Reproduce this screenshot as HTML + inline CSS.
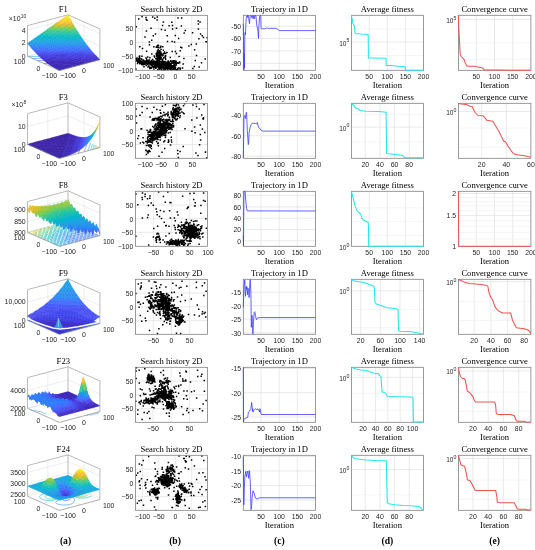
<!DOCTYPE html>
<html><head><meta charset="utf-8"><title>Figure</title>
<style>
html,body{margin:0;padding:0;background:#fff;}
body{width:535px;height:550px;overflow:hidden;}
svg{display:block;}
.S{font-family:'Liberation Sans',Arial,sans-serif;}
.R{font-family:'Liberation Serif','Times New Roman',serif;}
</style></head><body>
<svg width="535" height="550" viewBox="0 0 535 550" text-anchor="middle"><path d="M59.4 70.4L27.5 56.3M59.4 70.4L99.9 59.6M79.7 65L47.8 50.9M43.4 63.4L84 52.6M99.9 59.6L68 45.5M27.5 56.3L68 45.5M47.8 50.9L47.8 20.2M84 52.6L84 21.9M27.5 56.3L68 45.5L99.9 59.6M27.5 42.6L68 31.8L99.9 45.9M27.5 30.1L68 19.3L99.9 33.4" stroke="#e1e1e1" stroke-width="0.6" fill="none"/><path d="M27.5 56.3L27.5 25.6L68 14.8L99.9 28.9M68 45.5L68 14.8M99.9 59.6L99.9 28.9" stroke="#8a8a8a" stroke-width="0.6" fill="none"/><path d="M43.8 63.5L44.8 63.5L45.8 63.5L46.7 63.4L47.6 63.4L48.4 63.3L49.3 63.3L50.3 63.3L51.2 63.2L52.2 63.1L53.1 63.1L54.1 63L55 62.9L55.9 62.9L56.8 62.8L57.8 62.7L58.9 62.6L60 62.5L60.9 62.4L61.8 62.4L62.6 62.3L63.5 62.2L64.6 62L65.6 61.9L66.5 61.8L67.3 61.7L68.5 61.6L69.4 61.4L70.3 61.3L71.3 61.2L72.3 61L73.2 60.9L74.4 60.8L75.2 60.6L76 60.5L77.2 60.3L78 60.2L79.2 60L79.9 59.9L81.1 59.7L81.9 59.5L83.1 59.3L83.8 59.2L85 59L85.8 58.9L86.9 58.6L88 58.5L88.8 58.3L90 58.1L90.7 57.9L91.8 57.7L93 57.5L93.7 57.3L94.5 57.2" stroke="#4743e7" stroke-width="0.6" fill="none"/><path d="M37.4 60.7L38.8 60.6L39.9 60.6L41.2 60.6L42.4 60.5L43.7 60.5L44.9 60.4L46.3 60.3L47.3 60.3L48.8 60.2L49.9 60.1L51.1 60.1L52.5 60L53.7 59.9L54.9 59.8L56.2 59.7L57.6 59.6L58.8 59.5L59.8 59.4L61.2 59.2L62.5 59.1L63.8 59L65.1 58.8L66.4 58.7L67.7 58.5L69 58.4L70.3 58.2L71.5 58.1L72.8 57.9L74.1 57.7L75.3 57.6L76.5 57.4L77.8 57.2L79.2 57L80.6 56.8L81.8 56.6L83 56.4L84.2 56.3L85.8 56L87 55.8L88.2 55.6L89.6 55.4L90.1 55.3" stroke="#4367fd" stroke-width="0.6" fill="none"/><path d="M32.4 58.5L33.5 58.5L35 58.4L36 58.4L37.5 58.3L38.5 58.3L39.9 58.3L41 58.2L42.5 58.1L43.5 58.1L44.9 58L46 58L47.3 57.9L48.7 57.8L49.7 57.7L51.1 57.6L52.5 57.5L53.5 57.5L54.8 57.4L56.2 57.3L57.5 57.1L58.6 57.1L59.8 56.9L61.1 56.8L62.5 56.7L63.8 56.6L65.1 56.4L66.4 56.3L67.6 56.1L68.9 56L70.1 55.9L71.4 55.7L72.7 55.6L74 55.4L75.4 55.2L76.6 55L77.9 54.9L79.1 54.7L80.3 54.5L81.6 54.4L82.8 54.2L84.2 54L85.6 53.8L86.4 53.7" stroke="#2d8cf3" stroke-width="0.6" fill="none"/><path d="M28.3 56.6L29.3 56.6L30.6 56.6L31.9 56.6L33 56.5L34.4 56.5L35.4 56.5L36.9 56.4L37.9 56.4L39.4 56.3L40.4 56.3L41.9 56.2L43 56.1L44.3 56.1L45.7 56L46.7 55.9L48.1 55.8L49.4 55.7L50.4 55.7L51.8 55.6L53.2 55.5L54.2 55.4L55.5 55.3L56.9 55.2L58.2 55.1L59.4 55L60.5 54.9L61.8 54.7L63.2 54.6L64.5 54.5L65.8 54.3L67.1 54.2L68.4 54.1L69.7 53.9L70.9 53.8L72.2 53.6L73.4 53.5L74.7 53.3L76.1 53.1L77.3 53L78.6 52.8L79.9 52.7L81.1 52.5L82.3 52.3L83.2 52.2" stroke="#1caadf" stroke-width="0.6" fill="none"/><g stroke-width="0.4" stroke-linejoin="round"><path fill="#1bc0b4" stroke="#1bc0b4" d="M78.2 37l2.2-1.1-1.8-2.8-2.2 1.3z"/><path fill="#28c3ab" stroke="#28c3ab" d="M74.1 35.6l2.3-1.2-1.8-2.8-2.2 1.3z"/><path fill="#31c5a1" stroke="#31c5a1" d="M76.4 34.4l2.2-1.3-1.7-2.8-2.3 1.3zM70.1 34.2l2.3-1.3-1.8-2.8-2.3 1.3zM63.8 34.1l2.3-1.3-1.8-2.8-2.2 1.4z"/><path fill="#45cb89" stroke="#45cb89" d="M72.4 32.9l2.2-1.3-1.8-2.8-2.2 1.3zM66.1 32.8l2.2-1.4-1.7-2.8-2.3 1.4zM59.8 32.8l2.3-1.4-1.8-2.8-2.3 1.5z"/><path fill="#55cc7b" stroke="#55cc7b" d="M74.6 31.6l2.3-1.3-1.8-2.9-2.3 1.4zM49.5 31.8l2.3-1.5-1.8-2.8-2.2 1.6z"/><path fill="#67cd6d" stroke="#67cd6d" d="M68.3 31.4l2.3-1.3-1.8-2.9-2.2 1.4zM62.1 31.4l2.2-1.4-1.8-2.8-2.2 1.4zM55.8 31.6l2.2-1.5-1.7-2.8-2.3 1.5z"/><path fill="#7acc5e" stroke="#7acc5e" d="M70.6 30.1l2.2-1.3-1.7-3-2.3 1.4zM64.3 30l2.3-1.4-1.8-2.9-2.3 1.5zM58 30.1l2.3-1.5-1.8-2.9-2.2 1.6zM51.8 30.3l2.2-1.5-1.8-2.9-2.2 1.6z"/><path fill="#a1c840" stroke="#a1c840" d="M72.8 28.8l2.3-1.4-1.8-3-2.2 1.4zM66.6 28.6l2.2-1.4-1.8-3-2.2 1.5zM60.3 28.6l2.2-1.4-1.7-3-2.3 1.5zM54 28.8l2.3-1.5-1.8-3-2.3 1.6z"/><path fill="#d4bf28" stroke="#d4bf28" d="M68.8 27.2l2.3-1.4-1.8-3-2.3 1.4zM62.5 27.2l2.3-1.5-1.8-3-2.2 1.5zM56.3 27.3l2.2-1.6-1.7-3-2.3 1.6z"/><path fill="#efba35" stroke="#efba35" d="M71.1 25.8l2.2-1.4-1.8-3.1-2.2 1.5zM64.8 25.7l2.2-1.5-1.7-3.1-2.3 1.6zM58.5 25.7l2.3-1.5-1.8-3-2.2 1.5z"/><path fill="#fec13a" stroke="#fec13a" d="M67 24.2l2.3-1.4-1.8-3.2-2.2 1.5z"/><path fill="#fec934" stroke="#fec934" d="M60.8 24.2l2.2-1.5-1.8-3.1-2.2 1.6z"/><path fill="#fbd12f" stroke="#fbd12f" d="M69.3 22.8l2.2-1.5-1.7-3.2-2.3 1.5zM63 22.7l2.3-1.6-1.8-3.1-2.3 1.6z"/><path fill="#f8da2b" stroke="#f8da2b" d="M65.3 21.1l2.2-1.5-1.7-3.2-2.3 1.6z"/><path fill="#f5eb23" stroke="#f5eb23" d="M67.5 19.6l2.3-1.5-1.8-3.3-2.2 1.6z"/><path fill="#249fe5" stroke="#249fe5" d="M83.5 44.5l2.2-1-1.7-2.5-2.3 1.1z"/><path fill="#1fa5e2" stroke="#1fa5e2" d="M79.4 43.2l2.3-1.1-1.8-2.5-2.2 1.1z"/><path fill="#1aabdd" stroke="#1aabdd" d="M81.7 42.1l2.3-1.1-1.8-2.5-2.3 1.1zM75.4 41.8l2.3-1.1-1.8-2.5-2.2 1.2zM69.2 41.7l2.2-1.1-1.8-2.5-2.2 1.2z"/><path fill="#13b0d7" stroke="#13b0d7" d="M77.7 40.7l2.2-1.1-1.7-2.6-2.3 1.2z"/><path fill="#07b5cf" stroke="#07b5cf" d="M79.9 39.6l2.3-1.1-1.8-2.6-2.2 1.1zM71.4 40.6l2.3-1.2-1.8-2.6-2.3 1.3zM65.1 40.5l2.3-1.2-1.8-2.5-2.2 1.2z"/><path fill="#01b9c7" stroke="#01b9c7" d="M73.7 39.4l2.2-1.2-1.8-2.6-2.2 1.2zM67.4 39.3l2.2-1.2-1.7-2.6-2.3 1.3zM61.1 39.3l2.3-1.3-1.8-2.5-2.3 1.3zM50.8 38.5l2.3-1.5-1.8-2.5-2.3 1.5zM54.8 39.5l2.3-1.3-1.8-2.6-2.2 1.4z"/><path fill="#09bdbe" stroke="#09bdbe" d="M75.9 38.2l2.3-1.2-1.8-2.6-2.3 1.2zM69.6 38.1l2.3-1.3-1.8-2.6-2.2 1.3zM63.4 38l2.2-1.2-1.8-2.7-2.2 1.4zM57.1 38.2l2.2-1.4-1.7-2.6-2.3 1.4zM46.8 37.4l2.2-1.4-1.7-2.6-2.3 1.5z"/><path fill="#1bc0b4" stroke="#1bc0b4" d="M71.9 36.8l2.2-1.2-1.7-2.7-2.3 1.3zM65.6 36.8l2.3-1.3-1.8-2.7-2.3 1.3zM59.3 36.8l2.3-1.3-1.8-2.7-2.2 1.4zM53.1 37l2.2-1.4-1.8-2.6-2.2 1.5zM42.8 36.4l2.2-1.5-1.8-2.6-2.2 1.6z"/><path fill="#28c3ab" stroke="#28c3ab" d="M67.9 35.5l2.2-1.3-1.8-2.8-2.2 1.4zM61.6 35.5l2.2-1.4-1.7-2.7-2.3 1.4zM55.3 35.6l2.3-1.4-1.8-2.6-2.3 1.4zM49 36l2.3-1.5-1.8-2.7-2.2 1.6z"/><path fill="#31c5a1" stroke="#31c5a1" d="M57.6 34.2l2.2-1.4-1.8-2.7-2.2 1.5zM51.3 34.5l2.2-1.5-1.7-2.7-2.3 1.5zM45 34.9l2.3-1.5-1.8-2.7-2.3 1.6z"/><path fill="#39c895" stroke="#39c895" d="M47.3 33.4l2.2-1.6-1.7-2.7-2.3 1.6z"/><path fill="#45cb89" stroke="#45cb89" d="M53.5 33l2.3-1.4-1.8-2.8-2.2 1.5z"/><path fill="#2e84f9" stroke="#2e84f9" d="M87 49l2.3-.9-1.8-2.3-2.3 1z"/><path fill="#2d8bf4" stroke="#2d8bf4" d="M83 47.7l2.2-.9-1.7-2.3-2.3 1zM76.7 47.5l2.3-1-1.8-2.3-2.2 1.1z"/><path fill="#2b92ee" stroke="#2b92ee" d="M85.2 46.8l2.3-1-1.8-2.3-2.2 1zM79 46.5l2.2-1-1.8-2.3-2.2 1zM72.7 46.3l2.3-1-1.8-2.3-2.3 1.1z"/><path fill="#2699e9" stroke="#2699e9" d="M81.2 45.5l2.3-1-1.8-2.4-2.3 1.1zM75 45.3l2.2-1.1-1.8-2.4-2.2 1.2zM68.7 45.2l2.2-1.1-1.7-2.4-2.3 1.2zM62.4 45.2l2.3-1.1-1.8-2.4-2.3 1.3z"/><path fill="#249fe5" stroke="#249fe5" d="M77.2 44.2l2.2-1-1.7-2.5-2.3 1.1zM70.9 44.1l2.3-1.1-1.8-2.4-2.2 1.1zM64.7 44.1l2.2-1.2-1.8-2.4-2.2 1.2zM58.4 44.2l2.2-1.2-1.7-2.4-2.3 1.3z"/><path fill="#1fa5e2" stroke="#1fa5e2" d="M73.2 43l2.2-1.2-1.7-2.4-2.3 1.2zM66.9 42.9l2.3-1.2-1.8-2.4-2.3 1.2zM60.6 43l2.3-1.3-1.8-2.4-2.2 1.3zM54.4 43.2l2.2-1.3-1.8-2.4-2.2 1.4zM48.1 43.6l2.2-1.4-1.7-2.3-2.3 1.4z"/><path fill="#1aabdd" stroke="#1aabdd" d="M62.9 41.7l2.2-1.2-1.7-2.5-2.3 1.3zM56.6 41.9l2.3-1.3-1.8-2.4-2.3 1.3zM50.3 42.2l2.3-1.3-1.8-2.4-2.2 1.4zM40 41.8l2.3-1.5-1.8-2.4-2.2 1.6zM44.1 42.7l2.2-1.4-1.8-2.4-2.2 1.4z"/><path fill="#13b0d7" stroke="#13b0d7" d="M58.9 40.6l2.2-1.3-1.8-2.5-2.2 1.4zM52.6 40.9l2.2-1.4-1.7-2.5-2.3 1.5zM46.3 41.3l2.3-1.4-1.8-2.5-2.3 1.5zM36 41l2.3-1.5-1.8-2.5-2.3 1.6z"/><path fill="#07b5cf" stroke="#07b5cf" d="M48.6 39.9l2.2-1.4-1.8-2.5-2.2 1.4zM42.3 40.3l2.2-1.4-1.7-2.5-2.3 1.5z"/><path fill="#01b9c7" stroke="#01b9c7" d="M44.5 38.9l2.3-1.5-1.8-2.5-2.2 1.5zM38.3 39.5l2.2-1.6-1.7-2.4-2.3 1.5z"/><path fill="#09bdbe" stroke="#09bdbe" d="M40.5 37.9l2.3-1.5-1.8-2.5-2.2 1.6z"/><path fill="#475cfa" stroke="#475cfa" d="M90.6 53.1l2.2-.8-1.8-2.1-2.2.9z"/><path fill="#4564fd" stroke="#4564fd" d="M86.5 51.9l2.3-.8-1.8-2.1-2.2.9z"/><path fill="#416cfe" stroke="#416cfe" d="M88.8 51.1l2.2-.9-1.7-2.1-2.3.9zM80.3 51.7l2.2-.9-1.8-2.1-2.2.9z"/><path fill="#3a74fe" stroke="#3a74fe" d="M82.5 50.8l2.3-.9-1.8-2.2-2.3 1zM76.2 50.6l2.3-1-1.8-2.1-2.2 1z"/><path fill="#327cfc" stroke="#327cfc" d="M84.8 49.9l2.2-.9-1.8-2.2-2.2.9zM78.5 49.6l2.2-.9-1.7-2.2-2.3 1zM72.2 49.5l2.3-1-1.8-2.2-2.3 1.1z"/><path fill="#2e84f9" stroke="#2e84f9" d="M80.7 48.7l2.3-1-1.8-2.2-2.2 1zM74.5 48.5l2.2-1-1.7-2.2-2.3 1zM68.2 48.5l2.2-1.1-1.7-2.2-2.3 1.1zM61.9 48.5l2.3-1.1-1.8-2.2-2.2 1.2z"/><path fill="#2d8bf4" stroke="#2d8bf4" d="M70.4 47.4l2.3-1.1-1.8-2.2-2.2 1.1zM64.2 47.4l2.2-1.1-1.7-2.2-2.3 1.1zM57.9 47.6l2.3-1.2-1.8-2.2-2.3 1.2zM47.6 47.1l2.3-1.3-1.8-2.2-2.3 1.3z"/><path fill="#2b92ee" stroke="#2b92ee" d="M66.4 46.3l2.3-1.1-1.8-2.3-2.2 1.2zM60.2 46.4l2.2-1.2-1.8-2.2-2.2 1.2zM53.9 46.7l2.2-1.3-1.7-2.2-2.3 1.3zM43.6 46.3l2.2-1.4-1.7-2.2-2.3 1.4zM33.3 46.2l2.2-1.5-1.7-2.2-2.3 1.6z"/><path fill="#2699e9" stroke="#2699e9" d="M56.1 45.4l2.3-1.2-1.8-2.3-2.2 1.3zM49.9 45.8l2.2-1.3-1.8-2.3-2.2 1.4zM39.6 45.5l2.2-1.4-1.8-2.3-2.2 1.5zM29.3 45.6l2.2-1.5-1.8-2.3-2.2 1.6z"/><path fill="#249fe5" stroke="#249fe5" d="M52.1 44.5l2.3-1.3-1.8-2.3-2.3 1.3zM41.8 44.1l2.3-1.4-1.8-2.4-2.3 1.5zM45.8 44.9l2.3-1.3-1.8-2.3-2.2 1.4zM31.5 44.1l2.3-1.6-1.8-2.3-2.3 1.6zM35.5 44.7l2.3-1.4-1.8-2.3-2.2 1.5z"/><path fill="#1fa5e2" stroke="#1fa5e2" d="M37.8 43.3l2.2-1.5-1.7-2.3-2.3 1.5z"/><path fill="#1aabdd" stroke="#1aabdd" d="M33.8 42.5l2.2-1.5-1.8-2.4-2.2 1.6z"/><path fill="#463ee1" stroke="#463ee1" d="M94.1 56.8l2.3-.7-1.8-1.8-2.3.7z"/><path fill="#4745e9" stroke="#4745e9" d="M90.1 55.8l2.2-.8-1.7-1.9-2.3.8z"/><path fill="#484df0" stroke="#484df0" d="M92.3 55l2.3-.7-1.8-2-2.2.8zM86.1 54.7l2.2-.8-1.8-2-2.2.9zM79.8 54.5l2.2-.9-1.7-1.9-2.3.9z"/><path fill="#4854f6" stroke="#4854f6" d="M88.3 53.9l2.3-.8-1.8-2-2.3.8zM82 53.6l2.3-.8-1.8-2-2.2.9z"/><path fill="#475cfa" stroke="#475cfa" d="M84.3 52.8l2.2-.9-1.7-2-2.3.9zM75.8 53.5l2.2-.9-1.8-2-2.2.9z"/><path fill="#4564fd" stroke="#4564fd" d="M78 52.6l2.3-.9-1.8-2.1-2.3 1zM71.7 52.5l2.3-1-1.8-2-2.2 1zM65.5 52.5l2.2-1-1.7-2-2.3 1.1z"/><path fill="#416cfe" stroke="#416cfe" d="M74 51.5l2.2-.9-1.7-2.1-2.3 1zM67.7 51.5l2.3-1-1.8-2-2.2 1zM61.4 51.6l2.3-1-1.8-2.1-2.2 1.2z"/><path fill="#3a74fe" stroke="#3a74fe" d="M70 50.5l2.2-1-1.8-2.1-2.2 1.1zM63.7 50.6l2.3-1.1-1.8-2.1-2.3 1.1zM57.4 50.8l2.3-1.1-1.8-2.1-2.2 1.2zM47.1 50.4l2.3-1.3-1.8-2-2.2 1.2z"/><path fill="#327cfc" stroke="#327cfc" d="M66 49.5l2.2-1-1.8-2.2-2.2 1.1zM59.7 49.7l2.2-1.2-1.7-2.1-2.3 1.2zM53.4 49.9l2.3-1.1-1.8-2.1-2.3 1.2zM43.1 49.6l2.3-1.3-1.8-2-2.3 1.3zM32.8 49.7l2.3-1.4-1.8-2.1-2.3 1.5z"/><path fill="#2e84f9" stroke="#2e84f9" d="M55.7 48.8l2.2-1.2-1.8-2.2-2.2 1.3zM45.4 48.3l2.2-1.2-1.8-2.2-2.2 1.4zM49.4 49.1l2.2-1.2-1.7-2.1-2.3 1.3zM35.1 48.3l2.2-1.4-1.8-2.2-2.2 1.5zM39.1 48.9l2.2-1.3-1.7-2.1-2.3 1.4z"/><path fill="#2d8bf4" stroke="#2d8bf4" d="M51.6 47.9l2.3-1.2-1.8-2.2-2.2 1.3zM41.3 47.6l2.3-1.3-1.8-2.2-2.2 1.4zM31 47.7l2.3-1.5-1.8-2.1-2.2 1.5z"/><path fill="#2b92ee" stroke="#2b92ee" d="M37.3 46.9l2.3-1.4-1.8-2.2-2.3 1.4z"/><path fill="#4331c7" stroke="#4331c7" d="M97.6 60.2l2.3-.6-1.8-1.7-2.2.7z"/><path fill="#4537d5" stroke="#4537d5" d="M95.9 58.6l2.2-.7-1.7-1.8-2.3.7zM89.6 58.2l2.3-.7-1.8-1.7-2.3.7zM93.6 59.2l2.3-.6-1.8-1.8-2.2.7z"/><path fill="#463ee1" stroke="#463ee1" d="M87.8 56.5l2.3-.7-1.8-1.9-2.2.8zM91.9 57.5l2.2-.7-1.8-1.8-2.2.8zM81.6 56.3l2.2-.8-1.8-1.9-2.2.9zM85.6 57.2l2.2-.7-1.7-1.8-2.3.8zM79.3 57.1l2.3-.8-1.8-1.8-2.3.8z"/><path fill="#4745e9" stroke="#4745e9" d="M83.8 55.5l2.3-.8-1.8-1.9-2.3.8zM77.5 55.3l2.3-.8-1.8-1.9-2.2.9zM71.3 55.3l2.2-.9-1.8-1.9-2.2.9zM75.3 56.2l2.2-.9-1.7-1.8-2.3.9zM65 55.3l2.2-.9-1.7-1.9-2.3 1z"/><path fill="#484df0" stroke="#484df0" d="M73.5 54.4l2.3-.9-1.8-2-2.3 1zM67.2 54.4l2.3-1-1.8-1.9-2.2 1zM61 54.5l2.2-1-1.8-1.9-2.2 1.1z"/><path fill="#4854f6" stroke="#4854f6" d="M56.9 53.8l2.3-1.1-1.8-1.9-2.2 1.1zM50.7 54.1l2.2-1.1-1.7-1.9-2.3 1.2z"/><path fill="#475cfa" stroke="#475cfa" d="M69.5 53.4l2.2-.9-1.7-2-2.3 1zM63.2 53.5l2.3-1-1.8-1.9-2.3 1zM52.9 53l2.3-1.1-1.8-2-2.2 1.2zM46.7 53.5l2.2-1.2-1.8-1.9-2.2 1.2z"/><path fill="#4564fd" stroke="#4564fd" d="M59.2 52.7l2.2-1.1-1.7-1.9-2.3 1.1zM48.9 52.3l2.3-1.2-1.8-2-2.3 1.3zM38.6 52.2l2.3-1.3-1.8-2-2.3 1.4zM42.6 52.8l2.3-1.2-1.8-2-2.2 1.3z"/><path fill="#416cfe" stroke="#416cfe" d="M55.2 51.9l2.2-1.1-1.7-2-2.3 1.1zM44.9 51.6l2.2-1.2-1.7-2.1-2.3 1.3zM34.6 51.6l2.2-1.3-1.7-2-2.3 1.4z"/><path fill="#3a74fe" stroke="#3a74fe" d="M51.2 51.1l2.2-1.2-1.8-2-2.2 1.2zM36.8 50.3l2.3-1.4-1.8-2-2.2 1.4zM40.9 50.9l2.2-1.3-1.8-2-2.2 1.3z"/><path fill="#4331c7" stroke="#4331c7" d="M95.4 60.8l2.2-.6-1.7-1.6-2.3.6zM89.1 60.5l2.3-.6-1.8-1.7-2.2.7zM93.2 61.4l2.2-.6-1.8-1.6-2.2.7zM82.9 60.3l2.2-.7-1.8-1.6-2.2.7z"/><path fill="#4537d5" stroke="#4537d5" d="M87.4 58.9l2.2-.7-1.8-1.7-2.2.7zM91.4 59.9l2.2-.7-1.7-1.7-2.3.7zM81.1 58.7l2.2-.7-1.7-1.7-2.3.8zM85.1 59.6l2.3-.7-1.8-1.7-2.3.8zM74.8 58.7l2.3-.8-1.8-1.7-2.3.8zM78.8 59.5l2.3-.8-1.8-1.6-2.2.8zM68.5 58.7l2.3-.8-1.8-1.7-2.2.9z"/><path fill="#463ee1" stroke="#463ee1" d="M83.3 58l2.3-.8-1.8-1.7-2.2.8zM73 57l2.3-.8-1.8-1.8-2.2.9zM77.1 57.9l2.2-.8-1.8-1.8-2.2.9zM62.7 56.3l2.3-1-1.8-1.8-2.2 1zM66.8 57.1l2.2-.9-1.8-1.8-2.2.9zM70.8 57.9l2.2-.9-1.7-1.7-2.3.9zM56.5 56.6l2.2-1-1.8-1.8-2.2 1zM60.5 57.3l2.2-1-1.7-1.8-2.3 1.1zM46.2 56.4l2.2-1.2-1.7-1.7-2.3 1.1zM64.5 58l2.3-.9-1.8-1.8-2.3 1zM50.2 56.9l2.2-1-1.7-1.8-2.3 1.1zM54.2 57.6l2.3-1-1.8-1.8-2.3 1.1z"/><path fill="#4745e9" stroke="#4745e9" d="M69 56.2l2.3-.9-1.8-1.9-2.3 1zM58.7 55.6l2.3-1.1-1.8-1.8-2.3 1.1zM52.4 55.9l2.3-1.1-1.8-1.8-2.2 1.1zM42.2 55.8l2.2-1.2-1.8-1.8-2.2 1.2z"/><path fill="#484df0" stroke="#484df0" d="M54.7 54.8l2.2-1-1.7-1.9-2.3 1.1zM44.4 54.6l2.3-1.1-1.8-1.9-2.3 1.2zM48.4 55.2l2.3-1.1-1.8-1.8-2.2 1.2zM38.1 55.3l2.3-1.3-1.8-1.8-2.2 1.3z"/><path fill="#4854f6" stroke="#4854f6" d="M40.4 54l2.2-1.2-1.7-1.9-2.3 1.3z"/><path fill="#475cfa" stroke="#475cfa" d="M36.4 53.5l2.2-1.3-1.8-1.9-2.2 1.3z"/><path fill="#402cb8" stroke="#402cb8" d="M90.9 62l2.3-.6-1.8-1.5-2.3.6zM88.6 62.6l2.3-.6-1.8-1.5-2.2.7zM82.4 62.5l2.2-.7-1.7-1.5-2.3.7zM86.4 63.2l2.2-.6-1.7-1.4-2.3.6zM76.1 62.4l2.3-.7-1.8-1.5-2.3.8z"/><path fill="#4331c7" stroke="#4331c7" d="M86.9 61.2l2.2-.7-1.7-1.6-2.3.7zM76.6 60.2l2.2-.7-1.7-1.6-2.3.8zM80.6 61l2.3-.7-1.8-1.6-2.3.8zM84.6 61.8l2.3-.6-1.8-1.6-2.2.7zM70.3 60.3l2.3-.8-1.8-1.6-2.3.8zM74.3 61l2.3-.8-1.8-1.5-2.2.8zM78.4 61.7l2.2-.7-1.8-1.5-2.2.7zM64 60.4l2.3-.8-1.8-1.6-2.2.9zM68.1 61.1l2.2-.8-1.8-1.6-2.2.9zM72.1 61.7l2.2-.7-1.7-1.5-2.3.8zM57.8 60.7l2.2-.9-1.8-1.6-2.2 1zM61.8 61.3l2.2-.9-1.7-1.5-2.3.9zM47.5 60.6l2.2-1-1.8-1.6-2.2 1.1z"/><path fill="#4537d5" stroke="#4537d5" d="M72.6 59.5l2.2-.8-1.8-1.7-2.2.9zM62.3 58.9l2.2-.9-1.8-1.7-2.2 1zM66.3 59.6l2.2-.9-1.7-1.6-2.3.9zM52 58.6l2.2-1-1.8-1.7-2.2 1zM56 59.2l2.2-1-1.7-1.6-2.3 1zM41.7 58.6l2.2-1.1-1.7-1.7-2.3 1.2zM60 59.8l2.3-.9-1.8-1.6-2.3.9zM45.7 59.1l2.2-1.1-1.7-1.6-2.3 1.1zM49.7 59.6l2.3-1-1.8-1.7-2.3 1.1zM53.7 60.1l2.3-.9-1.8-1.6-2.2 1zM43.4 60.1l2.3-1-1.8-1.6-2.2 1.1z"/><path fill="#463ee1" stroke="#463ee1" d="M39.9 57l2.3-1.2-1.8-1.8-2.3 1.3zM58.2 58.2l2.3-.9-1.8-1.7-2.2 1zM43.9 57.5l2.3-1.1-1.8-1.8-2.2 1.2zM47.9 58l2.3-1.1-1.8-1.7-2.2 1.2z"/><path fill="#402cb8" stroke="#402cb8" d="M80.1 63.1l2.3-.6-1.8-1.5-2.2.7zM84.2 63.8l2.2-.6-1.8-1.4-2.2.7zM69.8 62.5l2.3-.8-1.8-1.4-2.2.8zM73.9 63.1l2.2-.7-1.8-1.4-2.2.7zM59.5 62.1l2.3-.8-1.8-1.5-2.2.9zM77.9 63.7l2.2-.6-1.7-1.4-2.3.7zM63.6 62.6l2.2-.7-1.8-1.5-2.2.9zM81.9 64.4l2.3-.6-1.8-1.3-2.3.6zM67.6 63.2l2.2-.7-1.7-1.4-2.3.8zM53.3 62.5l2.2-.9-1.8-1.5-2.2 1zM71.6 63.8l2.3-.7-1.8-1.4-2.3.8zM57.3 62.9l2.2-.8-1.7-1.4-2.3.9zM75.6 64.4l2.3-.7-1.8-1.3-2.2.7zM61.3 63.4l2.3-.8-1.8-1.3-2.3.8zM47 63l2.2-1-1.7-1.4-2.3 1zM79.6 65l2.3-.6-1.8-1.3-2.2.6zM65.3 64l2.3-.8-1.8-1.3-2.2.7zM51 63.4l2.3-.9-1.8-1.4-2.3.9zM69.4 64.5l2.2-.7-1.8-1.3-2.2.7zM55 63.8l2.3-.9-1.8-1.3-2.2.9zM73.4 65l2.2-.6-1.7-1.3-2.3.7zM59.1 64.2l2.2-.8-1.8-1.3-2.2.8zM77.4 65.6l2.2-.6-1.7-1.3-2.3.7zM63.1 64.7l2.2-.7-1.7-1.4-2.3.8zM48.8 64.3l2.2-.9-1.8-1.4-2.2 1zM67.1 65.2l2.3-.7-1.8-1.3-2.3.8zM52.8 64.6l2.2-.8-1.7-1.3-2.3.9zM71.1 65.7l2.3-.7-1.8-1.2-2.2.7z"/><path fill="#4331c7" stroke="#4331c7" d="M65.8 61.9l2.3-.8-1.8-1.5-2.3.8zM51.5 61.1l2.2-1-1.7-1.5-2.3 1zM55.5 61.6l2.3-.9-1.8-1.5-2.3.9zM45.2 61.6l2.3-1-1.8-1.5-2.3 1zM49.2 62l2.3-.9-1.8-1.5-2.2 1z"/><path fill="#402cb8" stroke="#402cb8" d="M56.8 65l2.3-.8-1.8-1.3-2.3.9zM75.2 66.2l2.2-.6-1.8-1.2-2.2.6zM60.8 65.5l2.3-.8-1.8-1.3-2.2.8zM64.9 65.9l2.2-.7-1.8-1.2-2.2.7zM50.5 65.5l2.3-.9-1.8-1.2-2.2.9zM68.9 66.3l2.2-.6-1.7-1.2-2.3.7zM54.6 65.8l2.2-.8-1.8-1.2-2.2.8zM72.9 66.8l2.3-.6-1.8-1.2-2.3.7zM58.6 66.2l2.2-.7-1.7-1.3-2.3.8zM62.6 66.6l2.3-.7-1.8-1.2-2.3.8zM66.6 67l2.3-.7-1.8-1.1-2.2.7zM52.3 66.6l2.3-.8-1.8-1.2-2.3.9zM70.6 67.4l2.3-.6-1.8-1.1-2.2.6zM56.3 66.9l2.3-.7-1.8-1.2-2.2.8zM60.4 67.3l2.2-.7-1.8-1.1-2.2.7zM64.4 67.6l2.2-.6-1.7-1.1-2.3.7zM68.4 68l2.2-.6-1.7-1.1-2.3.7zM54.1 67.7l2.2-.8-1.7-1.1-2.3.8zM58.1 68l2.3-.7-1.8-1.1-2.3.7zM62.1 68.3l2.3-.7-1.8-1-2.2.7zM66.1 68.6l2.3-.6-1.8-1-2.2.6zM55.9 68.7l2.2-.7-1.8-1.1-2.2.8zM59.9 68.9l2.2-.6-1.7-1-2.3.7zM63.9 69.2l2.2-.6-1.7-1-2.3.7zM57.6 69.6l2.3-.7-1.8-.9-2.2.7zM61.6 69.8l2.3-.6-1.8-.9-2.2.6zM59.4 70.4l2.2-.6-1.7-.9-2.3.7z"/></g><path d="M27.5 56.3L59.4 70.4L99.9 59.6" stroke="#8a8a8a" stroke-width="0.6" fill="none"/><text class="R" x="63.3" y="11.7" font-size="8.6" fill="#000">F1</text><text class="S" x="25.7" y="58.7" font-size="6.9" text-anchor="end" fill="#262626">0</text><text class="S" x="25.7" y="45" font-size="6.9" text-anchor="end" fill="#262626">2</text><text class="S" x="25.7" y="32.5" font-size="6.9" text-anchor="end" fill="#262626">4</text><text class="S" x="19.6" y="64.3" font-size="6.9" fill="#262626">100</text><text class="S" x="38.5" y="71" font-size="6.9" fill="#262626">0</text><text class="S" x="49.3" y="78.1" font-size="6.9" fill="#262626">−100</text><text class="S" x="68.1" y="77.7" font-size="6.9" fill="#262626">−100</text><text class="S" x="83.9" y="72.8" font-size="6.9" fill="#262626">0</text><text class="S" x="108.7" y="67.8" font-size="6.9" fill="#262626">100</text><text class="S" x="20.5" y="21.1" font-size="6.9" text-anchor="end" fill="#262626">×10</text><text class="S" x="26.3" y="18.1" font-size="4.9" text-anchor="end" fill="#262626">10</text><path d="M59.4 158.4L27.5 144.3M59.4 158.4L99.9 147.6M79.7 153L47.8 138.9M43.4 151.3L84 140.5M99.9 147.6L68 133.5M27.5 144.3L68 133.5M47.8 138.9L47.8 108.2M84 140.5L84 109.8M27.5 144.3L68 133.5L99.9 147.6M27.5 126.6L68 115.8L99.9 129.9" stroke="#e1e1e1" stroke-width="0.6" fill="none"/><path d="M27.5 144.3L27.5 113.6L68 102.8L99.9 116.9M68 133.5L68 102.8M99.9 147.6L99.9 116.9" stroke="#8a8a8a" stroke-width="0.6" fill="none"/><path d="M83 140.1L82.9 140.4L82.8 140.8L82.7 141.1L82.6 141.4L82.5 141.7L82.4 142L82.3 142.3L82.2 142.6L82.1 142.9L82 143.3L81.9 143.6L81.7 143.9L81.6 144.2L81.5 144.5L81.4 144.8L81.3 145.1L81.2 145.4L81.1 145.7L81 146L80.9 146.4L80.8 146.7L80.7 147L80.6 147.3L80.5 147.6L80.3 147.9L80.2 148.2L80.1 148.5L80 148.9L79.9 149.2L79.8 149.5L79.7 149.8L79.6 150.1L79.5 150.4L79.4 150.7L79.3 151L79.2 151.3L79.1 151.7L78.9 152L78.8 152.3L78.7 152.6L78.6 152.9L78.5 153.2L78.5 153.3" stroke="#4743e7" stroke-width="0.6" fill="none"/><path d="M87.6 142.2L87.5 142.4L87.4 142.6L87.4 142.8L87.3 143L87.2 143.2L87.1 143.4L87.1 143.6L87 143.8L86.9 144L86.9 144.2L86.8 144.4L86.7 144.6L86.6 144.9L86.6 145.1L86.5 145.3L86.4 145.5L86.4 145.7L86.3 145.9L86.2 146.1L86.1 146.3L86.1 146.5L86 146.7L85.9 146.9L85.9 147.1L85.8 147.3L85.7 147.5L85.6 147.8L85.6 148L85.5 148.2L85.4 148.4L85.4 148.6L85.3 148.8L85.2 149L85.1 149.2L85.1 149.4L85 149.6L84.9 149.8L84.9 150L84.8 150.2L84.7 150.5L84.6 150.7L84.6 150.9L84.5 151.1L84.4 151.3L84.4 151.5L84.3 151.7L84.3 151.8" stroke="#4367fd" stroke-width="0.6" fill="none"/><path d="M90.4 143.4L90.4 143.5L90.4 143.6L90.3 143.7L90.3 143.8L90.3 144L90.2 144L90.2 144.2L90.2 144.2L90.1 144.4L90.1 144.5L90 144.6L90 144.7L90 144.8L89.9 144.9L89.9 145L89.9 145.1L89.8 145.2L89.8 145.3L89.7 145.4L89.7 145.5L89.7 145.6L89.6 145.7L89.6 145.8L89.6 145.9L89.5 146L89.5 146.1L89.5 146.2L89.4 146.3L89.4 146.4L89.4 146.5L89.3 146.7L89.3 146.7L89.2 146.9L89.2 146.9L89.2 147.1L89.1 147.2L89.1 147.3L89.1 147.4L89 147.5L89 147.6L89 147.7L88.9 147.8L88.9 147.9L88.9 148L88.8 148.1L88.8 148.2L88.7 148.3L88.7 148.4L88.7 148.5L88.6 148.6L88.6 148.7L88.6 148.8L88.5 148.9L88.5 149L88.5 149.1L88.4 149.2L88.4 149.4L88.4 149.4L88.3 149.6L88.3 149.6L88.2 149.8L88.2 149.8L88.2 150L88.1 150.1L88.1 150.2L88.1 150.3L88 150.4L88 150.5L88 150.6L87.9 150.7L87.9 150.8" stroke="#2d8cf3" stroke-width="0.6" fill="none"/><path d="M92.6 144.4L92.5 144.5L92.5 144.6L92.4 144.7L92.4 144.8L92.4 144.9L92.3 145L92.3 145.1L92.3 145.2L92.2 145.3L92.2 145.4L92.2 145.5L92.1 145.6L92.1 145.7L92.1 145.8L92 145.9L92 146L91.9 146.1L91.9 146.2L91.9 146.3L91.8 146.4L91.8 146.6L91.8 146.6L91.7 146.8L91.7 146.8L91.7 147L91.6 147.1L91.6 147.2L91.6 147.3L91.5 147.4L91.5 147.5L91.4 147.6L91.4 147.7L91.4 147.8L91.3 147.9L91.3 148L91.3 148.1L91.2 148.2L91.2 148.3L91.2 148.4L91.1 148.5L91.1 148.6L91.1 148.7L91 148.8L91 148.9L90.9 149L90.9 149.1L90.9 149.3L90.8 149.3L90.8 149.5L90.8 149.5L90.7 149.7L90.7 149.8L90.7 149.9L90.6 150L90.6 150.1" stroke="#1caadf" stroke-width="0.6" fill="none"/><path d="M94.3 145.1L94.3 145.1L94.2 145.3L94.2 145.4L94.1 145.5L94.1 145.6L94.1 145.7L94 145.8L94 145.9L94 146L93.9 146.1L93.9 146.2L93.8 146.4L93.8 146.4L93.8 146.6L93.8 146.6L93.7 146.8L93.7 146.8L93.6 147L93.6 147L93.6 147.2L93.5 147.2L93.5 147.4L93.5 147.4L93.4 147.6L93.4 147.6L93.3 147.8L93.3 147.8L93.3 148L93.3 148.1L93.2 148.2L93.2 148.3L93.1 148.4L93.1 148.5L93 148.6L93 148.7L93 148.8L93 148.9L92.9 149.1L92.9 149.1L92.8 149.3L92.8 149.3L92.8 149.5L92.7 149.5" stroke="#12beb9" stroke-width="0.6" fill="none"/><path d="M95.7 145.7L95.6 145.9L95.6 146L95.6 146.1L95.6 146.2L95.5 146.3L95.5 146.4L95.4 146.5L95.4 146.6L95.4 146.7L95.3 146.8L95.3 146.9L95.3 147L95.2 147.2L95.2 147.2L95.1 147.4L95.1 147.4L95.1 147.6L95.1 147.6L95 147.8L95 147.8L94.9 148L94.9 148L94.9 148.2L94.8 148.2L94.8 148.4L94.8 148.4L94.7 148.6L94.7 148.6L94.6 148.8L94.6 148.9L94.6 149" stroke="#48cb86" stroke-width="0.6" fill="none"/><path d="M96.9 146.3L96.9 146.3L96.9 146.5L96.9 146.5L96.8 146.7L96.8 146.7L96.7 146.9L96.7 146.9L96.6 147.1L96.6 147.2L96.6 147.3L96.6 147.4L96.5 147.5L96.5 147.6L96.4 147.7L96.4 147.8L96.4 148L96.4 148L96.3 148.2L96.3 148.2L96.2 148.4L96.2 148.4L96.1 148.6L96.1 148.6" stroke="#9fc942" stroke-width="0.6" fill="none"/><path d="M98 146.8L98 146.8L98 147L98 147L97.9 147.2L97.9 147.2L97.8 147.4L97.8 147.4L97.7 147.6L97.7 147.6L97.7 147.8L97.7 147.8L97.6 148L97.6 148L97.5 148.2L97.5 148.2" stroke="#eaba31" stroke-width="0.6" fill="none"/><path d="M99 147.2L99 147.3L98.9 147.4L98.9 147.5L98.9 147.6L98.8 147.7L98.8 147.8L98.8 147.9" stroke="#fad42e" stroke-width="0.6" fill="none"/><g stroke-width="0.4" stroke-linejoin="round"><path fill="#3e26a8" stroke="#3e26a8" d="M67.6 134.6l2-.6-1.6-.6-2 .5zM65.5 135.2l2.1-.6-1.6-.7-2.1.6zM69.2 135.2l2-.6-1.6-.6-2 .6zM63.5 135.8l2-.6-1.6-.7-2 .6zM67.1 135.8l2.1-.6-1.6-.6-2.1.6zM61.5 136.3l2-.5-1.6-.7-2 .5zM65.1 136.4l2-.6-1.6-.6-2 .6zM68.7 136.5l2.1-.6-1.6-.7-2.1.6zM59.5 136.9l2-.6-1.6-.7-2 .6zM63.1 137l2-.6-1.6-.6-2 .5zM66.7 137.1l2-.6-1.6-.7-2 .6zM57.4 137.4l2.1-.5-1.6-.7-2.1.5zM61.1 137.6l2-.6-1.6-.7-2 .6zM64.7 137.7l2-.6-1.6-.7-2 .6zM68.3 137.7l2-.6-1.6-.6-2 .6zM55.4 138l2-.6-1.6-.7-2 .6zM59 138.1l2.1-.5-1.6-.7-2.1.5zM62.7 138.2l2-.5-1.6-.7-2 .6zM66.3 138.3l2-.6-1.6-.6-2 .6zM53.4 138.5l2-.5-1.6-.7-2 .5zM57 138.7l2-.6-1.6-.7-2 .6zM60.6 138.8l2.1-.6-1.6-.6-2.1.5zM64.3 138.9l2-.6-1.6-.6-2 .5zM51.4 139.1l2-.6-1.6-.7-2 .6zM67.9 139l2-.7-1.6-.6-2 .6zM55 139.2l2-.5-1.6-.7-2 .5zM58.6 139.4l2-.6-1.6-.7-2 .6zM62.2 139.5l2.1-.6-1.6-.7-2.1.6zM49.3 139.6l2.1-.5-1.6-.7-2 .5z"/><path fill="#402cb8" stroke="#402cb8" d="M70.8 135.9l2-.7-1.6-.6-2 .6zM72.4 136.4l2-.7-1.6-.5-2 .7zM70.3 137.1l2.1-.7-1.6-.5-2.1.6zM74 137l2-.8-1.6-.5-2 .7zM71.9 137.7l2.1-.7-1.6-.6-2.1.7zM75.5 137.5l2.1-.8-1.6-.5-2 .8zM69.9 138.3l2-.6-1.6-.6-2 .6zM73.5 138.2l2-.7-1.5-.5-2.1.7zM71.5 138.9l2-.7-1.6-.5-2 .6zM75.1 138.7l2-.8-1.6-.4-2 .7z"/><path fill="#4331c7" stroke="#4331c7" d="M77.1 137.9l2.1-.8-1.6-.4-2.1.8z"/><path fill="#3e26a8" stroke="#3e26a8" d="M65.9 139.6l2-.6-1.6-.7-2 .6zM53 139.8l2-.6-1.6-.7-2 .6zM56.6 139.9l2-.5-1.6-.7-2 .5zM60.2 140.1l2-.6-1.6-.7-2 .6zM47.3 140.1l2-.5-1.5-.7-2.1.5zM63.8 140.2l2.1-.6-1.6-.7-2.1.6zM50.9 140.3l2.1-.5-1.6-.7-2.1.5zM67.4 140.2l2.1-.6-1.6-.6-2 .6zM54.6 140.5l2-.6-1.6-.7-2 .6zM58.2 140.6l2-.5-1.6-.7-2 .5zM45.3 140.7l2-.6-1.6-.7-2 .6zM61.8 140.7l2-.5-1.6-.7-2 .6zM48.9 140.8l2-.5-1.6-.7-2 .5zM65.4 140.8l2-.6-1.5-.6-2.1.6zM52.5 141l2.1-.5-1.6-.7-2.1.5zM56.2 141.2l2-.6-1.6-.7-2 .6zM43.3 141.2l2-.5-1.6-.7-2 .5zM59.8 141.3l2-.6-1.6-.6-2 .5zM46.9 141.4l2-.6-1.6-.7-2 .6zM63.4 141.4l2-.6-1.6-.6-2 .5zM50.5 141.6l2-.6-1.6-.7-2 .5zM67 141.5l2-.7-1.6-.6-2 .6zM54.1 141.7l2.1-.5-1.6-.7-2.1.5zM41.2 141.8l2.1-.6-1.6-.7-2.1.6zM57.8 141.9l2-.6-1.6-.7-2 .6z"/><path fill="#402cb8" stroke="#402cb8" d="M69.5 139.6l2-.7-1.6-.6-2 .7zM73.1 139.5l2-.8-1.6-.5-2 .7zM71.1 140.2l2-.7-1.6-.6-2 .7zM74.7 140l2-.8-1.6-.5-2 .8zM69 140.8l2.1-.6-1.6-.6-2.1.6zM72.7 140.7l2-.7-1.6-.5-2 .7zM70.6 141.4l2.1-.7-1.6-.5-2.1.6z"/><path fill="#4331c7" stroke="#4331c7" d="M76.7 139.2l2-.9-1.6-.4-2 .8zM76.3 140.4l2-.9-1.6-.3-2 .8z"/><path fill="#4537d5" stroke="#4537d5" d="M78.7 138.3l2.1-1-1.6-.2-2.1.8zM80.3 138.6l2.1-1.1-1.6-.2-2.1 1zM78.3 139.5l2-.9-1.6-.3-2 .9zM79.9 139.8l2-1.1-1.6-.1-2 .9z"/><path fill="#463ee1" stroke="#463ee1" d="M81.9 138.7l2.1-1.2-1.6 0-2.1 1.1z"/><path fill="#484df0" stroke="#484df0" d="M83.5 138.7l2-1.3-1.5.1-2.1 1.2z"/><path fill="#3e26a8" stroke="#3e26a8" d="M44.9 141.9l2-.5-1.6-.7-2 .5zM61.4 142l2-.6-1.6-.7-2 .6zM48.5 142.1l2-.5-1.6-.8-2 .6zM65 142.1l2-.6-1.6-.7-2 .6zM52.1 142.3l2-.6-1.6-.7-2 .6zM39.2 142.3l2-.5-1.6-.7-2 .5zM55.7 142.4l2.1-.5-1.6-.7-2.1.5zM42.8 142.5l2.1-.6-1.6-.7-2.1.6zM59.3 142.5l2.1-.5-1.6-.7-2 .6zM46.5 142.6l2-.5-1.6-.7-2 .5zM63 142.7l2-.6-1.6-.7-2 .6zM50.1 142.8l2-.5-1.6-.7-2 .5zM37.2 142.8l2-.5-1.6-.7-2 .5zM66.6 142.7l2-.6-1.6-.6-2 .6zM53.7 143l2-.6-1.6-.7-2 .6zM40.8 143l2-.5-1.6-.7-2 .5zM57.3 143.1l2-.6-1.5-.6-2.1.5zM44.4 143.2l2.1-.6-1.6-.7-2.1.6zM60.9 143.2l2.1-.5-1.6-.7-2.1.5zM48.1 143.3l2-.5-1.6-.7-2 .5zM35.2 143.4l2-.6-1.6-.7-2 .6zM64.6 143.3l2-.6-1.6-.6-2 .6zM51.7 143.5l2-.5-1.6-.7-2 .5zM38.8 143.5l2-.5-1.6-.7-2 .5zM55.3 143.7l2-.6-1.6-.7-2 .6z"/><path fill="#402cb8" stroke="#402cb8" d="M74.3 141.2l2-.8-1.6-.4-2 .7zM68.6 142.1l2-.7-1.6-.6-2 .7zM72.2 142l2.1-.8-1.6-.5-2.1.7zM70.2 142.7l2-.7-1.6-.6-2 .7zM73.8 142.5l2.1-.8-1.6-.5-2.1.8zM68.2 143.3l2-.6-1.6-.6-2 .6z"/><path fill="#4331c7" stroke="#4331c7" d="M75.9 141.7l2-.9-1.6-.4-2 .8z"/><path fill="#4537d5" stroke="#4537d5" d="M77.9 140.8l2-1-1.6-.3-2 .9zM79.5 141.1l2-1.1-1.6-.2-2 1zM77.4 142l2.1-.9-1.6-.3-2 .9z"/><path fill="#463ee1" stroke="#463ee1" d="M81.5 140l2-1.3-1.6 0-2 1.1zM81.1 141.2l2-1.2-1.6 0-2 1.1z"/><path fill="#484df0" stroke="#484df0" d="M83.1 140l2-1.4-1.6.1-2 1.3z"/><path fill="#4854f6" stroke="#4854f6" d="M85.1 138.6l2-1.6-1.6.4-2 1.3z"/><path fill="#4564fd" stroke="#4564fd" d="M86.7 138.3l2-1.9-1.6.6-2 1.6z"/><path fill="#3e26a8" stroke="#3e26a8" d="M42.4 143.7l2-.5-1.6-.7-2 .5zM58.9 143.8l2-.6-1.6-.7-2 .6zM46 143.9l2.1-.6-1.6-.7-2.1.6zM33.1 143.9l2.1-.5-1.6-.7-2 .5zM62.5 143.9l2.1-.6-1.6-.6-2.1.5zM49.7 144l2-.5-1.6-.7-2 .5zM36.8 144.1l2-.6-1.6-.7-2 .6zM66.2 144l2-.7-1.6-.6-2 .6zM53.3 144.2l2-.5-1.6-.7-2 .5zM40.4 144.3l2-.6-1.6-.7-2 .5zM56.9 144.3l2-.5-1.6-.7-2 .6zM44 144.4l2-.5-1.6-.7-2 .5zM31.1 144.5l2-.6-1.5-.7-2.1.6zM60.5 144.5l2-.6-1.6-.7-2 .6zM47.6 144.6l2.1-.6-1.6-.7-2.1.6zM34.7 144.6l2.1-.5-1.6-.7-2.1.5zM64.1 144.6l2.1-.6-1.6-.7-2.1.6zM51.2 144.7l2.1-.5-1.6-.7-2 .5zM38.4 144.8l2-.5-1.6-.8-2 .6zM54.9 144.9l2-.6-1.6-.6-2 .5zM42 145l2-.6-1.6-.7-2 .6zM29.1 145l2-.5-1.6-.7-2 .5zM58.5 145l2-.5-1.6-.7-2 .5zM45.6 145.1l2-.5-1.6-.7-2 .5z"/><path fill="#402cb8" stroke="#402cb8" d="M71.8 143.2l2-.7-1.6-.5-2 .7zM69.8 143.9l2-.7-1.6-.5-2 .6zM73.4 143.7l2-.8-1.6-.4-2 .7zM67.8 144.6l2-.7-1.6-.6-2 .7zM71.4 144.5l2-.8-1.6-.5-2 .7z"/><path fill="#4331c7" stroke="#4331c7" d="M75.4 142.9l2-.9-1.5-.3-2.1.8z"/><path fill="#4537d5" stroke="#4537d5" d="M79 142.3l2.1-1.1-1.6-.1-2.1.9zM77 143.3l2-1-1.6-.3-2 .9z"/><path fill="#463ee1" stroke="#463ee1" d="M80.6 142.5l2.1-1.3-1.6 0-2.1 1.1z"/><path fill="#484df0" stroke="#484df0" d="M82.7 141.2l2-1.4-1.6.2-2 1.2z"/><path fill="#4854f6" stroke="#4854f6" d="M84.7 139.8l2-1.5-1.6.3-2 1.4zM84.3 141.1l2-1.6-1.6.3-2 1.4z"/><path fill="#4564fd" stroke="#4564fd" d="M86.3 139.5l2-1.8-1.6.6-2 1.5z"/><path fill="#3a74fe" stroke="#3a74fe" d="M88.3 137.7l2-2.1-1.6.8-2 1.9zM87.9 138.9l2-2.1-1.6.9-2 1.8z"/><path fill="#2d8bf4" stroke="#2d8bf4" d="M89.9 136.8l2-2.4-1.6 1.2-2 2.1z"/><path fill="#3e26a8" stroke="#3e26a8" d="M32.7 145.2l2-.6-1.6-.7-2 .6zM62.1 145.1l2-.5-1.6-.7-2 .6zM49.2 145.3l2-.6-1.5-.7-2.1.6zM36.3 145.3l2.1-.5-1.6-.7-2.1.5zM65.7 145.2l2.1-.6-1.6-.6-2.1.6zM52.8 145.4l2.1-.5-1.6-.7-2.1.5zM40 145.5l2-.5-1.6-.7-2 .5zM56.5 145.6l2-.6-1.6-.7-2 .6zM43.6 145.7l2-.6-1.6-.7-2 .6zM30.7 145.7l2-.5-1.6-.7-2 .5zM60.1 145.7l2-.6-1.6-.6-2 .5zM47.2 145.8l2-.5-1.6-.7-2 .5zM34.3 145.9l2-.6-1.6-.7-2 .6zM63.7 145.8l2-.6-1.6-.6-2 .5zM50.8 146l2-.6-1.6-.7-2 .6zM37.9 146l2.1-.5-1.6-.7-2.1.5zM54.4 146.1l2.1-.5-1.6-.7-2.1.5zM41.6 146.2l2-.5-1.6-.7-2 .5zM58.1 146.3l2-.6-1.6-.7-2 .6zM45.2 146.4l2-.6-1.6-.7-2 .6zM32.3 146.4l2-.5-1.6-.7-2 .5zM61.7 146.4l2-.6-1.6-.7-2 .6zM48.8 146.5l2-.5-1.6-.7-2 .5z"/><path fill="#402cb8" stroke="#402cb8" d="M69.3 145.2l2.1-.7-1.6-.6-2 .7zM73 145l2-.8-1.6-.5-2 .8zM67.3 145.8l2-.6-1.5-.6-2.1.6zM70.9 145.7l2.1-.7-1.6-.5-2.1.7z"/><path fill="#4331c7" stroke="#4331c7" d="M75 144.2l2-.9-1.6-.4-2 .8zM74.6 145.4l2-.9-1.6-.3-2 .8z"/><path fill="#4537d5" stroke="#4537d5" d="M78.6 143.5l2-1-1.6-.2-2 1zM76.6 144.5l2-1-1.6-.2-2 .9z"/><path fill="#463ee1" stroke="#463ee1" d="M80.2 143.7l2-1.2-1.6 0-2 1z"/><path fill="#484df0" stroke="#484df0" d="M82.2 142.5l2.1-1.4-1.6.1-2.1 1.3z"/><path fill="#4854f6" stroke="#4854f6" d="M83.8 142.3l2.1-1.6-1.6.4-2.1 1.4z"/><path fill="#4564fd" stroke="#4564fd" d="M85.9 140.7l2-1.8-1.6.6-2 1.6z"/><path fill="#3a74fe" stroke="#3a74fe" d="M87.4 140.2l2.1-2.1-1.6.8-2 1.8z"/><path fill="#2d8bf4" stroke="#2d8bf4" d="M89.5 138.1l2-2.5-1.6 1.2-2 2.1z"/><path fill="#249fe5" stroke="#249fe5" d="M91.5 135.6l2-2.8-1.6 1.6-2 2.4zM91.1 136.9l2-2.9-1.6 1.6-2 2.5z"/><path fill="#01b9c7" stroke="#01b9c7" d="M93.1 134l2-3.2-1.6 2-2 2.8z"/><path fill="#3e26a8" stroke="#3e26a8" d="M35.9 146.6l2-.6-1.6-.7-2 .6zM65.3 146.4l2-.6-1.6-.6-2 .6zM52.4 146.7l2-.6-1.6-.7-2 .6zM39.5 146.7l2.1-.5-1.6-.7-2.1.5zM56 146.8l2.1-.5-1.6-.7-2.1.5zM43.1 146.9l2.1-.5-1.6-.7-2 .5zM59.6 147l2.1-.6-1.6-.7-2 .6zM46.8 147.1l2-.6-1.6-.7-2 .6zM33.9 147.1l2-.5-1.6-.7-2 .5zM63.3 147l2-.6-1.6-.6-2 .6zM50.4 147.2l2-.5-1.6-.7-2 .5zM37.5 147.3l2-.6-1.6-.7-2 .6zM54 147.4l2-.6-1.6-.7-2 .6zM41.1 147.4l2-.5-1.5-.7-2.1.5zM57.6 147.5l2-.5-1.5-.7-2.1.5zM44.7 147.6l2.1-.5-1.6-.7-2.1.5zM61.2 147.6l2.1-.6-1.6-.6-2.1.6zM48.4 147.8l2-.6-1.6-.7-2 .6zM35.5 147.8l2-.5-1.6-.7-2 .5zM64.9 147.7l2-.6-1.6-.7-2 .6zM52 147.9l2-.5-1.6-.7-2 .5z"/><path fill="#402cb8" stroke="#402cb8" d="M68.9 146.4l2-.7-1.6-.5-2 .6zM72.5 146.2l2.1-.8-1.6-.4-2.1.7zM66.9 147.1l2-.7-1.6-.6-2 .6zM70.5 147l2-.8-1.6-.5-2 .7z"/><path fill="#4331c7" stroke="#4331c7" d="M74.1 146.6l2.1-.8-1.6-.4-2.1.8z"/><path fill="#4537d5" stroke="#4537d5" d="M78.2 144.8l2-1.1-1.6-.2-2 1zM76.2 145.8l2-1-1.6-.3-2 .9zM77.8 146l2-1.1-1.6-.1-2 1z"/><path fill="#463ee1" stroke="#463ee1" d="M79.8 144.9l2-1.2-1.6 0-2 1.1z"/><path fill="#484df0" stroke="#484df0" d="M81.8 143.7l2-1.4-1.6.2-2 1.2z"/><path fill="#4854f6" stroke="#4854f6" d="M83.4 143.6l2-1.6-1.6.3-2 1.4z"/><path fill="#4564fd" stroke="#4564fd" d="M85.4 142l2-1.8-1.5.5-2.1 1.6z"/><path fill="#3a74fe" stroke="#3a74fe" d="M87 141.4l2-2.1-1.6.9-2 1.8z"/><path fill="#2d8bf4" stroke="#2d8bf4" d="M89 139.3l2.1-2.4-1.6 1.2-2.1 2.1z"/><path fill="#249fe5" stroke="#249fe5" d="M90.6 138.1l2.1-2.8-1.6 1.6-2.1 2.4z"/><path fill="#01b9c7" stroke="#01b9c7" d="M92.7 135.3l2-3.3-1.6 2-2 2.9z"/><path fill="#31c5a1" stroke="#31c5a1" d="M94.7 132l2-3.8-1.6 2.6-2 3.2zM94.3 133.3l2-3.8-1.6 2.5-2 3.3z"/><path fill="#8ecb4f" stroke="#8ecb4f" d="M96.3 129.5l2-4.4-1.6 3.1-2 3.8z"/><path fill="#3e26a8" stroke="#3e26a8" d="M39.1 148l2-.6-1.6-.7-2 .6zM55.6 148.1l2-.6-1.6-.7-2 .6zM42.7 148.2l2-.6-1.6-.7-2 .5zM59.2 148.2l2-.6-1.6-.6-2 .5zM46.3 148.3l2.1-.5-1.6-.7-2.1.5zM62.8 148.3l2.1-.6-1.6-.7-2.1.6zM50 148.5l2-.6-1.6-.7-2 .6zM37.1 148.5l2-.5-1.6-.7-2 .5zM53.6 148.6l2-.5-1.6-.7-2 .5zM40.7 148.7l2-.5-1.6-.8-2 .6zM57.2 148.8l2-.6-1.6-.7-2 .6zM44.3 148.9l2-.6-1.6-.7-2 .6zM60.8 148.9l2-.6-1.6-.7-2 .6zM47.9 149l2.1-.5-1.6-.7-2.1.5zM64.4 148.9l2.1-.6-1.6-.6-2.1.6zM51.6 149.2l2-.6-1.6-.7-2 .6zM38.7 149.2l2-.5-1.6-.7-2 .5zM55.2 149.3l2-.5-1.6-.7-2 .5zM42.3 149.4l2-.5-1.6-.7-2 .5z"/><path fill="#402cb8" stroke="#402cb8" d="M68.5 147.6l2-.6-1.6-.6-2 .7zM72.1 147.5l2-.9-1.6-.4-2 .8zM66.5 148.3l2-.7-1.6-.5-2 .6zM70.1 148.2l2-.7-1.6-.5-2 .6zM68.1 148.9l2-.7-1.6-.6-2 .7z"/><path fill="#4331c7" stroke="#4331c7" d="M73.7 147.9l2-.9-1.6-.4-2 .9z"/><path fill="#4537d5" stroke="#4537d5" d="M75.7 147l2.1-1-1.6-.2-2.1.8zM77.3 147.3l2-1.1-1.5-.2-2.1 1z"/><path fill="#463ee1" stroke="#463ee1" d="M79.3 146.2l2.1-1.2-1.6-.1-2 1.1z"/><path fill="#484df0" stroke="#484df0" d="M81.4 145l2-1.4-1.6.1-2 1.2zM80.9 146.2l2.1-1.4-1.6.2-2.1 1.2z"/><path fill="#4854f6" stroke="#4854f6" d="M83 144.8l2-1.6-1.6.4-2 1.4z"/><path fill="#4564fd" stroke="#4564fd" d="M85 143.2l2-1.8-1.6.6-2 1.6zM84.6 144.5l2-1.8-1.6.5-2 1.6z"/><path fill="#3a74fe" stroke="#3a74fe" d="M86.6 142.7l2-2.2-1.6.9-2 1.8z"/><path fill="#2d8bf4" stroke="#2d8bf4" d="M88.6 140.5l2-2.4-1.6 1.2-2 2.1z"/><path fill="#249fe5" stroke="#249fe5" d="M90.2 139.4l2-2.9-1.6 1.6-2 2.4z"/><path fill="#01b9c7" stroke="#01b9c7" d="M92.2 136.5l2.1-3.2-1.6 2-2.1 2.8z"/><path fill="#31c5a1" stroke="#31c5a1" d="M93.8 134.5l2-3.8-1.5 2.6-2.1 3.2z"/><path fill="#8ecb4f" stroke="#8ecb4f" d="M95.8 130.7l2.1-4.4-1.6 3.2-2 3.8z"/><path fill="#fabb3d" stroke="#fabb3d" d="M97.9 126.3l2-5.1-1.6 3.9-2 4.4z"/><path fill="#3e26a8" stroke="#3e26a8" d="M58.8 149.5l2-.6-1.6-.7-2 .6zM45.9 149.6l2-.6-1.6-.7-2 .6zM62.4 149.5l2-.6-1.6-.6-2 .6zM49.5 149.7l2.1-.5-1.6-.7-2.1.5zM53.1 149.9l2.1-.6-1.6-.7-2 .6zM40.3 149.9l2-.5-1.6-.7-2 .5zM56.8 150l2-.5-1.6-.7-2 .5zM43.9 150.1l2-.5-1.6-.7-2 .5zM60.4 150.1l2-.6-1.6-.6-2 .6zM47.5 150.3l2-.6-1.6-.7-2 .6zM64 150.2l2-.6-1.6-.7-2 .6zM51.1 150.4l2-.5-1.5-.7-2.1.5zM54.7 150.6l2.1-.6-1.6-.7-2.1.6zM41.9 150.6l2-.5-1.6-.7-2 .5zM58.4 150.7l2-.6-1.6-.6-2 .5zM45.5 150.8l2-.5-1.6-.7-2 .5zM62 150.8l2-.6-1.6-.7-2 .6zM49.1 151l2-.6-1.6-.7-2 .6zM52.7 151.1l2-.5-1.6-.7-2 .5z"/><path fill="#402cb8" stroke="#402cb8" d="M71.7 148.7l2-.8-1.6-.4-2 .7zM66 149.6l2.1-.7-1.6-.6-2.1.6zM69.6 149.4l2.1-.7-1.6-.5-2 .7zM67.6 150.1l2-.7-1.5-.5-2.1.7zM71.2 149.9l2.1-.8-1.6-.4-2.1.7zM65.6 150.8l2-.7-1.6-.5-2 .6z"/><path fill="#4331c7" stroke="#4331c7" d="M73.3 149.1l2-.8-1.6-.4-2 .8z"/><path fill="#4537d5" stroke="#4537d5" d="M75.3 148.3l2-1-1.6-.3-2 .9zM76.9 148.5l2-1.1-1.6-.1-2 1zM74.9 149.5l2-1-1.6-.2-2 .8z"/><path fill="#463ee1" stroke="#463ee1" d="M78.9 147.4l2-1.2-1.6 0-2 1.1zM78.5 148.7l2-1.2-1.6-.1-2 1.1z"/><path fill="#484df0" stroke="#484df0" d="M80.5 147.5l2-1.4-1.6.1-2 1.2z"/><path fill="#4854f6" stroke="#4854f6" d="M82.5 146.1l2.1-1.6-1.6.3-2.1 1.4zM82.1 147.3l2-1.6-1.6.4-2 1.4z"/><path fill="#4564fd" stroke="#4564fd" d="M84.1 145.7l2.1-1.8-1.6.6-2.1 1.6z"/><path fill="#3a74fe" stroke="#3a74fe" d="M86.2 143.9l2-2.1-1.6.9-2 1.8z"/><path fill="#2d8bf4" stroke="#2d8bf4" d="M88.2 141.8l2-2.4-1.6 1.1-2 2.2zM87.8 143l2-2.4-1.6 1.2-2 2.1z"/><path fill="#249fe5" stroke="#249fe5" d="M89.8 140.6l2-2.8-1.6 1.6-2 2.4z"/><path fill="#01b9c7" stroke="#01b9c7" d="M91.8 137.8l2-3.3-1.6 2-2 2.9z"/><path fill="#3e26a8" stroke="#3e26a8" d="M56.3 151.3l2.1-.6-1.6-.7-2.1.6zM43.4 151.3l2.1-.5-1.6-.7-2 .5zM60 151.4l2-.6-1.6-.7-2 .6zM47.1 151.5l2-.5-1.6-.7-2 .5zM63.6 151.4l2-.6-1.6-.6-2 .6zM50.7 151.7l2-.6-1.6-.7-2 .6zM54.3 151.8l2-.5-1.6-.7-2 .5zM57.9 151.9l2.1-.5-1.6-.7-2.1.6zM45 152.1l2.1-.6-1.6-.7-2.1.5zM61.6 152l2-.6-1.6-.6-2 .6zM48.7 152.2l2-.5-1.6-.7-2 .5zM52.3 152.4l2-.6-1.6-.7-2 .6zM55.9 152.5l2-.6-1.6-.6-2 .5zM59.5 152.6l2.1-.6-1.6-.6-2.1.5zM46.6 152.8l2.1-.6-1.6-.7-2.1.6zM63.1 152.7l2.1-.7-1.6-.6-2 .6zM50.3 152.9l2-.5-1.6-.7-2 .5zM53.9 153.1l2-.6-1.6-.7-2 .6zM57.5 153.2l2-.6-1.6-.7-2 .6zM61.1 153.3l2-.6-1.5-.7-2.1.6zM48.2 153.5l2.1-.6-1.6-.7-2.1.6z"/><path fill="#402cb8" stroke="#402cb8" d="M69.2 150.7l2-.8-1.6-.5-2 .7zM67.2 151.4l2-.7-1.6-.6-2 .7zM70.8 151.2l2-.8-1.6-.5-2 .8zM65.2 152l2-.6-1.6-.6-2 .6zM68.8 151.9l2-.7-1.6-.5-2 .7zM66.8 152.6l2-.7-1.6-.5-2 .6zM70.4 152.4l2-.8-1.6-.4-2 .7z"/><path fill="#4331c7" stroke="#4331c7" d="M72.8 150.4l2.1-.9-1.6-.4-2.1.8zM72.4 151.6l2-.9-1.6-.3-2 .8z"/><path fill="#4537d5" stroke="#4537d5" d="M76.5 149.8l2-1.1-1.6-.2-2 1zM74.4 150.7l2.1-.9-1.6-.3-2.1.9zM76 151l2.1-1.1-1.6-.1-2.1.9zM74 152l2-1-1.6-.3-2 .9z"/><path fill="#463ee1" stroke="#463ee1" d="M78.1 149.9l2-1.2-1.6 0-2 1.1z"/><path fill="#484df0" stroke="#484df0" d="M80.1 148.7l2-1.4-1.6.2-2 1.2zM79.6 149.9l2.1-1.3-1.6.1-2 1.2z"/><path fill="#4854f6" stroke="#4854f6" d="M81.7 148.6l2-1.6-1.6.3-2 1.4z"/><path fill="#4564fd" stroke="#4564fd" d="M83.7 147l2-1.9-1.6.6-2 1.6z"/><path fill="#3a74fe" stroke="#3a74fe" d="M85.7 145.1l2.1-2.1-1.6.9-2.1 1.8z"/><path fill="#3e26a8" stroke="#3e26a8" d="M51.9 153.6l2-.5-1.6-.7-2 .5zM55.5 153.8l2-.6-1.6-.7-2 .6zM59.1 153.9l2-.6-1.6-.7-2 .6zM62.7 153.9l2-.6-1.6-.6-2 .6zM49.8 154.2l2.1-.6-1.6-.7-2.1.6zM53.4 154.3l2.1-.5-1.6-.7-2 .5zM57.1 154.4l2-.5-1.6-.7-2 .6zM60.7 154.5l2-.6-1.6-.6-2 .6zM51.4 154.9l2-.6-1.5-.7-2.1.6zM55 155l2.1-.6-1.6-.6-2.1.5zM58.7 155.1l2-.6-1.6-.6-2 .5zM62.3 155.2l2-.7-1.6-.6-2 .6zM53 155.6l2-.6-1.6-.7-2 .6zM56.6 155.7l2.1-.6-1.6-.7-2.1.6zM60.3 155.8l2-.6-1.6-.7-2 .6zM54.6 156.2l2-.5-1.6-.7-2 .6zM58.2 156.4l2.1-.6-1.6-.7-2.1.6zM61.9 156.4l2-.6-1.6-.6-2 .6zM56.2 156.9l2-.5-1.6-.7-2 .5zM59.8 157l2.1-.6-1.6-.6-2.1.6zM57.8 157.6l2-.6-1.6-.6-2 .5zM61.4 157.6l2-.6-1.5-.6-2.1.6zM59.4 158.3l2-.7-1.6-.6-2 .6z"/><path fill="#402cb8" stroke="#402cb8" d="M64.7 153.3l2.1-.7-1.6-.6-2.1.7zM68.4 153.2l2-.8-1.6-.5-2 .7zM66.3 153.9l2.1-.7-1.6-.6-2.1.7zM70 153.7l2-.8-1.6-.5-2 .8zM64.3 154.5l2-.6-1.6-.6-2 .6zM67.9 154.4l2.1-.7-1.6-.5-2.1.7zM65.9 155.1l2-.7-1.6-.5-2 .6zM69.5 154.9l2.1-.8-1.6-.4-2.1.7zM63.9 155.8l2-.7-1.6-.6-2 .7zM67.5 155.7l2-.8-1.6-.5-2 .7zM65.5 156.4l2-.7-1.6-.6-2 .7zM63.4 157l2.1-.6-1.6-.6-2 .6z"/><path fill="#4331c7" stroke="#4331c7" d="M72 152.9l2-.9-1.6-.4-2 .8zM71.6 154.1l2-.9-1.6-.3-2 .8z"/><path fill="#4537d5" stroke="#4537d5" d="M75.6 152.3l2-1.1-1.6-.2-2 1zM73.6 153.2l2-.9-1.6-.3-2 .9z"/><path fill="#463ee1" stroke="#463ee1" d="M77.6 151.2l2-1.3-1.5 0-2.1 1.1z"/></g><path d="M27.5 144.3L59.4 158.4L99.9 147.6" stroke="#8a8a8a" stroke-width="0.6" fill="none"/><text class="R" x="63.3" y="99.7" font-size="8.6" fill="#000">F3</text><text class="S" x="25.7" y="146.7" font-size="6.9" text-anchor="end" fill="#262626">0</text><text class="S" x="25.7" y="129" font-size="6.9" text-anchor="end" fill="#262626">10</text><text class="S" x="19.6" y="152.3" font-size="6.9" fill="#262626">100</text><text class="S" x="38.5" y="159" font-size="6.9" fill="#262626">0</text><text class="S" x="49.3" y="166.1" font-size="6.9" fill="#262626">−100</text><text class="S" x="68.1" y="165.7" font-size="6.9" fill="#262626">−100</text><text class="S" x="83.9" y="160.8" font-size="6.9" fill="#262626">0</text><text class="S" x="108.7" y="155.8" font-size="6.9" fill="#262626">100</text><text class="S" x="23.2" y="107.3" font-size="6.9" text-anchor="end" fill="#262626">×10</text><text class="S" x="26.3" y="104.3" font-size="4.9" text-anchor="end" fill="#262626">8</text><path d="M59.4 246.4L27.5 232.3M59.4 246.4L99.9 235.6M79.7 241L47.8 226.9M43.4 239.3L84 228.5M99.9 235.6L68 221.5M27.5 232.3L68 221.5M47.8 226.9L47.8 196.2M84 228.5L84 197.8M27.5 232.3L68 221.5L99.9 235.6M27.5 221.6L68 210.8L99.9 224.9M27.5 209.9L68 199.1L99.9 213.2" stroke="#e1e1e1" stroke-width="0.6" fill="none"/><path d="M27.5 232.3L27.5 201.6L68 190.8L99.9 204.9M68 221.5L68 190.8M99.9 235.6L99.9 204.9" stroke="#8a8a8a" stroke-width="0.6" fill="none"/><path d="M68 244.1L68 244.1L68 244.1M71.4 243.2L71.2 243L71.3 242.9L71.6 242.8L71.8 242.8L72.5 242.9L72.6 242.9M75.1 242.2L75 242.2L74.9 242L75 241.8L75.5 241.7L76.2 241.6L76.3 241.7L76.8 241.8M78.8 241.2L78.6 241L78.7 240.9L78.9 240.7L79.4 240.5L80.2 240.5L80.3 240.5L80.9 240.7M82.7 240.2L82.5 240L82.5 239.8L82.7 239.6L82.8 239.5L83.3 239.5L83.4 239.4L84.3 239.5L84.3 239.5L85 239.6M86.6 239.2L86.5 239L86.4 238.9L86.5 238.6L86.6 238.6L86.8 238.4L87.3 238.4L87.5 238.4L88.3 238.4L88.5 238.4L88.9 238.5M90.5 238.1L90.4 237.9L90.4 237.8L90.5 237.5L90.6 237.5L90.9 237.4L91.2 237.4L91.7 237.3L92.2 237.4L92.8 237.5M94.6 237L94.4 236.8L94.4 236.8L94.6 236.5L95.1 236.3L95.9 236.3L96.1 236.3L96.7 236.5M98.7 235.9L98.5 235.7L98.5 235.7L98.7 235.4L99.3 235.3M97.4 234.5L96.9 234.6L96.1 234.6L96.1 234.6L95.6 234.5L95.5 234.4L95.5 234.2L95.7 234.1L96.2 234M94.2 233.1L93.7 233.2L92.9 233.2L92.6 233.1L92.5 233.1L92.5 233L92.6 232.7L93.2 232.6M90.9 231.6L90.4 231.8L89.9 231.8L89.6 231.6L89.7 231.4L90.3 231.3M77.3 240L77.2 240L76.5 240L76.2 239.9L75.7 239.8L75.6 239.6L75.6 239.5L75.8 239.3L76.3 239.2L77 239.2L77.2 239.2L77.7 239.3L78 239.5L77.9 239.5L77.8 239.8L77.8 239.8L77.3 240M81.5 238.9L81 239L80.7 239L80.1 238.9L79.5 238.8L79.4 238.5L79.5 238.4L79.7 238.2L80.3 238.1L81 238.1L81.3 238.1L81.7 238.2L82 238.4L82 238.4L81.9 238.7L81.9 238.8L81.5 238.9M84.9 237.9L84.8 237.9L84 237.9L83.9 237.9L83.4 237.7L83.4 237.6L83.3 237.5L83.4 237.3L83.8 237.1L84.4 237L85 237L85.4 237.1L85.7 237.1L85.9 237.3L86 237.3L85.9 237.6L85.9 237.7L85.5 237.9L84.9 237.9M89 236.9L88.8 236.9L88.1 236.8L87.9 236.8L87.4 236.7L87.3 236.5L87.3 236.4L87.4 236.2L87.8 236L88.6 236L88.9 236L89.6 236.1L89.9 236.3L89.8 236.5L89.7 236.6L89.6 236.8L89 236.9M93 235.8L92.9 235.8L92.1 235.7L92 235.7L91.4 235.6L91.4 235.4L91.4 235.3L91.5 235.1L92 235L92.8 235L92.8 235L93.4 235.1L93.7 235.3L93.7 235.4L93.5 235.6L93.5 235.6L93 235.8M69.4 241.8L68.8 241.9L68.8 241.9L68.2 241.8L68.2 241.7L68.5 241.5L69.4 241.5L69.5 241.7L69.4 241.8M73.1 241L72.4 240.9L71.9 240.8L71.8 240.5L71.9 240.4L72.4 240.3L72.8 240.3L73.2 240.3L73.6 240.4L73.8 240.6L73.8 240.6L73.6 240.8L73.1 241M74.1 238.6L74 238.6L73.3 238.5L73.1 238.5L72.6 238.4L72.6 238.2L72.7 238.1L72.8 238L73.3 237.8L73.5 237.8L74.2 237.9L74.4 237.9L74.7 238.1L74.7 238.1L74.6 238.4L74.6 238.4L74.1 238.6M78.3 237.5L77.8 237.5L77.5 237.6L76.9 237.5L76.5 237.3L76.4 237.1L76.4 237.1L76.7 236.8L77.3 236.7L77.6 236.7L78.3 236.8L78.4 236.8L78.8 237L78.8 237L78.7 237.3L78.7 237.3L78.3 237.5M81.7 236.5L81.6 236.5L80.8 236.5L80.4 236.3L80.3 236L80.4 235.9L80.7 235.7L81.4 235.7L81.6 235.7L82.4 235.8L82.7 235.9L82.7 236.2L82.7 236.3L82.4 236.5L81.7 236.5M85.8 235.5L85.6 235.5L84.8 235.4L84.8 235.4L84.3 235.2L84.3 235.2L84.3 234.9L84.4 234.8L84.8 234.7L85.5 234.6L85.5 234.6L86.3 234.7L86.6 234.9L86.6 235.1L86.6 235.2L86.4 235.4L85.8 235.5M89.8 234.4L89.7 234.4L88.9 234.3L88.8 234.3L88.4 234.1L88.4 234.1L88.4 233.9L88.5 233.8L89 233.6L89.3 233.6L89.8 233.7L90.1 233.7L90.5 233.9L90.5 234L90.4 234.2L90.3 234.2L89.8 234.4M66.2 240.4L65.7 240.5L65.2 240.3L65.5 240.1L65.9 240.1L66.3 240.3L66.2 240.4M69.9 239.6L69.3 239.5L68.9 239.4L68.9 239.1L69.3 239L70.2 239L70.2 239L70.3 239L70.6 239.2L70.4 239.4L69.9 239.6M70.9 237.1L70.9 237.1L70 237.1L69.7 236.9L69.8 236.6L70.3 236.5L70.9 236.5L71.4 236.7L71.4 237L71 237.1L70.9 237.1M75 236.1L74.7 236.1L74.2 236.1L73.8 236.1L73.5 235.9L73.5 235.8L73.7 235.5L74.4 235.4L75 235.5L75.4 235.6L75.5 235.9L75.4 235.9L75 236.1M79.1 235L78.5 235.1L78.4 235.1L77.8 235L77.4 234.8L77.4 234.6L77.7 234.5L77.8 234.4L77.9 234.4L78.4 234.4L79 234.4L79.4 234.6L79.5 234.8L79.4 234.8L79.1 235M82.5 234L82.5 234L81.7 233.9L81.4 233.8L81.4 233.5L81.8 233.4L82.6 233.3L82.9 233.4L83.3 233.5L83.4 233.7L83.3 233.8L83.1 233.9L82.5 234M87.1 232.8L87 232.8L86.5 232.9L85.8 232.9L85.4 232.7L85.5 232.5L86 232.3L86.7 232.3L87.2 232.5L87.1 232.8L87.1 232.8M66.6 238.1L66.3 238.1L65.9 237.9L66 237.8L66.4 237.7L66.7 237.7L67.2 237.8L67.2 238L66.6 238.1M75.8 233.6L75.7 233.6L75 233.6L74.8 233.5L74.6 233.4L74.6 233.3L74.8 233.1L75.4 233.1L75.6 233.1L76 233.2L76 233.3L75.9 233.5L75.8 233.6M67.5 235.6L67.1 235.6L66.9 235.4L67.5 235.3L67.9 235.4L67.9 235.5L67.5 235.6M71.7 234.6L70.9 234.6L70.7 234.3L70.8 234.2L71.4 234.1L71.4 234.1L72 234.3L72.1 234.4L71.7 234.6M79.1 232.5L78.8 232.5L78.5 232.3L78.5 232.3L78.9 232.1L79.3 232.1L79.9 232.2L79.8 232.5L79.1 232.5M83.1 231.4L82.9 231.4L82.7 231.2L83.1 231L83.7 231.2L83.7 231.3L83.1 231.4M72.2 232L72.2 232L72.2 232L72.2 232L72.2 232" stroke="#4755f6" stroke-width="0.5" fill="none"/><path d="M59.6 246.3L59.5 246.1L59.5 246.1L60 246L60 246L60.7 246.1M63.1 245.4L62.9 245.2L62.9 245.1L63.2 244.8L63.8 244.7L64.5 244.8L64.6 244.8L65.2 244.9M66.7 244.5L66.5 244.2L66.5 244.2L66.6 243.9L66.6 243.8L66.9 243.6L67.6 243.5L67.9 243.6L68.4 243.6L68.9 243.6L69.5 243.7L69.6 243.7M70.2 243.5L70.2 242.6L67.8 242.2L67.2 241.5L68.8 241.1L70.8 240.7L69.9 239.9L67.6 240L66.5 240.9L64.1 240.6L64.6 239.7L67.7 239.7L67.6 238.6L64.8 238.2L65.5 237.3L68.5 237.2L68.4 236.1L65.7 235.7L66.6 234.9L69.3 235L69.3 236L71.2 236.2L72.6 235.4L70.4 235L69.6 234.3L71.5 233.8L73.4 233.6L74.7 232.7L77.4 232.8L77.7 231.9L80.5 231.7L81 232.4L82.7 233L84.5 232.4L83.3 231.8L81.5 231.4L82.3 230.7L84.9 231.1L86 232L88.5 231.6L89.3 230.9M88.6 230.6L88.1 230.8L87.4 230.7L87.3 230.7L86.5 230.7L86.3 230.7L85.7 230.6L85.5 230.4L85.6 230.3L85.6 230.1L85.7 230L85.9 229.8L86.5 229.7M85.2 229.1L84.7 229.3L84.5 229.3L83.9 229.3L83.5 229.2L82.9 229.1L82.7 228.9L82.8 228.8L83 228.5L83.6 228.4M81.8 227.6L81.3 227.7L80.7 227.7L80.3 227.6L80.1 227.6L80.1 227.6L80.2 227.3L80.2 227.3L80.8 227.1M73.7 242.3L73.7 242.3L73.9 242L73.9 242L74 241.7L74 241.7L73.8 241.4L73.1 241.3L73.1 241.3L72.2 241.3L72.1 241.3L71.3 241.3L70.8 241.4L70.7 241.7L70.7 241.7L70.6 242L70.6 242L70.5 242.3L71.2 242.4L71.4 242.4L72.2 242.4L72.3 242.4L73.2 242.4L73.5 242.3L73.7 242.3M77.1 241.3L77.5 241.1L77.7 241L77.7 240.9L77.8 240.7L77.5 240.4L76.9 240.3L76.4 240.3L76 240.3L75.6 240.3L75 240.4L74.9 240.6L74.8 240.7L74.8 240.9L74.8 241L74.9 241.1L75.3 241.2L75.5 241.3L76.3 241.3L76.4 241.3L77.1 241.3M81 240.2L81.5 240L81.5 239.9L81.6 239.7L81.6 239.6L81.4 239.4L80.7 239.3L80.7 239.3L79.8 239.3L79.8 239.3L79.2 239.4L79.1 239.5L78.9 239.6L78.9 239.8L79 240L79 240L79.2 240.1L79.6 240.2L80.3 240.2L80.6 240.2L81 240.2M85 239.1L85.3 238.9L85.4 238.9L85.5 238.6L85.5 238.5L85.3 238.4L84.9 238.3L84.6 238.3L83.9 238.2L83.5 238.3L83.3 238.3L83.2 238.4L83 238.5L82.9 238.7L83 238.9L83.1 239L83.2 239L83.6 239.1L84.3 239.1L84.6 239.1L85 239.1M89.1 238L89.3 237.9L89.4 237.8L89.5 237.5L89.3 237.4L89.2 237.3L89.1 237.3L88.6 237.2L88 237.2L87.5 237.2L87.3 237.2L87.2 237.3L87 237.4L86.9 237.7L86.9 237.8L87 237.9L87.5 238L87.6 238L88.4 238.1L88.6 238.1L89.1 238M92.6 237L93.2 236.9L93.4 236.8L93.4 236.7L93.5 236.5L93.3 236.3L93.3 236.2L93.2 236.2L92.6 236.1L92.1 236.1L91.6 236.1L91.3 236.1L90.9 236.3L90.9 236.3L90.8 236.6L90.8 236.6L90.9 236.9L91.5 237L91.7 237L92.4 237L92.6 237M96.8 236L97.3 235.9L97.5 235.7L97.5 235.6L97.6 235.4L97.5 235.3L97.4 235.1L97.1 235.1L96.8 235L96.1 235L95.8 235L95.3 235L94.8 235.1L94.8 235.3L94.7 235.4L94.6 235.6L94.8 235.8L95.4 236L95.9 236L96.2 236L96.8 236M61.6 244.2L61.4 244.2L60.9 244.2L60.5 244.1L59.9 244L59.8 243.7L59.8 243.7L60.1 243.5L60.7 243.4L61.2 243.4L61.6 243.4L61.9 243.5L62.2 243.7L62.2 243.7L62 244L61.9 244L61.6 244.2M65.3 243.3L64.9 243.2L64.3 243.2L64 243.2L63.5 243L63.4 242.8L63.4 242.8L63.5 242.5L63.5 242.5L63.8 242.3L64.5 242.2L64.6 242.2L65.4 242.2L65.6 242.2L66.3 242.3L66.5 242.5L66.5 242.7L66.4 242.8L66.3 243L66 243.2L65.3 243.3M57.2 245.1L57 245.1L56.5 244.9L56.5 244.7L57 244.6L57.5 244.7L57.7 244.9L57.7 244.9L57.2 245.1M73.2 239.9L74 239.9L74.5 239.8L74.7 239.5L74.7 239.5L74.7 239.2L74.4 239.1L74.4 239L74.3 239L73.7 238.9L73.2 238.9L72.8 238.9L72.4 238.9L71.8 239L71.7 239.2L71.6 239.3L71.6 239.5L71.6 239.6L71.6 239.8L72.1 239.9L72.3 239.9L73 239.9L73.2 239.9M77.2 238.8L77.9 238.8L78.4 238.6L78.5 238.5L78.5 238.3L78.5 238.2L78.2 238L77.5 237.9L77.5 237.9L76.6 237.9L76.6 237.9L76 238L75.9 238L75.7 238.2L75.7 238.4L75.7 238.6L75.8 238.6L76.2 238.8L76.3 238.8L77.1 238.8L77.2 238.8M81.3 237.8L82 237.7L82.3 237.5L82.4 237.5L82.4 237.2L82.4 237.1L82.1 236.9L81.7 236.9L81.4 236.8L80.8 236.8L80.3 236.9L80.1 236.9L80.1 236.9L79.8 237.1L79.7 237.3L79.8 237.5L79.8 237.6L80.3 237.7L80.3 237.7L81.2 237.8L81.3 237.8M85.4 236.7L86 236.6L86.3 236.4L86.3 236.4L86.4 236.1L86.4 236.1L86.1 235.9L85.9 235.9L85.4 235.8L84.9 235.8L84.3 235.8L84.2 235.8L84.1 235.9L83.8 236L83.7 236.2L83.7 236.3L83.8 236.5L84.3 236.7L84.5 236.7L85.2 236.7L85.4 236.7M89.5 235.7L90.1 235.6L90.4 235.3L90.4 235.3L90.4 235L90.4 235L90.2 234.8L89.9 234.8L89.5 234.7L88.9 234.7L88.4 234.7L88.1 234.7L87.8 234.9L87.7 234.9L87.6 235.2L87.6 235.2L87.7 235.5L88.2 235.6L88.6 235.6L89.1 235.7L89.5 235.7M92.9 234.7L93.7 234.7L94.2 234.5L94.5 234.3L94.5 234.2L94.5 234L94.6 233.9L94.3 233.7L93.9 233.7L93.6 233.6L92.9 233.6L92.6 233.6L92.1 233.6L91.6 233.7L91.6 233.9L91.5 234L91.4 234.2L91.5 234.4L91.5 234.4L91.6 234.5L92 234.6L92.9 234.7L92.9 234.7M58.4 242.7L58.2 242.8L57.7 242.8L57.3 242.7L56.9 242.6L56.8 242.4L56.9 242.3L57.1 242.1L57.6 242L57.8 242L58.6 242.1L58.9 242.3L58.9 242.6L58.8 242.6L58.4 242.7M62.1 241.9L61.7 241.8L61.1 241.8L60.9 241.8L60.5 241.6L60.4 241.5L60.4 241.3L60.5 241.1L60.8 240.9L60.8 240.9L60.8 240.9L61.5 240.9L62.1 240.9L62.3 240.9L63 240.9L63.3 241.1L63.3 241.3L63.2 241.4L63.2 241.6L62.8 241.8L62.1 241.9M53.9 243.6L53.9 243.6L53.4 243.5L53.5 243.4L54 243.3L54.1 243.3L54.4 243.5L54.4 243.5L53.9 243.6M71 238.6L71.5 238.5L71.5 238.4L71.6 238.2L71.7 238L71.7 237.8L71.7 237.8L71.4 237.6L71 237.5L70.6 237.5L70 237.5L69.6 237.5L69.1 237.4L68.5 237.5L68.5 237.8L68.4 237.8L68.3 238.1L68.3 238.1L68.2 238.4L68.7 238.6L69.3 238.6L69.6 238.6L70.2 238.6L70.7 238.6L71 238.6M74.9 237.5L75 237.4L75.3 237.3L75.5 237L75.5 237L75.5 236.7L75.2 236.5L74.4 236.5L74.2 236.5L73.5 236.4L73.3 236.4L72.7 236.5L72.6 236.7L72.5 236.8L72.4 237L72.5 237.1L72.4 237.3L72.9 237.4L73.3 237.5L73.7 237.5L74.2 237.5L74.9 237.5L74.9 237.5M87.1 234.2L87.1 234.2L87.3 234L87.4 233.8L87.4 233.7L87.5 233.5L87.1 233.4L86.6 233.3L86.3 233.3L85.7 233.3L85.3 233.3L84.9 233.3L84.5 233.4L84.5 233.5L84.4 233.8L84.3 233.8L84.4 234.1L84.8 234.2L85.6 234.3L85.6 234.3L86.5 234.3L86.9 234.3L87.1 234.2M90.7 233.3L91.2 233.2L91.3 233.1L91.4 232.9L91.5 232.7L91.5 232.6L91.7 232.4L91.3 232.2L90.6 232.2L90.4 232.2L89.7 232.2L89.5 232.2L88.8 232.1L88.3 232.3L88.3 232.5L88.2 232.6L88.2 232.8L88.2 233L88.2 233.1L88.6 233.2L88.9 233.2L89.5 233.3L89.9 233.3L90.5 233.3L90.7 233.3M78.2 236.4L78.9 236.4L79.3 236.2L79.4 236L79.4 235.9L79.4 235.7L79.1 235.5L78.4 235.4L78.3 235.4L77.5 235.4L77.3 235.4L76.8 235.4L76.7 235.6L76.6 235.7L76.5 235.9L76.5 236L76.5 236.2L76.9 236.4L77.3 236.4L77.8 236.4L78.2 236.4M82.3 235.4L83 235.3L83.3 235.1L83.4 234.9L83.4 234.8L83.4 234.6L83.1 234.4L82.6 234.4L82.3 234.4L81.6 234.3L81.2 234.4L80.9 234.4L80.7 234.5L80.6 234.6L80.4 234.9L80.4 234.9L80.5 235.1L80.9 235.3L81.4 235.3L81.7 235.4L82.3 235.4M63.2 239.5L63.1 239.5L62.3 239.4L62.2 239.4L61.5 239.3L61.1 239.2L61.1 238.9L61.1 238.9L61.3 238.6L61.6 238.5L61.7 238.4L61.7 238.4L62.4 238.4L62.9 238.4L63.3 238.4L63.8 238.4L64.3 238.6L64.2 238.9L64.2 238.9L64.1 239.2L64.1 239.2L63.9 239.4L63.2 239.5M55.2 241.3L55.1 241.3L54.3 241.3L54.2 241.3L53.9 241.1L53.9 241.1L54.1 240.8L54.7 240.7L55.1 240.8L55.6 240.9L55.6 241.1L55.3 241.3L55.2 241.3M58.9 240.4L58.5 240.4L57.8 240.3L57.5 240.1L57.5 239.8L57.5 239.8L57.8 239.6L58.5 239.5L58.6 239.5L59.4 239.6L59.5 239.6L60 239.7L60 239.8L60 240L59.9 240.2L59.6 240.4L58.9 240.4M75.3 235.1L76 235.1L76.3 234.9L76.3 234.8L76.5 234.6L76.5 234.5L76.5 234.2L76.5 234.2L76.4 234.2L76.1 234L75.3 234L75.1 234L74.3 233.9L74.2 233.9L73.4 233.9L73.2 234.2L73.3 234.2L73.2 234.5L73.2 234.5L73.1 234.8L73.5 235L74.3 235.1L74.4 235.1L75.2 235.1L75.3 235.1M79.4 234.1L80 234L80.3 233.8L80.3 233.8L80.5 233.5L80.5 233.4L80.5 233.1L80.1 233L79.2 232.9L79.2 232.9L78.3 232.9L78.3 232.9L77.4 232.9L77.2 233.1L77.2 233.2L77.1 233.4L77.1 233.5L77.1 233.8L77.4 233.9L77.5 234L77.5 234L78.2 234L78.5 234L79.2 234L79.4 234.1M60.6 237.9L60.2 238L59.9 238L59.1 238L59 238L58.5 237.9L58.2 237.7L58.2 237.6L58.3 237.4L58.3 237.3L58.7 237.1L59.3 237.1L59.4 237.1L60.2 237.1L60.5 237.2L60.8 237.3L60.8 237.3L60.9 237.5L60.8 237.7L60.6 237.9L60.6 237.9M64.3 237.1L63.8 237L63.4 237L62.9 237L62.2 236.9L62.2 236.9L62.2 236.9L61.9 236.7L62 236.4L62 236.4L62.2 236.1L62.6 236L63.4 236L63.5 236L64.3 236L64.5 236L65.1 236.1L65.1 236.3L65.1 236.4L65 236.7L65 236.7L64.8 237L64.3 237.1M55.6 239L55.5 239L54.8 238.9L54.6 238.6L54.6 238.5L54.9 238.3L55.6 238.3L56 238.3L56.5 238.4L56.6 238.7L56.6 238.7L56.3 238.9L55.6 239M51.8 239.8L51.3 239.8L51.2 239.6L51.2 239.5L51.3 239.5L52 239.5L52.2 239.6L52.2 239.6L51.8 239.8M73.4 232.5L73.4 232.5L72.7 232.5L72.3 232.5L71.8 232.5L71.4 232.5L70.8 232.3L70.6 232.1L70.7 232L70.8 231.8L70.8 231.7L71.2 231.5L71.8 231.4L72 231.4L72.7 231.5L73 231.5L73.6 231.6L73.8 231.8L73.8 231.9L73.7 232.1L73.7 232.3L73.4 232.5L73.4 232.5M60.9 235.6L60.8 235.6L60 235.5L59.9 235.5L59.3 235.4L59.1 235.2L59.1 235.1L59.3 234.9L59.8 234.7L60.5 234.7L60.9 234.7L61.5 234.8L61.7 235.1L61.7 235.2L61.5 235.4L61.4 235.5L60.9 235.6M65.1 234.6L64.5 234.6L64.3 234.6L63.7 234.5L63.1 234.4L63.1 234.4L63.1 234.4L62.9 234.2L62.9 234L63.1 233.8L63.2 233.7L63.7 233.6L64 233.6L64.5 233.6L65 233.6L65.6 233.7L65.8 234L65.8 234.1L65.7 234.3L65.6 234.4L65.1 234.6M68.5 233.6L68.3 233.6L67.6 233.5L67.5 233.5L66.9 233.4L66.7 233.1L66.7 233.1L66.8 232.8L66.8 232.8L67.1 232.6L67.7 232.5L68 232.5L68.6 232.5L69 232.5L69.6 232.7L69.8 232.9L69.8 233.1L69.8 233.2L69.7 233.4L69.3 233.6L68.5 233.6M76.8 231.5L76.2 231.5L75.9 231.4L75.4 231.4L74.8 231.3L74.6 231L74.7 230.9L74.8 230.7L74.8 230.6L75.2 230.4L76 230.4L76 230.4L76.9 230.4L76.9 230.4L77.5 230.5L77.7 230.8L77.7 230.8L77.7 231.1L77.6 231.1L77.4 231.4L76.8 231.5M80.8 230.4L80.3 230.4L79.9 230.4L79.4 230.3L78.8 230.2L78.6 230L78.7 229.8L78.8 229.6L78.9 229.5L79.4 229.4L79.7 229.4L80.2 229.4L80.7 229.4L81.3 229.5L81.3 229.5L81.3 229.5L81.5 229.8L81.5 230L81.5 230.1L81.3 230.3L80.8 230.4M52.9 237.4L52.7 237.4L52 237.4L51.9 237.4L51.9 237.4L52 237.1L52 237.1L52.1 237L52.9 237.1L53 237.1L53.1 237.1L53 237.4L52.9 237.4M56.6 236.5L56.2 236.5L55.6 236.4L55.4 236.2L55.5 236.1L55.9 235.9L56.6 235.8L56.7 235.8L57.3 235.9L57.5 236.2L57.5 236.2L57.2 236.5L56.6 236.5M65.9 232L65.5 232L65.1 232.1L64.6 232L64.1 231.9L64 231.6L64 231.6L64.3 231.3L64.9 231.3L65.3 231.3L65.9 231.3L66.1 231.3L66.3 231.5L66.3 231.5L66.3 231.9L66.3 231.9L65.9 232M70 231L69.4 231L69.3 231L68.5 231L68 230.8L67.9 230.6L68 230.5L68.3 230.3L69 230.2L69.3 230.2L70 230.3L70.3 230.5L70.3 230.8L70.2 230.8L70 231M73.4 230L73.3 230L72.5 229.9L72.4 229.9L72 229.8L71.9 229.7L71.9 229.5L72 229.4L72.4 229.2L73.1 229.1L73.2 229.1L73.9 229.2L74.2 229.4L74.2 229.6L74.1 229.8L74 229.9L73.4 230M53.8 234.9L53.5 235L52.9 234.9L52.8 234.9L52.8 234.9L53.1 234.7L53.6 234.7L53.8 234.9L53.8 234.9M57.5 234.1L57 234L56.5 233.9L56.5 233.6L56.5 233.6L56.9 233.5L57.1 233.5L57.8 233.5L57.9 233.5L58 233.6L58.2 233.7L58 233.9L57.5 234.1M60.9 233.1L60.7 233L60.2 232.9L60.2 232.8L60.2 232.6L60.4 232.5L60.9 232.3L61.3 232.3L61.8 232.4L62 232.4L62.3 232.6L62.3 232.6L62.2 232.9L61.7 233.1L60.9 233.1M77.4 228.9L76.5 228.8L76.4 228.8L76 228.7L76 228.6L76 228.4L76.1 228.3L76.6 228.2L77 228.1L77.4 228.2L77.8 228.2L78.1 228.4L78.1 228.5L77.9 228.7L77.4 228.9M58.2 231.5L58.1 231.5L57.6 231.3L57.7 231.3L58.2 231.2L58.3 231.2L58.6 231.3L58.6 231.3L58.2 231.5M62.3 230.5L61.9 230.5L61.4 230.3L61.6 230.1L62.2 230.1L62.3 230.1L62.7 230.3L62.7 230.3L62.3 230.5M65.7 229.5L65.7 229.5L65.3 229.3L65.3 229.3L65.6 229L66.3 229L66.3 229L66.7 229.2L66.7 229.2L66.4 229.4L65.7 229.5M69.8 228.4L69.7 228.4L69.3 228.2L69.3 228.2L69.7 228L70.2 228L70.6 228.2L70.4 228.3L69.8 228.4M73.8 227.3L73.8 227.3L73.4 227.1L73.4 227.1L73.9 227L74 227L74.4 227.1L74.4 227.2L73.8 227.3" stroke="#2d8cf3" stroke-width="0.5" fill="none"/><path d="M58.3 245.9L58.4 245.8L58.2 245.6L57.5 245.5L57.3 245.5M55.3 244.6L55.4 244.4L55.1 244.2L55.7 244.1L56.1 244.2L56.8 244.2L57.1 244.2L57.7 244.2L58.3 244.1L58.4 244.1L58.4 244.1L58.7 243.9L58.8 243.7L58.8 243.6L58.8 243.4L58.5 243.2L57.9 243.1L57.7 243.1L57 243.1L56.7 243.1L56.1 243.1L55.8 243.4L55.8 243.4L55.7 243.7L55.6 243.7L55.6 244L55.1 244.1L54.3 244.1L54.1 244.1M52.3 243.2L54.6 242.9L55.8 242.3L53.5 241.6L52.9 240.8L51.1 240.2L50 239.4L52 239L53.6 238.3L51.2 237.8L50.8 236.9L52.7 236.6L54.5 235.8L52.1 235.3L51.8 234.4L54.6 234.2L55.5 233.3L57.7 233.1L59.3 232.3L56.7 231.9L56.7 230.9L59.7 230.8L60 231.8L62.9 231.8L62.8 231.1L59.8 230.8L60.6 229.7L63.7 229.7L64.7 228.6L67.8 228.6L68.7 227.6L71.9 227.5L72 228.6L74 228.8L74.9 227.9L71.9 227.5L72.9 226.5L75.7 226.8L76.4 227.7L79 227.4L79.7 226.7M49.3 241.9L49.5 241.7L49.5 241.7L50 241.5L50.1 241.5L50.8 241.5L51.2 241.5L51.7 241.6L52.2 241.5L52.7 241.7L52.5 241.9L52.5 242L52.4 242.2L52.3 242.4L52.3 242.5L51.8 242.7L51.2 242.6L50.9 242.6M46.4 240.6L46.4 240.5L46.6 240.4L47.1 240.2L47.6 240.2L47.9 240.2L48.5 240.3L49 240.4L49.1 240.4L49.1 240.4L49.2 240.6L49.1 240.8L49 241L48.9 241.1L48.5 241.2L48.2 241.2L47.6 241.2M43.5 239.4L43.5 239.3L43.7 239.1L44.2 239L44.9 239L45.1 239L45.6 239.1L45.7 239.3L45.7 239.3L45.6 239.6L45.1 239.7L44.3 239.7L44.2 239.7M79.5 226.6L79 226.7L78.3 226.7L78.1 226.7L77.4 226.6L77.1 226.6L76.5 226.6L76.1 226.4L76.2 226.2L76.2 226.1L76.3 225.9L76.5 225.7L76.6 225.7L77.1 225.5M75.8 224.9L75.3 225.1L74.7 225.1L74.5 225.1L73.9 225L73.6 224.8L73.6 224.7L73.8 224.5L73.8 224.4L74.4 224.3M60.7 245.6L61.4 245.5L61.8 245.3L61.8 245.2L61.9 245L61.9 244.9L61.7 244.7L61.1 244.5L60.9 244.5L60.2 244.5L59.9 244.5L59.3 244.6L59 244.8L59 244.8L58.8 245.1L58.8 245.2L58.9 245.4L59.5 245.5L59.9 245.5L60.5 245.6L60.7 245.6M64.5 244.4L65.2 244.3L65.5 244.1L65.5 243.9L65.3 243.7L64.6 243.6L64.4 243.6L63.7 243.6L63.3 243.8L63.2 244L63.4 244.2L63.4 244.2L63.4 244.2L64 244.3L64.5 244.4M68.3 243.2L68.9 243.1L69 243L68.9 242.7L68.1 242.7L68 242.7L67.8 242.7L67.6 242.9L67.7 243L68.3 243.2L68.3 243.2M62.1 242.9L62.3 242.8L62.4 242.7L62.4 242.5L62.1 242.3L61.4 242.2L61.2 242.2L60.5 242.2L60.1 242.4L60 242.6L60.1 242.8L60.1 242.8L60.4 242.9L60.6 243L61.5 243L61.6 243L62.1 242.9M65.2 241.8L65.8 241.7L66 241.5L65.9 241.4L65.8 241.3L65.7 241.3L64.9 241.3L64.8 241.3L64.7 241.3L64.4 241.4L64.5 241.7L65 241.8L65.2 241.8M68.8 240.5L69.4 240.4L69.4 240.4L69.2 240.3L68.8 240.5L68.8 240.5L68.8 240.5M58.4 241.7L59.1 241.6L59.4 241.4L59.4 241.3L59.4 241L59.2 241L59 240.8L59 240.8L58.3 240.8L58 240.7L57.3 240.8L56.9 241L56.8 241.2L56.8 241.3L56.8 241.4L57.2 241.6L57.5 241.6L58.1 241.7L58.4 241.7M62.9 240.4L62.9 240.4L63.1 240.1L63.1 240.1L62.7 239.9L62.4 239.8L61.8 239.8L61.6 239.8L61.2 240L61.2 240L61.1 240.3L61.6 240.4L62.2 240.5L62.8 240.4L62.9 240.4M66.1 239.3L66.6 239.2L66.7 239.1L66.3 238.9L65.9 238.9L65.5 239L65.5 239.1L65.9 239.3L66.1 239.3M56.1 240.3L56.2 240.2L56.4 240.1L56.5 239.8L56.5 239.7L56.4 239.6L56 239.4L55.6 239.4L55.2 239.3L54.7 239.3L54.2 239.3L53.9 239.3L53.8 239.4L53.6 239.5L53.5 239.8L53.5 239.8L53.4 240.1L53.7 240.3L54.6 240.3L54.6 240.3L55.4 240.3L55.8 240.3L56.1 240.3M59.3 239.2L59.9 239.1L60.1 238.9L60.2 238.8L60.1 238.6L59.7 238.4L59.1 238.4L58.8 238.4L58.3 238.4L57.9 238.5L57.8 238.6L57.8 238.9L57.8 238.9L58.1 239.1L58.4 239.1L58.9 239.2L59.3 239.2M63.2 238L63.7 237.9L63.8 237.6L63.4 237.4L62.6 237.4L62.1 237.6L62 237.8L62.4 238L63.2 238M67 236.9L67.5 236.7L67.5 236.6L67.1 236.4L66.9 236.4L66.3 236.6L66.3 236.6L66.6 236.8L67 236.9M71 235.7L71.1 235.7L70.5 235.5L70.5 235.5L70.5 235.5L70.8 235.7L71 235.7M83.1 232.5L83.1 232.4L82.7 232.3L82.7 232.3L82.6 232.3L82.9 232.5L83.1 232.5M86.7 231.6L87.3 231.5L87.3 231.3L86.9 231.2L86.6 231.2L86.1 231.3L86.1 231.4L86.5 231.6L86.7 231.6M56.9 237.8L57 237.7L57.2 237.5L57.3 237.4L57.2 237.2L57.2 237.1L56.7 237L56.7 237L55.9 236.9L55.7 236.9L54.9 236.9L54.5 237.1L54.4 237.3L54.4 237.4L54.3 237.6L54.6 237.8L55.3 237.9L55.5 237.9L56.4 237.9L56.4 237.9L56.9 237.8M60.2 236.7L60.8 236.6L61 236.4L61 236.3L60.9 236.1L60.4 236L60.1 235.9L59.5 235.9L59.2 235.9L58.8 236.1L58.7 236.1L58.6 236.4L58.6 236.4L58.9 236.6L59.4 236.7L59.6 236.7L60.2 236.7M64.2 235.6L64.7 235.4L64.7 235.4L64.7 235.1L64.7 235.1L64.7 235.1L64.2 235L63.5 234.9L63 235.1L62.8 235.3L62.8 235.3L63.1 235.5L63.3 235.6L63.9 235.6L64.2 235.6M68.1 234.5L68.3 234.4L68.5 234.3L68.5 234.1L68 233.9L67.7 233.9L67.1 234L66.9 234.2L67.1 234.4L67.2 234.4L67.3 234.4L68.1 234.5L68.1 234.5M80.3 231.2L80.3 231.2L80.4 230.9L80.4 230.9L80.2 230.9L79.9 230.8L79.3 230.8L78.8 231L78.8 231L79.1 231.3L79.7 231.3L80.1 231.3L80.3 231.2M83.9 230.3L84.4 230.2L84.5 230.1L84.6 229.9L84.5 229.8L84.1 229.7L84 229.7L83.2 229.7L82.7 229.8L82.6 230L82.9 230.2L82.9 230.2L82.9 230.2L83.7 230.3L83.9 230.3M71.3 233.4L72.1 233.4L72.4 233.1L72.4 233L71.9 232.9L71.9 232.9L71.2 233L71 233.1L71.1 233.3L71.2 233.4L71.3 233.4M75.5 232.3L76.2 232.3L76.4 232L76.4 232L76.2 231.9L75.8 231.9L75.3 231.9L74.9 232.1L74.9 232.1L75.2 232.3L75.5 232.3M48.8 238.8L48.6 238.8L47.8 238.8L47.7 238.7L47.2 238.6L47.1 238.5L47 238.4L47.1 238.1L47.1 238.1L47.4 237.9L48 237.8L48.3 237.8L48.8 237.8L49.3 237.8L49.8 237.9L50.1 237.9L50 238L50.2 238.1L50.1 238.3L50 238.4L50 238.6L49.6 238.8L48.8 238.8M57.4 235.5L57.9 235.3L58 235.2L58.1 235.1L58.2 234.9L58.1 234.7L58 234.6L57.8 234.5L57.5 234.5L56.7 234.4L56.6 234.4L55.8 234.4L55.3 234.5L55.2 234.8L55.2 234.8L55.1 235.1L55.2 235.2L55.3 235.4L55.6 235.4L56 235.4L56.6 235.5L57 235.5L57.4 235.5M61.3 234.3L61.6 234.2L61.8 234.2L62 233.9L62 233.8L61.8 233.6L61.3 233.5L60.9 233.4L60.4 233.4L60.1 233.4L59.5 233.5L59.4 233.7L59.3 233.8L59.3 234L59.5 234.2L60.2 234.3L60.5 234.3L61.2 234.3L61.3 234.3M81.5 228.9L81.6 228.9L81.8 228.7L81.8 228.5L81.7 228.3L81.1 228.2L80.6 228.1L80.2 228.1L79.8 228.1L79.3 228.3L79.3 228.4L79.2 228.6L79.2 228.7L79.4 228.9L80 229L80.2 229L81 229L81.2 229L81.5 228.9M64.5 233.2L65.3 233.2L65.7 233L65.8 232.8L65.8 232.7L65.7 232.6L65.2 232.5L65.1 232.4L64.3 232.4L64 232.4L63.7 232.5L63.6 232.6L63.4 232.8L63.4 232.9L63.6 233.1L64.3 233.2L64.5 233.2M68.6 232.2L69.3 232.1L69.6 231.9L69.7 231.8L69.6 231.5L69 231.4L68.4 231.4L67.8 231.4L67.8 231.4L67.8 231.5L67.5 231.7L67.5 231.8L67.7 232L68.3 232.2L68.6 232.2M72.7 231.1L73.3 231L73.6 230.8L73.7 230.7L73.5 230.5L73 230.4L72.5 230.3L71.9 230.4L71.8 230.4L71.8 230.4L71.5 230.6L71.4 230.8L71.6 231L72.3 231.1L72.7 231.1M76.8 230.1L77.4 230L77.7 229.7L77.7 229.6L77.6 229.4L77 229.3L76.6 229.2L76 229.3L75.8 229.3L75.6 229.4L75.4 229.4L75.3 229.7L75.4 229.8L75.5 229.9L75.9 230L76.2 230.1L76.8 230.1M50.6 236.4L50.3 236.4L49.8 236.4L49.3 236.4L48.8 236.3L48.5 236.3L48 236.2L47.9 235.9L47.9 235.9L48 235.6L48.1 235.6L48.3 235.4L48.9 235.4L49 235.3L49.8 235.4L50 235.4L50.7 235.4L51 235.6L50.9 235.8L50.9 235.9L50.9 236.2L50.6 236.3L50.6 236.4M46.1 237.3L45.8 237.3L45.3 237.3L44.9 237.3L44.4 237.1L44.3 236.9L44.3 236.8L44.6 236.6L45.2 236.5L45.6 236.5L46.1 236.6L46.4 236.6L46.6 236.8L46.6 236.8L46.5 237.1L46.5 237.1L46.1 237.3M41.6 238.2L41.5 238.2L40.9 238L40.9 237.9L41.5 237.8L41.9 237.8L42.1 238L42.1 238L41.6 238.2M65.8 230.9L66.4 230.9L66.8 230.7L66.9 230.6L67 230.4L67 230.2L66.8 230L66.2 229.9L65.9 229.9L65.3 229.9L64.9 229.8L64.2 229.9L64 230.1L64 230.2L63.9 230.5L63.9 230.5L64 230.7L64.6 230.9L64.9 230.9L65.6 230.9L65.8 230.9M69.9 229.9L70.5 229.8L70.8 229.6L70.9 229.5L70.9 229.3L71 229.2L70.8 229L70.1 228.8L70 228.8L69.3 228.8L69 228.8L68.3 228.8L68 229L68 229.1L67.9 229.3L67.9 229.4L68 229.7L68.6 229.8L69 229.8L69.5 229.8L69.9 229.9M51.3 233.9L51.3 233.9L50.7 233.9L50.1 233.9L49.7 233.9L49.3 233.8L48.9 233.7L48.9 233.5L48.9 233.4L49 233.2L49.4 233L50.1 233L50.5 233L51 233L51.3 233L51.6 233.2L51.6 233.3L51.6 233.5L51.6 233.6L51.3 233.9L51.3 233.9M55.2 233L54.7 233L54.1 233L53.8 232.9L53.1 232.8L53 232.8L52.6 232.7L52.6 232.6L52.6 232.4L52.6 232.3L52.8 232L52.8 232L53.3 231.9L53.5 231.9L54 231.8L54.6 231.8L54.9 231.9L55.5 231.9L55.9 232.1L55.8 232.3L55.8 232.4L55.8 232.6L55.7 232.7L55.7 232.9L55.2 233M47 234.8L46.5 234.9L46.3 234.9L45.7 234.8L45.2 234.6L45.2 234.4L45.3 234.3L45.6 234.2L46.2 234.1L46.2 234.1L47 234.2L47.4 234.3L47.4 234.6L47.3 234.6L47 234.8M42.6 235.7L42.2 235.7L41.7 235.6L41.8 235.4L42.5 235.3L42.6 235.3L43 235.5L43 235.6L42.6 235.7M59.9 229.4L59.6 229.4L59.1 229.4L58.6 229.4L58 229.3L57.9 229.3L57.6 229.1L57.6 229.1L57.6 228.8L57.6 228.8L57.9 228.5L58.5 228.4L58.9 228.4L59.4 228.5L59.8 228.5L60.3 228.6L60.4 228.9L60.4 228.9L60.3 229.2L60.2 229.2L59.9 229.4M64 228.4L63.5 228.4L63.3 228.4L62.5 228.3L62.3 228.3L61.8 228.2L61.5 228L61.5 227.9L61.5 227.7L61.6 227.6L62 227.4L62.6 227.4L62.9 227.4L63.5 227.4L63.8 227.4L64.3 227.6L64.3 227.8L64.3 227.8L64.3 228.1L64.2 228.2L64 228.4M68 227.2L67.4 227.3L67.4 227.3L66.5 227.3L66.5 227.3L65.8 227.2L65.4 227L65.5 226.8L65.5 226.7L65.6 226.5L66 226.4L66.7 226.3L66.9 226.3L67.7 226.4L67.7 226.4L68.2 226.5L68.2 226.6L68.3 226.8L68.2 227L68.1 227.1L68 227.2M47.8 232.3L47.5 232.3L47.1 232.4L46.6 232.3L46.3 232.1L46.3 232L46.7 231.8L47.4 231.8L47.5 231.8L48 231.9L48 232L47.9 232.2L47.8 232.3M51.5 231.4L51 231.4L50.5 231.3L50.3 231.3L49.9 231.1L49.9 231.1L50.1 230.8L50.1 230.8L50.5 230.6L50.7 230.6L51.3 230.6L51.7 230.7L52.1 230.8L52.2 231L52.2 231.1L52 231.3L51.5 231.4M54.9 230.4L54.7 230.4L54.1 230.3L53.7 230.1L53.7 229.9L53.8 229.8L54 229.7L54.5 229.5L54.9 229.5L55.3 229.5L55.8 229.6L56.3 229.7L56.3 230L56.3 230L56.2 230.3L55.7 230.4L54.9 230.4M70.5 226.2L70.5 226.2L69.8 226.1L69.5 225.9L69.5 225.8L69.6 225.6L69.7 225.5L70.2 225.3L70.7 225.3L71 225.3L71.5 225.4L72 225.5L72.1 225.8L72.1 225.8L71.9 226.1L71.4 226.2L70.5 226.2M43.4 233.2L43.1 233.2L42.9 233L42.9 233L42.9 233L43.5 233.1L43.4 233.2M56.3 227.8L56 227.8L55.3 227.7L55.2 227.7L55.2 227.7L55.1 227.5L55.3 227.3L55.9 227.3L55.9 227.3L56.5 227.4L56.6 227.6L56.5 227.7L56.3 227.8M60.3 226.7L59.9 226.8L59.6 226.8L59.2 226.7L58.9 226.5L58.9 226.5L59.3 226.3L59.9 226.2L59.9 226.2L60.5 226.3L60.6 226.5L60.5 226.6L60.3 226.7M64.4 225.6L63.9 225.7L63.7 225.7L63.2 225.6L62.9 225.4L62.9 225.4L63.4 225.2L63.8 225.2L64.3 225.2L64.4 225.3L64.5 225.3L64.4 225.6L64.4 225.6M48.3 229.6L47.9 229.7L48.1 229.6L48.2 229.6L48.3 229.6M52.1 228.8L51.5 228.7L51.3 228.5L51.3 228.5L51.8 228.3L51.9 228.3L52.4 228.5L52.5 228.6L52.1 228.8M67.7 224.6L67.2 224.5L67 224.3L67 224.3L67.5 224.2L67.6 224.2L68.2 224.3L68.3 224.5L67.7 224.6M71.5 223.4L71.4 223.4L71.4 223.4L71.8 223.3L71.5 223.4" stroke="#05b6ce" stroke-width="0.5" fill="none"/><path d="M42.4 238.9L42.4 238.8L42 238.7M39.7 237.7L40.5 237.3L42.8 237.3L43.3 236.6L41.6 236.2L40.5 235.9L40.6 235.2L42.3 234.9L43.9 234.7L44.2 234.1L42.4 233.7L41.4 233.4L41.6 232.8L43.4 232.5L45.1 232.2L45.3 231.6L44.2 231.2L42.5 230.9L43.1 230.2L45 230.2L45.6 230.9L46.4 231.3L48.1 231.4L49 230.8L48.1 230.3L46.3 230.1L46.3 229.5L47 229.1L49.2 229.1L50 228.6L50.3 228L52.3 227.9L53.9 227.5L54.3 226.9L56.3 226.9L57.8 226.5L58.3 225.8L60.3 225.8L61.7 225.4L62.4 224.7L64.2 224.8L65.8 224.4L66.5 223.7L68.3 223.8L69.7 223.6L70.3 222.9L70.8 222.7M36.9 236.5L37.2 236.2L37.7 236.1L38.5 236.1L38.8 236.1L39.4 236.1L39.7 236.1L40.1 236.3L40 236.4L40 236.6L39.9 236.7L39.8 236.9L39.8 237L39.4 237.2L39 237.1L38.4 237.1M34.3 235.3L34.4 235L34.9 234.9L35.8 234.9L35.8 234.9L36.3 235L36.3 235.1L36.3 235.3L36.2 235.4L35.7 235.6L35.4 235.6L34.8 235.5M69.6 222.2L69.1 222.4L69 222.4L68.3 222.4L68 222.3L67.5 222.2L67.3 222L67.3 221.9L67.6 221.7L68.1 221.6M47.8 226.9L48.3 226.8L49.1 226.8L49.3 226.8L49.9 226.9L50.2 227.1L50.2 227.2L50.1 227.4L50 227.6L49.6 227.7L49 227.7L48.7 227.7L48.2 227.6L47.6 227.5L47.5 227.3L47.5 227.1L47.7 226.9M52.3 225.7L53.1 225.7L53.3 225.7L54 225.8L54.2 226L54.2 226.2L54.1 226.3L54.1 226.5L53.8 226.7L53 226.7L52.8 226.7L52 226.6L51.9 226.6L51.4 226.5L51.4 226.4L51.3 226.2L51.4 226L51.6 225.9M56.3 224.6L56.4 224.6L57.2 224.6L57.3 224.6L58 224.7L58.2 225L58.2 225L58.1 225.3L58.1 225.4L57.9 225.6L58 225.7L57.8 225.6L57.1 225.7L56.8 225.6L56.1 225.6L55.9 225.6L55.3 225.4L55.2 225.2L55.2 225.2L55.4 224.9L55.4 224.9M60.1 223.6L60.5 223.6L61.2 223.6L61.5 223.7L61.9 223.7L62 223.9L62.1 223.9L62.1 224.2L62.1 224.3L61.9 224.5L61.2 224.6L60.7 224.6L60.3 224.5L59.9 224.5L59.3 224.4L59.2 224.1L59.2 224.1L59.4 223.8M64 222.6L64.7 222.6L65 222.6L65.7 222.7L65.9 222.9L65.9 223.1L65.8 223.2L65.8 223.4L65.2 223.5L64.8 223.5L64.3 223.5L63.9 223.4L63.4 223.3L63.2 223.1L63.2 223L63.5 222.7L63.9 222.6M51.3 241L51.6 240.8L51.1 240.7L50.6 240.7L50.5 240.9L50.8 241.1L51.3 241M48.5 239.8L48.8 239.6L48.8 239.6L48.8 239.3L48.3 239.2L47.9 239.2L47.3 239.2L47 239.5L46.9 239.5L47.2 239.8L47.8 239.8L48.1 239.8L48.5 239.8M52.1 238.5L52.1 238.5L51.9 238.4L51.9 238.5L52.1 238.5M45.6 238.5L45.7 238.5L46 238.3L46.1 238.1L46 238L45.9 237.8L45.5 237.8L45.3 237.7L44.5 237.7L44.5 237.7L43.8 237.7L43.6 237.9L43.5 237.9L43.4 238.2L43.5 238.3L43.6 238.5L44 238.5L44.3 238.6L44.9 238.6L45.5 238.5L45.6 238.5M49.3 237.3L49.6 237.2L49.6 237L49.5 236.9L49 236.8L48.9 236.8L48.2 236.8L47.9 237L47.9 237L48.1 237.3L48.7 237.4L48.8 237.4L49.3 237.3M53 236L53 236L52.8 235.9L52.7 236L53 236M46.5 236L46.7 235.9L46.9 235.8L46.9 235.6L46.7 235.4L46.7 235.4L46.6 235.4L46.1 235.3L45.5 235.2L45.1 235.2L44.7 235.3L44.5 235.4L44.4 235.5L44.3 235.7L44.3 235.8L44.4 236L45 236.1L45 236.1L45.9 236.1L46.1 236.1L46.5 236M49.7 234.9L50.3 234.8L50.6 234.6L50.5 234.6L50.3 234.4L49.9 234.3L49.7 234.3L49.1 234.3L48.7 234.5L48.7 234.6L48.8 234.8L49.4 234.9L49.7 234.9M53.5 233.8L54.1 233.7L54 233.4L53.5 233.4L53 233.5L53.1 233.7L53.5 233.8M47 233.7L47.5 233.6L47.8 233.4L47.8 233.4L47.9 233.1L47.7 233L47.6 232.9L47.4 232.9L46.9 232.8L46.3 232.7L46 232.7L45.5 232.7L45.1 232.9L45.1 233L45 233.2L45 233.3L45.1 233.5L45.6 233.7L46.1 233.7L46.5 233.7L47 233.7M50.9 232.6L51.4 232.5L51.4 232.4L51.6 232.2L51.6 232.1L51.3 231.9L50.7 231.8L50.6 231.8L49.9 231.8L49.4 231.9L49.3 232.1L49.3 232.2L49.3 232.4L49.9 232.6L50 232.6L50.8 232.6L50.9 232.6M54.8 231.4L55.2 231.3L55.3 231.1L55.1 230.9L54.3 230.8L54.1 230.8L53.6 230.9L53.5 231L53.5 231.2L53.5 231.3L53.8 231.4L54 231.4L54.8 231.4M58.7 230.3L59.1 230.1L59.2 230.1L58.9 229.9L58.4 229.8L57.8 229.9L57.7 229.9L57.7 229.9L57.6 230.2L57.6 230.2L57.7 230.2L58.2 230.3L58.7 230.3M62.7 229.2L63 229L63 229L62.8 228.8L62.6 228.8L61.9 228.8L61.7 229.1L61.7 229.1L61.7 229.1L62.3 229.2L62.7 229.2M66.8 228.1L67 228L66.8 227.8L66.8 227.8L66.7 227.8L65.9 227.7L65.6 228L65.7 228.1L66 228.2L66.2 228.2L66.8 228.1M70.3 227.2L70.9 227.1L71 226.9L70.8 226.7L70.8 226.7L70.8 226.7L69.9 226.6L69.9 226.6L69.8 226.7L69.5 226.8L69.6 227L70.1 227.2L70.3 227.2M74.5 226.2L75 226L75.2 225.8L75.1 225.7L74.9 225.6L74.8 225.6L74.1 225.5L73.8 225.5L73.4 225.7L73.3 225.7L73.4 226L73.9 226.1L74.5 226.2M40.3 234.7L39.7 234.7L39.4 234.7L38.8 234.6L38.3 234.6L38.1 234.5L37.8 234.4L37.8 234.3L37.8 234.1L37.9 234L38.2 233.8L38.7 233.7L39.3 233.7L39.5 233.7L40.2 233.7L40.7 233.9L40.8 234.1L40.7 234.2L40.6 234.5L40.6 234.5L40.3 234.7M51.3 230.3L52 230.2L52.5 230.1L52.7 229.8L52.7 229.8L52.7 229.5L52.4 229.3L51.7 229.2L51.4 229.2L50.8 229.2L50.4 229.2L49.9 229.3L49.9 229.4L49.8 229.6L49.8 229.8L49.8 230L49.8 230L50.2 230.2L50.3 230.2L51.1 230.3L51.3 230.3M55.3 229.2L56 229.1L56.4 228.9L56.6 228.8L56.6 228.7L56.6 228.5L56.2 228.3L55.7 228.2L55.5 228.2L54.7 228.2L54.3 228.2L54.1 228.3L54.1 228.3L53.9 228.5L53.9 228.7L53.9 228.9L53.9 228.9L54.1 229L54.4 229.1L55.2 229.2L55.3 229.2M59.3 228.1L60 228L60.4 227.8L60.5 227.8L60.5 227.5L60.5 227.5L60.1 227.3L59.9 227.2L59.4 227.2L58.9 227.2L58.2 227.2L57.9 227.5L57.9 227.6L58 227.8L58 227.8L58.3 228L58.4 228L59.2 228.1L59.3 228.1M63.4 227L64.1 226.9L64.4 226.7L64.4 226.7L64.5 226.4L64.4 226.4L64.1 226.2L64 226.2L63.4 226.1L63 226.1L62.3 226.1L61.9 226.3L61.9 226.5L61.9 226.7L61.9 226.8L62.4 227L62.5 227L63.2 227L63.4 227M67.6 226L68.1 225.9L68.5 225.6L68.5 225.6L68.5 225.3L68.3 225.2L68.1 225.1L68.1 225.1L67.4 225L67 225L66.4 225L66.2 225L66.1 225.1L65.9 225.2L65.8 225.5L65.8 225.5L65.8 225.7L66.3 225.9L66.7 226L67.1 226L67.6 226M71 225L71.7 224.9L72.3 224.8L72.5 224.6L72.6 224.5L72.6 224.3L72.6 224.2L72.3 224L72.1 224L71.5 224L71 223.9L70.6 223.9L70.1 223.9L69.7 224L69.7 224.2L69.6 224.4L69.6 224.5L69.7 224.7L70.1 224.9L70.9 225L71 225M41 232.2L40.7 232.2L40.3 232.2L39.7 232.2L39.1 232.1L39.1 232L39 232L38.8 231.8L38.9 231.6L39.1 231.5L39.2 231.4L39.6 231.3L39.9 231.3L40.7 231.3L40.8 231.4L41.3 231.5L41.3 231.6L41.4 231.7L41.3 231.9L41.1 232.1L41 232.2M36.6 233.1L36.2 233.1L35.7 233L35.5 233L35.3 232.9L35.3 232.8L35.5 232.6L36 232.5L36.3 232.5L36.9 232.6L37 232.9L37 232.9L36.6 233.1M45.3 228.7L45.3 228.7L44.4 228.6L44.4 228.6L43.8 228.5L43.7 228.3L43.7 228.3L43.8 228L44.3 227.9L45.1 227.9L45.2 227.9L45.8 228L46.1 228.2L46 228.3L45.9 228.5L45.9 228.6L45.3 228.7M41 229.6L40.7 229.6L40.1 229.5L40 229.3L40 229.2L40.4 229L40.9 229L41.2 229L41.6 229.1L41.9 229.3L41.9 229.3L41.6 229.6L41 229.6M37.2 230.5L36.6 230.4L36.7 230.3L37.3 230.3L37.2 230.5" stroke="#48cb86" stroke-width="0.5" fill="none"/><path d="M33.2 234.8L33.3 234.7L32.9 234.5L32.5 234.5M30.6 233.7L30.8 233.4L31.3 233.3L32.1 233.3L32.4 233.3L32.9 233.3L33.6 233.2L33.7 233.2L33.7 233.2L34 233L34.1 232.8L34.1 232.7L34.2 232.5L34.2 232.4L34.3 232.2L33.9 232L33.3 232L33 232L32.3 231.9L32.2 231.9L31.7 231.8L31.5 231.6L31.5 231.5L31.6 231.2L31.6 231.2M28 232.5L27.9 232.5L28.2 232.2L28.7 232.1L29.4 232.1L29.5 232.1L30 232.2L30.3 232.4L30.2 232.4L30.1 232.7L29.6 232.9L28.7 232.8M32.7 230.9L33.3 230.9L33.8 230.9L34.2 231L34.6 231L34.6 231.1L34.7 231.2L34.6 231.5L34.6 231.5L34.5 231.8L34.5 231.8L34.7 232.1L35 232L35.7 232.1L35.9 232.1L36.7 232.1L36.9 232L37.4 232L37.5 231.9L37.7 231.8L37.8 231.5L37.8 231.5L37.8 231.3L37.3 231.1L36.8 231L36.6 231L35.8 230.9L35.8 230.9L35.1 230.8L35.1 230.6L35.1 230.6L35.2 230.3L35.2 230.2M37.1 229.7L37.1 229.7L37.9 229.7L38.5 229.6L38.8 229.4L38.9 229.3M41.4 228.6L41.8 228.6L42.4 228.5L42.5 228.3M45.7 227.5L45.8 227.5L46.2 227.3L46.2 227.3M65.5 222.2L65.5 222.2L66 222.1L66 222M38.3 235.6L39 235.6L39.4 235.4L39.4 235.3L39.1 235.1L38.6 235.1L38.2 235.1L37.9 235.1L37.8 235.2L37.7 235.4L37.8 235.5L38.3 235.6L38.3 235.6M35.6 234.5L36.3 234.4L36.7 234.2L36.8 234.1L36.8 233.9L36.8 233.8L36.4 233.6L36 233.5L35.7 233.5L35 233.5L34.7 233.5L34.3 233.5L34.2 233.6L34 233.8L34 234L34 234.1L33.9 234.3L34.4 234.4L34.7 234.4L35.3 234.5L35.6 234.5M40.1 233.2L40.1 233.2L40.4 233L40.4 232.8L40 232.6L39.5 232.6L39.2 232.6L38.7 232.6L38.4 232.8L38.4 232.8L38.4 233.1L38.9 233.2L39.4 233.3L40 233.2L40.1 233.2M43.8 232L43.9 231.9L43.5 231.7L43.2 231.7L42.8 231.9L42.8 231.9L43 232L43.3 232L43.8 232M40.6 230.9L41.2 230.8L41.5 230.6L41.5 230.5L41.4 230.3L41 230.1L40.3 230L40.2 230L39.4 230L39 230.2L39 230.4L38.9 230.5L38.9 230.7L39.3 230.9L39.7 230.9L40.1 230.9L40.6 230.9M44.5 229.8L45 229.6L45.1 229.6L45.2 229.3L45.2 229.3L44.7 229.1L44.6 229.1L43.8 229.1L43.7 229.1L43.3 229.2L43.3 229.2L43.2 229.5L43.4 229.6L43.5 229.7L43.6 229.7L44.4 229.8L44.5 229.8M48.4 228.6L48.8 228.5L48.9 228.3L48.4 228.1L48 228.1L47.5 228.2L47.4 228.4L47.8 228.6L48.4 228.6M52.3 227.5L52.7 227.3L52.7 227.3L52.4 227.2L52.2 227.1L51.7 227.2L51.6 227.3L52 227.5L52.3 227.5M56.3 226.4L56.4 226.3L55.9 226.1L55.8 226.1L55.7 226.2L56.1 226.4L56.3 226.4M60.3 225.3L60.4 225.2L59.9 225.1L59.8 225.1L59.8 225.1L60.1 225.3L60.3 225.3M63.8 224.3L64.5 224.2L64.5 224.1L64.1 224L63.8 224L63.5 224.1L63.6 224.2L63.8 224.3L63.8 224.3M68.1 223.3L68.6 223.2L68.7 223L68.3 222.8L67.8 222.8L67.3 223L67.3 223.1L67.6 223.3L68.1 223.3" stroke="#c8c129" stroke-width="0.5" fill="none"/><g stroke-width="0.4" stroke-linejoin="round"><path fill="#249fe5" stroke="#249fe5" d="M77.4 217.1l1 .9-.8-1.8-1-.8z"/><path fill="#1fa5e2" stroke="#1fa5e2" d="M74.3 219.9l1-3.8-.8-1.8-1 3.8z"/><path fill="#1aabdd" stroke="#1aabdd" d="M78.2 214.3l1 .8-.8 2.9-1-.9zM66.1 216.3l1 1.9-.8-2.3-1-2z"/><path fill="#13b0d7" stroke="#13b0d7" d="M74.2 213.9l1 .8-.8-2.3-1-.9zM70.1 215.2l1 1.5-.8-2.4-1-1.4zM70.9 212.6l1 1.4-.8 2.7-1-1.5zM76.3 214.1l1.1 3-.8-1.7-1.1-3.1zM67.1 218.2l1-3.4-.8-2.4-1 3.5zM72.5 216.7l1 1.4-.8-4.4-1-1.5z"/><path fill="#07b5cf" stroke="#07b5cf" d="M75 211.3l1 .8-.8 2.6-1-.8zM71.1 216.7l1-3.8-.8-2.4-1 3.8zM76.6 215.4l1 .8-.8-4.5-1-.8zM79 214.4l1 .8-.8-.1-1-.8zM67.9 215.6l1-3.4-.8 2.6-1 3.4z"/><path fill="#01b9c7" stroke="#01b9c7" d="M71.9 214l1-3.8-.8 2.7-1 3.8zM73.5 218.1l1-3.8-.8-4.4-1 3.8zM75.3 216.1l1-2-.8-1.8-1 2zM77.1 211.2l1.1 3.1-.8 2.8-1.1-3z"/><path fill="#09bdbe" stroke="#09bdbe" d="M66.9 211.7l1 1.4-.8-2.9-1-1.4zM67.7 209.4l1 1.4-.8 2.3-1-1.4zM63.9 214.7l1-3.4-.8-3-1 3.4zM62.9 212.7l1 2-.8-3-1-1.9zM63.7 210.4l1 2-.8 2.3-1-2zM69.1 212.4l1 2.8-.8-2.3-1-2.9zM59.8 215.9l1-3-.7-2.9-1.1 3zM71.7 212.2l1 1.5-.8.3-1-1.4zM58.8 213.5l1 2.4-.8-2.9-1-2.5zM60.6 213.6l1-3-.8 2.3-1 3zM59.6 211.2l1 2.4-.8 2.3-1-2.4zM76.1 213.2l1-2-.8 2.9-1 2z"/><path fill="#1bc0b4" stroke="#1bc0b4" d="M71 210.4l1 .8-.8-2.9-1-.9zM71.8 208l1 .9-.8 2.3-1-.8zM67.9 213.1l1.1-3.8-.8-2.9-1.1 3.8zM73.2 210.9l1 3-.8-2.4-1-3zM74 208.2l1 3.1-.8 2.6-1-3zM75.8 210.9l1 .8-.8.4-1-.8zM69.3 212.9l1 1.4-.8-4.3-1-1.4zM64.7 212.4l1-3.5-.8 2.4-1 3.4zM72.7 213.7l1-3.8-.8.3-1 3.8zM66.3 215.9l1-3.5-.8-4.3-1 3.5zM68.1 214.8l1-2.4-.8-2.4-1 2.4zM69.9 209.7l1 2.9-.8 2.6-1-2.8zM65.3 213.9l1 2-.8-4.3-1-2zM77.9 211.4l1.1 3-.8-.1-1.1-3.1z"/><path fill="#28c3ab" stroke="#28c3ab" d="M73.4 211.5l1 .9-.8-4.3-1-.9zM68.7 210.8l1-3.8-.7 2.3-1.1 3.8zM70.3 214.3l1-3.8-.8-4.3-1 3.8zM72.1 212.9l1.1-2-.8-2.4-1.1 2zM75.5 212.3l1.1 3.1-.8-4.5-1.1-3zM68.9 212.2l1-2.5-.8 2.7-1 2.4z"/><path fill="#31c5a1" stroke="#31c5a1" d="M60.5 206.9l1 2-.8 1.9-1-1.9zM68.5 208.6l1 1.4-.8.8-1-1.4zM57.4 210.1l1.1-3-.8 2-1.1 3zM56.4 207.7l1 2.4-.8 2-1-2.5zM72.9 210.2l1.1-2-.8 2.7-1.1 2zM65.5 211.6l1-3.5-.8.8-1 3.5zM64.5 209.6l1 2-.8.8-1-2zM53.4 211l1-2.5-.8 2-1 2.5zM74.5 214.3l1-2-.8-4.4-1 2zM61.4 212.8l1-3-.8.8-1 3z"/><path fill="#39c895" stroke="#39c895" d="M68.6 204.5l1 .9-.8 1.9-1-.8zM63.7 207.8l1 1.4-.8-3.4-1-1.4zM64.5 205.9l1 1.4-.8 1.9-1-1.4zM70 207.3l1 3.1-.8-3-1-3zM60.7 210.8l1-3.4-.8-3.5-1 3.4zM70.8 205l1 3-.8 2.4-1-3.1zM72.6 207.2l1 .9-.8.8-1-.9zM59.7 208.9l1 1.9-.8-3.5-1-1.9zM61.5 208.9l1-3.5-.8 2-1 3.4zM65.9 208.8l1 2.9-.8-2.9-1-2.9zM69.5 210l1-3.8-.8.8-1 3.8zM56.6 212.1l1.1-3-.8-3.5-1.1 3zM64.9 211.3l1-2.5-.8-2.9-1 2.4zM66.7 206.5l1 2.9-.8 2.3-1-2.9zM62.1 209.8l1 1.9-.8-4.1-1-1.9zM55.6 209.6l1 2.5-.8-3.5-1-2.5zM65.7 208.9l1-2.4-.8 2.3-1 2.5zM74.7 207.9l1.1 3-.8.4-1-3.1zM68.3 210l1 2.9-.8-4.3-1-2.9zM61.9 210.1l1 2.6-.8-2.9-1-2.6zM52.6 213l1-2.5-.8-3.5-1 2.5zM60.8 212.9l1.1-2.8-.8-2.9-1 2.8zM62.7 207.8l1 2.6-.8 2.3-1-2.6zM51.6 210.1l1 2.9-.8-3.5-1-2.9zM61.6 210.6l1.1-2.8-.8 2.3-1.1 2.8zM52.4 208.1l1 2.9-.8 2-1-2.9zM70.7 209.4l1 2.8-.8.4-1-2.9zM64.3 211.3l1 2.6-.8-4.3-1-2.6zM57.8 211.2l1 2.3-.8-3-1-2.2zM55 213.9l1-2.5-.8-4.1-1 2.5zM48.5 213.6l1.1-2-.8-3.5-1 2zM69.7 211.8l1-2.4-.8.3-1 2.5zM56.8 214.3l1-3.1-.8-2.9-1 3.1z"/><path fill="#45cb89" stroke="#45cb89" d="M67.8 206.5l1 .8-.8-3.4-1-.9zM64.7 209.2l1.1-3.7-.8-3.5-1.1 3.8zM65.5 207.3l1.1-3.8-.8 2-1.1 3.7zM69 209.3l1-2-.8-2.9-1 2zM66.1 208.8l1 1.4-.8-4.1-1-1.4zM69.7 207l1.1-2-.8 2.3-1 2zM72.4 208.5l1 3-.8-4.3-1-3zM63.1 211.7l1-3.4-.8-4.1-1 3.4zM59 213l1.1-3-.8-4.1-1.1 3zM73.7 209.9l1-2-.7.3-1.1 2zM67.3 212.4l1-2.4-.8-4.3-1 2.4zM58 210.5l1 2.5-.8-4.1-1-2.5zM63.2 214.1l1.1-2.8-.8-4.3-1.1 2.8z"/><path fill="#55cc7b" stroke="#55cc7b" d="M70.2 207.4l1 .9-.8-4.1-1-.9zM65.3 204.7l1 1.4-.8 1.2-1-1.4zM67.1 210.2l1.1-3.8-.8-4.1-1.1 3.8zM61.3 205.7l1 1.9-.8 1.3-1-2zM71.3 210.5l1.1-2-.8-4.3-1.1 2zM67.5 205.7l1 2.9-.8.8-1-2.9zM58.2 208.9l1.1-3-.8 1.2-1.1 3zM57.2 206.4l1 2.5-.8 1.2-1-2.4zM63.5 207l1 2.6-.8.8-1-2.6zM54.2 209.8l1-2.5-.8 1.2-1 2.5z"/><path fill="#67cd6d" stroke="#67cd6d" d="M67.6 201.5l1 3-.8 2-1-3zM69.4 203.3l1 .9-.8 1.2-1-.9zM63.5 203l1 2.9-.8 1.9-1-2.8zM71.6 204.2l1 3-.8.8-1-3zM58.7 206.3l1 2.6-.8-3.5-1-2.6zM62.3 207.6l1-3.4-.8 1.2-1 3.5zM59.5 204.3l1 2.6-.8 2-1-2.6zM58.5 207.1l1-2.8-.8 2-1 2.8zM66.5 208.1l1-2.4-.8.8-1 2.4zM53.6 210.5l1-3.2-.8-3.4-1 3.1zM55.4 205.4l1 2.3-.8 1.9-1-2.3zM54.4 208.5l1-3.1-.8 1.9-1 3.2zM62.4 209.8l1.1-2.8-.8.8-1.1 2.8zM53.2 206.9l1 2.9-.8 1.2-1-2.9z"/><path fill="#7acc5e" stroke="#7acc5e" d="M66.8 203.5l1 3-.8-3.5-1-3zM62.7 205l1 2.8-.8-3.4-1-2.9zM66.3 206.1l1.1-3.8-.8 1.2-1.1 3.8zM61.7 207.4l1-2.4-.8-3.5-1 2.4zM62.5 205.4l1-2.4-.8 2-1 2.4zM65.1 205.9l1 2.9-.8-4.1-1-2.9zM70.5 206.2l1.1-2-.8.8-1.1 2zM57.7 209.1l1-2.8-.8-3.5-1 2.8zM61.1 207.2l1 2.6-.8-4.1-1-2.6zM54.6 207.3l1 2.3-.8-3.5-1-2.2zM60.1 210l1-2.8-.8-4.1-1 2.8zM57 208.3l1 2.2-.8-4.1-1-2.2zM50.6 208.2l1 1.9-.8-3.5-1-1.9zM56 211.4l1-3.1-.8-4.1-1 3.1zM49.6 211.6l1-3.4-.8-3.5-1 3.4zM51.4 206.3l1 1.8-.8 2-1-1.9z"/><path fill="#8ecb4f" stroke="#8ecb4f" d="M65.8 205.5l1-2-.8-3.5-1 2zM66.6 203.5l1-2-.8 2-1 2zM69.2 204.4l1 3-.8-4.1-1-3zM64.1 208.3l1-2.4-.8-4.1-1 2.4z"/><path fill="#a1c840" stroke="#a1c840" d="M68.4 200.3l1 3-.8 1.2-1-3zM68.2 206.4l1-2-.8-4.1-1 2zM64.3 201.8l1 2.9-.8 1.2-1-2.9zM63.3 204.2l1-2.4-.8 1.2-1 2.4zM60.3 203.1l1 2.6-.8 1.2-1-2.6zM59.3 205.9l1-2.8-.8 1.2-1 2.8zM56.2 204.2l1 2.2-.8 1.3-1-2.3zM55.2 207.3l1-3.1-.8 1.2-1 3.1z"/><path fill="#b3c534" stroke="#b3c534" d="M67.4 202.3l1-2-.8 1.2-1 2z"/><path fill="#327cfc" stroke="#327cfc" d="M83.7 222.6l1 .8-.7-.5-1.1-.8z"/><path fill="#2e84f9" stroke="#2e84f9" d="M76.5 221.3l1 1.5-.8-1.2-1-1.4z"/><path fill="#2d8bf4" stroke="#2d8bf4" d="M80.5 220l1.1.8-.8-1.1-1.1-.8z"/><path fill="#2b92ee" stroke="#2b92ee" d="M77.5 222.8l1-3.8-.8-1.2-1 3.8zM82.9 222.1l1.1.8-.8-4.4-1.1-.9zM77.3 218.3l1 1.4-.8 3.1-1-1.5zM82.7 219.6l1 3-.8-.5-1-3zM84.5 219.5l1 .8-.8 3.1-1-.8z"/><path fill="#2699e9" stroke="#2699e9" d="M73.3 218.5l1 1.4-.8-1.8-1-1.4zM81.3 217l1.1.8-.8 3-1.1-.8zM69.3 219.5l1 1.9-.8-1.7-1-2zM66.2 222.7l1-3-.8-1.8-1 3zM65.2 220.2l1 2.5-.8-1.8-1-2.4z"/><path fill="#249fe5" stroke="#249fe5" d="M70.3 221.4l1-3.4-.8-1.7-1 3.4zM75.7 220.2l1 1.4-.8-4.5-1-1.4zM70.1 216.6l1 2-.8 2.8-1-1.9zM78.3 219.7l1-3.7-.8 3-1 3.8zM75.5 218.5l1 2.8-.8-1.1-1-2.8zM71.6 221.2l1.1 2-.8-4.5-1.1-2z"/><path fill="#1fa5e2" stroke="#1fa5e2" d="M79.7 218.9l1.1.8-.8-4.5-1-.8zM74.1 215.6l1 1.4-.8 2.9-1-1.4zM79.5 217l1 3-.8-1.1-1-3zM71.1 218.6l1-3.4-.8 2.8-1 3.4zM72.7 223.2l1-3.4-.8-4.5-1 3.4zM74.5 220.9l1-2.4-.8-1.1-1 2.4zM78.1 218.9l1 1.5-.8-.7-1-1.4z"/><path fill="#1aabdd" stroke="#1aabdd" d="M75.1 217l1-3.8-.8 2.9-1 3.8zM63 219.5l1-3-.8-2.4-1 3zM62 217l1 2.5-.8-2.4-1-2.4zM76.7 221.6l1-3.8-.8-4.5-1 3.8zM78.5 219l1-2-.8-1.1-1 1.9zM82.1 217.6l1.1.9-.8-.7-1.1-.8zM59 220.4l1-2.5-.8-2.4-1 2.5zM81.9 219.1l1 3-.8-4.5-1-3zM79.1 220.4l1-3.8-.8-.6-1 3.7zM76.3 215.5l1 2.8-.8 3-1-2.8z"/><path fill="#13b0d7" stroke="#13b0d7" d="M66.9 213.6l1 2-.8 2.6-1-1.9zM72.3 215.6l1 2.9-.8-1.8-1-2.9zM74.9 215.7l1 1.4-.8-.1-1-1.4zM68.5 217.7l1 2-.8-4.5-1-1.9zM63.8 216.8l1-3-.8 2.7-1 3zM80.3 214l1 3-.8 3-1-3zM62.8 214.4l1 2.4-.8 2.7-1-2.5zM68.2 216.9l1.1 2.6-.8-1.8-1.1-2.6zM65.4 220.9l1-3-.8-4.4-1 3zM67.2 219.7l1-2.8-.8-1.8-1 2.8zM70.8 216.7l1.1 2-.8-.1-1-2zM64.4 218.5l1 2.4-.8-4.4-1-2.5zM58 217.5l1 2.9-.8-2.4-1-2.9zM59.8 217.7l1-2.5-.8 2.7-1 2.5zM80.9 221.1l1-2-.8-4.5-1 2z"/><path fill="#07b5cf" stroke="#07b5cf" d="M78.7 215.9l1 3-.7-4.5-1.1-3zM69.5 219.7l1-3.4-.8-4.5-1 3.4zM71.3 218l1-2.4-.8-1.8-1 2.5zM73.1 212.7l1 2.9-.8 2.9-1-2.9zM79.3 216l1-2-.8 3-1 2zM74.7 217.4l1 2.8-.8-4.5-1-2.8zM71.9 218.7l1-3.4-.8-.1-1 3.4zM69 214l1.1 2.6-.8 2.9-1.1-2.6zM68 216.8l1-2.8-.8 2.9-1 2.8zM58.8 214.9l1 2.8-.8 2.7-1-2.9z"/><path fill="#01b9c7" stroke="#01b9c7" d="M75.9 217.1l1-3.8-.8-.1-1 3.8zM72.1 215.2l1-2.5-.8 2.9-1 2.4zM81.1 214.6l1 3-.8-.6-1-3zM73.7 219.8l1-2.4-.8-4.5-1 2.4z"/><path fill="#09bdbe" stroke="#09bdbe" d="M65.1 213.7l1 2.6-.8-2.4-1-2.6zM68.7 215.2l1-3.4-.8.4-1 3.4zM55.8 216.8l1-2.5-.8-2.9-1 2.5zM64 216.5l1.1-2.8-.8-2.4-1.1 2.8zM67.7 213.3l1 1.9-.8.4-1-2zM54.8 214l1 2.8-.8-2.9-1-2.9zM56.6 214.5l1-2.5-.8 2.3-1 2.5zM77.7 217.8l1-1.9-.8-4.5-1 1.9zM61 214.8l1 2.2-.8-2.3-1-2.3zM64.6 216.5l1-3-.8.3-1 3zM51.7 217.4l1-1.9-.7-3-1.1 2zM60 217.9l1-3.1-.8-2.4-1 3.1zM63.6 214l1 2.5-.8.3-1-2.4zM80.1 216.6l1-2-.8-.6-1 2zM52.5 215.1l1-2-.8 2.4-1 1.9z"/><path fill="#1bc0b4" stroke="#1bc0b4" d="M71.5 213.8l1 2.9-.8-4.5-1-2.8zM62.2 217.1l1-3-.8-4.3-1 3zM65.9 211l1 2.6-.8 2.7-1-2.6zM61.2 214.7l1 2.4-.8-4.3-1-2.5zM64.8 213.8l1.1-2.8-.8 2.7-1.1 2.8zM55.6 211.6l1 2.9-.8 2.3-1-2.8zM73.9 212.9l1 2.8-.8-.1-1-2.9zM67.4 215.1l1.1 2.6-.8-4.4-1.1-2.6zM58.2 218l1-2.5-.8-4.3-1 2.5zM66.4 217.9l1-2.8-.8-4.4-1 2.8zM61.8 212.1l1 2.3-.8 2.6-1-2.2zM57.2 215.1l1 2.9-.8-4.3-1-2.9zM50.7 214.2l1 3.2-.8-2.9-1-3.3zM60.8 215.2l1-3.1-.8 2.7-1 3.1zM69.8 214.2l1 2.5-.7-.1-1.1-2.6zM63.4 216.2l1 2.3-.8-4.5-1-2.2zM57 215.6l1 1.9-.8-2.4-1-1.8z"/><path fill="#28c3ab" stroke="#28c3ab" d="M70.5 216.3l1-2.5-.8-4.4-1 2.4zM72.9 215.3l1-2.4-.8-.2-1 2.5zM51.5 211.9l1 3.2-.8 2.3-1-3.2z"/><path fill="#31c5a1" stroke="#31c5a1" d="M60.4 210.3l1 2.5-.8.8-1-2.4zM76.9 213.3l1-1.9-.8-.2-1 2zM66.6 210.7l1.1 2.6-.8.3-1-2.6zM57.4 213.7l1-2.5-.8.8-1 2.5zM56.4 210.8l1 2.9-.8.8-1-2.9zM53.3 214.3l1-2-.8.8-1 2zM61.6 214.9l1-3.1-.8.3-1 3.1z"/><path fill="#39c895" stroke="#39c895" d="M58.6 208.9l1 2.3-.8 2.3-1-2.3zM49.3 211.6l1.1-2-.8 2-1.1 2zM57.6 212l1-3.1-.8 2.3-1 3.1zM53.8 212.1l1 1.9-.8-3-1-1.9zM65.6 213.5l1-2.8-.7.3-1.1 2.8zM59.2 215.5l1-3.1-.8-4.3-1 3.1zM52.7 215.5l1.1-3.4-.8-3-1 3.4zM54.6 209.8l1 1.8-.8 2.4-1-1.9zM45.3 211.9l1-1.4-.8 1.9-1 1.4zM53.5 213.1l1.1-3.3-.8 2.3-1.1 3.4zM62.6 211.8l1 2.2-.8.4-1-2.3zM55.1 216.7l1.1-3.4-.8-4.4-1.1 3.4zM48.7 216.3l1-3.6-.8-2.9-1 3.6z"/><path fill="#45cb89" stroke="#45cb89" d="M54 211l1 2.9-.8-4.1-1-2.9zM47.5 210.3l1 3.3-.7-3.5-1.1-3.3zM48.3 208.4l1 3.2-.8 2-1-3.3zM60.2 212.4l1 2.3-.8-4.4-1-2.2zM50.9 214.5l1.1-2-.8-4.1-1.1 2zM44.5 213.8l1-1.4-.8-3.4-1 1.3zM56.2 213.3l1 1.8-.8-4.3-1-1.9zM49.7 212.7l1 1.5-.8-3-1-1.4zM50.5 210.4l1 1.5-.8 2.3-1-1.5z"/><path fill="#55cc7b" stroke="#55cc7b" d="M50.1 210.4l1.1-2-.8 1.2-1.1 2zM58.4 211.2l1-3.1-.8.8-1 3.1zM49.9 211.2l1 3.3-.8-4.1-1-3.3zM44.3 208.3l1 3.6-.8 1.9-1-3.5zM54.3 212.3l1.1-3.4-.8.9-1.1 3.3zM46.9 214.7l1-1.3-.8-4.1-1 1.3zM40.4 213.7l1.1-.7-.8-3.5-1.1.8z"/><path fill="#67cd6d" stroke="#67cd6d" d="M50.4 209.6l1-3.3-.8 1.9-1 3.4zM59.4 208.1l1 2.2-.8.9-1-2.3zM46.3 210.5l1-3.6-.8 2-1 3.5zM43.5 210.3l1 3.5-.8-3.5-1-3.5zM55.4 208.9l1 1.9-.8.8-1-1.8zM46.1 210.6l1-1.3-.8 1.2-1 1.4z"/><path fill="#7acc5e" stroke="#7acc5e" d="M52 212.5l1-3.4-.8-4.1-1 3.4zM45.5 212.4l1-3.5-.8-3.5-1 3.6zM49.1 207.1l1 3.3-.8 1.2-1-3.2zM42.3 211l1-3.7-.8 2-1 3.7z"/><path fill="#8ecb4f" stroke="#8ecb4f" d="M53 209.1l1 1.9-.8-4.1-1-1.9zM46.5 208.9l1 1.4-.8-3.5-1-1.4zM47.3 206.9l1 1.5-.8 1.9-1-1.4zM47.9 213.4l1-3.6-.8-4.1-1 3.6zM41.5 213l1-3.7-.8-3.5-1 3.7zM45.1 207.1l1 3.5-.8 1.3-1-3.6z"/><path fill="#a1c840" stroke="#a1c840" d="M52.2 205l1 1.9-.8 1.2-1-1.8zM51.2 208.4l1-3.4-.8 1.3-1 3.3zM47.1 209.3l1-3.6-.8 1.2-1 3.6zM48.9 209.8l1 1.4-.8-4.1-1-1.4zM42.5 209.3l1 1-.8-3.5-1-1zM43.3 207.3l1 1-.8 2-1-1z"/><path fill="#b3c534" stroke="#b3c534" d="M48.1 205.7l1 1.4-.8 1.3-1-1.5z"/><path fill="#c4c22b" stroke="#c4c22b" d="M44.1 206.1l1 1-.8 1.2-1-1z"/><path fill="#416cfe" stroke="#416cfe" d="M86.9 224.8l1 .9-.8.1-1-.8z"/><path fill="#3a74fe" stroke="#3a74fe" d="M79.7 223.9l1 1.4-.8-.5-1-1.4zM76.6 226.9l1.1-3.4-.8-.5-1 3.4zM75.6 224.9l1 2-.7-.5-1.1-1.9z"/><path fill="#327cfc" stroke="#327cfc" d="M80.7 225.3l1-3.8-.8-.4-1 3.7zM82.1 226.3l1 1.4-.8-4.3-1-1.4z"/><path fill="#2e84f9" stroke="#2e84f9" d="M72.4 222.4l1.1 1.9-.8-1.1-1.1-2zM86.1 225l1 .8-.8-4.3-1-.9zM69.4 225.6l1-3-.8-1.1-1 3zM87.7 221.8l1 .8-.8 3.1-1-.9zM68.4 223.1l1 2.5-.8-1.1-1-2.5zM83.1 227.7l1-3.8-.8-4.3-1 3.8z"/><path fill="#2d8bf4" stroke="#2d8bf4" d="M73.5 224.3l1-3.4-.8-1.1-1 3.4zM78.9 223.4l1 1.4-.8-4.4-1-1.5zM80.5 220.8l1 1.4-.8 3.1-1-1.4zM85.9 221.8l1 3-.8.2-1-3.1zM74.8 224.5l1.1 1.9-.8-4.5-1.1-1.9z"/><path fill="#2b92ee" stroke="#2b92ee" d="M73.2 219.4l1.1 1.9-.8 3-1.1-1.9zM81.5 222.2l1-3.7-.8 3-1 3.8zM78.7 221.1l1 2.8-.8-.5-1-2.8zM75.9 226.4l1-3.4-.8-4.5-1 3.4zM70.2 222.6l1-3-.8 3-1 3zM84.9 223.8l1-2-.8.1-1 2zM88.5 223.4l1 .8-.8-1.6-1-.8zM69.2 220.1l1 2.5-.8 3-1-2.5z"/><path fill="#2699e9" stroke="#2699e9" d="M79.9 224.8l1-3.7-.8-4.5-1 3.8zM74.3 221.3l1-3.4-.8 3-1 3.4zM62.2 223.6l1-2.5-.8-1.8-1 2.5zM85.1 221.9l1 3.1-.8-4.4-1-3zM77.7 223.5l1-2.4-.8-.5-1 2.4zM81.3 222l1 1.4-.8-1.2-1-1.4z"/><path fill="#249fe5" stroke="#249fe5" d="M67 219.8l1-3-.8 2.9-1 3zM81.7 221.5l1-1.9-.8-.5-1 2zM85.3 220.6l1 .9-.8-1.2-1-.8zM66 217.4l1 2.4-.8 2.9-1-2.5zM71.4 219.8l1 2.6-.8-1.2-1-2.5zM68.6 224.5l1-3-.8-4.5-1 3zM70.4 222.6l1-2.8-.8-1.1-1 2.8zM67.6 222l1 2.5-.8-4.5-1-2.5zM61.2 220.7l1 2.9-.8-1.8-1-2.8zM82.3 223.4l1-3.8-.8-1.1-1 3.7zM63 220.7l1-2.5-.8 2.9-1 2.5zM79.5 218l1 2.8-.8 3.1-1-2.8zM86.7 218.8l1 3-.8 3-1-3zM67.4 220.9l1 2.2-.8-1.1-1-2.3z"/><path fill="#1fa5e2" stroke="#1fa5e2" d="M83.5 216.5l1 3-.8 3.1-1-3zM77.9 220.6l1 2.8-.8-4.5-1-2.8zM75.1 221.9l1-3.4-.8-.6-1 3.4zM74 220l1.1 1.9-.8-.6-1.1-1.9zM84.1 223.9l1-2-.8-4.3-1 2zM62 217.9l1 2.8-.8 2.9-1-2.9zM78.5 220.4l1-2.4-.8 3.1-1 2.4zM73.8 221.9l1 2.6-.8-4.5-1-2.6z"/><path fill="#1aabdd" stroke="#1aabdd" d="M82.5 218.5l1-2-.8 3.1-1 1.9zM76.9 223l1-2.4-.8-4.5-1 2.4zM72.2 216.8l1 2.6-.8 3-1-2.6zM71.2 219.6l1-2.8-.8 3-1 2.8z"/><path fill="#13b0d7" stroke="#13b0d7" d="M75.3 217.9l1-2.4-.8 3-1 2.4zM64.2 218l1 2.2-.8-1.7-1-2.3zM67.8 220l1-3-.8-.2-1 3zM61.4 221.8l1-2.5-.8-4.4-1 2.5zM54.9 221l1-2-.8-2.3-1 1.9zM63.2 221.1l1-3.1-.8-1.8-1 3.1zM84.3 217.6l1 3-.8-1.1-1-3zM66.8 217.5l1 2.5-.8-.2-1-2.4zM55.7 218.3l1-1.9-.8 2.6-1 2zM63.8 220.9l1-2.5-.8-.2-1 2.5zM57.3 222.4l1-1.9-.8-4.5-1 2zM50.9 221.2l1-1.3-.8-2.4-1 1.4zM59.1 222.2l1-3.4-.8-1.7-1 3.4zM80.3 219.1l1 2.9-.8-1.2-1-2.8z"/><path fill="#07b5cf" stroke="#07b5cf" d="M70.6 218.7l1 2.5-.8-4.5-1-2.5zM69.6 221.5l1-2.8-.8-4.5-1 2.8zM65 215.1l1 2.3-.8 2.8-1-2.2zM60.4 219l1 2.8-.8-4.4-1-2.9zM53.9 217.7l1 3.3-.8-2.4-1-3.2zM83.3 219.6l1-2-.8-1.1-1 2zM64 218.2l1-3.1-.8 2.9-1 3.1zM73 217.4l1 2.6-.8-.6-1-2.6zM66.6 219.7l1 2.3-.8-4.5-1-2.3zM60.1 218.8l1.1 1.9-.8-1.7-1.1-1.9zM65.6 222.9l1-3.2-.8-4.5-1 3.2z"/><path fill="#01b9c7" stroke="#01b9c7" d="M77.1 216.1l1 2.8-.8-.6-1-2.8zM76.1 218.5l1-2.4-.8-.6-1 2.4zM54.7 215.1l1 3.2-.8 2.7-1-3.3zM72 220.2l1-2.8-.8-.6-1 2.8zM60.9 216l1.1 1.9-.8 2.8-1.1-1.9z"/><path fill="#09bdbe" stroke="#09bdbe" d="M60.6 217.4l1-2.5-.8.3-1 2.5zM55.9 219l1.1-3.4-.8-2.3-1.1 3.4zM59.6 214.5l1 2.9-.8.3-1-2.8zM56.5 218l1-2-.8.4-1 1.9z"/><path fill="#1bc0b4" stroke="#1bc0b4" d="M54.1 218.6l1-1.9-.8-4.4-1 2zM47.7 217.7l1-1.4-.8-2.9-1 1.3zM68.8 217l1-2.8-.8-.2-1 2.8zM62.4 219.3l1-3.1-.8-4.4-1 3.1zM48.5 215.3l1-1.3-.8 2.3-1 1.4zM56.7 216.4l1.1-3.4-.8 2.6-1.1 3.4zM65.8 215.2l1 2.3-.8-.1-1-2.3zM64.8 218.4l1-3.2-.8-.1-1 3.1zM58.3 220.5l1-3.4-.8-4.5-1 3.4zM51.9 219.9l1-3.6-.8-2.4-1 3.6zM55.5 214.7l1 3.3-.8.3-1-3.2zM52.7 217.2l1-3.6-.8 2.7-1 3.6z"/><path fill="#28c3ab" stroke="#28c3ab" d="M57.8 213l1 1.9-.8 2.6-1-1.9zM53.1 215.4l1 3.2-.8-4.3-1-3.2zM59.3 217.1l1.1 1.9-.8-4.5-1.1-1.9zM52.9 216.3l1 1.4-.8-2.3-1-1.5zM50.1 218.9l1-1.4-.8-4.3-1 1.3zM43.6 217.6l1-.8-.7-2.9-1.1.8zM44.4 215.3l1-.8-.8 2.3-1 .8z"/><path fill="#31c5a1" stroke="#31c5a1" d="M46.7 214.2l1 3.5-.8-3-1-3.5zM47.5 211.8l1 3.5-.8 2.4-1-3.5zM53.7 213.6l1 1.5-.8 2.6-1-1.4z"/><path fill="#39c895" stroke="#39c895" d="M52.3 211.1l1 3.2-.8.8-1-3.2zM49.5 214l1-3.6-.8 2.3-1 3.6zM58.5 212.6l1.1 1.9-.8.4-1-1.9zM49.3 214.5l1-1.3-.8.8-1 1.3zM57.5 216l1-3.4-.7.4-1.1 3.4zM49.1 215.3l1 3.6-.8-4.4-1-3.5z"/><path fill="#45cb89" stroke="#45cb89" d="M51.1 217.5l1-3.6-.8-4.3-1 3.6zM44.6 216.8l1.1-3.6-.8-3-1 3.7zM45.4 214.5l1.1-3.7-.8 2.4-1.1 3.6zM42.6 213.9l1 3.7-.8-2.9-1-3.8zM54.5 213.3l1 1.4-.8.4-1-1.5z"/><path fill="#55cc7b" stroke="#55cc7b" d="M41.2 211.8l1.1-.8-.8 2-1.1.7zM52.1 213.9l1 1.5-.8-4.3-1-1.5zM48.3 211l1 3.5-.8.8-1-3.5z"/><path fill="#67cd6d" stroke="#67cd6d" d="M45.9 211.2l1 3.5-.8-4.1-1-3.5zM50.3 213.2l1-3.6-.8.8-1 3.6zM45.7 213.2l1 1-.8-3-1-1zM42.8 214.7l1.1-.8-.8-4.1-1.1.8zM46.5 210.8l1 1-.8 2.4-1-1zM37.2 211.4l1-.1-.8 1.9-1 .1zM48.1 214.3l1 1-.8-4.3-1-1z"/><path fill="#7acc5e" stroke="#7acc5e" d="M51.3 209.6l1 1.5-.8.8-1-1.5zM40.2 208.1l1 3.7-.8 1.9-1-3.7zM42 210.6l1.1-.8-.8 1.2-1.1.8zM36.4 213.3l1-.1-.8-3.5-1 .2zM46.2 213.7l1.1-3.7-.8.8-1.1 3.7zM41.6 213.4l1 .5-.8-3-1-.5z"/><path fill="#8ecb4f" stroke="#8ecb4f" d="M39.4 210l1 3.7-.8-3.4-1-3.8zM43.9 213.9l1-3.7-.8-4.1-1 3.7zM38.2 211.3l1-3.8-.8 2-1 3.7zM41.8 210.9l1 3.8-.8-4.1-1-3.8zM47.3 210l1 1-.8.8-1-1z"/><path fill="#a1c840" stroke="#a1c840" d="M37.4 213.2l1-3.7-.8-3.5-1 3.7zM36.2 207.5l1 3.9-.8 1.9-1-3.8zM38 210.2l1-.2-.8 1.3-1 .1z"/><path fill="#b3c534" stroke="#b3c534" d="M43.1 209.8l1-3.7-.8 1.2-1 3.7zM44.9 210.2l1 1-.8-4.1-1-1zM39.2 207.5l1 .6-.8 1.9-1-.5zM41 206.8l1 3.8-.8 1.2-1-3.7zM35.4 209.5l1 3.8-.8-3.4-1-3.9zM39.8 214.1l1-3.7-.8-4.1-1 3.7z"/><path fill="#c4c22b" stroke="#c4c22b" d="M38.4 209.5l1 .5-.8-3.5-1-.5zM39 210l1-3.7-.8 1.2-1 3.8zM40.8 210.4l1 .5-.8-4.1-1-.5zM33.4 213.1l1-3.6-.8-3.5-1 3.7z"/><path fill="#e2bc2b" stroke="#e2bc2b" d="M40 206.3l1 .5-.8 1.3-1-.6zM34.4 209.5l1 0-.8-3.5-1 0z"/><path fill="#475cfa" stroke="#475cfa" d="M90.1 226.8l1 .8-.8.8-1-.9z"/><path fill="#4564fd" stroke="#4564fd" d="M82.9 226.2l1 1.4-.8.1-1-1.4zM79.8 229.2l1-3.5-.7.2-1.1 3.4zM78.8 227.2l1 2-.8.1-1-2zM87.1 229.5l1-3.7-.8.7-1 3.8z"/><path fill="#416cfe" stroke="#416cfe" d="M85.3 228.9l1 1.4-.8-4.2-1-1.4z"/><path fill="#3a74fe" stroke="#3a74fe" d="M83.9 227.6l1-3.8-.8.1-1 3.8zM89.3 227.5l1 .9-.8-4.2-1-.8zM72.6 228.2l1-3-.8-.5-1 3zM71.6 225.7l1 2.5-.8-.5-1-2.5zM86.3 230.3l1-3.8-.8-4.1-1 3.7z"/><path fill="#327cfc" stroke="#327cfc" d="M83.7 223.1l1 1.4-.8 3.1-1-1.4zM79 229.3l1.1-3.4-.8-4.4-1.1 3.5zM89.1 223.8l1 3-.8.7-1-3zM90.9 223.9l1 .8-.8 2.9-1-.8zM78 227.3l1 2-.8-4.3-1-2z"/><path fill="#2e84f9" stroke="#2e84f9" d="M76.4 221.9l1 1.9-.8 3.1-1-2zM65.4 226.5l1-2.5-.8-1.1-1 2.5zM81.9 223.3l1 2.9-.8.1-1-2.8zM73.4 225.1l1-3-.8 3.1-1 3zM88.1 225.8l1-2-.8.7-1 2zM91.7 225.9l1 .9-.8-2.1-1-.8zM72.4 222.6l1 2.5-.8 3.1-1-2.5zM80.6 226.1l1-3.4-.8 3-1 3.5z"/><path fill="#2d8bf4" stroke="#2d8bf4" d="M77.4 223.8l1.1-3.4-.8 3.1-1.1 3.4zM84.7 224.5l1-3.7-.8 3-1 3.8zM71.8 227.7l1-3-.8-4.5-1 3zM88.3 224.5l1 3-.8-4.1-1-3zM70.8 225.2l1 2.5-.8-4.5-1-2.5zM64.3 223.6l1.1 2.9-.8-1.1-1.1-2.9zM80.8 225.7l1.1-2.4-.8.2-1 2.4zM84.5 224.7l1 1.4-.8-1.6-1-1.4z"/><path fill="#2b92ee" stroke="#2b92ee" d="M74.6 222.4l1 2.5-.8-.4-1-2.6zM73.6 225.2l1-2.8-.8-.5-1 2.8zM77.2 223l1 2-.8-1.2-1-1.9zM85.5 226.1l1-3.7-.8-1.6-1 3.7zM66.2 223.5l1-2.5-.8 3-1 2.5zM70.6 223.4l1 2.3-.8-.5-1-2.3z"/><path fill="#2699e9" stroke="#2699e9" d="M58.1 224.2l1-2-.8-1.7-1 1.9zM81.1 223.5l1 2.8-.8-4.3-1-2.9zM78.2 225l1.1-3.5-.8-1.1-1.1 3.4zM87.3 226.5l1-2-.8-4.1-1 2zM82.7 220.3l1 2.8-.8 3.1-1-2.9zM65.1 220.6l1.1 2.9-.8 3-1.1-2.9zM89.9 220.8l1 3.1-.8 2.9-1-3zM77 224.8l1 2.5-.8-4.3-1-2.6zM74.2 226.2l1-3-.8-1.1-1 3z"/><path fill="#249fe5" stroke="#249fe5" d="M64.6 225.4l1-2.5-.8-4.5-1 2.5zM66.4 224l1-3.1-.8-1.2-1 3.2zM80.1 225.9l1-2.4-.8-4.4-1 2.4zM75.4 219.3l1 2.6-.8 3-1-2.5zM60.5 225.9l1-1.9-.8-4.5-1 1.9zM81.6 222.7l1.1-2.4-.8 3-1.1 2.4zM54.1 224.4l1-1.3-.8-1.8-1 1.4zM62.3 225.1l1-3.4-.8-1.1-1 3.4z"/><path fill="#1fa5e2" stroke="#1fa5e2" d="M71 223.2l1-3-.8-.6-1 3zM85.7 220.8l1-2-.8 3-1 2zM72.8 224.7l1-2.8-.8-4.5-1 2.8zM87.5 220.4l1 3-.8-1.6-1-3zM70 220.7l1 2.5-.8-.6-1-2.5zM63.5 222.5l1.1 2.9-.8-4.5-1-2.9zM57.1 220.9l1 3.3-.8-1.8-1-3.2zM58.9 221.3l1-1.9-.8 2.8-1 2zM74.4 222.1l1-2.8-.8 3.1-1 2.8zM69.8 222.9l1 2.3-.8-4.5-1-2.2zM63.3 221.7l1 1.9-.8-1.1-1-1.9zM67 224.1l1-2.5-.8-.6-1 2.5zM68.8 226.1l1-3.2-.8-4.4-1 3.1zM83.5 221.9l1 2.8-.8-1.6-1-2.8zM65.9 221.2l1.1 2.9-.8-.6-1.1-2.9z"/><path fill="#1aabdd" stroke="#1aabdd" d="M68.2 217.9l1 2.2-.8 3-1-2.2zM67.2 221l1-3.1-.8 3-1 3.1zM57.9 218.1l1 3.2-.8 2.9-1-3.3zM76.2 220.4l1 2.6-.8-1.1-1-2.6zM59.5 222.7l1 3.2-.8-4.5-1-3.2zM53.1 220.9l1 3.5-.8-1.7-1-3.5z"/><path fill="#13b0d7" stroke="#13b0d7" d="M79.3 221.5l1-2.4-.8-1.1-1 2.4zM86.5 222.4l1-2-.8-1.6-1 2zM59.7 221.4l1-1.9-.8-.1-1 1.9zM55.1 223.1l1-3.6-.8-1.8-1 3.6zM75.2 223.2l1-2.8-.8-1.1-1 2.8zM64.1 218.7l1 1.9-.8 3-1-1.9z"/><path fill="#07b5cf" stroke="#07b5cf" d="M62.8 218l1 2.9-.8-.2-1-2.8zM51.7 218.6l1-1.4-.8 2.7-1 1.3zM59.9 219.4l1-3.4-.8 2.8-1 3.4zM53.3 222.7l1-1.4-.8-4.4-1 1.3zM68 221.6l1-3.1-.8-.6-1 3.1zM61.5 224l1-3.4-.8-4.5-1 3.4z"/><path fill="#01b9c7" stroke="#01b9c7" d="M56.3 219.2l1 3.2-.8-4.4-1-3.3zM49.9 217.7l1 3.5-.8-2.3-1-3.6zM69 218.5l1 2.2-.8-.6-1-2.2zM62.5 220.6l1 1.9-.7-4.5-1.1-1.9zM56.1 219.5l1 1.4-.8-1.7-1-1.5zM46.8 221.1l1-.7-.8-2.4-1 .8zM58.7 218.2l1 3.2-.8-.1-1-3.2zM47.6 218.5l1-.8-.8 2.7-1 .7zM55.9 220.2l1-3.6-.8 2.9-1 3.6z"/><path fill="#09bdbe" stroke="#09bdbe" d="M50.7 215.1l1 3.5-.8 2.6-1-3.5zM56.9 216.6l1 1.5-.8 2.8-1-1.4zM52.3 219.2l1 3.5-.8-4.5-1-3.5z"/><path fill="#1bc0b4" stroke="#1bc0b4" d="M52.5 218.2l1-1.3-.8.3-1 1.4zM60.7 219.5l1-3.4-.8-.1-1 3.4zM47.8 220.4l1.1-3.7-.8-2.4-1.1 3.7zM45.8 217.4l1 3.7-.8-2.3-1-3.7z"/><path fill="#28c3ab" stroke="#28c3ab" d="M61.7 216.1l1.1 1.9-.8-.1-1.1-1.9zM54.3 221.3l1-3.6-.8-4.4-1 3.6zM48.6 217.7l1.1-3.6-.8 2.6-1.1 3.7z"/><path fill="#31c5a1" stroke="#31c5a1" d="M55.3 217.7l1 1.5-.8-4.5-1-1.4zM48.9 216.7l1 1-.8-2.4-1-1zM46 218.8l1-.8-.8-4.3-1 .8zM51.5 214.7l1 3.5-.8.4-1-3.5zM57.7 216.8l1 1.4-.8-.1-1-1.5z"/><path fill="#39c895" stroke="#39c895" d="M53.5 216.9l1-3.6-.8.3-1 3.6zM39.6 217.2l1-.1-.8-3-1 .2zM49.7 214.1l1 1-.8 2.6-1-1zM40.4 214.9l1-.2-.8 2.4-1 .1zM51.2 218.2l1.1 1-.8-4.5-1.1-1z"/><path fill="#45cb89" stroke="#45cb89" d="M43.4 211.5l1 3.8-.8 2.3-1-3.7zM45.2 214.5l1-.8-.8.8-1 .8zM49.4 217.4l1-3.7-.7.4-1.1 3.6zM44.8 216.9l1 .5-.8-2.3-1-.5z"/><path fill="#55cc7b" stroke="#55cc7b" d="M47 218l1.1-3.7-.8-4.3-1.1 3.7zM40.6 217.1l1-3.7-.8-3-1 3.7zM41.4 214.7l1-3.7-.8 2.4-1 3.7zM45 215.1l1 3.7-.8-4.3-1-3.8zM50.4 213.7l1.1 1-.8.4-1-1z"/><path fill="#67cd6d" stroke="#67cd6d" d="M38.6 213.4l1 3.8-.8-2.9-1-3.9zM39.4 211l1 3.9-.8 2.3-1-3.8zM41.2 214.1l1-.2-.8.8-1 .2zM43 218.3l1-3.7-.8-4.4-1 3.7z"/><path fill="#7acc5e" stroke="#7acc5e" d="M38.8 214.3l1-.2-.8-4.1-1 .2zM42.4 211l1 .5-.8 2.4-1-.5zM44.2 210.7l1 3.8-.8.8-1-3.8zM36.6 217l1-3.6-.8-3-1 3.7z"/><path fill="#8ecb4f" stroke="#8ecb4f" d="M33.1 210.7l1.1.5-.8 1.9-1.1-.5zM42.2 213.9l1-3.7-.8.8-1 3.7zM44 214.6l1 .5-.8-4.4-1-.5z"/><path fill="#a1c840" stroke="#a1c840" d="M32.3 212.6l1.1.5-.8-3.4-1-.6zM37.6 213.4l1 0-.8-3-1 0zM34.7 213.5l1.1.6-.8-4.1-1.1-.6zM38.4 211l1 0-.8 2.4-1 0z"/><path fill="#b3c534" stroke="#b3c534" d="M34.2 211.2l1-3.7-.8 2-1 3.6zM37.8 210.4l1 3.9-.8-4.1-1-3.9zM43.2 210.2l1 .5-.8.8-1-.5z"/><path fill="#c4c22b" stroke="#c4c22b" d="M33.9 209.4l1.1.6-.8 1.2-1.1-.5zM35.8 214.1l1-3.7-.8-4.1-1 3.7z"/><path fill="#d4bf28" stroke="#d4bf28" d="M35.2 207.5l1 0-.8 2-1 0zM37 206.3l1 3.9-.8 1.2-1-3.9zM31.3 208.7l1 3.9-.7-3.5-1.1-3.8zM32.1 206.8l1 3.9-.8 1.9-1-3.9zM29.3 212.7l-.8-3.4-1-1.2zM31.1 207.3l-.8 1.9-1 3.5z"/><path fill="#e2bc2b" stroke="#e2bc2b" d="M35 210l1-3.7-.8 1.2-1 3.7zM36.8 210.4l1 0-.8-4.1-1 0zM29.3 212.7l1-3.5-.8-3.4-1 3.5z"/><path fill="#efba35" stroke="#efba35" d="M31.1 207.3l1-.5-.8 1.9-1 .5zM32.9 205.6l1 3.8-.8 1.3-1-3.9z"/><path fill="#fabb3d" stroke="#fabb3d" d="M36 206.3l1 0-.8 1.2-1 0zM30.3 209.2l1-.5-.8-3.4-1 .5z"/><path fill="#fec934" stroke="#fec934" d="M32.9 205.6l-.8 1.2-1 .5z"/><path fill="#4854f6" stroke="#4854f6" d="M86.1 228.1l1 1.4-.8.8-1-1.4zM93.3 228.5l1 .8-.8 1.3-1-.8zM82 229.2l1 1.9-.8.8-1-2z"/><path fill="#475cfa" stroke="#475cfa" d="M83 231.1l1-3.4-.8.7-1 3.5zM88.5 231.1l1 1.4-.8-3.8-1-1.4zM90.3 231.2l1-3.8-.8 1.3-1 3.8z"/><path fill="#4564fd" stroke="#4564fd" d="M92.5 229.8l1 .8-.8-3.8-1-.9zM75.8 230.4l1-3-.8.2-1 2.9zM81.2 229.9l1 2-.8-4.2-1-1.9zM74.8 228l1 2.4-.8.1-1-2.4z"/><path fill="#416cfe" stroke="#416cfe" d="M82.2 231.9l1-3.5-.8-4.1-1 3.4zM89.5 232.5l1-3.8-.8-3.8-1 3.8z"/><path fill="#3a74fe" stroke="#3a74fe" d="M68.5 229.1l1.1-2.5-.8-.5-1 2.5zM86.9 225.2l1 1.4-.8 2.9-1-1.4zM67.5 226.2l1 2.9-.7-.5-1.1-2.9zM92.3 225.4l1 3.1-.8 1.3-1-3z"/><path fill="#327cfc" stroke="#327cfc" d="M79.6 224.2l1 1.9-.8 3.1-1-2zM75 230.5l1-2.9-.8-4.4-1 3zM85.1 225.3l1 2.8-.8.8-1-2.9zM74 228.1l1 2.4-.8-4.3-1-2.5zM84 227.7l1.1-2.4-.8.7-1.1 2.4zM94.1 225.7l1 .8-.8 2.8-1-.8zM76.6 227.4l1-3-.8 3-1 3zM94.9 228.2l1 .8-.8-2.5-1-.8zM75.6 224.9l1 2.5-.8 3-1-2.4zM83.8 228.2l1-3.4-.8 2.9-1 3.4z"/><path fill="#2e84f9" stroke="#2e84f9" d="M61.3 227.1l1-2-.8-1.1-1 1.9zM77.8 224.6l1 2.6-.8.1-1-2.5zM87.9 226.6l1-3.8-.8 3-1 3.7zM76.8 227.4l1-2.8-.8.2-1 2.8zM91.5 226.8l1 3-.8-3.9-1-3zM69.3 226l1.1-2.5-.8 3.1-1.1 2.5zM87.7 227.3l1 1.4-.8-2.1-1-1.4zM91.3 227.4l1-2-.8 1.4-1 1.9zM73.8 225.7l1 2.3-.8.1-1-2.3z"/><path fill="#2d8bf4" stroke="#2d8bf4" d="M67.8 228.6l1-2.5-.8-4.5-1 2.5zM84.3 226l1 2.9-.8-4.2-1-2.8zM81.4 227.7l1-3.4-.8-1.6-1 3.4zM80.4 225.8l1 1.9-.8-1.6-1-1.9zM88.7 228.7l1-3.8-.8-2.1-1 3.8zM90.5 228.7l1-1.9-.8-3.9-1 2zM68.3 223.1l1 2.9-.8 3.1-1-2.9zM63.7 229.2l1-2-.8-4.5-1 2zM80.2 227.3l1 2.6-.8-4.1-1-2.6zM77.4 229l1-3-.8-1.6-1 3z"/><path fill="#2b92ee" stroke="#2b92ee" d="M69.6 226.6l1-3.2-.8-.5-1 3.2zM66.7 225.7l1.1 2.9-.8-4.5-1.1-2.9zM60.3 223.8l1 3.3-.8-1.2-1-3.2zM62.1 224.1l1-2-.8 3-1 2zM83.2 228.4l1.1-2.4-.8-4.1-1.1 2.4zM85.9 222.3l1 2.9-.8 2.9-1-2.8zM70.1 227.1l1.1-2.5-.8-1.1-1.1 2.5zM58.3 226l-.8-1.2-1 1.4zM93.1 222.7l1 3-.8 2.8-1-3.1zM65.5 227.7l1-3.4-.8-.5-1 3.4z"/><path fill="#2699e9" stroke="#2699e9" d="M76 227.6l1-2.8-.8-4.4-1 2.8zM73.2 223.7l1 2.5-.8-1.1-1-2.5zM78.6 221.6l1 2.6-.8 3-1-2.6zM77.6 224.4l1-2.8-.8 3-1 2.8zM73 225.8l1 2.3-.8-4.4-1-2.2zM66.5 224.3l1 1.9-.8-.5-1-1.9zM84.8 224.8l1.1-2.5-.8 3-1.1 2.4zM72 229l1-3.2-.8-4.3-1 3.1zM86.6 224.4l1.1 2.9-.8-2.1-1-2.9zM69.1 224.2l1 2.9-.8-1.1-1-2.9zM63.7 229.2l-.8-4.5-1-3.3z"/><path fill="#249fe5" stroke="#249fe5" d="M88.9 222.8l1-2-.8 3-1 2zM90.7 222.9l1 3-.8-2-1-3.1zM70.4 223.5l1-3.1-.8 3-1 3.2zM61.1 220.8l1 3.3-.8 3-1-3.3z"/><path fill="#1fa5e2" stroke="#1fa5e2" d="M71.4 220.4l1 2.2-.8 3.1-1-2.3zM89.7 224.9l1-2-.8-2.1-1 2zM62.9 224.7l1-2-.8-.6-1 2zM56.5 226.2l1-1.4-.8-4.5-1 1.4zM64.7 227.2l1-3.4-.8-4.5-1 3.4zM58.3 226l1-3.6-.8-1.1-1 3.5zM79.4 223.2l1 2.6-.8-1.6-1-2.6zM78.4 226l1-2.8-.8-1.6-1 2.8zM67.3 221.2l1 1.9-.8 3.1-1-1.9z"/><path fill="#1aabdd" stroke="#1aabdd" d="M82.4 224.3l1.1-2.4-.8-1.6-1.1 2.4zM54.9 221.6l1-1.4-.8 2.9-1 1.3zM63.1 222.1l1-3.4-.8 3-1 3.4zM65.7 223.8l1 1.9-.8-4.5-1-1.9zM59.3 222.4l1 1.4-.8-1.1-1-1.4zM51 223.6l-.8-1.8-1 .8zM71.2 224.6l1-3.1-.8-1.1-1 3.1zM61.9 221.4l1 3.3-.8-.6-1-3.3z"/><path fill="#13b0d7" stroke="#13b0d7" d="M72.2 221.5l1 2.2-.8-1.1-1-2.2zM56.5 226.2l-.8-4.5-1.1-3.5zM60.1 219.4l-.8 3-1 3.6z"/><path fill="#07b5cf" stroke="#07b5cf" d="M53.9 218l1 3.6-.8 2.8-1-3.5zM55.7 221.7l1-1.4-.8-.1-1 1.4zM57.5 224.8l1-3.5-.8-4.5-1 3.5zM51 223.6l1-3.7-.8-1.7-1 3.6zM60.1 219.4l1 1.4-.8 3-1-1.4z"/><path fill="#01b9c7" stroke="#01b9c7" d="M64.9 219.3l1 1.9-.8-.6-1-1.9zM63.9 222.7l1-3.4-.8-.6-1 3.4z"/><path fill="#09bdbe" stroke="#09bdbe" d="M58.5 221.3l1 1.4-.8-4.5-1-1.4zM52 219.9l1.1 1-.8-1.7-1.1-1zM49.2 222.6l1-.8-.8-4.4-1 .8zM54.6 218.2l1.1 3.5-.8-.1-1-3.6zM52.8 217.1l-.8 2.8-1 3.7zM61.9 221.4l-.8-.6-1-1.4z"/><path fill="#1bc0b4" stroke="#1bc0b4" d="M56.7 220.3l1-3.5-.8-.2-1 3.6zM43.8 220.6l-.8-2.3-1 .1zM52.8 217.1l1.1.9-.8 2.9-1.1-1z"/><path fill="#28c3ab" stroke="#28c3ab" d="M46.6 214.8l1 3.7-.8 2.6-1-3.7zM48.4 218.2l1-.8-.8.3-1 .8zM50.2 221.8l1-3.6-.8-4.5-1 3.7zM49.2 222.6l-.8-4.4-1-3.8z"/><path fill="#31c5a1" stroke="#31c5a1" d="M43.8 220.6l1-3.7-.8-2.3-1 3.7zM54.6 218.2l-.7-.2-1.1-.9z"/><path fill="#39c895" stroke="#39c895" d="M45.6 214.3l-.8 2.6-1 3.7z"/><path fill="#45cb89" stroke="#45cb89" d="M42 218.4l1-.1-.8-4.4-1 .2zM45.6 214.3l1 .5-.8 2.6-1-.5zM47.4 214.4l1 3.8-.8.3-1-3.7z"/><path fill="#55cc7b" stroke="#55cc7b" d="M36.6 217l-.8-2.9-1.1-.6z"/><path fill="#7acc5e" stroke="#7acc5e" d="M38.4 211l-.8 2.4-1 3.6zM42 218.4l-.8-4.3-1-3.9zM47.4 214.4l-.8.4-1-.5z"/><path fill="#a1c840" stroke="#a1c840" d="M40.2 210.2l1 3.9-.8.8-1-3.9z"/><path fill="#c4c22b" stroke="#c4c22b" d="M40.2 210.2l-.8.8-1 0z"/><path fill="#e2bc2b" stroke="#e2bc2b" d="M34.7 213.5l-.8-4.1-1-3.8z"/><path fill="#484df0" stroke="#484df0" d="M89.3 229.8l1 1.4-.8 1.3-1-1.4z"/><path fill="#4854f6" stroke="#4854f6" d="M96.5 229.8l1 .9-.8 1.8-1-.8zM87.2 229.4l-.8 1.3-1 3.4zM92.7 234.4l-.8-3.5-1-1.4z"/><path fill="#475cfa" stroke="#475cfa" d="M95.7 231.7l1 .8-.8-3.5-1-.8zM85.4 234.1l1-3.4-.8-3.9-1 3.4zM80 229.4l-.8.7-1 3zM85.4 234.1l-.8-3.9-1-1.9zM92.7 234.4l1-3.7-.8-3.5-1 3.7zM94.5 228.8l-.8 1.9-1 3.7z"/><path fill="#4564fd" stroke="#4564fd" d="M78.2 233.1l1-3-.8-4.1-1 3zM72.8 228.8l-.8.2-1.1 2.5z"/><path fill="#416cfe" stroke="#416cfe" d="M78.2 233.1l-.8-4.1-1-2.5z"/><path fill="#3a74fe" stroke="#3a74fe" d="M81 226.6l1 2.6-.8.7-1-2.6zM82.8 226.2l1 2-.8 2.9-1-1.9zM88.2 226.9l1.1 2.9-.8 1.3-1.1-2.8zM90.1 227l1 1.4-.8 2.8-1-1.4zM95.5 226.8l1 3-.8 1.9-1-3zM97.3 227.3l1 .8-.8 2.6-1-.9z"/><path fill="#327cfc" stroke="#327cfc" d="M70.9 231.5l1.1-2.5-.8-4.4-1.1 2.5zM65.5 227.7l-.8-.5-1 2zM87.4 228.3l1.1 2.8-.8-3.8-1.1-2.9zM70.9 231.5l-.8-4.4-1-2.9zM91.1 228.4l1-3.7-.8 2.7-1 3.8zM80 229.4l1-2.8-.8.7-1 2.8zM94.7 228.7l1 3-.8-3.5-1-3zM83.6 228.3l1 1.9-.8-2-1-2zM87.2 229.4l1-2.5-.8 1.4-1 2.4zM90.9 229.5l1 1.4-.8-2.5-1-1.4zM94.5 228.8l1-2-.8 1.9-1 2zM98.1 230.2l1 .8-.8-2.9-1-.8z"/><path fill="#2e84f9" stroke="#2e84f9" d="M72.8 228.8l1-3.1-.8.1-1 3.2zM84.6 230.2l1-3.4-.8-2-1 3.4zM86.4 230.7l1-2.4-.8-3.9-1 2.4zM91.9 230.9l1-3.7-.8-2.5-1 3.7zM93.7 230.7l1-2-.8-3.5-1 2z"/><path fill="#2d8bf4" stroke="#2d8bf4" d="M79.2 230.1l1-2.8-.8-4.1-1 2.8zM76.4 226.5l1 2.5-.8-1.6-1-2.5z"/><path fill="#2b92ee" stroke="#2b92ee" d="M81.8 223.6l1 2.6-.8 3-1-2.6zM81.8 223.6l-.8 3-1 2.8zM89 224.2l1.1 2.8-.8 2.8-1.1-2.9zM89 224.2l-.8 2.7-1 2.5zM96.3 224.3l1 3-.8 2.5-1-3zM90.9 229.5l-.8-2.5-1.1-2.8z"/><path fill="#2699e9" stroke="#2699e9" d="M92.1 224.7l1-2-.8 2.7-1 2zM93.9 225.2l1 3-.8-2.5-1-3zM74.6 222.6l1 2.3-.8 3.1-1-2.3zM74.6 222.6l-.8 3.1-1 3.1zM83.6 228.3l-.8-2.1-1-2.6z"/><path fill="#249fe5" stroke="#249fe5" d="M85.6 226.8l1-2.4-.7-2.1-1.1 2.5zM67.3 221.2l-.8 3.1-1 3.4zM92.9 227.2l1-2-.8-2.5-1 2z"/><path fill="#1fa5e2" stroke="#1fa5e2" d="M76.4 226.5l-.8-1.6-1-2.3z"/><path fill="#13b0d7" stroke="#13b0d7" d="M69.1 224.2l-.8-1.1-1-1.9z"/><path fill="#475cfa" stroke="#475cfa" d="M99.9 234.1l-.8-3.1-1-.8z"/><path fill="#2b92ee" stroke="#2b92ee" d="M98.1 230.2l-.8-2.9-1-3z"/><path fill="#2699e9" stroke="#2699e9" d="M96.3 224.3l-.8 2.5-1 2z"/></g><path d="M27.5 232.3L59.4 246.4L99.9 235.6" stroke="#8a8a8a" stroke-width="0.6" fill="none"/><text class="R" x="63.3" y="187.7" font-size="8.6" fill="#000">F8</text><text class="S" x="25.7" y="234.7" font-size="6.9" text-anchor="end" fill="#262626">800</text><text class="S" x="25.7" y="224" font-size="6.9" text-anchor="end" fill="#262626">850</text><text class="S" x="25.7" y="212.3" font-size="6.9" text-anchor="end" fill="#262626">900</text><text class="S" x="19.6" y="240.3" font-size="6.9" fill="#262626">100</text><text class="S" x="38.5" y="247" font-size="6.9" fill="#262626">0</text><text class="S" x="49.3" y="254.1" font-size="6.9" fill="#262626">−100</text><text class="S" x="68.1" y="253.7" font-size="6.9" fill="#262626">−100</text><text class="S" x="83.9" y="248.8" font-size="6.9" fill="#262626">0</text><text class="S" x="108.7" y="243.8" font-size="6.9" fill="#262626">100</text><path d="M59.4 334.4L27.5 320.3M59.4 334.4L99.9 323.6M79.7 329L47.8 314.9M43.4 327.3L84 316.5M99.9 323.6L68 309.5M27.5 320.3L68 309.5M47.8 314.9L47.8 284.2M84 316.5L84 285.8M27.5 320.3L68 309.5L99.9 323.6M27.5 302L68 291.2L99.9 305.3" stroke="#e1e1e1" stroke-width="0.6" fill="none"/><path d="M27.5 320.3L27.5 289.6L68 278.8L99.9 292.9M68 309.5L68 278.8M99.9 323.6L99.9 292.9" stroke="#8a8a8a" stroke-width="0.6" fill="none"/><path d="M27.5 320.3L59.4 334.4L99.9 323.6L68 309.5Z" fill="#3a5ae6"/><g stroke-width="0.4" stroke-linejoin="round"><path fill="#4564fd" stroke="#4564fd" d="M50.8 302.5l1.7-1.5-1.4-1.8-1.7 1.5zM53.8 302.7l1.7-1.1-1.4-1.8-1.6 1.2zM56.8 303.3l1.7-1.9-1.3-1.7-1.7 1.9zM59.8 303.1l1.7-1.4-1.3-1.8-1.7 1.5z"/><path fill="#416cfe" stroke="#416cfe" d="M49.1 304.2l1.7-1.7-1.4-1.8-1.6 1.9z"/><path fill="#3a74fe" stroke="#3a74fe" d="M54.1 299.8l1.7-2-1.3-1.9-1.7 2zM57.2 299.7l1.6-1.6-1.3-1.9-1.7 1.6zM60.2 299.9l1.7-1.3-1.4-1.9-1.7 1.4zM63.2 300.4l1.7-2-1.3-1.9-1.7 2.1zM66.2 300.2l1.7-1.6-1.3-1.9-1.7 1.7zM69.2 300.4l1.7-1.4-1.3-1.8-1.7 1.4zM72.2 300.8l1.7-2.1-1.3-1.9-1.7 2.2zM75.3 300.4l1.6-1.6-1.3-1.8-1.7 1.7zM78.3 300.5l1.7-1.5-1.4-1.8-1.7 1.6z"/><path fill="#327cfc" stroke="#327cfc" d="M57.5 296.2l1.7-1.5-1.3-2.1-1.7 1.5zM60.5 296.7l1.7-2.2-1.3-2.1-1.7 2.3zM63.6 296.5l1.6-1.7-1.3-2.1-1.7 1.8zM66.6 296.7l1.7-1.5-1.4-2-1.7 1.6zM69.6 297.2l1.7-2.3-1.4-2-1.6 2.3zM72.6 296.8l1.7-1.7-1.3-2-1.7 1.8zM75.6 297l1.7-1.6-1.3-2-1.7 1.7zM61.5 301.7l1.7-1.3-1.3-1.8-1.7 1.3zM64.5 302.2l1.7-2-1.3-1.8-1.7 2zM70.6 302.1l1.6-1.3-1.3-1.8-1.7 1.4z"/><path fill="#2e84f9" stroke="#2e84f9" d="M52.5 301l1.6-1.2-1.3-1.9-1.7 1.3zM55.5 301.6l1.7-1.9-1.4-1.9-1.7 2zM58.5 301.4l1.7-1.5-1.4-1.8-1.6 1.6zM67.5 301.9l1.7-1.5-1.3-1.8-1.7 1.6zM73.6 302.5l1.7-2.1-1.4-1.7-1.7 2.1z"/><path fill="#2d8bf4" stroke="#2d8bf4" d="M60.9 292.4l1.7-1.8-1.4-2.3-1.6 2zM63.9 292.7l1.7-1.7-1.3-2.2-1.7 1.8zM66.9 293.2l1.7-2.4-1.3-2.2-1.7 2.4zM69.9 292.9l1.7-1.9-1.3-2.2-1.7 2zM73 293.1l1.6-1.8-1.3-2.2-1.7 1.9z"/><path fill="#2b92ee" stroke="#2b92ee" d="M55.8 297.8l1.7-1.6-1.3-2.1-1.7 1.8zM58.8 298.1l1.7-1.4-1.3-2-1.7 1.5zM61.9 298.6l1.7-2.1-1.4-2-1.7 2.2zM64.9 298.4l1.7-1.7-1.4-1.9-1.6 1.7zM67.9 298.6l1.7-1.4-1.3-2-1.7 1.5zM70.9 299l1.7-2.2-1.3-1.9-1.7 2.3zM73.9 298.7l1.7-1.7-1.3-1.9-1.7 1.7zM76.9 298.8l1.7-1.6-1.3-1.8-1.7 1.6z"/><path fill="#2699e9" stroke="#2699e9" d="M64.3 288.8l1.7-2.5-1.4-2.5-1.7 2.7zM67.3 288.6l1.7-2.1-1.4-2.4-1.6 2.2zM70.3 288.8l1.7-1.9-1.3-2.4-1.7 2zM59.2 294.7l1.7-2.3-1.3-2.1-1.7 2.3zM62.2 294.5l1.7-1.8-1.3-2.1-1.7 1.8zM65.2 294.8l1.7-1.6-1.3-2.2-1.7 1.7zM68.3 295.2l1.6-2.3-1.3-2.1-1.7 2.4zM71.3 294.9l1.7-1.8-1.4-2.1-1.7 1.9zM74.3 295.1l1.7-1.7-1.4-2.1-1.6 1.8z"/><path fill="#249fe5" stroke="#249fe5" d="M69 286.5l1.7-2-1.4-2.5-1.7 2.1zM62.6 290.6l1.7-1.8-1.4-2.3-1.7 1.8zM65.6 291l1.7-2.4-1.3-2.3-1.7 2.5zM68.6 290.8l1.7-2-1.3-2.3-1.7 2.1zM71.6 291l1.7-1.9-1.3-2.2-1.7 1.9z"/><path fill="#1fa5e2" stroke="#1fa5e2" d="M67.6 284.1l1.7-2.1-1.3-2.6-1.7 2.2zM66 286.3l1.6-2.2-1.3-2.5-1.7 2.2z"/><path fill="#4854f6" stroke="#4854f6" d="M44 308l1.7-1.5-1.3-1.5-1.7 1.6zM47 308l1.7-1.3-1.3-1.5-1.7 1.3zM50.1 308.2l1.6-.9-1.3-1.5-1.7.9zM53.1 308.8l1.7-1.6-1.4-1.5-1.7 1.6zM42.3 308.8l1.7-.8-1.3-1.4-1.7.8zM56.1 308.6l1.7-1.2-1.4-1.5-1.6 1.3zM45.3 309.5l1.7-1.5-1.3-1.5-1.7 1.5zM59.1 308.9l1.7-.9-1.3-1.5-1.7.9zM48.4 309.4l1.7-1.2-1.4-1.5-1.7 1.3zM62.1 309.4l1.7-1.6-1.3-1.5-1.7 1.7zM51.4 309.6l1.7-.8-1.4-1.5-1.6.9zM40.6 310l1.7-1.2-1.3-1.4-1.7 1.2zM65.1 309.2l1.7-1.3-1.3-1.4-1.7 1.3zM54.4 310.2l1.7-1.6-1.3-1.4-1.7 1.6z"/><path fill="#475cfa" stroke="#475cfa" d="M47.4 305.2l1.7-1-1.3-1.6-1.7 1zM50.4 305.8l1.7-1.7-1.3-1.6-1.7 1.7zM53.4 305.7l1.7-1.3-1.3-1.7-1.7 1.4zM56.4 305.9l1.7-1-1.3-1.6-1.7 1.1zM45.7 306.5l1.7-1.3-1.3-1.6-1.7 1.4zM59.5 306.5l1.6-1.7-1.3-1.7-1.7 1.8zM48.7 306.7l1.7-.9-1.3-1.6-1.7 1zM62.5 306.3l1.7-1.3-1.4-1.6-1.7 1.4zM51.7 307.3l1.7-1.6-1.3-1.6-1.7 1.7zM65.5 306.5l1.7-1.1-1.3-1.6-1.7 1.2zM54.8 307.2l1.6-1.3-1.3-1.5-1.7 1.3zM68.5 306.9l1.7-1.8-1.3-1.5-1.7 1.8zM57.8 307.4l1.7-.9-1.4-1.6-1.7 1zM71.5 306.6l1.7-1.3-1.3-1.6-1.7 1.4zM60.8 308l1.7-1.7-1.4-1.5-1.6 1.7zM74.5 306.7l1.7-1.1-1.3-1.5-1.7 1.2zM63.8 307.8l1.7-1.3-1.3-1.5-1.7 1.3zM77.6 307.1l1.6-1.9-1.3-1.5-1.7 1.9zM66.8 307.9l1.7-1-1.3-1.5-1.7 1.1zM80.6 306.6l1.7-1.4-1.4-1.5-1.7 1.5zM69.8 308.4l1.7-1.8-1.3-1.5-1.7 1.8zM83.6 306.6l1.7-1.3-1.3-1.4-1.7 1.3zM72.9 308.1l1.6-1.4-1.3-1.4-1.7 1.3zM75.9 308.1l1.7-1-1.4-1.5-1.7 1.1z"/><path fill="#4564fd" stroke="#4564fd" d="M62.8 303.4l1.7-1.2-1.3-1.8-1.7 1.3zM65.9 303.8l1.6-1.9-1.3-1.7-1.7 2zM68.9 303.6l1.7-1.5-1.4-1.7-1.7 1.5zM71.9 303.7l1.7-1.2-1.4-1.7-1.6 1.3zM74.9 304.1l1.7-2-1.3-1.7-1.7 2.1zM77.9 303.7l1.7-1.5-1.3-1.7-1.7 1.6zM80.9 303.7l1.7-1.3-1.3-1.7-1.7 1.5z"/><path fill="#416cfe" stroke="#416cfe" d="M52.1 304.1l1.7-1.4-1.3-1.7-1.7 1.5zM55.1 304.4l1.7-1.1-1.3-1.7-1.7 1.1zM58.1 304.9l1.7-1.8-1.3-1.7-1.7 1.9zM61.1 304.8l1.7-1.4-1.3-1.7-1.7 1.4zM64.2 305l1.7-1.2-1.4-1.6-1.7 1.2zM67.2 305.4l1.7-1.8-1.4-1.7-1.6 1.9zM70.2 305.1l1.7-1.4-1.3-1.6-1.7 1.5zM73.2 305.3l1.7-1.2-1.3-1.6-1.7 1.2zM76.2 305.6l1.7-1.9-1.3-1.6-1.7 2zM79.2 305.2l1.7-1.5-1.3-1.5-1.7 1.5zM82.3 305.2l1.7-1.3-1.4-1.5-1.7 1.3z"/><path fill="#2e84f9" stroke="#2e84f9" d="M76.6 302.1l1.7-1.6-1.4-1.7-1.6 1.6zM79.6 302.2l1.7-1.5-1.3-1.7-1.7 1.5z"/><path fill="#4745e9" stroke="#4745e9" d="M54 312.2l1.7-.7-1.3-1.3-1.7.7zM57.1 312.8l1.6-1.5-1.3-1.3-1.7 1.5zM35.6 313.1l1.7-1.1-1.4-1.2-1.7 1.1zM38.6 313.2l1.7-.6-1.3-1.2-1.7.6zM63.1 312.8l1.7-.8-1.4-1.3-1.6.8zM41.6 313.8l1.7-1.3-1.3-1.2-1.7 1.3zM66.1 313.2l1.7-1.4-1.3-1.3-1.7 1.5zM44.6 313.7l1.7-1-1.3-1.2-1.7 1z"/><path fill="#484df0" stroke="#484df0" d="M60.4 310.2l1.7-.8-1.3-1.4-1.7.9zM39 311.4l1.6-1.4-1.3-1.4-1.7 1.5zM63.4 310.7l1.7-1.5-1.3-1.4-1.7 1.6zM52.7 310.9l1.7-.7-1.3-1.4-1.7.8zM42 311.3l1.7-1.1-1.4-1.4-1.7 1.2zM55.7 311.5l1.7-1.5-1.3-1.4-1.7 1.6zM45 311.5l1.7-.7-1.4-1.3-1.6.7zM69.5 310.6l1.7-.9-1.4-1.3-1.6.9zM58.7 311.3l1.7-1.1-1.3-1.3-1.7 1.1zM48 312.1l1.7-1.4-1.3-1.3-1.7 1.4zM61.8 311.5l1.6-.8-1.3-1.3-1.7.8zM51 312l1.7-1.1-1.3-1.3-1.7 1.1zM64.8 312l1.7-1.5-1.4-1.3-1.7 1.5zM67.8 311.8l1.7-1.2-1.3-1.3-1.7 1.2zM46.3 312.7l1.7-.6-1.3-1.3-1.7.7zM70.8 311.9l1.7-.9-1.3-1.3-1.7.9zM60.1 312.6l1.7-1.1-1.4-1.3-1.7 1.1zM49.3 313.3l1.7-1.3-1.3-1.3-1.7 1.4zM73.8 312.3l1.7-1.6-1.3-1.3-1.7 1.6zM52.4 313.2l1.6-1-1.3-1.3-1.7 1.1zM55.4 313.4l1.7-.6-1.4-1.3-1.7.7zM69.1 313l1.7-1.1-1.3-1.3-1.7 1.2zM58.4 314l1.7-1.4-1.4-1.3-1.6 1.5z"/><path fill="#4854f6" stroke="#4854f6" d="M43.7 310.2l1.6-.7-1.3-1.5-1.7.8zM68.2 309.3l1.6-.9-1.3-1.5-1.7 1zM57.4 310l1.7-1.1-1.3-1.5-1.7 1.2zM46.7 310.8l1.7-1.4-1.4-1.4-1.7 1.5zM71.2 309.7l1.7-1.6-1.4-1.5-1.7 1.8zM49.7 310.7l1.7-1.1-1.3-1.4-1.7 1.2zM74.2 309.4l1.7-1.3-1.4-1.4-1.6 1.4zM77.2 309.5l1.7-1.1-1.3-1.3-1.7 1zM66.5 310.5l1.7-1.2-1.4-1.4-1.7 1.3zM80.2 309.7l1.7-1.7-1.3-1.4-1.7 1.8zM83.2 309.3l1.7-1.4-1.3-1.3-1.7 1.4zM37.3 312l1.7-.6-1.4-1.3-1.7.7zM72.5 311l1.7-1.6-1.3-1.3-1.7 1.6zM40.3 312.6l1.7-1.3-1.4-1.3-1.6 1.4zM75.5 310.7l1.7-1.2-1.3-1.4-1.7 1.3zM43.3 312.5l1.7-1-1.3-1.3-1.7 1.1zM78.5 310.7l1.7-1-1.3-1.3-1.7 1.1zM81.5 311l1.7-1.7-1.3-1.3-1.7 1.7zM84.6 310.5l1.6-1.3-1.3-1.3-1.7 1.4zM87.6 310.4l1.7-1.1-1.4-1.3-1.7 1.2zM76.8 311.9l1.7-1.2-1.3-1.2-1.7 1.2zM79.9 311.9l1.6-.9-1.3-1.3-1.7 1zM33.9 314.3l1.7-1.2-1.4-1.2-1.6 1.3z"/><path fill="#475cfa" stroke="#475cfa" d="M78.9 308.4l1.7-1.8-1.4-1.4-1.6 1.9zM81.9 308l1.7-1.4-1.3-1.4-1.7 1.4zM86.2 309.2l1.7-1.2-1.3-1.3-1.7 1.2z"/><path fill="#4564fd" stroke="#4564fd" d="M84.9 307.9l1.7-1.2-1.3-1.4-1.7 1.3z"/><path fill="#463ee1" stroke="#463ee1" d="M32.2 314.9l1.7-.6-1.3-1.1-1.7.6zM35.2 315.4l1.7-1.2-1.3-1.1-1.7 1.2zM38.2 315.3l1.7-.9-1.3-1.2-1.7 1zM41.3 315.5l1.6-.5-1.3-1.2-1.7.6zM44.3 316.1l1.7-1.2-1.4-1.2-1.7 1.3zM47.3 316l1.7-.9-1.4-1.2-1.6 1zM50.3 316.2l1.7-.6-1.3-1.1-1.7.6zM28.8 317l1.7-1.1-1.3-1.1-1.7 1.2zM53.3 316.7l1.7-1.2-1.3-1.1-1.7 1.2zM31.8 316.9l1.7-1-1.3-1-1.7 1zM56.3 316.6l1.7-.9-1.3-1.1-1.7.9z"/><path fill="#4745e9" stroke="#4745e9" d="M47.6 313.9l1.7-.6-1.3-1.2-1.7.6zM72.1 313.1l1.7-.8-1.3-1.3-1.7.9zM50.7 314.5l1.7-1.3-1.4-1.2-1.7 1.3zM53.7 314.4l1.7-1-1.4-1.2-1.6 1zM56.7 314.6l1.7-.6-1.3-1.2-1.7.6zM59.7 315.1l1.7-1.3-1.3-1.2-1.7 1.4zM62.7 314.9l1.7-.9-1.3-1.2-1.7 1zM65.7 315.1l1.7-.7-1.3-1.2-1.7.8zM68.8 315.5l1.6-1.4-1.3-1.1-1.7 1.4zM71.8 315.2l1.7-1-1.4-1.1-1.7 1zM74.8 315.3l1.7-.7-1.3-1.2-1.7.8zM77.8 315.6l1.7-1.4-1.3-1.1-1.7 1.5z"/><path fill="#484df0" stroke="#484df0" d="M61.4 313.8l1.7-1-1.3-1.3-1.7 1.1zM75.2 313.4l1.6-1.5-1.3-1.2-1.7 1.6zM64.4 314l1.7-.8-1.3-1.2-1.7.8zM78.2 313.1l1.7-1.2-1.4-1.2-1.7 1.2zM67.4 314.4l1.7-1.4-1.3-1.2-1.7 1.4zM81.2 313.1l1.7-1-1.4-1.1-1.6.9zM70.4 314.1l1.7-1-1.3-1.2-1.7 1.1zM84.2 313.3l1.7-1.7-1.3-1.1-1.7 1.6zM73.5 314.2l1.7-.8-1.4-1.1-1.7.8zM87.2 312.7l1.7-1.2-1.3-1.1-1.7 1.2zM76.5 314.6l1.7-1.5-1.4-1.2-1.6 1.5zM90.2 312.6l1.7-1.1-1.3-1.1-1.7 1.1z"/><path fill="#4854f6" stroke="#4854f6" d="M82.9 312.1l1.7-1.6-1.4-1.2-1.7 1.7zM36.9 314.2l1.7-1-1.3-1.2-1.7 1.1zM85.9 311.6l1.7-1.2-1.4-1.2-1.6 1.3zM39.9 314.4l1.7-.6-1.3-1.2-1.7.6zM88.9 311.5l1.7-1.1-1.3-1.1-1.7 1.1zM42.9 315l1.7-1.3-1.3-1.2-1.7 1.3zM46 314.9l1.6-1-1.3-1.2-1.7 1zM49 315.1l1.7-.6-1.4-1.2-1.7.6zM52 315.6l1.7-1.2-1.3-1.2-1.7 1.3zM30.5 315.9l1.7-1-1.3-1.1-1.7 1zM55 315.5l1.7-.9-1.3-1.2-1.7 1zM79.5 314.2l1.7-1.1-1.3-1.2-1.7 1.2zM33.5 315.9l1.7-.5-1.3-1.1-1.7.6zM58 315.7l1.7-.6-1.3-1.1-1.7.6zM82.5 314.1l1.7-.8-1.3-1.2-1.7 1zM36.6 316.5l1.6-1.2-1.3-1.1-1.7 1.2zM61 316.2l1.7-1.3-1.3-1.1-1.7 1.3zM85.5 314.3l1.7-1.6-1.3-1.1-1.7 1.7zM39.6 316.4l1.7-.9-1.4-1.1-1.7.9zM64.1 316l1.6-.9-1.3-1.1-1.7.9zM88.6 313.7l1.6-1.1-1.3-1.1-1.7 1.2zM42.6 316.5l1.7-.4-1.4-1.1-1.6.5zM67.1 316.2l1.7-.7-1.4-1.1-1.7.7z"/><path fill="#4537d5" stroke="#4537d5" d="M43.9 317.6l1.7-.5-1.3-1-1.7.4zM46.9 318.1l1.7-1.1-1.3-1-1.7 1.1zM49.9 318l1.7-.8-1.3-1-1.7.8zM53 318.2l1.6-.4-1.3-1.1-1.7.5zM31.5 318.9l1.7-1.1-1.4-.9-1.6 1.1zM56 318.7l1.7-1.1-1.4-1-1.7 1.2zM34.5 318.8l1.7-.9-1.3-.9-1.7.8zM59 318.6l1.7-.8-1.3-1-1.7.8zM37.5 318.9l1.7-.4-1.3-1-1.7.4zM62 318.7l1.7-.4-1.3-1-1.7.5zM40.5 319.4l1.7-1-1.3-1-1.7 1.1z"/><path fill="#463ee1" stroke="#463ee1" d="M34.9 317l1.7-.5-1.4-1.1-1.7.5zM59.4 316.8l1.6-.6-1.3-1.1-1.7.6zM37.9 317.5l1.7-1.1-1.4-1.1-1.6 1.2zM62.4 317.3l1.7-1.3-1.4-1.1-1.7 1.3zM40.9 317.4l1.7-.9-1.3-1-1.7.9zM65.4 317.1l1.7-.9-1.4-1.1-1.6.9zM68.4 317.2l1.7-.6-1.3-1.1-1.7.7zM71.4 317.6l1.7-1.3-1.3-1.1-1.7 1.4zM74.4 317.3l1.7-1-1.3-1-1.7 1zM77.5 317.3l1.6-.7-1.3-1-1.7.7zM80.5 317.6l1.7-1.4-1.4-1-1.7 1.4zM83.5 317.1l1.7-1-1.4-.9-1.6 1z"/><path fill="#4745e9" stroke="#4745e9" d="M80.8 315.2l1.7-1.1-1.3-1-1.7 1.1zM83.8 315.2l1.7-.9-1.3-1-1.7.8zM86.9 315.3l1.7-1.6-1.4-1-1.7 1.6zM86.5 317l1.7-.8-1.3-.9-1.7.8z"/><path fill="#484df0" stroke="#484df0" d="M89.9 314.7l1.7-1.1-1.4-1-1.6 1.1zM92.9 314.5l1.7-1-1.3-.9-1.7 1zM36.2 317.9l1.7-.4-1.3-1-1.7.5zM39.2 318.5l1.7-1.1-1.3-1-1.7 1.1zM45.2 318.5l1.7-.4-1.3-1-1.7.5zM48.3 319.1l1.6-1.1-1.3-1-1.7 1.1zM51.3 319l1.7-.8-1.4-1-1.7.8z"/><path fill="#4854f6" stroke="#4854f6" d="M91.6 313.6l1.7-1-1.4-1.1-1.7 1.1zM45.6 317.1l1.7-1.1-1.3-1.1-1.7 1.2zM70.1 316.6l1.7-1.4-1.4-1.1-1.6 1.4zM48.6 317l1.7-.8-1.3-1.1-1.7.9zM73.1 316.3l1.7-1-1.3-1.1-1.7 1zM51.6 317.2l1.7-.5-1.3-1.1-1.7.6zM76.1 316.3l1.7-.7-1.3-1-1.7.7zM30.2 318l1.6-1.1-1.3-1-1.7 1.1zM54.6 317.8l1.7-1.2-1.3-1.1-1.7 1.2zM79.1 316.6l1.7-1.4-1.3-1-1.7 1.4zM33.2 317.8l1.7-.8-1.4-1.1-1.7 1zM57.7 317.6l1.7-.8-1.4-1.1-1.7.9zM82.2 316.2l1.6-1-1.3-1.1-1.7 1.1zM60.7 317.8l1.7-.5-1.4-1.1-1.6.6zM85.2 316.1l1.7-.8-1.4-1-1.7.9zM63.7 318.3l1.7-1.2-1.3-1.1-1.7 1.3zM88.2 316.2l1.7-1.5-1.3-1-1.7 1.6zM42.2 318.4l1.7-.8-1.3-1.1-1.7.9zM66.7 318l1.7-.8-1.3-1-1.7.9zM69.7 318.1l1.7-.5-1.3-1-1.7.6zM72.8 318.5l1.6-1.2-1.3-1-1.7 1.3zM75.8 318.2l1.7-.9-1.4-1-1.7 1z"/><path fill="#475cfa" stroke="#475cfa" d="M91.2 315.6l1.7-1.1-1.3-.9-1.7 1.1zM94.2 315.4l1.7-1-1.3-.9-1.7 1z"/><path fill="#4331c7" stroke="#4331c7" d="M43.2 321.2l1.7-1-1.3-.9-1.7 1zM49.2 321.2l1.7-.3-1.3-.9-1.7.4z"/><path fill="#4537d5" stroke="#4537d5" d="M65 319.2l1.7-1.2-1.3-.9-1.7 1.2zM43.6 319.3l1.6-.8-1.3-.9-1.7.8zM68 319l1.7-.9-1.3-.9-1.7.8zM46.6 319.5l1.7-.4-1.4-1-1.7.4zM71.1 319.1l1.7-.6-1.4-.9-1.7.5zM49.6 320l1.7-1-1.4-1-1.6 1.1zM74.1 319.5l1.7-1.3-1.4-.9-1.6 1.2zM52.6 319.9l1.7-.8-1.3-.9-1.7.8zM55.6 320.1l1.7-.4-1.3-1-1.7.4zM34.1 320.7l1.7-1-1.3-.9-1.7 1zM58.6 320.6l1.7-1.1-1.3-.9-1.7 1.1zM37.2 320.6l1.6-.8-1.3-.9-1.7.8zM61.7 320.4l1.6-.7-1.3-1-1.7.8zM40.2 320.6l1.7-.3-1.4-.9-1.7.4zM64.7 320.5l1.7-.4-1.4-.9-1.7.5zM67.7 321l1.7-1.1-1.4-.9-1.6 1.1zM46.2 321.1l1.7-.7-1.3-.9-1.7.7zM70.7 320.7l1.7-.7-1.3-.9-1.7.8z"/><path fill="#463ee1" stroke="#463ee1" d="M77.1 319.1l1.7-.9-1.3-.9-1.7.9zM80.1 319.1l1.7-.6-1.3-.9-1.7.6zM83.1 319.3l1.7-1.3-1.3-.9-1.7 1.4zM86.1 318.8l1.7-.9-1.3-.9-1.7 1zM89.2 318.7l1.7-.8-1.4-.8-1.7.8zM92.2 318.7l1.7-1.4-1.4-.8-1.6 1.4zM35.5 321.5l1.7-.9-1.4-.9-1.7 1z"/><path fill="#4745e9" stroke="#4745e9" d="M89.5 317.1l1.7-1.5-1.3-.9-1.7 1.5zM32.8 319.8l1.7-1-1.3-1-1.7 1.1zM92.5 316.5l1.7-1.1-1.3-.9-1.7 1.1zM35.8 319.7l1.7-.8-1.3-1-1.7.9zM95.6 316.2l1.6-.9-1.3-.9-1.7 1zM38.8 319.8l1.7-.4-1.3-.9-1.7.4zM41.9 320.3l1.7-1-1.4-.9-1.7 1zM44.9 320.2l1.7-.7-1.4-1-1.6.8zM47.9 320.4l1.7-.4-1.3-.9-1.7.4zM50.9 320.9l1.7-1-1.3-.9-1.7 1zM53.9 320.8l1.7-.7-1.3-1-1.7.8zM57 320.9l1.6-.3-1.3-.9-1.7.4zM60 321.5l1.7-1.1-1.4-.9-1.7 1.1zM95.2 318l1.7-1-1.3-.8-1.7 1.1z"/><path fill="#484df0" stroke="#484df0" d="M54.3 319.1l1.7-.4-1.4-.9-1.6.4zM57.3 319.7l1.7-1.1-1.3-1-1.7 1.1zM60.3 319.5l1.7-.8-1.3-.9-1.7.8zM63.3 319.7l1.7-.5-1.3-.9-1.7.4zM66.4 320.1l1.6-1.1-1.3-1-1.7 1.2zM69.4 319.9l1.7-.8-1.4-1-1.7.9zM72.4 320l1.7-.5-1.3-1-1.7.6zM75.4 320.3l1.7-1.2-1.3-.9-1.7 1.3z"/><path fill="#4854f6" stroke="#4854f6" d="M78.8 318.2l1.7-.6-1.4-1-1.6.7zM81.8 318.5l1.7-1.4-1.3-.9-1.7 1.4zM84.8 318l1.7-1-1.3-.9-1.7 1zM78.4 319.9l1.7-.8-1.3-.9-1.7.9zM81.4 319.9l1.7-.6-1.3-.8-1.7.6z"/><path fill="#475cfa" stroke="#475cfa" d="M87.8 317.9l1.7-.8-1.3-.9-1.7.8zM90.9 317.9l1.6-1.4-1.3-.9-1.7 1.5zM93.9 317.3l1.7-1.1-1.4-.8-1.7 1.1zM96.9 317l1.7-.9-1.4-.8-1.6.9z"/><path fill="#4331c7" stroke="#4331c7" d="M52.2 321.8l1.7-1-1.3-.9-1.7 1zM55.3 321.7l1.7-.8-1.4-.8-1.7.7zM58.3 321.8l1.7-.3-1.4-.9-1.6.3zM36.8 322.3l1.7-.9-1.3-.8-1.7.9zM61.3 322.3l1.7-1-1.3-.9-1.7 1.1zM39.8 322.2l1.7-.7-1.3-.9-1.7.8zM64.3 322.1l1.7-.7-1.3-.9-1.7.8zM42.8 322.3l1.7-.3-1.3-.8-1.7.3zM67.3 322.2l1.7-.4-1.3-.8-1.7.4zM45.9 322.9l1.6-1-1.3-.8-1.7.9zM70.3 322.6l1.7-1-1.3-.9-1.7 1.1zM48.9 322.7l1.7-.6-1.4-.9-1.7.7zM38.1 323.1l1.7-.9-1.3-.8-1.7.9zM51.9 322.9l1.7-.3-1.4-.8-1.6.3zM54.9 323.4l1.7-.9-1.3-.8-1.7.9zM44.2 323.1l1.7-.2-1.4-.9-1.7.3zM57.9 323.3l1.7-.7-1.3-.8-1.7.7zM47.2 323.6l1.7-.9-1.4-.8-1.6 1z"/><path fill="#4537d5" stroke="#4537d5" d="M73.7 320.8l1.7-.5-1.3-.8-1.7.5zM76.7 321.1l1.7-1.2-1.3-.8-1.7 1.2zM79.8 320.8l1.6-.9-1.3-.8-1.7.8zM82.8 320.7l1.7-.6-1.4-.8-1.7.6zM50.6 322.1l1.6-.3-1.3-.9-1.7.3zM85.8 320.9l1.7-1.3-1.4-.8-1.6 1.3zM53.6 322.6l1.7-.9-1.4-.9-1.7 1zM59.6 322.6l1.7-.3-1.3-.8-1.7.3zM73.4 322.3l1.7-.7-1.4-.8-1.7.8zM62.6 323.1l1.7-1-1.3-.8-1.7 1zM41.1 323l1.7-.7-1.3-.8-1.7.7zM76.4 322.4l1.7-.5-1.4-.8-1.6.5zM79.4 322.7l1.7-1.2-1.3-.7-1.7 1.1zM68.7 323l1.6-.4-1.3-.8-1.7.4z"/><path fill="#463ee1" stroke="#463ee1" d="M38.5 321.4l1.7-.8-1.4-.8-1.6.8zM41.5 321.5l1.7-.3-1.3-.9-1.7.3zM44.5 322l1.7-.9-1.3-.9-1.7 1zM47.5 321.9l1.7-.7-1.3-.8-1.7.7zM88.8 320.3l1.7-.9-1.3-.7-1.7.9zM56.6 322.5l1.7-.7-1.3-.9-1.7.8zM91.8 320.2l1.7-.7-1.3-.8-1.7.7zM94.8 320.2l1.7-1.5-1.3-.7-1.7 1.5zM65.6 322.9l1.7-.7-1.3-.8-1.7.7z"/><path fill="#4745e9" stroke="#4745e9" d="M63 321.3l1.7-.8-1.4-.8-1.6.7zM98.2 317.7l1.7-.9-1.3-.7-1.7.9zM66 321.4l1.7-.4-1.3-.9-1.7.4zM69 321.8l1.7-1.1-1.3-.8-1.7 1.1zM72 321.6l1.7-.8-1.3-.8-1.7.7zM75.1 321.6l1.6-.5-1.3-.8-1.7.5zM78.1 321.9l1.7-1.1-1.4-.9-1.7 1.2zM81.1 321.5l1.7-.8-1.4-.8-1.6.9zM84.1 321.5l1.7-.6-1.3-.8-1.7.6z"/><path fill="#484df0" stroke="#484df0" d="M87.1 321.6l1.7-1.3-1.3-.7-1.7 1.3zM90.1 321l1.7-.8-1.3-.8-1.7.9zM93.2 320.8l1.6-.6-1.3-.7-1.7.7z"/><path fill="#4854f6" stroke="#4854f6" d="M84.5 320.1l1.6-1.3-1.3-.8-1.7 1.3zM87.5 319.6l1.7-.9-1.4-.8-1.7.9zM90.5 319.4l1.7-.7-1.3-.8-1.7.8z"/><path fill="#475cfa" stroke="#475cfa" d="M93.5 319.5l1.7-1.5-1.3-.7-1.7 1.4zM96.5 318.7l1.7-1-1.3-.7-1.7 1z"/><path fill="#4331c7" stroke="#4331c7" d="M60.9 323.4l1.7-.3-1.3-.8-1.7.3zM50.2 323.5l1.7-.6-1.3-.8-1.7.6zM39.5 323.9l1.6-.9-1.3-.8-1.7.9zM64 323.9l1.6-1-1.3-.8-1.7 1zM53.2 323.6l1.7-.2-1.3-.8-1.7.3zM42.5 323.7l1.7-.6-1.4-.8-1.7.7zM67 323.6l1.7-.6-1.4-.8-1.7.7zM56.2 324.2l1.7-.9-1.3-.8-1.7.9zM45.5 323.8l1.7-.2-1.3-.7-1.7.2zM70 323.7l1.7-.3-1.4-.8-1.6.4zM59.3 324l1.6-.6-1.3-.8-1.7.7zM48.5 324.4l1.7-.9-1.3-.8-1.7.9zM73 324.1l1.7-1-1.3-.8-1.7 1.1zM62.3 324.1l1.7-.2-1.4-.8-1.7.3zM51.5 324.3l1.7-.7-1.3-.7-1.7.6zM40.8 324.6l1.7-.9-1.4-.7-1.6.9zM76 323.8l1.7-.7-1.3-.7-1.7.7zM65.3 324.6l1.7-1-1.4-.7-1.6 1zM54.5 324.4l1.7-.2-1.3-.8-1.7.2zM43.8 324.5l1.7-.7-1.3-.7-1.7.6zM79 323.8l1.7-.4-1.3-.7-1.7.4zM68.3 324.4l1.7-.7-1.3-.7-1.7.6zM57.6 324.9l1.7-.9-1.4-.7-1.7.9zM46.8 324.6l1.7-.2-1.3-.8-1.7.2zM82.1 324.1l1.6-1.2-1.3-.7-1.7 1.2zM71.3 324.4l1.7-.3-1.3-.7-1.7.3zM60.6 324.7l1.7-.6-1.4-.7-1.6.6zM49.8 325.1l1.7-.8-1.3-.8-1.7.9zM74.3 324.8l1.7-1-1.3-.7-1.7 1zM63.6 324.8l1.7-.2-1.3-.7-1.7.2zM52.9 325l1.6-.6-1.3-.8-1.7.7zM42.1 325.3l1.7-.8-1.3-.8-1.7.9zM66.6 325.3l1.7-.9-1.3-.8-1.7 1zM55.9 325.1l1.7-.2-1.4-.7-1.7.2zM45.1 325.2l1.7-.6-1.3-.8-1.7.7zM69.6 325.1l1.7-.7-1.3-.7-1.7.7zM58.9 325.6l1.7-.9-1.3-.7-1.7.9zM48.2 325.3l1.6-.2-1.3-.7-1.7.2zM72.6 325.1l1.7-.3-1.3-.7-1.7.3zM61.9 325.5l1.7-.7-1.3-.7-1.7.6zM51.2 325.8l1.7-.8-1.4-.7-1.7.8z"/><path fill="#4537d5" stroke="#4537d5" d="M82.4 322.2l1.7-.7-1.3-.8-1.7.8zM71.7 323.4l1.7-1.1-1.4-.7-1.7 1zM85.4 322.2l1.7-.6-1.3-.7-1.7.6zM88.4 322.3l1.7-1.3-1.3-.7-1.7 1.3zM85.1 323.6l1.7-.8-1.4-.6-1.7.7zM88.1 323.5l1.7-.5-1.4-.7-1.6.5zM77.4 324.5l1.6-.7-1.3-.7-1.7.7zM80.4 324.5l1.7-.4-1.4-.7-1.7.4zM83.4 324.7l1.7-1.1-1.4-.7-1.6 1.2zM86.4 324.2l1.7-.7-1.3-.7-1.7.8z"/><path fill="#463ee1" stroke="#463ee1" d="M74.7 323.1l1.7-.7-1.3-.8-1.7.7zM77.7 323.1l1.7-.4-1.3-.8-1.7.5zM91.5 321.7l1.7-.9-1.4-.6-1.7.8zM80.7 323.4l1.7-1.2-1.3-.7-1.7 1.2zM83.7 322.9l1.7-.7-1.3-.7-1.7.7zM86.8 322.8l1.6-.5-1.3-.7-1.7.6zM89.8 323l1.7-1.3-1.4-.7-1.7 1.3z"/><path fill="#402cb8" stroke="#402cb8" d="M52.5 326.5l1.7-.8-1.3-.7-1.7.8zM58.5 326.5l1.7-.2-1.3-.7-1.7.2zM61.6 327l1.6-.9-1.3-.6-1.7.8zM67.6 326.9l1.7-.2-1.4-.7-1.6.2zM46.1 327.3l1.7-.7-1.3-.7-1.7.8zM70.6 327.3l1.7-.9-1.3-.7-1.7 1zM49.1 327.2l1.7-.6-1.3-.6-1.7.6zM52.1 327.3l1.7-.1-1.3-.7-1.7.1zM55.2 327.8l1.6-.8-1.3-.6-1.7.8zM58.2 327.7l1.7-.6-1.4-.6-1.7.5zM61.2 327.8l1.7-.2-1.3-.6-1.7.1zM64.2 328.3l1.7-.9-1.3-.6-1.7.8zM67.2 328.1l1.7-.6-1.3-.6-1.7.5z"/><path fill="#4331c7" stroke="#4331c7" d="M75.7 325.5l1.7-1-1.4-.7-1.7 1zM64.9 325.5l1.7-.2-1.3-.7-1.7.2zM54.2 325.7l1.7-.6-1.4-.7-1.6.6zM43.4 326l1.7-.8-1.3-.7-1.7.8zM78.7 325.1l1.7-.6-1.4-.7-1.6.7zM67.9 326l1.7-.9-1.3-.7-1.7.9zM57.2 325.8l1.7-.2-1.3-.7-1.7.2zM46.5 325.9l1.7-.6-1.4-.7-1.7.6zM81.7 325.1l1.7-.4-1.3-.6-1.7.4zM71 325.7l1.6-.6-1.3-.7-1.7.7zM60.2 326.3l1.7-.8-1.3-.8-1.7.9zM49.5 326l1.7-.2-1.4-.7-1.6.2zM74 325.8l1.7-.3-1.4-.7-1.7.3zM63.2 326.1l1.7-.6-1.3-.7-1.7.7zM77 326.1l1.7-1-1.3-.6-1.7 1zM66.3 326.2l1.6-.2-1.3-.7-1.7.2zM55.5 326.4l1.7-.6-1.3-.7-1.7.6zM80 325.8l1.7-.7-1.3-.6-1.7.6zM69.3 326.7l1.7-1-1.4-.6-1.7.9zM83 325.7l1.7-.4-1.3-.6-1.7.4zM72.3 326.4l1.7-.6-1.4-.7-1.6.6zM75.3 326.4l1.7-.3-1.3-.6-1.7.3zM64.6 326.8l1.7-.6-1.4-.7-1.7.6zM78.3 326.8l1.7-1-1.3-.7-1.7 1zM73.6 327l1.7-.6-1.3-.6-1.7.6zM76.6 327l1.7-.2-1.3-.7-1.7.3zM79.6 327.4l1.7-1-1.3-.6-1.7 1z"/><path fill="#4537d5" stroke="#4537d5" d="M84.7 325.3l1.7-1.1-1.3-.6-1.7 1.1zM44.8 326.7l1.7-.8-1.4-.7-1.7.8zM47.8 326.6l1.7-.6-1.3-.7-1.7.6zM50.8 326.6l1.7-.1-1.3-.7-1.7.2zM53.8 327.2l1.7-.8-1.3-.7-1.7.8zM56.8 327l1.7-.5-1.3-.7-1.7.6zM81.3 326.4l1.7-.7-1.3-.6-1.7.7zM59.9 327.1l1.7-.1-1.4-.7-1.7.2zM62.9 327.6l1.7-.8-1.4-.7-1.6.9zM65.9 327.4l1.7-.5-1.3-.7-1.7.6zM68.9 327.5l1.7-.2-1.3-.6-1.7.2zM71.9 327.9l1.7-.9-1.3-.6-1.7.9zM74.9 327.6l1.7-.6-1.3-.6-1.7.6zM78 327.6l1.6-.2-1.3-.6-1.7.2z"/><path fill="#463ee1" stroke="#463ee1" d="M47.4 328l1.7-.8-1.3-.6-1.7.7zM50.5 327.9l1.6-.6-1.3-.7-1.7.6zM53.5 327.9l1.7-.1-1.4-.6-1.7.1zM56.5 328.5l1.7-.8-1.4-.7-1.6.8z"/><path fill="#402cb8" stroke="#402cb8" d="M70.2 328.1l1.7-.2-1.3-.6-1.7.2zM48.8 328.6l1.7-.7-1.4-.7-1.7.8zM73.3 328.5l1.6-.9-1.3-.6-1.7.9zM51.8 328.5l1.7-.6-1.4-.6-1.6.6zM54.8 328.6l1.7-.1-1.3-.7-1.7.1zM57.8 329.1l1.7-.8-1.3-.6-1.7.8zM60.8 329l1.7-.6-1.3-.6-1.7.5zM63.9 329l1.6-.1-1.3-.6-1.7.1zM66.9 329.5l1.7-.8-1.4-.6-1.7.8zM69.9 329.3l1.7-.6-1.4-.6-1.6.6zM72.9 329.3l1.7-.2-1.3-.6-1.7.2zM51.4 329.9l1.7-.8-1.3-.6-1.7.8zM54.4 329.8l1.7-.6-1.3-.6-1.7.5zM57.5 329.8l1.6-.1-1.3-.6-1.7.1zM60.5 330.3l1.7-.7-1.4-.6-1.7.7zM63.5 330.2l1.7-.6-1.3-.6-1.7.6zM66.5 330.2l1.7-.1-1.3-.6-1.7.1zM69.5 330.7l1.7-.8-1.3-.6-1.7.8zM54.1 331.1l1.7-.7-1.4-.6-1.6.7zM57.1 331l1.7-.6-1.3-.6-1.7.6zM60.1 331l1.7-.1-1.3-.6-1.7.1zM63.1 331.5l1.7-.7-1.3-.6-1.7.7zM66.2 331.3l1.6-.5-1.3-.6-1.7.6zM56.7 332.3l1.7-.7-1.3-.6-1.7.7zM59.8 332.1l1.6-.5-1.3-.6-1.7.6zM62.8 332.2l1.7-.1-1.4-.6-1.7.1zM59.4 333.5l1.7-.8-1.3-.6-1.7.8z"/><path fill="#4331c7" stroke="#4331c7" d="M76.3 328.2l1.7-.6-1.4-.6-1.7.6zM58.1 332.9l1.7-.8-1.4-.5-1.7.7zM61.1 332.7l1.7-.5-1.4-.6-1.6.5z"/><path fill="#4537d5" stroke="#4537d5" d="M55.4 331.7l1.7-.7-1.3-.6-1.7.7zM58.4 331.6l1.7-.6-1.3-.6-1.7.6zM61.4 331.6l1.7-.1-1.3-.6-1.7.1zM64.5 332.1l1.7-.8-1.4-.5-1.7.7z"/><path fill="#463ee1" stroke="#463ee1" d="M59.5 328.3l1.7-.5-1.3-.7-1.7.6zM62.5 328.4l1.7-.1-1.3-.7-1.7.2zM65.5 328.9l1.7-.8-1.3-.7-1.7.9zM68.6 328.7l1.6-.6-1.3-.6-1.7.6zM71.6 328.7l1.7-.2-1.4-.6-1.7.2zM50.1 329.3l1.7-.8-1.3-.6-1.7.7zM74.6 329.1l1.7-.9-1.4-.6-1.6.9zM56.1 329.2l1.7-.1-1.3-.6-1.7.1zM59.1 329.7l1.7-.7-1.3-.7-1.7.8zM65.2 329.6l1.7-.1-1.4-.6-1.6.1zM68.2 330.1l1.7-.8-1.3-.6-1.7.8zM52.8 330.5l1.6-.7-1.3-.7-1.7.8zM55.8 330.4l1.7-.6-1.4-.6-1.7.6zM58.8 330.4l1.7-.1-1.4-.6-1.6.1zM61.8 330.9l1.7-.7-1.3-.6-1.7.7zM64.8 330.8l1.7-.6-1.3-.6-1.7.6zM67.8 330.8l1.7-.1-1.3-.6-1.7.1z"/><path fill="#4745e9" stroke="#4745e9" d="M53.1 329.1l1.7-.5-1.3-.7-1.7.6zM62.2 329.6l1.7-.6-1.4-.6-1.7.6zM71.2 329.9l1.7-.6-1.3-.6-1.7.6z"/></g><path d="M27.5 318.6L36 322.2L45 325.6L53 328L60 329L68 328.2L78 326.7L88 324.7L99 322.4" stroke="#f4f8ff" stroke-width="1.6" fill="none"/><path d="M54.5 328.2L58.2 318L58.8 318L63 328Z" fill="#3cb4e6" opacity="0.75"/><path d="M58.5 318.5V327" stroke="#a8f0ff" stroke-width="0.6"/><path d="M27.5 320.3L59.4 334.4L99.9 323.6" stroke="#8a8a8a" stroke-width="0.6" fill="none"/><text class="R" x="63.3" y="275.7" font-size="8.6" fill="#000">F9</text><text class="S" x="25.7" y="322.7" font-size="6.9" text-anchor="end" fill="#262626">0</text><text class="S" x="25.7" y="304.4" font-size="6.9" text-anchor="end" fill="#262626">10,000</text><text class="S" x="19.6" y="328.3" font-size="6.9" fill="#262626">100</text><text class="S" x="38.5" y="335" font-size="6.9" fill="#262626">0</text><text class="S" x="49.3" y="342.1" font-size="6.9" fill="#262626">−100</text><text class="S" x="68.1" y="341.7" font-size="6.9" fill="#262626">−100</text><text class="S" x="83.9" y="336.8" font-size="6.9" fill="#262626">0</text><text class="S" x="108.7" y="331.8" font-size="6.9" fill="#262626">100</text><path d="M59.4 422.4L27.5 408.3M59.4 422.4L99.9 411.6M79.7 417L47.8 402.9M43.4 415.3L84 404.5M99.9 411.6L68 397.5M27.5 408.3L68 397.5M47.8 402.9L47.8 372.2M84 404.5L84 373.8M27.5 408.3L68 397.5L99.9 411.6M27.5 390.7L68 379.9L99.9 394" stroke="#e1e1e1" stroke-width="0.6" fill="none"/><path d="M27.5 408.3L27.5 377.6L68 366.8L99.9 380.9M68 397.5L68 366.8M99.9 411.6L99.9 380.9" stroke="#8a8a8a" stroke-width="0.6" fill="none"/><path d="M30 409.5l3 1.2 2-.6 3 1.6 2.5-.4 3 1.8 2.5.2M86 415.5l3-.8 2.5.4 3-1.3 2.5-.2 2-1" stroke="#7fb8f5" stroke-width="0.8" fill="none"/><g stroke-width="0.4" stroke-linejoin="round"><path fill="#402cb8" stroke="#402cb8" d="M67.7 392.5l1.4-.4-1.1-.4-1.4.3zM66.4 392.9l1.3-.4-1.1-.5-1.3.4zM68.8 393l1.3-.4-1-.5-1.4.4zM65 393.2l1.4-.3-1.1-.5-1.4.3zM67.4 393.3l1.4-.3-1.1-.5-1.3.4zM69.8 393.4l1.4-.3-1.1-.5-1.3.4zM63.7 393.6l1.3-.4-1.1-.5-1.3.4zM66.1 393.7l1.3-.4-1-.4-1.4.3zM68.5 393.8l1.3-.4-1-.4-1.4.3zM70.9 393.9l1.4-.4-1.1-.4-1.4.3zM62.3 393.9l1.4-.3-1.1-.5-1.4.4zM64.7 394l1.4-.3-1.1-.5-1.3.4zM67.1 394.2l1.4-.4-1.1-.5-1.3.4zM69.6 394.3l1.3-.4-1.1-.5-1.3.4zM61 394.3l1.3-.4-1.1-.4-1.3.3zM72 394.4l1.3-.4-1-.5-1.4.4zM63.4 394.4l1.3-.4-1-.4-1.4.3zM65.8 394.5l1.3-.3-1-.5-1.4.3zM68.2 394.6l1.4-.3-1.1-.5-1.4.4zM59.6 394.7l1.4-.4-1.1-.5-1.3.4zM70.6 394.7l1.4-.3-1.1-.5-1.3.4zM62 394.8l1.4-.4-1.1-.5-1.3.4zM73 394.8l1.4-.3-1.1-.5-1.3.4zM64.4 394.9l1.4-.4-1.1-.5-1.3.4zM66.9 395l1.3-.4-1.1-.4-1.3.3zM58.3 395l1.3-.3-1-.5-1.4.3zM69.3 395.1l1.3-.4-1-.4-1.4.3zM60.7 395.1l1.3-.3-1-.5-1.4.4zM71.7 395.2l1.3-.4-1-.4-1.4.3zM63.1 395.2l1.3-.3-1-.5-1.4.4zM74.1 395.3l1.3-.3-1-.5-1.4.3zM65.5 395.3l1.4-.3-1.1-.5-1.4.4zM67.9 395.5l1.4-.4-1.1-.5-1.3.4zM59.3 395.5l1.4-.4-1.1-.4-1.3.3zM70.3 395.6l1.4-.4-1.1-.5-1.3.4zM61.7 395.6l1.4-.4-1.1-.4-1.3.3zM72.7 395.7l1.4-.4-1.1-.5-1.3.4zM64.2 395.7l1.3-.4-1.1-.4-1.3.3zM75.2 395.8l1.3-.4-1.1-.4-1.3.3zM66.6 395.8l1.3-.3-1-.5-1.4.3zM69 395.9l1.3-.3-1-.5-1.4.4zM60.4 396l1.3-.4-1-.5-1.4.4zM71.4 396l1.3-.3-1-.5-1.4.4zM62.8 396.1l1.4-.4-1.1-.5-1.4.4zM73.8 396.1l1.4-.3-1.1-.5-1.4.4zM65.2 396.2l1.4-.4-1.1-.5-1.3.4zM76.2 396.2l1.4-.3-1.1-.5-1.3.4zM67.6 396.3l1.4-.4-1.1-.4-1.3.3zM59 396.1l1.4-.1-1.1-.5-1.3.1zM70 396.4l1.4-.4-1.1-.4-1.3.3zM61.5 396.4l1.3-.3-1.1-.5-1.3.4zM72.5 396.5l1.3-.4-1.1-.4-1.3.3zM63.9 396.5l1.3-.3-1-.5-1.4.4zM74.9 396.6l1.3-.4-1-.4-1.4.3zM66.3 396.6l1.3-.3-1-.5-1.4.4zM77.3 396.6l1.3-.3-1-.4-1.4.3zM68.7 396.8l1.3-.4-1-.5-1.4.4zM60.1 396.6l1.4-.2-1.1-.4-1.4.1zM71.1 396.9l1.4-.4-1.1-.5-1.4.4zM62.5 396.9l1.4-.4-1.1-.4-1.3.3zM73.5 396.9l1.4-.3-1.1-.5-1.3.4zM64.9 397l1.4-.4-1.1-.4-1.3.3zM75.9 397l1.4-.4-1.1-.4-1.3.4zM67.3 397.1l1.4-.3-1.1-.5-1.3.3zM78.3 396.9l1.4-.3-1.1-.3-1.3.3zM69.8 397.2l1.3-.3-1.1-.5-1.3.4zM61.2 397l1.3-.1-1-.5-1.4.2zM72.2 397.3l1.3-.4-1-.4-1.4.4zM63.6 397.4l1.3-.4-1-.5-1.4.4zM74.6 397.3l1.3-.3-1-.4-1.4.3zM66 397.5l1.3-.4-1-.5-1.4.4zM68.4 397.6l1.4-.4-1.1-.4-1.4.3z"/><path fill="#4331c7" stroke="#4331c7" d="M56.9 394.8l1.4.2-1.1-.5-1.4-.1zM55.6 394.9l1.3-.1-1.1-.4-1.3.1zM58 395.6l1.3-.1-1-.5-1.4-.2zM56.6 395.3l1.4.3-1.1-.8-1.3.1zM57.7 395.9l1.3.2-1-.5-1.4-.3zM58.8 396.8l1.3-.2-1.1-.5-1.3-.2zM57.4 396.7l1.4.1-1.1-.9-1.4.5zM77 397.3l1.3-.4-1-.3-1.4.4z"/><path fill="#4537d5" stroke="#4537d5" d="M54.2 395.2l1.4-.3-1.1-.4-1.4-.9zM55.3 395.5l1.3-.2-1-.4-1.4.3zM56.3 396.4l1.4-.5-1.1-.6-1.3.2zM55 396.4l1.3 0-1-.9-1.4-.1z"/><path fill="#463ee1" stroke="#463ee1" d="M53.9 395.4l1.4.1-1.1-.3-1.3-1.4z"/><path fill="#4745e9" stroke="#4745e9" d="M52.9 393.8l1.3 1.4-1.1-1.6-1.3.7zM51.5 395l1.4-1.2-1.1.5-1.4-.1zM52.6 395.5l1.3-.1-1-1.6-1.4 1.2z"/><path fill="#4854f6" stroke="#4854f6" d="M50.2 394.5l1.3.5-1.1-.8-1.3-2.5z"/><path fill="#475cfa" stroke="#475cfa" d="M48.8 393.1l1.4 1.4-1.1-2.8-1.3 3z"/><path fill="#402cb8" stroke="#402cb8" d="M70.8 397.7l1.4-.4-1.1-.4-1.3.3zM62.2 397.6l1.4-.2-1.1-.5-1.3.1zM73.2 397.7l1.4-.4-1.1-.4-1.3.4zM64.6 397.8l1.4-.3-1.1-.5-1.3.4zM67.1 397.9l1.3-.3-1.1-.5-1.3.4zM69.5 398l1.3-.3-1-.5-1.4.4zM71.9 398.1l1.3-.4-1-.4-1.4.4zM63.3 398.1l1.3-.3-1-.4-1.4.2zM65.7 398.3l1.4-.4-1.1-.4-1.4.3zM68.1 398.4l1.4-.4-1.1-.4-1.3.3zM70.5 398.4l1.4-.3-1.1-.4-1.3.3zM61.9 398.4l1.4-.3-1.1-.5-1.3.4zM64.4 398.6l1.3-.3-1.1-.5-1.3.3zM66.8 398.8l1.3-.4-1-.5-1.4.4zM69.2 398.8l1.3-.4-1-.4-1.4.4zM60.6 398.9l1.3-.5-1-.4-1.4.3zM71.6 398.8l1.3-.4-1-.3-1.4.3zM63 398.9l1.4-.3-1.1-.5-1.4.3zM65.4 399l1.4-.2-1.1-.5-1.3.3zM67.8 399.2l1.4-.4-1.1-.4-1.3.4zM59.2 399.3l1.4-.4-1.1-.6-1.3.3zM70.2 399.2l1.4-.4-1.1-.4-1.3.4zM61.7 399.3l1.3-.4-1.1-.5-1.3.5zM64.1 399.3l1.3-.3-1-.4-1.4.3zM66.5 399.4l1.3-.2-1-.4-1.4.2zM57.9 399.5l1.3-.2-1-.7-1.4.4zM68.9 399.6l1.3-.4-1-.4-1.4.4zM60.3 399.7l1.4-.4-1.1-.4-1.4.4zM62.7 399.7l1.4-.4-1.1-.4-1.3.4z"/><path fill="#4331c7" stroke="#4331c7" d="M59.8 397.4l1.4-.4-1.1-.4-1.3.2zM79.4 397.1l1.4-.2-1.1-.3-1.4.3zM75.6 397.6l1.4-.3-1.1-.3-1.3.3zM58.5 397.6l1.3-.2-1-.6-1.4-.1zM78.1 397.4l1.3-.3-1.1-.2-1.3.4zM60.9 398l1.3-.4-1-.6-1.4.4zM74.3 398l1.3-.4-1-.3-1.4.4zM57.1 397.9l1.4-.3-1.1-.9-1.3.7zM76.7 397.7l1.4-.3-1.1-.1-1.4.3zM59.5 398.3l1.4-.3-1.1-.6-1.3.2zM72.9 398.4l1.4-.4-1.1-.3-1.3.4zM55.8 398.1l1.3-.2-1-.5-1.4-.2zM75.4 398.1l1.3-.4-1.1-.1-1.3.4zM58.2 398.6l1.3-.3-1-.7-1.4.3zM74 398.6l1.4-.5-1.1-.1-1.4.4zM56.8 399l1.4-.4-1.1-.7-1.3.2zM72.7 399.1l1.3-.5-1.1-.2-1.3.4zM55.5 398.7l1.3.3-1-.9-1.4-.1zM71.3 399.5l1.4-.4-1.1-.3-1.4.4z"/><path fill="#4537d5" stroke="#4537d5" d="M56.1 397.4l1.3-.7-1.1-.3-1.3 0zM80.5 397.1l1.3-.1-1-.1-1.4.2zM54.7 397.2l1.4.2-1.1-1-1.4-.7zM79.1 397.3l1.4-.2-1.1 0-1.3.3zM77.8 397.6l1.3-.3-1 .1-1.4.3zM54.4 398l1.4.1-1.1-.9-1.3-.3zM76.4 398l1.4-.4-1.1.1-1.3.4zM75.1 398.5l1.3-.5-1 .1-1.4.5zM54.1 398.7l1.4 0-1.1-.7-1.3.2z"/><path fill="#463ee1" stroke="#463ee1" d="M53.6 395.7l1.4.7-1.1-1-1.3.1zM53.4 396.9l1.3.3-1.1-1.5-1.3 1.3zM81.5 396.8l1.4.1-1.1.1-1.3.1zM80.2 396.8l1.3 0-1 .3-1.4.2zM53.1 398.2l1.3-.2-1-1.1-1.4.6z"/><path fill="#4745e9" stroke="#4745e9" d="M51.2 395.3l1.4.2-1.1-.5-1.3-.5zM52.3 397l1.3-1.3-1-.2-1.4-.2zM52 397.5l1.4-.6-1.1.1-1.4-1.6zM82.6 396.1l1.4.5-1.1.3-1.4-.1zM78.8 397l1.4-.2-1.1.5-1.3.3zM77.5 397.5l1.3-.5-1 .6-1.4.4z"/><path fill="#484df0" stroke="#484df0" d="M50.9 395.4l1.4 1.6-1.1-1.7-1.3-1.1zM81.2 395.6l1.4.5-1.1.7-1.3 0zM51.7 396.8l1.4 1.4-1.1-.7-1.3-1.6z"/><path fill="#4854f6" stroke="#4854f6" d="M49.9 394.2l1.3 1.1-1-.8-1.4-1.4zM50.7 395.9l1.3 1.6-1.1-2.1-1.3-.4zM49.3 396.4l1.4-.5-1.1-.9-1.4 2.1zM79.9 395.5l1.3.1-1 1.2-1.4.2z"/><path fill="#475cfa" stroke="#475cfa" d="M47.5 394.5l1.3-1.4-1 1.6-1.4-2zM48.5 395.7l1.4-1.5-1.1-1.1-1.3 1.4zM49.6 395l1.3.4-1-1.2-1.4 1.5zM48.2 397.1l1.4-2.1-1.1.7-1.3-2zM83.7 394.5l1.3 1.6-1 .5-1.4-.5z"/><path fill="#4564fd" stroke="#4564fd" d="M47.2 393.7l1.3 2-1-1.2-1.4-1.4zM44.5 396.2l1.3-1.7-1-.4-1.4 0z"/><path fill="#416cfe" stroke="#416cfe" d="M44.8 394.1l1.3-1-1.1-1.6-1.3 3.7zM43.4 394.1l1.4 0-1.1 1.1-1.4-3.4zM45.8 394.5l1.4-.8-1.1-.6-1.3 1zM46.9 393.6l1.3 3.5-1-3.4-1.4.8zM40.7 395l1.4-.9-1.1-.6-1.4 1.9z"/><path fill="#3a74fe" stroke="#3a74fe" d="M46.1 393.1l1.4 1.4-1.1-1.8-1.4-1.2zM43.1 392.2l1.4 4-1.1-2.1-1.3 0z"/><path fill="#327cfc" stroke="#327cfc" d="M42.1 394.1l1.3 0-1.1-2.3-1.3 1.7z"/><path fill="#402cb8" stroke="#402cb8" d="M67.5 399.8l1.4-.2-1.1-.4-1.3.2zM59 400l1.3-.3-1.1-.4-1.3.2zM70 400l1.3-.5-1.1-.3-1.3.4zM61.4 400.1l1.3-.4-1-.4-1.4.4zM60 400.2l1.4-.1-1.1-.4-1.3.3z"/><path fill="#4331c7" stroke="#4331c7" d="M65.1 399.8l1.4-.4-1.1-.4-1.3.3zM56.5 399.7l1.4-.2-1.1-.5-1.3-.3zM72.4 399.8l1.3-.6-1-.1-1.4.4zM63.8 399.9l1.3-.1-1-.5-1.4.4zM66.2 400l1.3-.2-1-.4-1.4.4zM57.6 400.1l1.4-.1-1.1-.5-1.4.2zM68.6 400.1l1.4-.1-1.1-.4-1.4.2zM71 400.3l1.4-.5-1.1-.3-1.3.5zM62.4 400.3l1.4-.4-1.1-.2-1.3.4zM64.8 400.3l1.4-.3-1.1-.2-1.3.1zM67.3 400.3l1.3-.2-1.1-.3-1.3.2zM58.7 400.4l1.3-.2-1-.2-1.4.1zM69.7 400.6l1.3-.3-1-.3-1.4.1zM61.1 400.7l1.3-.4-1-.2-1.4.1zM72.1 400.6l1.3-.7-1-.1-1.4.5zM63.5 400.4l1.3-.1-1-.4-1.4.4zM65.9 400.6l1.4-.3-1.1-.3-1.4.3zM68.3 400.2l1.4.4-1.1-.5-1.3.2zM59.7 400.1l1.4.6-1.1-.5-1.3.2zM70.7 400.8l1.4-.2-1.1-.3-1.3.3zM62.1 400.6l1.4-.2-1.1-.1-1.3.4z"/><path fill="#4537d5" stroke="#4537d5" d="M73.7 399.2l1.4-.7-1.1.1-1.3.5zM55.2 399l1.3.7-1-1-1.4 0zM73.4 399.9l1.4-.8-1.1.1-1.3.6zM56.3 399.6l1.3.5-1.1-.4-1.3-.7zM57.3 400.4l1.4 0-1.1-.3-1.3-.5zM73.2 400.8l1.3-1-1.1.1-1.3.7zM64.6 400l1.3.6-1.1-.3-1.3.1z"/><path fill="#463ee1" stroke="#463ee1" d="M76.1 398.2l1.4-.7-1.1.5-1.3.5zM52.8 399l1.3-.3-1-.5-1.4-1.4zM74.8 399.1l1.3-.9-1 .3-1.4.7zM53.8 399l1.4 0-1.1-.3-1.3.3zM54.9 399.7l1.4-.1-1.1-.6-1.4 0zM74.5 399.8l1.4-1-1.1.3-1.4.8z"/><path fill="#4745e9" stroke="#4745e9" d="M75.9 398.8l1.3-1.3-1.1.7-1.3.9zM53.6 399.2l1.3.5-1.1-.7-1.3-.4z"/><path fill="#484df0" stroke="#484df0" d="M77.2 397.5l1.4-1.2-1.1 1.2-1.4.7zM51.4 396.5l1.4 2.5-1.1-2.2-1.3.7zM52.5 398.6l1.3.4-1 0-1.4-2.5z"/><path fill="#4854f6" stroke="#4854f6" d="M50.4 397.5l1.3-.7-1-.9-1.4.5zM78.6 396.3l1.3-.8-1.1 1.5-1.3.5zM49 397.6l1.4-.1-1.1-1.1-1.3-.1zM50.1 398.3l1.3-1.8-1 1-1.4.1zM51.1 398.1l1.4.5-1.1-2.1-1.3 1.8z"/><path fill="#475cfa" stroke="#475cfa" d="M48 396.3l1.3.1-1.1.7-1.3-3.5zM48.7 397.9l1.4.4-1.1-.7-1.3-2.9zM76.9 398.2l1.4-2.3-1.1 1.6-1.3 1.3z"/><path fill="#4564fd" stroke="#4564fd" d="M45.3 396.3l1.3-.3-1.1-.2-1.3.8zM47.7 394.7l1.3 2.9-1-1.3-1.4-.3z"/><path fill="#416cfe" stroke="#416cfe" d="M82.3 392.4l1.4 2.1-1.1 1.6-1.4-.5zM45.5 395.8l1.4-2.2-1.1.9-1.3 1.7zM44.2 396.6l1.3-.8-1 .4-1.4-4zM46.6 396l1.4.3-1.1-2.7-1.4 2.2zM78.3 395.9l1.3-2.8-1 3.2-1.4 1.2zM41.5 396.4l1.3-2.4-1 2.4-1.4-.2zM46.3 398.4l1.4-3.7-1.1 1.3-1.3.3zM45 396.8l1.3 1.6-1-2.1-1.4-1.5z"/><path fill="#3a74fe" stroke="#3a74fe" d="M84.7 391.8l1.4 3.5-1.1.8-1.3-1.6zM41.8 396.4l1.3-4.2-1 1.9-1.4.9zM40.4 396.2l1.4.2-1.1-1.4-1.3-2zM36.7 395.4l1.3 1.2-1.1-1.8-1.3-.3zM43.9 394.8l1.4 1.5-1.1.3-1.4-2.6zM37.7 397.7l1.4-4.8-1.1 3.7-1.3-1.2zM42.6 397.8l1.3-3-1.1-.8-1.3 2.4zM34 398.4l1.3-4.9-1.1 2-1.3.1z"/><path fill="#327cfc" stroke="#327cfc" d="M39.4 393l1.3 2-1.1.4-1.3-2.7zM38 396.6l1.4-3.6-1.1-.3-1.4 2.1zM42.8 394l1.4 2.6-1.1-4.4-1.3 4.2zM39.1 392.9l1.3 3.3-1-3.2-1.4 3.6zM40.1 395.6l1.4.8-1.1-.2-1.3-3.3zM36.4 395.5l1.3 2.2-1-2.3-1.4-1.9z"/><path fill="#2e84f9" stroke="#2e84f9" d="M81 391.5l1.3.9-1.1 3.2-1.3-.1zM79.6 393.1l1.4-1.6-1.1 4-1.3.8zM35.3 393.5l1.4 1.9-1.1-.9-1.4 1zM87.9 394.6l1.4 2.6-1.1-1.5-1.3-4.7z"/><path fill="#2b92ee" stroke="#2b92ee" d="M85.8 389.8l1.3 5.2-1 .3-1.4-3.5z"/><path fill="#2699e9" stroke="#2699e9" d="M86.9 391l1.3 4.7-1.1-.7-1.3-5.2z"/><path fill="#1fa5e2" stroke="#1fa5e2" d="M83.4 386.6l1.3 5.2-1 2.7-1.4-2.1zM79.3 393.2l1.4-5.9-1.1 5.8-1.3 2.8z"/><path fill="#1bc0b4" stroke="#1bc0b4" d="M82 383.9l1.4 2.7-1.1 5.8-1.3-.9zM80.7 387.3l1.3-3.4-1 7.6-1.4 1.6z"/><path fill="#31c5a1" stroke="#31c5a1" d="M84.4 381.9l1.4 7.9-1.1 2-1.3-5.2z"/><path fill="#55cc7b" stroke="#55cc7b" d="M85.5 383.8l1.4 7.2-1.1-1.2-1.4-7.9z"/><path fill="#d4bf28" stroke="#d4bf28" d="M83.1 377.7l1.3 4.2-1 4.7-1.4-2.7zM81.7 382.6l1.4-4.9-1.1 6.2-1.3 3.4z"/><path fill="#4537d5" stroke="#4537d5" d="M67 400.8l1.3-.6-1 .1-1.4.3zM58.4 400.4l1.3-.3-1 .3-1.4 0zM69.4 401l1.3-.2-1-.2-1.4-.4zM60.8 400.2l1.3.4-1 .1-1.4-.6zM71.8 401.1l1.4-.3-1.1-.2-1.4.2zM63.2 401l1.4-1-1.1.4-1.4.2zM65.6 401l1.4-.2-1.1-.2-1.3-.6zM68 400.6l1.4.4-1.1-.8-1.3.6zM70.4 401.2l1.4-.1-1.1-.3-1.3.2zM72.9 401.1l1.3-.2-1-.1-1.4.3zM71.5 401.7l1.4-.6-1.1 0-1.4.1z"/><path fill="#463ee1" stroke="#463ee1" d="M56 398.6l1.3 1.8-1-.8-1.4.1zM74.2 400.9l1.4-1.1-1.1 0-1.3 1zM59.4 400.7l1.4-.5-1.1-.1-1.3.3zM61.9 400.7l1.3.3-1.1-.4-1.3-.4zM64.3 399.8l1.3 1.2-1-1-1.4 1zM75.3 401.1l1.3-1.4-1 .1-1.4 1.1zM66.7 400.8l1.3-.2-1 .2-1.4.2zM69.1 400.4l1.3.8-1-.2-1.4-.4zM91.1 401.4l1.4 0-1.1-1.2-1.4-.3zM73.9 401.7l1.4-.6-1.1-.2-1.3.2zM67.8 401.7l1.3-1.3-1.1.2-1.3.2z"/><path fill="#4745e9" stroke="#4745e9" d="M75.6 399.8l1.3-1.6-1 .6-1.4 1zM54.6 400.2l1.4-1.6-1.1 1.1-1.3-.5zM57 399.8l1.4.6-1.1 0-1.3-1.8zM58.1 399.8l1.3.9-1-.3-1.4-.6zM60.5 398.9l1.4 1.8-1.1-.5-1.4.5zM62.9 400.9l1.4-1.1-1.1 1.2-1.3-.3zM65.3 400.2l1.4.6-1.1.2-1.3-1.2zM76.3 401.5l1.4-1.6-1.1-.2-1.3 1.4z"/><path fill="#484df0" stroke="#484df0" d="M90 399.9l1.4.3-1.1-1.4-1.3-1zM55.7 399.3l1.3.5-1-1.2-1.4 1.6zM59.2 401.2l1.3-2.3-1.1 1.8-1.3-.9z"/><path fill="#4854f6" stroke="#4854f6" d="M49.8 398.1l1.3 0-1 .2-1.4-.4zM52.2 397.2l1.4 2-1.1-.6-1.4-.5zM76.6 399.7l1.4-2.2-1.1.7-1.3 1.6zM53.3 399l1.3 1.2-1-1-1.4-2zM54.3 399.5l1.4-.2-1.1.9-1.3-1.2zM56.7 398.6l1.4 1.2-1.1 0-1.3-.5z"/><path fill="#475cfa" stroke="#475cfa" d="M50.9 400l1.3-2.8-1.1.9-1.3 0zM77.7 399.9l1.3-2.8-1 .4-1.4 2.2zM88.7 399.7l1.3.2-1-2.1-1.4-1.2z"/><path fill="#4564fd" stroke="#4564fd" d="M46 398.3l1.4-2.5-1.1 2.6-1.3-1.6zM49.5 397.6l1.4 2.4-1.1-1.9-1.4-1.2zM51.9 397.7l1.4 1.3-1.1-1.8-1.3 2.8zM50.6 400.1l1.3-2.4-1 2.3-1.4-2.4zM78.8 400.5l1.3-2.7-1.1-.7-1.3 2.8z"/><path fill="#416cfe" stroke="#416cfe" d="M47.4 395.8l1.3 2.1-1-3.2-1.4 3.7zM89 397.8l1.3 1-1-1.6-1.4-2.6zM48.4 396.9l1.4 1.2-1.1-.2-1.3-2.1zM47.1 398.9l1.3-2-1-1.1-1.4 2.5zM45.7 397.1l1.4 1.8-1.1-.6-1.3-1.7zM87.3 399.8l1.4-.1-1.1-3.1-1.3-.5z"/><path fill="#3a74fe" stroke="#3a74fe" d="M78 397.5l1.3-4.3-1 2.7-1.4 2.3zM41.2 396.1l1.4 1.7-1.1-1.4-1.4-.8zM37.4 396.8l1.4-.4-1.1 1.3-1.3-2.2zM42.3 399.2l1.3-4.4-1 3-1.4-1.7zM33.7 398.5l1.3-2.9-1 2.8-1.4-3.5zM44.7 396.6l1.3 1.7-1-1.5-1.4-2zM38.5 399.2l1.4-3.7-1.1.9-1.4.4zM29.9 399.4l1.4-3.3-1.1 1.6-1.4-2.5zM43.3 397.5l1.4-.9-1.1-1.8-1.3 4.4zM34.7 398.3l1.4-2.1-1.1-.6-1.3 2.9zM48.2 397.1l1.3.5-1.1-.7-1.3 2zM31 397.7l1.3-1.9-1 .3-1.4 3.3z"/><path fill="#327cfc" stroke="#327cfc" d="M38.8 396.4l1.3-.8-1-2.7-1.4 4.8zM32.6 394.9l1.4 3.5-1.1-2.8-1.3-.8zM43.6 394.8l1.4 2-1.1-2-1.3 3zM35 395.6l1.4-.1-1.1-2-1.3 4.9zM39.9 395.5l1.3.6-1.1-.5-1.3.8zM40.9 395.8l1.4 3.4-1.1-3.1-1.3-.6zM37.2 395.2l1.3 4-1.1-2.4-1.3-.6zM28.6 394.8l1.3 4.6-1.1-4.2-1.3 1.9zM39.6 397.2l1.3-1.4-1-.3-1.4 3.7z"/><path fill="#2e84f9" stroke="#2e84f9" d="M31.3 396.1l1.3-1.2-1-.1-1.4 2.9zM36.1 396.2l1.3.6-1-1.3-1.4.1zM32.3 395.8l1.4 2.7-1.1-3.6-1.3 1.2z"/><path fill="#2d8bf4" stroke="#2d8bf4" d="M87.6 396.6l1.4 1.2-1.1-3.2-1.3-3.9z"/><path fill="#2b92ee" stroke="#2b92ee" d="M79 397.1l1.4-5.9-1.1 2-1.3 4.3z"/><path fill="#2699e9" stroke="#2699e9" d="M80.1 397.8l1.4-5.4-1.1-1.2-1.4 5.9z"/><path fill="#1aabdd" stroke="#1aabdd" d="M86.3 396.1l1.3.5-1-5.9-1.4-1.8zM84.9 397.3l1.4-1.2-1.1-7.2-1.3 2.5z"/><path fill="#09bdbe" stroke="#09bdbe" d="M86.6 390.7l1.3 3.9-1-3.6-1.4-7.2zM82.5 396l1.4-4.6-1.1-6.8-1.3 7.8z"/><path fill="#31c5a1" stroke="#31c5a1" d="M80.4 391.2l1.3-8.6-1 4.7-1.4 5.9z"/><path fill="#55cc7b" stroke="#55cc7b" d="M81.5 392.4l1.3-7.8-1.1-2-1.3 8.6z"/><path fill="#7acc5e" stroke="#7acc5e" d="M85.2 388.9l1.4 1.8-1.1-6.9-1.3-3.7zM83.9 391.4l1.3-2.5-1-8.8-1.4 4.5z"/><path fill="#fec13a" stroke="#fec13a" d="M84.2 380.1l1.3 3.7-1.1-1.9-1.3-4.2zM82.8 384.6l1.4-4.5-1.1-2.4-1.4 4.9z"/><path fill="#4331c7" stroke="#4331c7" d="M93.2 403.4l1.4-.3-1.1-.8-1.3.2zM91.9 403.7l1.3-.3-1-.9-1.4.2zM94.3 404.1l1.3-.4-1-.6-1.4.3z"/><path fill="#4537d5" stroke="#4537d5" d="M92.2 402.5l1.3-.2-1-.9-1.4 0zM90.5 404l1.4-.3-1.1-1-1.3.3z"/><path fill="#463ee1" stroke="#463ee1" d="M70.2 401.5l1.3.2-1.1-.5-1.3-.8zM72.6 401.5l1.3.2-1-.6-1.4.6zM75 402l1.3-.5-1-.4-1.4.6zM71.2 401.8l1.4-.3-1.1.2-1.3-.2zM90.8 402.7l1.4-.2-1.1-1.1-1.3.1zM73.6 401.7l1.4.3-1.1-.3-1.3-.2zM76.1 402.7l1.3-.7-1.1-.5-1.3.5zM89.5 403l1.3-.3-1-1.2-1.4.2zM72.3 402.7l1.3-1-1-.2-1.4.3zM74.7 402.5l1.4.2-1.1-.7-1.4-.3zM77.1 403l1.4-.4-1.1-.6-1.3.7zM88.1 403.4l1.4-.4-1.1-1.3-1.3.5zM79.5 403.4l1.4-1.1-1.1-1-1.3 1.3z"/><path fill="#4745e9" stroke="#4745e9" d="M89.8 401.5l1.3-.1-1.1-1.5-1.3-.2zM66.4 400.6l1.4 1.1-1.1-.9-1.4-.6zM77.4 402l1.4-1.5-1.1-.6-1.4 1.6zM68.8 400.3l1.4 1.2-1.1-1.1-1.3 1.3zM78.5 402.6l1.3-1.3-1-.8-1.4 1.5zM85.7 402.8l1.4-.6-1.1-1.8-1.4 1zM81.9 403.3l1.4-.9-1.1-1.4-1.3 1.3z"/><path fill="#484df0" stroke="#484df0" d="M61.6 399.9l1.3 1-1-.2-1.4-1.8zM64 401l1.3-.8-1-.4-1.4 1.1zM88.4 401.7l1.4-.2-1.1-1.8-1.4.1zM67.5 401.9l1.3-1.6-1 1.4-1.4-1.1zM87.1 402.2l1.3-.5-1.1-1.9-1.3.6zM69.9 401.1l1.3.7-1-.3-1.4-1.2zM80.9 402.3l1.3-1.3-1-1.6-1.4 1.9zM83.3 402.4l1.3-1-1-2.1-1.4 1.7zM68.5 401.6l1.4-.5-1.1-.8-1.3 1.6zM70.9 401.3l1.4 1.4-1.1-.9-1.3-.7z"/><path fill="#4854f6" stroke="#4854f6" d="M55.4 401l1.3-2.4-1 .7-1.4.2zM60.2 399.5l1.4.4-1.1-1-1.3 2.3zM62.6 399.9l1.4 1.1-1.1-.1-1.3-1zM65 399.3l1.4 1.3-1.1-.4-1.3.8zM63.7 401.9l1.3-2.6-1 1.7-1.4-1.1z"/><path fill="#475cfa" stroke="#475cfa" d="M57.8 399.1l1.4 2.1-1.1-1.4-1.4-1.2zM79.8 401.3l1.4-1.9-1.1-1.6-1.3 2.7zM84.6 401.4l1.4-1-1.1-3.1-1.3 2zM58.9 400.4l1.3-.9-1 1.7-1.4-2.1zM66.1 400l1.4 1.9-1.1-1.3-1.4-1.3z"/><path fill="#4564fd" stroke="#4564fd" d="M53 398.4l1.3 1.1-1-.5-1.4-1.3zM51.6 399.8l1.4-1.4-1.1-.7-1.3 2.4zM54 398.1l1.4 2.9-1.1-1.5-1.3-1.1zM56.5 398.9l1.3.2-1.1-.5-1.3 2.4zM61.3 399l1.3.9-1 0-1.4-.4zM55.1 401.3l1.4-2.4-1.1 2.1-1.4-2.9zM59.9 401.3l1.4-2.3-1.1.5-1.3.9zM62.4 398.3l1.3 3.6-1.1-2-1.3-.9z"/><path fill="#416cfe" stroke="#416cfe" d="M46.8 400.5l1.4-3.4-1.1 1.8-1.4-1.8zM86 400.4l1.3-.6-1-3.7-1.4 1.2zM82.2 401l1.4-1.7-1.1-3.3-1.3 3.4zM50.3 398.2l1.3 1.6-1 .3-1.4-2.6zM52.7 399.1l1.3-1-1 .3-1.4 1.4zM57.5 399.1l1.4 1.3-1.1-1.3-1.3-.2zM51.3 401.4l1.4-2.3-1.1.7-1.3-1.6z"/><path fill="#3a74fe" stroke="#3a74fe" d="M42 398.2l1.3-.7-1 1.7-1.4-3.4zM38.2 399.7l1.4-2.5-1.1 2-1.3-4zM49.2 397.5l1.4 2.6-1.1-2.5-1.3-.5zM43 399.9l1.4-2.4-1.1 0-1.3.7zM34.5 400.1l1.3-2-1.1.2-1.3-2.2zM47.9 398.7l1.3-1.2-1-.4-1.4 3.4zM39.3 398.9l1.3-1.4-1-.3-1.4 2.5zM30.7 399.3l1.3-.4-1-1.2-1.4.3zM35.5 398.9l1.4-2.4-1.1 1.6-1.3 2zM46.5 399.5l1.4-.8-1.1 1.8-1.3-4.3zM42.8 400.7l1.3-1.7-1.1.9-1.3-3.9zM53.8 398l1.3 3.3-1.1-3.2-1.3 1z"/><path fill="#327cfc" stroke="#327cfc" d="M33.4 396.1l1.3 2.2-1 .2-1.4-2.7zM44.4 397.5l1.3-.4-1-.5-1.4.9zM35.8 398.1l1.4-2.9-1.1 1-1.4 2.1zM29.6 398l1.4-.3-1.1 1.7-1.3-4.6zM40.6 397.5l1.4.7-1.1-2.4-1.3 1.4zM45.5 396.2l1.3 4.3-1.1-3.4-1.3.4zM41.7 396l1.3 3.9-1-1.7-1.4-.7zM44.1 399l1.4-2.8-1.1 1.3-1.4 2.4zM37.9 397.3l1.4 1.6-1.1.8-1.3-3.2zM48.9 399.4l1.4-1.2-1.1-.7-1.3 1.2zM40.3 400.1l1.4-4.1-1.1 1.5-1.3 1.4zM31.8 400.2l1.3-4.7-1.1 3.4-1.3.4zM34.2 399.1l1.3-.2-1 1.2-1.4-4.6z"/><path fill="#2e84f9" stroke="#2e84f9" d="M81.2 399.4l1.3-3.4-1-3.6-1.4 5.4zM32 398.9l1.4-2.8-1.1-.3-1.3 1.9zM36.9 396.5l1.3 3.2-1-4.5-1.4 2.9zM33.1 395.5l1.4 4.6-1.1-4-1.4 2.8z"/><path fill="#2d8bf4" stroke="#2d8bf4" d="M83.6 399.3l1.3-2-1-5.9-1.4 4.6z"/><path fill="#402cb8" stroke="#402cb8" d="M95.4 404.6l1.3-.3-1.1-.6-1.3.4zM94 405l1.4-.4-1.1-.5-1.4.3zM96.4 405.2l1.4-.4-1.1-.5-1.3.3zM92.7 405.3l1.3-.3-1.1-.6-1.3.3zM95.1 405.5l1.3-.3-1-.6-1.4.4zM97.5 405.6l1.3-.3-1-.5-1.4.4zM91.3 405.7l1.4-.4-1.1-.6-1.4.4zM93.7 405.9l1.4-.4-1.1-.5-1.3.3z"/><path fill="#4331c7" stroke="#4331c7" d="M92.9 404.4l1.4-.3-1.1-.7-1.3.3zM91.6 404.7l1.3-.3-1-.7-1.4.3zM87.8 404.8l1.4-.4-1.1-1-1.3.5zM90.2 405.1l1.4-.4-1.1-.7-1.3.4zM86.5 405.3l1.3-.5-1-.9-1.4.6zM88.9 405.5l1.3-.4-1-.7-1.4.4zM80.3 405.2l1.4-.3-1.1-.7-1.4.1zM82.7 405.6l1.4-.5-1.1-.8-1.3.6zM85.1 405.7l1.4-.4-1.1-.8-1.3.6z"/><path fill="#4537d5" stroke="#4537d5" d="M78.2 403.6l1.3-.2-1-.8-1.4.4zM89.2 404.4l1.3-.4-1-1-1.4.4zM80.6 404.2l1.3-.9-1-1-1.4 1.1zM83 404.3l1.4-.8-1.1-1.1-1.4.9zM85.4 404.5l1.4-.6-1.1-1.1-1.3.7zM79.2 404.3l1.4-.1-1.1-.8-1.3.2zM81.7 404.9l1.3-.6-1.1-1-1.3.9zM84.1 405.1l1.3-.6-1-1-1.4.8zM77.9 404.2l1.3.1-1-.7-1.4.5z"/><path fill="#463ee1" stroke="#463ee1" d="M84.4 403.5l1.3-.7-1.1-1.4-1.3 1zM75.8 403.3l1.3-.3-1-.3-1.4-.2zM86.8 403.9l1.3-.5-1-1.2-1.4.6zM76.8 404.1l1.4-.5-1.1-.6-1.3.3z"/><path fill="#4745e9" stroke="#4745e9" d="M73.4 401.9l1.3.6-1.1-.8-1.3 1zM72 403.2l1.4-1.3-1.1.8-1.4-1.4zM74.4 402.6l1.4.7-1.1-.8-1.3-.6zM75.5 403l1.3 1.1-1-.8-1.4-.7z"/><path fill="#484df0" stroke="#484df0" d="M73.1 402.8l1.3-.2-1-.7-1.4 1.3zM74.1 403.3l1.4-.3-1.1-.4-1.3.2z"/><path fill="#4854f6" stroke="#4854f6" d="M67.2 400.6l1.3 1-1 .3-1.4-1.9zM69.6 400.9l1.3.4-1-.2-1.4.5zM68.2 402.8l1.4-1.9-1.1.7-1.3-1zM70.7 400.8l1.3 2.4-1.1-1.9-1.3-.4zM71.7 402.1l1.4.7-1.1.4-1.3-2.4z"/><path fill="#475cfa" stroke="#475cfa" d="M69.3 401.5l1.4-.7-1.1.1-1.4 1.9z"/><path fill="#4564fd" stroke="#4564fd" d="M64.8 400l1.3 0-1.1-.7-1.3 2.6zM56.2 400.3l1.3-1.2-1-.2-1.4 2.4zM63.4 401l1.4-1-1.1 1.9-1.3-3.6zM64.5 401.4l1.3-1.2-1-.2-1.4 1z"/><path fill="#416cfe" stroke="#416cfe" d="M47.6 400.4l1.3-1-1-.7-1.4.8zM58.6 398.2l1.3 3.1-1-.9-1.4-1.3zM61 399.9l1.4-1.6-1.1.7-1.4 2.3zM52.4 400l1.4-2-1.1 1.1-1.4 2.3zM54.8 399.2l1.4 1.1-1.1 1-1.3-3.3zM65.8 400.2l1.4.4-1.1-.6-1.3 0zM59.6 402.1l1.4-2.2-1.1 1.4-1.3-3.1zM55.9 401.9l1.3-1.2-1-.4-1.4-1.1zM66.9 398.6l1.3 4.2-1-2.2-1.4-.4zM60.7 400.8l1.4-1.4-1.1.5-1.4 2.2zM52.1 400.9l1.4-.1-1.1-.8-1.3.7z"/><path fill="#3a74fe" stroke="#3a74fe" d="M39 400.5l1.3-.4-1-1.2-1.4-1.6zM50 396.8l1.3 4.6-1-3.2-1.4 1.2zM43.8 399.7l1.4-1-1.1.3-1.3 1.7zM35.2 399.7l1.4.6-1.1-1.4-1.3.2zM57.2 400.7l1.4-2.5-1.1.9-1.3 1.2zM48.6 400.9l1.4-4.1-1.1 2.6-1.3 1zM40.1 400.4l1.3-3.2-1.1 2.9-1.3.4zM51.1 400.7l1.3-.7-1.1 1.4-1.3-4.6zM62.1 399.4l1.3 1.6-1-2.7-1.4 1.6zM36.3 401.9l1.3-5.3-1 3.7-1.4-.6zM47.3 401.2l1.3-.3-1-.5-1.4-3.3zM58.3 398.3l1.3 3.8-1-3.9-1.4 2.5zM43.5 400.7l1.4 1.1-1.1-2.1-1.3-1.1zM63.1 398.5l1.4 2.9-1.1-.4-1.3-1.6zM65.5 401.3l1.4-2.7-1.1 1.6-1.3 1.2zM57 401.3l1.3-3-1.1 2.4-1.3 1.2z"/><path fill="#327cfc" stroke="#327cfc" d="M45.2 398.7l1.3.8-1-3.3-1.4 2.8zM36.6 400.3l1.3-3-1-.8-1.4 2.4zM41.4 397.2l1.4 3.5-1.1-4.7-1.4 4.1zM32.8 399.2l1.4-.1-1.1-3.6-1.3 4.7zM46.2 397.1l1.4 3.3-1.1-.9-1.3-.8zM42.5 398.6l1.3 1.1-1 1-1.4-3.5zM53.5 400.8l1.3-1.6-1-1.2-1.4 2zM44.9 401.8l1.3-4.7-1 1.6-1.4 1zM38.7 399.9l1.4.5-1.1.1-1.4-3.9zM49.7 399.6l1.4 1.1-1.1-3.9-1.4 4.1zM41.1 401.4l1.4-2.8-1.1-1.4-1.3 3.2zM34.9 399.9l1.4 2-1.1-2.2-1.3-2.2zM54.5 397.6l1.4 4.3-1.1-2.7-1.3 1.6zM45.9 398.2l1.4 3-1.1-4.1-1.3 4.7zM37.4 400.1l1.3-.2-1.1-3.3-1.3 5.3z"/><path fill="#2e84f9" stroke="#2e84f9" d="M37.6 396.6l1.4 3.9-1.1-3.2-1.3 3zM33.9 397.5l1.3 2.2-1-.6-1.4.1z"/><path fill="#402cb8" stroke="#402cb8" d="M96.1 406l1.4-.4-1.1-.4-1.3.3zM98.6 406.1l1.3-.3-1.1-.5-1.3.3zM90 406.1l1.3-.4-1.1-.6-1.3.4zM92.4 406.2l1.3-.3-1-.6-1.4.4zM94.8 406.4l1.3-.4-1-.5-1.4.4zM97.2 406.5l1.4-.4-1.1-.5-1.4.4zM88.6 406.5l1.4-.4-1.1-.6-1.4.4zM91 406.6l1.4-.4-1.1-.5-1.3.4zM93.4 406.7l1.4-.3-1.1-.5-1.3.3zM84.8 406.7l1.4-.4-1.1-.6-1.3.5zM95.8 406.8l1.4-.3-1.1-.5-1.3.4zM87.3 406.8l1.3-.3-1.1-.6-1.3.4zM89.7 407l1.3-.4-1-.5-1.4.4zM92.1 407.1l1.3-.4-1-.5-1.4.4zM94.5 407.2l1.3-.4-1-.4-1.4.3zM85.9 407.2l1.4-.4-1.1-.5-1.4.4zM88.3 407.3l1.4-.3-1.1-.5-1.3.3z"/><path fill="#4331c7" stroke="#4331c7" d="M87.5 405.9l1.4-.4-1.1-.7-1.3.5zM81.4 405.8l1.3-.2-1-.7-1.4.3zM83.8 406.2l1.3-.5-1-.6-1.4.5zM86.2 406.3l1.3-.4-1-.6-1.4.4zM82.4 406.3l1.4-.1-1.1-.6-1.3.2zM81.1 406.6l1.3-.3-1-.5-1.4-.3zM83.5 406.8l1.3-.1-1-.5-1.4.1z"/><path fill="#4537d5" stroke="#4537d5" d="M79 404.9l1.3.3-1.1-.9-1.3-.1zM80 405.5l1.4.3-1.1-.6-1.3-.3zM78.7 405.9l1.3-.4-1-.6-1.4.1zM79.7 405.9l1.4.7-1.1-1.1-1.3.4z"/><path fill="#463ee1" stroke="#463ee1" d="M76.5 404.9l1.4-.7-1.1-.1-1.3-1.1zM77.6 405l1.4-.1-1.1-.7-1.4.7zM77.3 406l1.4-.1-1.1-.9-1.3-.2z"/><path fill="#4745e9" stroke="#4745e9" d="M76.3 404.8l1.3.2-1.1-.1-1.3-1.8z"/><path fill="#484df0" stroke="#484df0" d="M72.8 404.1l1.3-.8-1-.5-1.4-.7zM75.2 403.1l1.3 1.8-1-1.9-1.4.3zM73.8 404.1l1.4-1-1.1.2-1.3.8zM74.9 404.8l1.4 0-1.1-1.7-1.4 1z"/><path fill="#475cfa" stroke="#475cfa" d="M72.5 404.3l1.3-.2-1 0-1.4-3.4z"/><path fill="#4564fd" stroke="#4564fd" d="M68 402.3l1.3-.8-1.1 1.3-1.3-4.2zM70.4 402l1.3.1-1-1.3-1.4.7zM69 402.2l1.4-.2-1.1-.5-1.3.8zM71.4 400.7l1.4 3.4-1.1-2-1.3-.1zM71.1 402.4l1.4 1.9-1.1-3.6-1.3 3z"/><path fill="#416cfe" stroke="#416cfe" d="M60.4 402l1.4.2-1.1-1.4-1.3-.7zM56.7 401.5l1.3.3-1-.5-1.4.1zM70.1 403.7l1.3-3-1 1.3-1.4.2zM68.7 403.2l1.4.5-1.1-1.5-1.3-2.9z"/><path fill="#3a74fe" stroke="#3a74fe" d="M48.4 400.8l1.3-1.2-1.1 1.3-1.3.3zM39.8 400.3l1.3 1.1-1-1-1.4-.5zM59.4 400.1l1.3.7-1.1 1.3-1.3-3.8zM53.2 402.6l1.3-5-1 3.2-1.4.1zM44.6 402l1.3-3.8-1 3.6-1.4-1.1zM36 401.2l1.4-1.1-1.1 1.8-1.4-2zM64.2 402.6l1.3-1.3-1 .1-1.4-2.9zM55.6 401.4l1.4-.1-1.1.6-1.4-4.3zM40.8 403.3l1.4-5.1-1.1 3.2-1.3-1.1zM51.8 401.5l1.4 1.1-1.1-1.7-1.3-2.5zM37.1 403.3l1.3-4-1 .8-1.4 1.1zM65.3 401.6l1.3-1.7-1.1 1.4-1.3 1.3zM48.1 400.8l1.3 2.3-1-2.3-1.4-.9zM61.5 402.8l1.3-4.1-1 3.5-1.4-.2zM52.9 402.1l1.3-1.7-1 2.2-1.4-1.1zM44.3 401.1l1.4 1.2-1.1-.3-1.4-1.5zM57.7 404l1.4-5.3-1.1 3.1-1.3-.3zM49.1 403.6l1.4-4.1-1.1 3.6-1.3-2.3zM40.5 402.5l1.4-1.5-1.1 2.3-1.3-3.3z"/><path fill="#327cfc" stroke="#327cfc" d="M50.8 398.4l1.3 2.5-1-.2-1.4-1.1zM61.8 402.2l1.3-3.7-1 .9-1.4 1.4zM47 399.9l1.4.9-1.1.4-1.4-3zM66.6 399.9l1.4 2.4-1.1-3.7-1.4 2.7zM58 401.8l1.4-1.7-1.1-1.8-1.3 3zM49.4 403.1l1.4-4.7-1.1 1.2-1.3 1.2zM43.2 400.5l1.4 1.5-1.1-1.3-1.3-2.5zM62.8 398.7l1.4 3.9-1.1-4.1-1.3 3.7zM54.2 400.4l1.4 1-1.1-3.8-1.3 5zM45.7 402.3l1.3-2.4-1.1-1.7-1.3 3.8zM39.5 400l1.3 3.3-1-3-1.4-1zM67.7 399.3l1.3 2.9-1 .1-1.4-2.4zM59.1 398.7l1.3 3.3-1-1.9-1.4 1.7zM50.5 399.5l1.3 2-1-3.1-1.4 4.7zM41.9 401l1.3-.5-1-2.3-1.4 5.1zM63.9 401.1l1.4.5-1.1 1-1.4-3.9zM55.3 399.9l1.4 1.6-1.1-.1-1.4-1zM38.1 400.9l1.4-.9-1.1-.7-1.3 4zM66.3 403.5l1.4-4.2-1.1.6-1.3 1.7zM60.1 401.9l1.4.9-1.1-.8-1.3-3.3zM51.6 401l1.3 1.1-1.1-.6-1.3-2z"/><path fill="#2e84f9" stroke="#2e84f9" d="M42.2 398.2l1.3 2.5-1-2.1-1.4 2.8zM38.4 399.3l1.4 1-1.1-.4-1.3.2zM46.7 400l1.4.8-1.1-.9-1.3 2.4zM43 401.1l1.3 0-1.1-.6-1.3.5z"/><path fill="#402cb8" stroke="#402cb8" d="M90.7 407.5l1.4-.4-1.1-.5-1.3.4zM93.2 407.6l1.3-.4-1.1-.5-1.3.4zM84.6 407.4l1.3-.2-1.1-.5-1.3.1zM87 407.7l1.3-.4-1-.5-1.4.4zM89.4 407.8l1.3-.3-1-.5-1.4.3zM91.8 407.9l1.4-.3-1.1-.5-1.4.4zM85.6 408l1.4-.3-1.1-.5-1.3.2zM88 408.2l1.4-.4-1.1-.5-1.3.4zM90.4 408.3l1.4-.4-1.1-.4-1.3.3zM86.7 408.5l1.3-.3-1-.5-1.4.3zM89.1 408.6l1.3-.3-1-.5-1.4.4zM85.3 408.9l1.4-.4-1.1-.5-1.3.2zM87.8 409l1.3-.4-1.1-.4-1.3.3z"/><path fill="#4331c7" stroke="#4331c7" d="M82.1 407l1.4-.2-1.1-.5-1.3.3zM83.2 407.7l1.4-.3-1.1-.6-1.4.2zM81.9 407.9l1.3-.2-1.1-.7-1.3.1zM84.3 408.2l1.3-.2-1-.6-1.4.3zM82.9 408.6l1.4-.4-1.1-.5-1.3.2zM81.6 408.8l1.3-.2-1-.7-1.4-.2z"/><path fill="#4537d5" stroke="#4537d5" d="M78.4 406.7l1.3-.8-1 0-1.4.1zM80.8 407.1l1.3-.1-1-.4-1.4-.7zM79.4 407.2l1.4-.1-1.1-1.2-1.3.8zM78.1 407.3l1.3-.1-1-.5-1.4-.1zM80.5 407.7l1.4.2-1.1-.8-1.4.1zM79.2 408.5l1.3-.8-1.1-.5-1.3.1z"/><path fill="#463ee1" stroke="#463ee1" d="M77 406.6l1.4.1-1.1-.7-1.3-1.5z"/><path fill="#4745e9" stroke="#4745e9" d="M76 404.5l1.3 1.5-1-1.2-1.4 0zM75.7 405.9l1.3.7-1-2.1-1.4 2zM74.3 406.9l1.4-1-1.1.6-1.3-1zM76.7 407l1.4.3-1.1-.7-1.3-.7z"/><path fill="#484df0" stroke="#484df0" d="M73.6 404.7l1.3.1-1.1-.7-1.3.2zM74.6 406.5l1.4-2-1.1.3-1.3-.1z"/><path fill="#4854f6" stroke="#4854f6" d="M73.3 405.5l1.3 1-1-1.8-1.4-1.3zM70.6 407.2l1.3-2.9-1 1.4-1.4-1.4z"/><path fill="#475cfa" stroke="#475cfa" d="M72.2 403.4l1.4 1.3-1.1-.4-1.4-1.9zM71.9 404.3l1.4 1.2-1.1-2.1-1.3 2.3z"/><path fill="#4564fd" stroke="#4564fd" d="M69.8 403.8l1.3-1.4-1 1.3-1.4-.5zM70.9 405.7l1.3-2.3-1.1-1-1.3 1.4zM69.5 404.3l1.4 1.4-1.1-1.9-1.4-.6z"/><path fill="#416cfe" stroke="#416cfe" d="M65.7 404.4l1.4 0-1.1.2-1.3-1.9zM68.2 404.2l1.3.1-1.1-1.1-1.3 1.2z"/><path fill="#3a74fe" stroke="#3a74fe" d="M45.4 404.4l1.3-4.4-1 2.3-1.4-1.2zM65 402.2l1.3 1.3-1-1.9-1.4-.5zM41.6 403.9l1.4-2.8-1.1-.1-1.4 1.5zM61.2 402.2l1.4.5-1.1.1-1.4-.9zM52.6 401.1l1.4 2.9-1.1-1.9-1.3-1.1zM66 404.6l1.4-4.2-1.1 3.1-1.3-1.3zM57.4 403.6l1.4-2.2-1.1 2.6-1.3-2.5zM48.8 402.1l1.4.8-1.1.7-1.3-2.7zM68.4 403.2l1.4.6-1.1-.6-1.3-2.8zM62.3 405.2l1.3-4.9-1 2.4-1.4-.5zM53.7 405l1.3-3.9-1 2.9-1.4-2.9zM45.1 403.9l1.3-1.7-1 2.2-1.4-4.2zM67.1 404.4l1.3-1.2-1-2.8-1.4 4.2zM58.5 404.7l1.4-3.2-1.1-.1-1.4 2.2zM49.9 405.2l1.4-3.2-1.1.9-1.4-.8zM41.3 405l1.4-2.2-1.1 1.1-1.3-3.6zM46.1 404.3l1.4-1.5-1.1-.6-1.3 1.7zM42.4 403.8l1.3-1.5-1 .5-1.4 2.2zM62 405.3l1.3-2.2-1 2.1-1.4-3.7z"/><path fill="#327cfc" stroke="#327cfc" d="M62.6 402.7l1.3-1.6-1.1-2.4-1.3 4.1zM54 404l1.3-4.1-1.1.5-1.3 1.7zM56.4 401.5l1.3 2.5-1-2.5-1.4-1.6zM47.8 400.9l1.3 2.7-1-2.8-1.4-.8zM67.4 400.4l1.3 2.8-1-3.9-1.4 4.2zM58.8 401.4l1.3.5-1-3.2-1.4 5.3zM50.2 402.9l1.4-1.9-1.1-1.5-1.4 4.1zM44 400.2l1.4 4.2-1.1-3.3-1.3 0zM55 401.1l1.4.4-1.1-1.6-1.3 4.1zM46.4 402.2l1.4-1.3-1.1-.9-1.3 4.4zM40.3 400.3l1.3 3.6-1.1-1.4-1.3-1.2zM42.7 402.8l1.3-2.6-1 .9-1.4 2.8zM64.7 402.7l1.3 1.9-1-2.4-1.4-1.9zM60.9 401.5l1.4 3.7-1.1-3-1.3-.7zM52.3 401.3l1.4 3.7-1.1-3.9-1.3.9zM63.3 403.1l1.4-.4-1.1-2.4-1.3 4.9zM54.7 403.7l1.4-1.7-1.1-.9-1.3 3.9zM57.2 401.7l1.3 3-1.1-1.1-1.3-1.6zM48.6 400.6l1.3 4.6-1.1-3.1-1.3.7zM59.6 403l1.3-1.5-1 0-1.4 3.2zM51 403.6l1.3-2.3-1 .7-1.4 3.2zM53.4 403.2l1.3.5-1 1.3-1.4-3.7zM44.8 401.3l1.3 3-1-.4-1.4-1.6z"/><path fill="#2e84f9" stroke="#2e84f9" d="M39.2 401.3l1.3 1.2-1-2.5-1.4.9zM63.6 400.3l1.4 1.9-1.1-1.1-1.3 1.6zM59.9 401.5l1.3.7-1.1-.3-1.3-.5zM51.3 402l1.3-.9-1-.1-1.4 1.9zM56.1 402l1.3 1.6-1-2.1-1.4-.4zM47.5 402.8l1.3-.7-1-1.2-1.4 1.3zM43.7 402.3l1.4 1.6-1.1-3.7-1.3 2.6z"/><path fill="#402cb8" stroke="#402cb8" d="M84 409.2l1.3-.3-1-.7-1.4.4zM86.4 409.4l1.4-.4-1.1-.5-1.4.4zM85 409.7l1.4-.3-1.1-.5-1.3.3zM83.7 410.1l1.3-.4-1-.5-1.4.3zM82.4 410.4l1.3-.3-1.1-.6-1.3.4zM81 410.8l1.4-.4-1.1-.5-1.4.3zM79.6 411.2l1.4-.4-1.1-.6-1.3.3z"/><path fill="#4331c7" stroke="#4331c7" d="M80.2 408.9l1.4-.1-1.1-1.1-1.3.8zM82.6 409.5l1.4-.3-1.1-.6-1.3.2zM78.9 409.4l1.3-.5-1-.4-1.4-.3zM81.3 409.9l1.3-.4-1-.7-1.4.1zM79.9 410.2l1.4-.3-1.1-1-1.3.5zM78.6 410.5l1.3-.3-1-.8-1.4 0zM77.2 410.9l1.4-.4-1.1-1.1-1.3.4zM75.9 411.3l1.3-.4-1-1.1-1.4.4z"/><path fill="#4537d5" stroke="#4537d5" d="M77.8 408.2l1.4.3-1.1-1.2-1.4-.3zM77.5 409.4l1.4 0-1.1-1.2-1.3 0zM76.2 409.8l1.3-.4-1-1.2-1.4 1.1zM74.8 410.2l1.4-.4-1.1-.5-1.3-.8zM73.5 410.5l1.3-.3-1-1.7-1.4 1z"/><path fill="#463ee1" stroke="#463ee1" d="M76.5 408.2l1.3 0-1.1-1.2-1.3 1zM75.1 409.3l1.4-1.1-1.1-.2-1.4-.7zM72.4 409.5l1.4-1-1.1-.6-1.4 1.1zM71.1 410.2l1.3-.7-1.1-.5-1.3-1.3z"/><path fill="#4745e9" stroke="#4745e9" d="M75.4 408l1.3-1-1-1.1-1.4 1zM74 407.3l1.4.7-1.1-1.1-1.3-.7zM71.3 409l1.4-1.1-1.1-.9-1.3.3zM73.8 408.5l1.3.8-1.1-2-1.3.6zM67.3 409.9l1.3-.3-1-1.3-1.4-.8z"/><path fill="#484df0" stroke="#484df0" d="M70.3 407.3l1.3-.3-1 .2-1.4-1.9zM72.7 407.9l1.3-.6-1-1.1-1.4.8zM67.6 408.3l1.3-.8-1-1.1-1.4 1.5zM70 407.7l1.3 1.3-1-1.7-1.4.2zM68.6 409.6l1.4-1.9-1.1-.2-1.3.8z"/><path fill="#4854f6" stroke="#4854f6" d="M73 406.2l1.3.7-1-1.4-1.4-1.2zM71.6 407l1.4-.8-1.1-1.9-1.3 2.9zM68.9 407.5l1.4-.2-1.1-2-1.3 1.1zM63.8 407.8l1.4-1.4-1.1.1-1.3 1.4zM66.2 407.5l1.4.8-1.1-.4-1.3-1.5zM64.9 409.4l1.3-1.9-1-1.1-1.4 1.4z"/><path fill="#475cfa" stroke="#475cfa" d="M69.2 405.3l1.4 1.9-1.1-2.9-1.3-.1zM67.9 406.4l1.3-1.1-1-1.1-1.4 2.9zM66.5 407.9l1.4-1.5-1.1.7-1.3-2.9zM62.5 407.9l1.3-.1-1 .1-1.4-2.9z"/><path fill="#4564fd" stroke="#4564fd" d="M66.8 407.1l1.4-2.9-1.1.2-1.4 0zM65.5 404.2l1.3 2.9-1.1-2.7-1.3-.1zM62.8 407.9l1.3-1.4-1.1-.5-1.3-2zM65.2 406.4l1.3 1.5-1-3.7-1.4 2.3zM59 407l1.3-.3-1-1.7-1.4-.1zM60.1 408.2l1.3-3.2-1.1 1.7-1.3.3z"/><path fill="#416cfe" stroke="#416cfe" d="M63 406l1.4-1.7-1.1-1.2-1.3 2.2zM61.7 404l1.3 2-1-.7-1.4-2zM64.1 406.5l1.4-2.3-1.1.1-1.4 1.7zM61.4 405l1.4 2.9-1.1-3.9-1.4 2.7zM55.2 406l1.4-.2-1.1-.6-1.3.6zM56.3 408.7l1.3-4.4-1 1.5-1.4.2z"/><path fill="#3a74fe" stroke="#3a74fe" d="M64.4 404.3l1.3.1-1-1.7-1.4.4zM58.2 406.1l1.4-3.1-1.1 1.7-1.3-3zM49.6 405l1.4-1.4-1.1 1.6-1.3-4.6zM54.5 405.8l1.3-1.8-1.1-.3-1.3-.5zM45.9 405.6l1.3-.9-1.1-.4-1.3-3zM59.3 405l1.3-1.7-1-.3-1.4 3.1zM50.7 404.9l1.3-.7-1-.6-1.4 1.4zM46.9 404.9l1.4-1.8-1.1 1.6-1.3.9zM57.9 404.9l1.4.1-1.1 1.1-1.3-4.4zM60.3 406.7l1.4-2.7-1.1-.7-1.3 1.7zM50.4 405.9l1.4.6-1.1-1.6-1.4-2.3zM46.6 405.3l1.4 1.7-1.1-2.1-1.3-.6zM57.6 404.3l1.4 2.7-1.1-2.1-1.3.9zM51.5 406.3l1.3-2.3-1 2.5-1.4-.6zM47.7 407.8l1.4-4.6-1.1 3.8-1.4-1.7z"/><path fill="#327cfc" stroke="#327cfc" d="M47.2 404.7l1.4-4.1-1.1 2.2-1.4 1.5zM60.6 403.3l1.4 2-1.1-3.8-1.3 1.5zM43.4 405.6l1.4-4.3-1.1 1-1.3 1.5zM56.9 401.7l1.3 4.4-1-4.4-1.4 2.3zM53.1 401.4l1.4 4.4-1.1-2.6-1.4 1zM55.5 405.2l1.4-3.5-1.1 2.3-1.3 1.8zM49.3 402.6l1.4 2.3-1.1.1-1.3-1.9zM51.8 406.5l1.3-5.1-1.1 2.8-1.3.7zM54.2 405.8l1.3-.6-1 .6-1.4-4.4zM45.6 404.3l1.3.6-1 .7-1.4-3.7zM56.6 405.8l1.3-.9-1-3.2-1.4 3.5zM48 407l1.3-4.4-1 .5-1.4 1.8zM53.9 404.7l1.3 1.3-1-.2-1.4-1.8z"/><path fill="#2e84f9" stroke="#2e84f9" d="M55.8 404l1.4-2.3-1.1.3-1.4 1.7zM52 404.2l1.4-1-1.1-1.9-1.3 2.3zM48.3 403.1l1.3 1.9-1-4.4-1.4 4.1zM44.5 401.9l1.4 3.7-1.1-4.3-1.4 4.3zM52.8 404l1.4 1.8-1.1-4.4-1.3 5.1zM49.1 403.2l1.3 2.7-1.1-3.3-1.3 4.4z"/><path fill="#402cb8" stroke="#402cb8" d="M78.3 411.5l1.3-.3-1-.7-1.4.4zM77 411.9l1.3-.4-1.1-.6-1.3.4zM75.6 412.2l1.4-.3-1.1-.6-1.4.2zM74.2 412.6l1.4-.4-1.1-.7-1.3.5zM72.9 413l1.3-.4-1-.6-1.4.4zM71.6 413.3l1.3-.3-1.1-.6-1.3.2zM70.2 413.7l1.4-.4-1.1-.7-1.4.5zM68.8 414l1.4-.3-1.1-.6-1.3.3zM67.5 414.4l1.3-.4-1-.6-1.4.4zM66.2 414.8l1.3-.4-1.1-.6-1.3.4zM64.8 415.1l1.4-.3-1.1-.6-1.4.3zM63.4 415.5l1.4-.4-1.1-.6-1.3.4zM62.1 415.8l1.3-.3-1-.6-1.4.3zM60.8 416.2l1.3-.4-1.1-.6-1.3.4zM59.4 416.6l1.4-.4-1.1-.6-1.4.4z"/><path fill="#4331c7" stroke="#4331c7" d="M74.5 411.5l1.4-.2-1.1-1.1-1.3.3zM73.2 412l1.3-.5-1-1-1.4.4zM71.8 412.4l1.4-.4-1.1-1.1-1.3.2zM70.5 412.6l1.3-.2-1-1.3-1.4.7zM69.1 413.1l1.4-.5-1.1-.8-1.3.1zM67.8 413.4l1.3-.3-1-1.2-1.4.2zM66.4 413.8l1.4-.4-1.1-1.3-1.3.9zM65.1 414.2l1.3-.4-1-.8-1.4-.2zM63.7 414.5l1.4-.3-1.1-1.4-1.3.6zM62.4 414.9l1.3-.4-1-1.1-1.4.7zM61 415.2l1.4-.3-1.1-.8-1.3-.4zM59.7 415.6l1.3-.4-1-1.5-1.4 1zM58.3 416l1.4-.4-1.1-.9-1.3.3z"/><path fill="#4537d5" stroke="#4537d5" d="M72.1 410.9l1.4-.4-1.1-1-1.3.7zM70.8 411.1l1.3-.2-1-.7-1.4-.5zM69.4 411.8l1.4-.7-1.1-1.4-1.3 1zM68.1 411.9l1.3-.1-1-1.1-1.4.1zM66.7 412.1l1.4-.2-1.1-1.1-1.3.5zM65.4 413l1.3-.9-1-.8-1.4.4zM64 412.8l1.4.2-1.1-1.3-1.3.1zM62.7 413.4l1.3-.6-1-1-1.4.8zM61.3 414.1l1.4-.7-1.1-.8-1.3-.3zM60 413.7l1.3.4-1-1.8-1.4.9zM58.6 414.7l1.4-1-1.1-.5-1.3.5zM57.3 415l1.3-.3-1-1-1.4-.6z"/><path fill="#463ee1" stroke="#463ee1" d="M68.4 410.7l1.3-1-1.1-.1-1.3.3zM64.3 411.7l1.4-.4-1.1-.5-1.4-.4zM61.6 412.6l1.4-.8-1.1-1.3-1.4 1.3zM60.3 412.3l1.3.3-1.1-.8-1.3-.7zM57.6 413.7l1.3-.5-1.1-1.2-1.3.4z"/><path fill="#4745e9" stroke="#4745e9" d="M69.7 409.7l1.4.5-1.1-2.5-1.4 1.9zM64.6 410.8l1.3-2-1 .6-1.4-.2zM67 410.8l1.4-.1-1.1-.8-1.4-1.1zM65.7 411.3l1.3-.5-1.1-2-1.3 2zM60.5 411.8l1.4-1.3-1.1.4-1.3-1.3zM63 411.8l1.3-.1-1.1-1.3-1.3.1zM57.8 412l1.4-.9-1.1-1-1.3 1.9zM58.9 413.2l1.4-.9-1.1-1.2-1.4.9zM56.2 413.1l1.4.6-1.1-1.3-1.4.3z"/><path fill="#484df0" stroke="#484df0" d="M63.5 409.2l1.4.2-1.1-1.6-1.3.1zM65.9 408.8l1.4 1.1-1.1-2.4-1.3 1.9zM63.2 410.4l1.4.4-1.1-1.6-1.3-.8zM61.9 410.5l1.3-.1-1-2-1.4 2.5zM56.8 412l1.3-1.9-1 .2-1.4-1.2zM59.2 411.1l1.3.7-1-2.2-1.4.5zM56.5 412.4l1.3-.4-1 0-1.4-1.9zM55.1 412.7l1.4-.3-1.1-2.3-1.3 1.8z"/><path fill="#4854f6" stroke="#4854f6" d="M59.8 408.8l1.3-.3-1-.3-1.4-.3zM62.2 408.4l1.3.8-1-1.3-1.4.6zM60.8 410.9l1.4-2.5-1.1.1-1.3.3zM59.5 409.6l1.3 1.3-1-2.1-1.4-.4zM58.1 410.1l1.4-.5-1.1-1.2-1.3 1.9zM53 411.5l1.4-1.4-1.1-.9-1.3.3zM55.4 410.1l1.4 1.9-1.1-2.9-1.3 1zM54.1 411.9l1.3-1.8-1 0-1.4 1.4z"/><path fill="#475cfa" stroke="#475cfa" d="M61.1 408.5l1.4-.6-1.1-2.9-1.3 3.2zM56 409.2l1.4-2.1-1.1 1.6-1.4-1.6zM57.1 410.3l1.3-1.9-1-1.3-1.4 2.1zM55.7 409.1l1.4 1.2-1.1-1.1-1.3-1.1z"/><path fill="#4564fd" stroke="#4564fd" d="M58.7 407.9l1.4.3-1.1-1.2-1.4-2.7zM58.4 408.4l1.4.4-1.1-.9-1.3-.8zM53.3 409.2l1.4-1.1-1.1-1.9-1.4 3.7zM52 409.5l1.3-.3-1.1.7-1.3-3zM54.4 410.1l1.3-1-1-1-1.4 1.1z"/><path fill="#416cfe" stroke="#416cfe" d="M54.9 407.1l1.4 1.6-1.1-2.7-1.3-1.3zM57.4 407.1l1.3.8-1.1-3.6-1.3 4.4zM52.2 409.9l1.4-3.7-1.1 2.1-1.3-2.1zM54.7 408.1l1.3 1.1-1.1-2.1-1.3-.9z"/><path fill="#3a74fe" stroke="#3a74fe" d="M52.5 408.3l1.4-3.6-1.1-.7-1.3 2.3zM51.2 406.2l1.3 2.1-1-2-1.4-1zM53.6 406.2l1.3.9-1-2.4-1.4 3.6zM50.9 406.9l1.3 3-1-3.7-1.4.2z"/><path fill="#327cfc" stroke="#327cfc" d="M48.8 406.8l1.3-1.5-1-2.1-1.4 4.6zM49.8 406.4l1.4-.2-1.1-.9-1.3 1.5z"/><path fill="#2e84f9" stroke="#2e84f9" d="M50.1 405.3l1.4 1-1.1-.4-1.3-2.7z"/></g><path d="M27.5 408.3L59.4 422.4L99.9 411.6" stroke="#8a8a8a" stroke-width="0.6" fill="none"/><text class="R" x="63.3" y="363.7" font-size="8.6" fill="#000">F23</text><text class="S" x="25.7" y="410.7" font-size="6.9" text-anchor="end" fill="#262626">2000</text><text class="S" x="25.7" y="393.1" font-size="6.9" text-anchor="end" fill="#262626">4000</text><text class="S" x="19.6" y="416.3" font-size="6.9" fill="#262626">100</text><text class="S" x="38.5" y="423" font-size="6.9" fill="#262626">0</text><text class="S" x="49.3" y="430.1" font-size="6.9" fill="#262626">−100</text><text class="S" x="68.1" y="429.7" font-size="6.9" fill="#262626">−100</text><text class="S" x="83.9" y="424.8" font-size="6.9" fill="#262626">0</text><text class="S" x="108.7" y="419.8" font-size="6.9" fill="#262626">100</text><path d="M59.4 510.4L27.5 496.3M59.4 510.4L99.9 499.6M79.7 505L47.8 490.9M43.4 503.3L84 492.5M99.9 499.6L68 485.5M27.5 496.3L68 485.5M47.8 490.9L47.8 460.2M84 492.5L84 461.8M27.5 494.5L68 483.7L99.9 497.8M27.5 483.6L68 472.8L99.9 486.9M27.5 472.4L68 461.6L99.9 475.7" stroke="#e1e1e1" stroke-width="0.6" fill="none"/><path d="M27.5 496.3L27.5 465.6L68 454.8L99.9 468.9M68 485.5L68 454.8M99.9 499.6L99.9 468.9" stroke="#8a8a8a" stroke-width="0.6" fill="none"/><path d="M65.9 500.6L64.9 500.6L64.1 500.5L63.4 500.3L62.8 499.9L62.4 499.6L62 499.3L61.7 499L61.5 498.6L61.3 498.3L61.1 498L61 497.7L60.9 497.4L60.9 497L60.8 496.7L60.8 496.4L60.8 496.1L60.9 495.8L61 495.5L61.2 495.2L61.6 494.9L62.5 494.7L63.3 494.7L64.4 494.8L65.3 494.9L66 495.1L66.9 495.3L67.7 495.6L68.5 495.9L69.3 496.3L69.7 496.5L70.2 497L70.5 497.3L70.7 497.6L70.7 498L70.7 498.2L70.5 498.6L70.3 498.8L69.9 499.1L69.4 499.4L68.8 499.7L68.3 500L67.4 500.3L66.3 500.5L65.9 500.6" stroke="#4755f6" stroke-width="0.6" fill="none"/><path d="M67.8 504.8L65.6 505L63.4 505L61.5 504.9L59.5 504.5L57.4 504L56 503.1L55.6 502.4L56 501.7L57 501L58 500.2L58.7 499.6L59 498.8L59.1 498.1L59.1 497.3L58.9 496.6L58.5 495.9L57.8 495.1L56.8 494.3L55.6 493.5L55.1 492.7L56.3 492.1L58.5 491.8L60.8 492L62.9 492.3L64.6 492.9L66.4 493.6L68 494.4L69.7 495.2L71.1 496L72.4 496.8L73.4 497.6L74.1 498.4L74.4 499.1L74.4 499.8L74.3 500.6L74.1 501.4L73.9 502L73.4 502.7L72.4 503.5L70.7 504.2L68.2 504.7L67.8 504.8" stroke="#2d8cf3" stroke-width="0.6" fill="none"/><path d="M77.5 489.7L76.6 489.8L75.6 489.9L74.5 490L73.7 490.2L72.7 490.4L71.8 490.7L71.1 491L70.6 491.2L70.2 491.5L69.9 491.8L69.6 492.2L69.5 492.4L69.5 492.8L69.6 493.1L69.8 493.5L70 493.8L70.3 494.1L70.6 494.4L71.2 494.8L71.6 495.1L72.3 495.5L72.7 495.7L73.5 496.1L74.2 496.5L75 496.8L75.9 497.1L76.5 497.4L77.6 497.6L78.4 497.8L79.3 497.9L80.1 498L80.9 498.1L81.9 498.1L82.9 498.1L83.9 498L84.8 497.9L85.6 497.8L86.7 497.6L87.5 497.4L88.2 497.3L89.1 497L89.9 496.6L90.5 496.4L90.9 496.1L91.4 495.8M52.9 500.1L54.3 499.8L55.6 499.4L56.3 499L56.7 498.7L57.1 498.2L57.2 497.8L57.3 497.4L57.2 497L57 496.5L56.6 496.1L56.1 495.7L55.1 495.1L54 494.7L52.9 494.4L51.7 494.1L50.7 493.9L49.3 493.7L48.3 493.6L47.1 493.5L45.7 493.6L44.4 493.7L43.3 493.9L42.2 494.3L41.2 494.7L40.7 495.1L40.2 495.5L39.9 495.8L39.7 496.3L39.6 496.6L39.7 497.1L39.9 497.5L40.2 498L40.7 498.4L41.3 498.8L42.3 499.3L43.2 499.6L44.5 500L45.5 500.2L46.9 500.4L48 500.4L49.3 500.4L50.3 500.4L51.7 500.3L52.9 500.1" stroke="#05b6ce" stroke-width="0.6" fill="none"/><path d="M80.6 491L80 491L79.5 491L78.9 491.1L78.1 491.1L77.5 491.2L76.9 491.2L76.3 491.3L75.5 491.5L74.8 491.6L74.2 491.8L73.6 492.1L73.4 492.2L72.9 492.5L72.7 492.6L72.6 492.8L72.4 493L72.3 493.2L72.3 493.4L72.3 493.6L72.3 493.9L72.5 494.1L72.6 494.3L72.9 494.6L73.1 494.7L73.4 495L73.9 495.2L74.2 495.4L74.6 495.6L75.1 495.8L75.5 495.9L76.1 496.2L76.8 496.3L77.2 496.4L77.9 496.6L78.5 496.7L79 496.7L79.5 496.8L80.1 496.8L80.8 496.8L81.5 496.8L82.1 496.7L82.5 496.7L83.4 496.6L83.8 496.5L84.6 496.4L85.3 496.2L85.9 496L86.5 495.8L86.8 495.7L87.3 495.5L87.5 495.3L87.8 495.1L88 494.8L88.2 494.7L88.3 494.5M53 498.7L53.7 498.6L54 498.4L54.5 498.2L54.7 498.1L55 497.8L55.1 497.6L55.2 497.4L55.2 497.2L55.2 497L55.1 496.8L54.9 496.5L54.7 496.4L54.3 496.1L53.8 495.9L53.3 495.6L52.7 495.5L52.2 495.4L51.7 495.3L50.9 495.2L50.4 495.1L49.8 495.1L49.1 495.1L48.6 495.1L48.1 495.1L47.3 495.2L46.6 495.4L46 495.6L45.7 495.8L45.3 496L45.2 496.2L45 496.4L44.9 496.6L44.9 496.8L45 497.1L45.1 497.3L45.2 497.4L45.5 497.7L45.8 497.9L46.1 498.1L46.7 498.3L47 498.4L47.7 498.6L48.1 498.7L49 498.8L49.5 498.9L50.1 498.9L50.8 499L51.3 498.9L51.8 498.9L52.6 498.8L53 498.7" stroke="#48cb86" stroke-width="0.6" fill="none"/><path d="M83.3 492.2L82.7 492.1L82.3 492.1L81.6 492L80.9 491.9L80.3 491.9L79.8 491.9L79.2 491.9L78.4 492L77.9 492L77.1 492.1L76.7 492.2L76.2 492.4L75.7 492.5L75.2 492.7L75 492.9L74.6 493.2L74.5 493.4L74.4 493.6L74.4 493.8L74.4 494L74.5 494.1L74.7 494.4L74.9 494.6L75.3 494.9L75.8 495.1L76.3 495.3L77 495.5L77.5 495.7L78.2 495.8L78.6 495.9L79.1 495.9L79.7 496L80.3 496L81.1 495.9L81.8 495.9L82.2 495.9L83 495.7L83.7 495.6L84.4 495.4L84.9 495.1L85.2 495L85.5 494.8L85.7 494.5L85.9 494.3L85.9 494.1L86 493.9L85.9 493.7L85.8 493.6L85.6 493.3" stroke="#c8c129" stroke-width="0.6" fill="none"/><path d="M81.9 495L82.3 494.9L82.6 494.8L82.7 494.8L82.9 494.7L83.1 494.6L83.3 494.4L83.3 494.4L83.5 494.3L83.5 494.2L83.6 494.1L83.6 494L83.5 493.8L83.5 493.8L83.4 493.6L83.3 493.5L83.2 493.4L83.1 493.3L82.9 493.2L82.6 493.1L82.3 493L82.3 493L81.9 492.9L81.5 492.8L81.3 492.8L81 492.8L80.6 492.7L80.5 492.7L80 492.7L79.8 492.7L79.5 492.7L79 492.8L78.9 492.8L78.6 492.8L78.2 492.9L77.8 493L77.5 493.1L77.2 493.2L77.1 493.3L77 493.3L76.8 493.5L76.7 493.5L76.6 493.6L76.6 493.8L76.6 493.8L76.6 493.9L76.6 494.1L76.6 494.1L76.8 494.3L76.9 494.4L77.2 494.6L77.4 494.7L77.7 494.8L78 494.9L78.4 495L78.8 495L78.8 495.1L79.3 495.1L79.5 495.1L79.9 495.1L80.1 495.2L80.6 495.1L80.6 495.1L81.1 495.1L81.5 495.1L81.8 495L81.9 495" stroke="#fad42e" stroke-width="0.6" fill="none"/><g stroke-width="0.4" stroke-linejoin="round"><path fill="#2699e9" stroke="#2699e9" d="M56.1 482.7l1.6-.7-1.3-1-1.5.6zM58.9 483.1l1.5-1-1.2-.9-1.5.8z"/><path fill="#249fe5" stroke="#249fe5" d="M54.9 481.6l1.5-.6-1.2-.9-1.6.5zM57.7 482l1.5-.8-1.2-.9-1.6.7zM60.4 482.1l1.6-.9-1.2-.7-1.6.7zM63.2 482l1.6-.9-1.2-.7-1.6.8zM53.3 482.1l1.6-.5-1.3-1-1.5.5z"/><path fill="#1fa5e2" stroke="#1fa5e2" d="M58.3 479l1.6-.5-1.2-.6-1.6.5zM61.1 479.1l1.6-.5-1.3-.6-1.5.5zM56.8 479.5l1.5-.5-1.2-.6-1.6.4zM59.6 479.7l1.5-.6-1.2-.6-1.6.5zM62.3 479.8l1.6-.6-1.2-.6-1.6.5zM65.1 479.8l1.6-.6-1.3-.5-1.5.5zM55.2 480.1l1.6-.6-1.3-.7-1.5.5zM58 480.3l1.6-.6-1.3-.7-1.5.5zM60.8 480.5l1.5-.7-1.2-.7-1.5.6zM63.6 480.4l1.5-.6-1.2-.6-1.6.6zM53.6 480.6l1.6-.5-1.2-.8-1.6.5zM56.4 481l1.6-.7-1.2-.8-1.6.6zM59.2 481.2l1.6-.7-1.2-.8-1.6.6zM62 481.2l1.6-.8-1.3-.6-1.5.7zM52.1 481.1l1.5-.5-1.2-.8-1.5.5zM64.8 481.1l1.5-.8-1.2-.5-1.5.6zM50.5 481.5l1.6-.4-1.2-.8-1.6.3zM66 481.6l1.6-.9-1.3-.4-1.5.8zM49 481.7l1.5-.2-1.2-.9-1.5.4z"/><path fill="#1aabdd" stroke="#1aabdd" d="M67.7 476.3l1.5-.4-1.2-.5-1.6.4zM66.1 476.7l1.6-.4-1.3-.5-1.5.4zM68.9 476.9l1.6-.4-1.3-.6-1.5.4zM64.6 477.2l1.5-.5-1.2-.5-1.6.4zM67.3 477.3l1.6-.4-1.2-.6-1.6.4zM70.1 477.4l1.6-.4-1.2-.5-1.6.4zM63 477.6l1.6-.4-1.3-.6-1.5.4zM65.8 477.7l1.5-.4-1.2-.6-1.5.5zM68.6 477.8l1.5-.4-1.2-.5-1.6.4zM71.4 477.9l1.5-.4-1.2-.5-1.6.4zM61.4 478l1.6-.4-1.2-.6-1.6.5zM64.2 478.2l1.6-.5-1.2-.5-1.6.4zM67 478.3l1.6-.5-1.3-.5-1.5.4zM69.8 478.3l1.6-.4-1.3-.5-1.5.4zM59.9 478.5l1.5-.5-1.2-.5-1.5.4zM72.6 478.3l1.5-.3-1.2-.5-1.5.4zM62.7 478.6l1.5-.4-1.2-.6-1.6.4zM65.4 478.7l1.6-.4-1.2-.6-1.6.5zM68.2 478.8l1.6-.5-1.2-.5-1.6.5zM71 478.7l1.6-.4-1.2-.4-1.6.4zM73.8 478.6l1.6-.3-1.3-.3-1.5.3zM63.9 479.2l1.5-.5-1.2-.5-1.5.4zM66.7 479.2l1.5-.4-1.2-.5-1.6.4zM69.5 479.2l1.5-.5-1.2-.4-1.6.5zM72.2 479l1.6-.4-1.2-.3-1.6.4zM67.9 479.7l1.6-.5-1.3-.4-1.5.4zM70.7 479.4l1.5-.4-1.2-.3-1.5.5zM66.3 480.3l1.6-.6-1.2-.5-1.6.6zM69.1 480l1.6-.6-1.2-.2-1.6.5zM67.6 480.7l1.5-.7-1.2-.3-1.6.6z"/><path fill="#13b0d7" stroke="#13b0d7" d="M75 478.6l1.6-.2-1.2-.1-1.6.3zM73.5 478.9l1.5-.3-1.2 0-1.6.4zM71.9 479.3l1.6-.4-1.3.1-1.5.4zM70.4 479.9l1.5-.6-1.2.1-1.6.6zM68.8 480.7l1.6-.8-1.3.1-1.5.7z"/><path fill="#07b5cf" stroke="#07b5cf" d="M76.3 478.1l1.5.1-1.2.2-1.6.2z"/><path fill="#01b9c7" stroke="#01b9c7" d="M74.7 478.2l1.6-.1-1.3.5-1.5.3zM73.1 478.5l1.6-.3-1.2.7-1.6.4zM71.6 479.3l1.5-.8-1.2.8-1.5.6z"/><path fill="#1bc0b4" stroke="#1bc0b4" d="M77.5 477l1.5.5-1.2.7-1.5-.1z"/><path fill="#28c3ab" stroke="#28c3ab" d="M75.9 476.8l1.6.2-1.2 1.1-1.6.1z"/><path fill="#39c895" stroke="#39c895" d="M78.7 475.3l1.6 1.1-1.3 1.1-1.5-.5z"/><path fill="#327cfc" stroke="#327cfc" d="M58.2 486.9l1.6-.5-1.2-1.2-1.6.5zM61 487.5l1.6-1.2-1.3-1-1.5 1.1z"/><path fill="#2e84f9" stroke="#2e84f9" d="M57 485.7l1.6-.5-1.3-1.3-1.5.6zM59.8 486.4l1.5-1.1-1.2-1.1-1.5 1zM62.6 486.3l1.5-1.6-1.2-.7-1.6 1.3zM63.8 487.2l1.6-1.8-1.3-.7-1.5 1.6zM56.7 486.5l1.5.4-1.2-1.2-1.6-.2z"/><path fill="#2d8bf4" stroke="#2d8bf4" d="M58.6 485.2l1.5-1-1.2-1.1-1.6.8zM61.3 485.3l1.6-1.3-1.2-.9-1.6 1.1zM55.4 485.5l1.6.2-1.2-1.2-1.6 0z"/><path fill="#2b92ee" stroke="#2b92ee" d="M57.3 483.9l1.6-.8-1.2-1.1-1.6.7zM60.1 484.2l1.6-1.1-1.3-1-1.5 1zM55.8 484.5l1.5-.6-1.2-1.2-1.6.5zM64.1 484.7l1.6-1.5-1.2-.5-1.6 1.3zM54.2 484.5l1.6 0-1.3-1.3-1.5.2zM65.4 485.4l1.5-1.9-1.2-.3-1.6 1.5zM53.9 484.6l1.5.9-1.2-1-1.5-.5z"/><path fill="#2699e9" stroke="#2699e9" d="M61.7 483.1l1.5-1.1-1.2-.8-1.6.9zM54.5 483.2l1.6-.5-1.2-1.1-1.6.5zM62.9 484l1.6-1.3-1.3-.7-1.5 1.1zM53 483.4l1.5-.2-1.2-1.1-1.5.3zM52.7 484l1.5.5-1.2-1.1-1.6-.2zM66.6 485.9l1.5-2.4-1.2 0-1.5 1.9z"/><path fill="#249fe5" stroke="#249fe5" d="M51.8 482.4l1.5-.3-1.2-1-1.6.4zM64.5 482.7l1.5-1.1-1.2-.5-1.6.9zM50.2 482.5l1.6-.1-1.3-.9-1.5.2zM65.7 483.2l1.5-1.3-1.2-.3-1.5 1.1zM51.4 483.2l1.6.2-1.2-1-1.6.1z"/><path fill="#1fa5e2" stroke="#1fa5e2" d="M47.4 481.9l1.6-.2-1.2-.7-1.6.3zM48.6 482.4l1.6.1-1.2-.8-1.6.2zM66.9 483.5l1.6-1.7-1.3.1-1.5 1.3zM49.9 482.8l1.5.4-1.2-.7-1.6-.1zM51.1 483.1l1.6.9-1.3-.8-1.5-.4z"/><path fill="#1aabdd" stroke="#1aabdd" d="M67.2 481.9l1.6-1.2-1.2 0-1.6.9zM45.9 482l1.5-.1-1.2-.6-1.6.3zM44.3 482.2l1.6-.2-1.3-.4-1.5.2zM47.1 482.3l1.5.1-1.2-.5-1.5.1zM42.7 482.4l1.6-.2-1.2-.4-1.6.4zM68.1 483.5l1.6-2.2-1.2.5-1.6 1.7zM48.3 482.3l1.6.5-1.3-.4-1.5-.1zM41.2 482.8l1.5-.4-1.2-.2-1.5.4z"/><path fill="#13b0d7" stroke="#13b0d7" d="M68.5 481.8l1.5-1.4-1.2.3-1.6 1.2zM45.5 482.2l1.6.1-1.2-.3-1.6.2zM44 482.4l1.5-.2-1.2 0-1.6.2z"/><path fill="#07b5cf" stroke="#07b5cf" d="M70 480.4l1.6-1.1-1.2.6-1.6.8zM46.8 482l1.5.3-1.2 0-1.6-.1z"/><path fill="#01b9c7" stroke="#01b9c7" d="M69.7 481.3l1.6-1.9-1.3 1-1.5 1.4z"/><path fill="#1bc0b4" stroke="#1bc0b4" d="M71.3 479.4l1.5-1.5-1.2 1.4-1.6 1.1z"/><path fill="#28c3ab" stroke="#28c3ab" d="M74.4 477l1.5-.2-1.2 1.4-1.6.3zM72.8 477.9l1.6-.9-1.3 1.5-1.5.8zM70.9 480.4l1.6-2.5-1.2 1.5-1.6 1.9z"/><path fill="#45cb89" stroke="#45cb89" d="M72.5 477.9l1.5-2-1.2 2-1.5 1.5z"/><path fill="#55cc7b" stroke="#55cc7b" d="M77.2 474.7l1.5.6-1.2 1.7-1.6-.2z"/><path fill="#67cd6d" stroke="#67cd6d" d="M75.6 474.8l1.6-.1-1.3 2.1-1.5.2zM74 475.9l1.6-1.1-1.2 2.2-1.6.9z"/><path fill="#7acc5e" stroke="#7acc5e" d="M79.9 473.3l1.6 1.7-1.2 1.4-1.6-1.1z"/><path fill="#8ecb4f" stroke="#8ecb4f" d="M73.7 476.1l1.6-2.5-1.3 2.3-1.5 2z"/><path fill="#b3c534" stroke="#b3c534" d="M78.4 472.3l1.5 1-1.2 2-1.5-.6z"/><path fill="#c4c22b" stroke="#c4c22b" d="M81.2 471.7l1.5 2.2-1.2 1.1-1.6-1.7zM75.3 473.6l1.5-1.3-1.2 2.5-1.6 1.1z"/><path fill="#d4bf28" stroke="#d4bf28" d="M76.8 472.3l1.6 0-1.2 2.4-1.6.1z"/><path fill="#efba35" stroke="#efba35" d="M82.4 471l1.6 2.6-1.3.3-1.5-2.2z"/><path fill="#fabb3d" stroke="#fabb3d" d="M79.6 470.2l1.6 1.5-1.3 1.6-1.5-1zM83.6 471.7l1.6 2.5-1.2-.6-1.6-2.6z"/><path fill="#fec934" stroke="#fec934" d="M78 470.1l1.6.1-1.2 2.1-1.6 0zM76.5 471.7l1.5-1.6-1.2 2.2-1.5 1.3z"/><path fill="#f8da2b" stroke="#f8da2b" d="M80.8 469.3l1.6 1.7-1.2.7-1.6-1.5z"/><path fill="#f5eb23" stroke="#f5eb23" d="M79.3 469.2l1.5.1-1.2.9-1.6-.1z"/><path fill="#484df0" stroke="#484df0" d="M63.1 492.8l1.6-1.2-1.2-1.5-1.6.8z"/><path fill="#475cfa" stroke="#475cfa" d="M61.9 490.9l1.6-.8-1.3-1.4-1.5.7zM64.7 491.6l1.5-2.4-1.2-1-1.5 1.9z"/><path fill="#4564fd" stroke="#4564fd" d="M60.4 490.4l1.5.5-1.2-1.5-1.6-.6z"/><path fill="#416cfe" stroke="#416cfe" d="M60.7 489.4l1.5-.7-1.2-1.2-1.5.6zM63.5 490.1l1.5-1.9-1.2-1-1.6 1.5zM59.1 488.8l1.6.6-1.2-1.3-1.6-.6z"/><path fill="#3a74fe" stroke="#3a74fe" d="M59.5 488.1l1.5-.6-1.2-1.1-1.6.5zM62.2 488.7l1.6-1.5-1.2-.9-1.6 1.2z"/><path fill="#327cfc" stroke="#327cfc" d="M65 488.2l1.6-2.3-1.2-.5-1.6 1.8zM57.9 487.5l1.6.6-1.3-1.2-1.5-.4zM66.2 489.2l1.6-2.8-1.2-.5-1.6 2.3zM67.5 490.2l1.5-3.5-1.2-.3-1.6 2.8z"/><path fill="#2d8bf4" stroke="#2d8bf4" d="M56.3 485.8l1.6 1.7-1.2-1-1.6-1.3zM57.6 486.9l1.5 1.9-1.2-1.3-1.6-1.7z"/><path fill="#2b92ee" stroke="#2b92ee" d="M55.1 485.2l1.6 1.3-1.3-1-1.5-.9z"/><path fill="#2699e9" stroke="#2699e9" d="M67.8 486.4l1.6-3.1-1.3.2-1.5 2.4z"/><path fill="#249fe5" stroke="#249fe5" d="M69 486.7l1.6-3.7-1.2.3-1.6 3.1z"/><path fill="#1fa5e2" stroke="#1fa5e2" d="M52.3 483.2l1.6 1.4-1.2-.6-1.6-.9zM70.3 486.9l1.5-4.2-1.2.3-1.6 3.7z"/><path fill="#1aabdd" stroke="#1aabdd" d="M39.6 483.3l1.6-.5-1.2-.2-1.6.4zM38.1 483.8l1.5-.5-1.2-.3-1.6.5zM53.6 483.2l1.5 2-1.2-.6-1.6-1.4zM36.5 484.4l1.6-.6-1.3-.3-1.5.5zM54.8 483.4l1.5 2.4-1.2-.6-1.5-2zM35 484.9l1.5-.5-1.2-.4-1.6.4z"/><path fill="#13b0d7" stroke="#13b0d7" d="M49.5 482.1l1.6 1-1.2-.3-1.6-.5zM42.4 482.8l1.6-.4-1.3 0-1.5.4zM40.9 483.3l1.5-.5-1.2 0-1.6.5zM39.3 484l1.6-.7-1.3 0-1.5.5zM37.7 484.7l1.6-.7-1.2-.2-1.6.6z"/><path fill="#07b5cf" stroke="#07b5cf" d="M69.4 483.3l1.5-2.9-1.2.9-1.6 2.2zM45.2 482l1.6 0-1.3.2-1.5.2zM50.8 481.6l1.5 1.6-1.2-.1-1.6-1zM40.5 483.9l1.6-.8-1.2.2-1.6.7z"/><path fill="#01b9c7" stroke="#01b9c7" d="M48 481.4l1.5.7-1.2.2-1.5-.3zM43.6 482.4l1.6-.4-1.2.4-1.6.4zM42.1 483.1l1.5-.7-1.2.4-1.5.5z"/><path fill="#09bdbe" stroke="#09bdbe" d="M70.6 483l1.6-3.6-1.3 1-1.5 2.9zM52 481.1l1.6 2.1-1.3 0-1.5-1.6z"/><path fill="#1bc0b4" stroke="#1bc0b4" d="M46.4 481.2l1.6.2-1.2.6-1.6 0zM49.2 480.5l1.6 1.1-1.3.5-1.5-.7zM44.9 481.6l1.5-.4-1.2.8-1.6.4zM53.2 480.9l1.6 2.5-1.2-.2-1.6-2.1zM43.3 482.5l1.6-.9-1.3.8-1.5.7z"/><path fill="#28c3ab" stroke="#28c3ab" d="M71.8 482.7l1.6-4.2-1.2.9-1.6 3.6z"/><path fill="#31c5a1" stroke="#31c5a1" d="M47.7 480.1l1.5.4-1.2.9-1.6-.2z"/><path fill="#39c895" stroke="#39c895" d="M50.4 479.5l1.6 1.6-1.2.5-1.6-1.1zM73 482.6l1.6-4.4-1.2.3-1.6 4.2z"/><path fill="#45cb89" stroke="#45cb89" d="M72.2 479.4l1.5-3.3-1.2 1.8-1.6 2.5z"/><path fill="#67cd6d" stroke="#67cd6d" d="M87.3 479.6l1.6 1-1.3-2.4-1.5-1.6z"/><path fill="#8ecb4f" stroke="#8ecb4f" d="M73.4 478.5l1.5-3.9-1.2 1.5-1.5 3.3z"/><path fill="#a1c840" stroke="#a1c840" d="M85.7 479.1l1.6.5-1.2-3-1.6-1z"/><path fill="#b3c534" stroke="#b3c534" d="M86.1 476.6l1.5 1.6-1.2-2.3-1.6-2.2z"/><path fill="#c4c22b" stroke="#c4c22b" d="M74.6 478.2l1.6-4.2-1.3.6-1.5 3.9z"/><path fill="#e2bc2b" stroke="#e2bc2b" d="M84.8 473.7l1.6 2.2-1.2-1.7-1.6-2.5zM74.9 474.6l1.6-2.9-1.2 1.9-1.6 2.5z"/><path fill="#efba35" stroke="#efba35" d="M84.5 475.6l1.6 1-1.3-2.9-1.5-1.4z"/><path fill="#fec13a" stroke="#fec13a" d="M83 475.6l1.5 0-1.2-3.3-1.6-.1z"/><path fill="#fec934" stroke="#fec934" d="M76.2 474l1.5-3.2-1.2.9-1.6 2.9z"/><path fill="#fbd12f" stroke="#fbd12f" d="M83.3 472.3l1.5 1.4-1.2-2-1.5-1.7zM77.4 474.6l1.5-3.1-1.2-.7-1.5 3.2z"/><path fill="#f5e327" stroke="#f5e327" d="M82.1 470l1.5 1.7-1.2-.7-1.6-1.7zM81.7 472.2l1.6.1-1.2-2.3-1.6-.1zM80.2 473.7l1.5-1.5-1.2-2.3-1.6 1.6z"/><path fill="#f5eb23" stroke="#f5eb23" d="M77.7 470.8l1.6-1.6-1.3.9-1.5 1.6z"/><path fill="#f7f31d" stroke="#f7f31d" d="M80.5 469.9l1.6.1-1.3-.7-1.5-.1zM78.9 471.5l1.6-1.6-1.2-.7-1.6 1.6z"/><path fill="#402cb8" stroke="#402cb8" d="M64 496.7l1.6-.5-1.2-1.5-1.6.1z"/><path fill="#4331c7" stroke="#4331c7" d="M65.6 496.2l1.5-2.1-1.2-1.1-1.5 1.7z"/><path fill="#4537d5" stroke="#4537d5" d="M62.8 494.8l1.6-.1-1.3-1.9-1.5-.2z"/><path fill="#463ee1" stroke="#463ee1" d="M64.4 494.7l1.5-1.7-1.2-1.4-1.6 1.2z"/><path fill="#484df0" stroke="#484df0" d="M61.6 492.6l1.5.2-1.2-1.9-1.5-.5zM67.1 494.1l1.6-3.2-1.2-.7-1.6 2.8zM68.4 494.5l1.5-3.4-1.2-.2-1.6 3.2zM61.2 493.3l1.6 1.5-1.2-2.2-1.6-1.8z"/><path fill="#4854f6" stroke="#4854f6" d="M65.9 493l1.6-2.8-1.3-1-1.5 2.4z"/><path fill="#4564fd" stroke="#4564fd" d="M60 490.8l1.6 1.8-1.2-2.2-1.6-1.8z"/><path fill="#327cfc" stroke="#327cfc" d="M68.7 490.9l1.6-4-1.3-.2-1.5 3.5zM58.8 488.6l1.6 1.8-1.3-1.6-1.5-1.9zM69.9 491.1l1.6-4-1.2-.2-1.6 4z"/><path fill="#2e84f9" stroke="#2e84f9" d="M71.2 491l1.5-3.8-1.2-.1-1.6 4z"/><path fill="#2d8bf4" stroke="#2d8bf4" d="M58.5 488l1.5 2.8-1.2-2.2-1.6-2.9z"/><path fill="#249fe5" stroke="#249fe5" d="M57.2 485.7l1.6 2.9-1.2-1.7-1.6-2.7z"/><path fill="#1aabdd" stroke="#1aabdd" d="M33.4 485.4l1.6-.5-1.3-.5-1.5.5zM56 484.2l1.6 2.7-1.3-1.1-1.5-2.4zM36.2 485.3l1.5-.6-1.2-.3-1.5.5zM31.8 485.8l1.6-.4-1.2-.5-1.6.4zM34.6 485.8l1.6-.5-1.2-.4-1.6.5zM30.3 486.3l1.5-.5-1.2-.5-1.5.4zM33.1 486.3l1.5-.5-1.2-.4-1.6.4zM35.9 486.2l1.5-.6-1.2-.3-1.6.5zM28.7 486.7l1.6-.4-1.2-.6-1.6.5zM31.5 486.8l1.6-.5-1.3-.5-1.5.5z"/><path fill="#13b0d7" stroke="#13b0d7" d="M39 484.8l1.5-.9-1.2.1-1.6.7zM71.5 487.1l1.5-4.5-1.2.1-1.5 4.2zM37.4 485.6l1.6-.8-1.3-.1-1.5.6zM72.7 487.2l1.6-4.2-1.3-.4-1.5 4.5z"/><path fill="#07b5cf" stroke="#07b5cf" d="M91 485.8l1.5-.2-1.2-1.2-1.5-.1zM38.6 485.8l1.6-1-1.2 0-1.6.8zM73.9 487.3l1.6-3.6-1.2-.7-1.6 4.2z"/><path fill="#01b9c7" stroke="#01b9c7" d="M40.2 484.8l1.6-1.2-1.3.3-1.5.9z"/><path fill="#09bdbe" stroke="#09bdbe" d="M41.8 483.6l1.5-1.1-1.2.6-1.6.8zM89.8 484.3l1.5.1-1.2-1.7-1.6-.4zM41.4 484.6l1.6-1.4-1.2.4-1.6 1.2z"/><path fill="#1bc0b4" stroke="#1bc0b4" d="M55.7 482.8l1.5 2.9-1.2-1.5-1.5-2.9zM88.2 484.5l1.6-.2-1.3-2-1.5-.2z"/><path fill="#28c3ab" stroke="#28c3ab" d="M54.5 481.3l1.5 2.9-1.2-.8-1.6-2.5zM43 483.2l1.5-1.5-1.2.8-1.5 1.1zM86.6 484.8l1.6-.3-1.2-2.4-1.6.3z"/><path fill="#31c5a1" stroke="#31c5a1" d="M88.5 482.3l1.6.4-1.2-2.1-1.6-1zM44.5 481.7l1.6-1.1-1.2 1-1.6.9z"/><path fill="#39c895" stroke="#39c895" d="M46.1 480.6l1.6-.5-1.3 1.1-1.5.4z"/><path fill="#45cb89" stroke="#45cb89" d="M74.3 483l1.5-4.4-1.2-.4-1.6 4.4zM87 482.1l1.5.2-1.2-2.7-1.6-.5zM75.5 483.7l1.6-3.7-1.3-1.4-1.5 4.4z"/><path fill="#55cc7b" stroke="#55cc7b" d="M48.9 479l1.5.5-1.2 1-1.5-.4zM51.7 479l1.5 1.9-1.2.2-1.6-1.6zM85.4 482.4l1.6-.3-1.3-3-1.5.1zM45.8 480.9l1.5-1.4-1.2 1.1-1.6 1.1zM83.9 483.1l1.5-.7-1.2-3.2-1.6 1zM54.1 480.6l1.6 2.2-1.2-1.5-1.6-2z"/><path fill="#67cd6d" stroke="#67cd6d" d="M47.3 479.5l1.6-.5-1.2 1.1-1.6.5zM52.9 479.3l1.6 2-1.3-.4-1.5-1.9z"/><path fill="#8ecb4f" stroke="#8ecb4f" d="M50.1 478.3l1.6.7-1.3.5-1.5-.5zM78.3 481.9l1.5-2.8-1.2-2.6-1.5 3.5zM81.1 481.8l1.5-1.6-1.2-3.4-1.6 2.3z"/><path fill="#a1c840" stroke="#a1c840" d="M48.6 478.9l1.5-.6-1.2.7-1.6.5zM51.3 478.5l1.6.8-1.2-.3-1.6-.7z"/><path fill="#b3c534" stroke="#b3c534" d="M84.2 479.2l1.5-.1-1.2-3.5-1.5 0zM82.6 480.2l1.6-1-1.2-3.6-1.6 1.2z"/><path fill="#c4c22b" stroke="#c4c22b" d="M77.1 480l1.5-3.5-1.2-1.9-1.6 4z"/><path fill="#d4bf28" stroke="#d4bf28" d="M75.8 478.6l1.6-4-1.2-.6-1.6 4.2z"/><path fill="#e2bc2b" stroke="#e2bc2b" d="M79.8 479.1l1.6-2.3-1.2-3.1-1.6 2.8z"/><path fill="#fec13a" stroke="#fec13a" d="M78.6 476.5l1.6-2.8-1.3-2.2-1.5 3.1zM81.4 476.8l1.6-1.2-1.3-3.4-1.5 1.5z"/><path fill="#3e26a8" stroke="#3e26a8" d="M65.3 497.6l1.5-.8-1.2-.6-1.6.5zM63.7 497l1.6.6-1.3-.9-1.5-1.1zM66.5 497.6l1.5-1.1-1.2.3-1.5.8z"/><path fill="#402cb8" stroke="#402cb8" d="M66.8 496.8l1.6-2.3-1.3-.4-1.5 2.1z"/><path fill="#4331c7" stroke="#4331c7" d="M62.5 495.6l1.5 1.1-1.2-1.9-1.6-1.5zM68 496.5l1.6-2.3-1.2.3-1.6 2.3z"/><path fill="#463ee1" stroke="#463ee1" d="M69.3 495.6l1.5-2.1-1.2.7-1.6 2.3zM62.1 495.3l1.6 1.7-1.2-1.4-1.6-2.2z"/><path fill="#4854f6" stroke="#4854f6" d="M69.6 494.2l1.6-3.2-1.3.1-1.5 3.4zM60.9 493.4l1.6 2.2-1.3-2.3-1.5-2.5z"/><path fill="#4564fd" stroke="#4564fd" d="M70.8 493.5l1.6-2.9-1.2.4-1.6 3.2z"/><path fill="#3a74fe" stroke="#3a74fe" d="M59.7 490.8l1.5 2.5-1.2-2.5-1.5-2.8zM72.1 492.6l1.5-2.3-1.2.3-1.6 2.9z"/><path fill="#2e84f9" stroke="#2e84f9" d="M59.4 490.9l1.5 2.5-1.2-2.6-1.6-2.8z"/><path fill="#2d8bf4" stroke="#2d8bf4" d="M72.4 490.6l1.5-3.3-1.2-.1-1.5 3.8z"/><path fill="#2b92ee" stroke="#2b92ee" d="M73.6 490.3l1.6-2.6-1.3-.4-1.5 3.3z"/><path fill="#2699e9" stroke="#2699e9" d="M74.8 490.1l1.6-2-1.2-.4-1.6 2.6z"/><path fill="#249fe5" stroke="#249fe5" d="M58.1 488l1.6 2.8-1.2-2.8-1.6-2.9z"/><path fill="#1aabdd" stroke="#1aabdd" d="M34.3 486.8l1.6-.6-1.3-.4-1.5.5zM30 487.2l1.5-.4-1.2-.5-1.6.4zM32.7 487.3l1.6-.5-1.2-.5-1.6.5zM35.5 487.3l1.6-.7-1.2-.4-1.6.6zM93.4 487.6l1.6-.4-1.2-.7-1.6.3zM31.2 487.8l1.5-.5-1.2-.5-1.5.4zM34 487.8l1.5-.5-1.2-.5-1.6.5zM91.9 488l1.5-.4-1.2-.8-1.6.4zM94.7 488.2l1.5-.4-1.2-.6-1.6.4z"/><path fill="#13b0d7" stroke="#13b0d7" d="M37.1 486.6l1.5-.8-1.2-.2-1.5.6zM92.2 486.8l1.6-.3-1.3-.9-1.5.2zM90.6 487.2l1.6-.4-1.2-1-1.6.3zM38.3 486.9l1.6-1-1.3-.1-1.5.8zM76.4 488.1l1.6-2.1-1.3-1.2-1.5 2.9zM89.1 487.6l1.5-.4-1.2-1.1-1.5.4zM36.7 487.7l1.6-.8-1.2-.3-1.6.7z"/><path fill="#07b5cf" stroke="#07b5cf" d="M56.9 485.1l1.6 2.9-1.3-2.3-1.5-2.9zM89.4 486.1l1.6-.3-1.2-1.5-1.6.2zM75.2 487.7l1.5-2.9-1.2-1.1-1.6 3.6zM39.5 487.3l1.6-1.2-1.2-.2-1.6 1zM84.8 487.6l1.5-.6-1.2-1.6-1.6.8z"/><path fill="#01b9c7" stroke="#01b9c7" d="M39.9 485.9l1.5-1.3-1.2.2-1.6 1zM87.9 486.5l1.5-.4-1.2-1.6-1.6.3zM86.3 487l1.6-.5-1.3-1.7-1.5.6zM79.2 487.2l1.5-1.5-1.2-1.8-1.5 2.1zM82 487.2l1.5-1-1.2-1.9-1.6 1.4z"/><path fill="#09bdbe" stroke="#09bdbe" d="M41.1 486.1l1.6-1.6-1.3.1-1.5 1.3zM56.6 485.8l1.5 2.2-1.2-2.9-1.6-2.2zM42.3 486.3l1.6-1.7-1.2-.1-1.6 1.6z"/><path fill="#1bc0b4" stroke="#1bc0b4" d="M85.1 485.4l1.5-.6-1.2-2.4-1.5.7zM78 486l1.5-2.1-1.2-2-1.6 2.9zM83.5 486.2l1.6-.8-1.2-2.3-1.6 1.2z"/><path fill="#28c3ab" stroke="#28c3ab" d="M42.7 484.5l1.5-1.8-1.2.5-1.6 1.4zM80.7 485.7l1.6-1.4-1.2-2.5-1.6 2.1z"/><path fill="#31c5a1" stroke="#31c5a1" d="M76.7 484.8l1.6-2.9-1.2-1.9-1.6 3.7zM43.9 484.6l1.5-2.1-1.2.2-1.5 1.8z"/><path fill="#39c895" stroke="#39c895" d="M44.2 482.7l1.6-1.8-1.3.8-1.5 1.5zM82.3 484.3l1.6-1.2-1.3-2.9-1.5 1.6zM55.3 482.9l1.6 2.2-1.2-2.3-1.6-2.2z"/><path fill="#45cb89" stroke="#45cb89" d="M79.5 483.9l1.6-2.1-1.3-2.7-1.5 2.8z"/><path fill="#55cc7b" stroke="#55cc7b" d="M45.4 482.5l1.6-2-1.2.4-1.6 1.8z"/><path fill="#67cd6d" stroke="#67cd6d" d="M46.7 482.8l1.5-2.1-1.2-.2-1.6 2z"/><path fill="#7acc5e" stroke="#7acc5e" d="M53.8 481.9l1.5 1-1.2-2.3-1.5-.9z"/><path fill="#8ecb4f" stroke="#8ecb4f" d="M47 480.5l1.6-1.6-1.3.6-1.5 1.4zM52.2 482.2l1.6-.3-1.2-2.2-1.6.5z"/><path fill="#a1c840" stroke="#a1c840" d="M52.6 479.7l1.5.9-1.2-1.3-1.6-.8zM48.2 480.7l1.6-1.6-1.2-.2-1.6 1.6zM49.4 481.7l1.6-1.5-1.2-1.1-1.6 1.6z"/><path fill="#b3c534" stroke="#b3c534" d="M49.8 479.1l1.5-.6-1.2-.2-1.5.6zM51 480.2l1.6-.5-1.3-1.2-1.5.6z"/><path fill="#3e26a8" stroke="#3e26a8" d="M64.9 497.4l1.6.2-1.2 0-1.6-.6z"/><path fill="#402cb8" stroke="#402cb8" d="M66.2 497l1.5-.2-1.2.8-1.6-.2z"/><path fill="#4331c7" stroke="#4331c7" d="M67.7 496.8l1.6-1.2-1.3.9-1.5 1.1z"/><path fill="#4537d5" stroke="#4537d5" d="M63.4 496.3l1.5 1.1-1.2-.4-1.6-1.7zM64.6 496.6l1.6.4-1.3.4-1.5-1.1z"/><path fill="#463ee1" stroke="#463ee1" d="M67.4 496.3l1.5-.6-1.2 1.1-1.5.2z"/><path fill="#4745e9" stroke="#4745e9" d="M68.9 495.7l1.6-1.3-1.2 1.2-1.6 1.2z"/><path fill="#484df0" stroke="#484df0" d="M61.8 494.9l1.6 1.4-1.3-1-1.5-2zM63 495.9l1.6.7-1.2-.3-1.6-1.4z"/><path fill="#4854f6" stroke="#4854f6" d="M70.5 494.4l1.6-1.8-1.3.9-1.5 2.1z"/><path fill="#475cfa" stroke="#475cfa" d="M70.2 494.7l1.5-1.2-1.2.9-1.6 1.3z"/><path fill="#4564fd" stroke="#4564fd" d="M60.6 493.3l1.5 2-1.2-1.9-1.5-2.5z"/><path fill="#416cfe" stroke="#416cfe" d="M71.7 493.5l1.6-1.6-1.2.7-1.6 1.8zM60.3 493.7l1.5 1.2-1.2-1.6-1.6-1.7z"/><path fill="#327cfc" stroke="#327cfc" d="M73 492.9l1.5-1.4-1.2.4-1.6 1.6z"/><path fill="#2e84f9" stroke="#2e84f9" d="M73.3 491.9l1.5-1.8-1.2.2-1.5 2.3z"/><path fill="#2d8bf4" stroke="#2d8bf4" d="M59 491.6l1.6 1.7-1.2-2.4-1.6-2z"/><path fill="#2b92ee" stroke="#2b92ee" d="M74.5 491.5l1.6-1.4-1.3 0-1.5 1.8z"/><path fill="#249fe5" stroke="#249fe5" d="M76.1 490.1l1.5-1.4-1.2-.6-1.6 2zM77.3 490.4l1.5-1.1-1.2-.6-1.5 1.4zM57.5 490.6l1.5 1-1.2-2.7-1.6-1.1z"/><path fill="#1fa5e2" stroke="#1fa5e2" d="M57.8 488.9l1.6 2-1.3-2.9-1.5-2.2z"/><path fill="#1aabdd" stroke="#1aabdd" d="M32.4 488.3l1.6-.5-1.3-.5-1.5.5zM35.2 488.3l1.5-.6-1.2-.4-1.5.5zM90.3 488.4l1.6-.4-1.3-.8-1.5.4zM93.1 488.6l1.6-.4-1.3-.6-1.5.4zM95.9 488.8l1.5-.4-1.2-.6-1.5.4zM33.6 488.8l1.6-.5-1.2-.5-1.6.5zM88.8 488.8l1.5-.4-1.2-.8-1.6.4zM78.8 489.3l1.6-1.1-1.2-1-1.6 1.5zM36.4 488.8l1.6-.6-1.3-.5-1.5.6zM91.5 489l1.6-.4-1.2-.6-1.6.4zM94.3 489.2l1.6-.4-1.2-.6-1.6.4zM84.4 489.1l1.6-.5-1.2-1-1.6.7zM97.1 489.3l1.6-.4-1.3-.5-1.5.4zM87.2 489.3l1.6-.5-1.3-.8-1.5.6zM34.9 489.3l1.5-.5-1.2-.5-1.6.5zM90 489.5l1.5-.5-1.2-.6-1.5.4zM80.1 489.9l1.5-.8-1.2-.9-1.6 1.1zM37.6 489.3l1.6-.7-1.2-.4-1.6.6zM92.8 489.6l1.5-.4-1.2-.6-1.6.4zM82.9 489.7l1.5-.6-1.2-.8-1.6.8zM95.6 489.8l1.5-.5-1.2-.5-1.6.4z"/><path fill="#13b0d7" stroke="#13b0d7" d="M87.5 488l1.6-.4-1.2-1.1-1.6.5zM77.6 488.7l1.6-1.5-1.2-1.2-1.6 2.1zM38 488.2l1.5-.9-1.2-.4-1.6.8zM83.2 488.3l1.6-.7-1.3-1.4-1.5 1zM86 488.6l1.5-.6-1.2-1-1.5.6zM81.6 489.1l1.6-.8-1.2-1.1-1.6 1zM39.2 488.6l1.6-.9-1.3-.4-1.5.9zM40.4 489.2l1.6-1-1.2-.5-1.6.9z"/><path fill="#07b5cf" stroke="#07b5cf" d="M80.4 488.2l1.6-1-1.3-1.5-1.5 1.5zM40.8 487.7l1.5-1.4-1.2-.2-1.6 1.2z"/><path fill="#01b9c7" stroke="#01b9c7" d="M56.2 487.8l1.6 1.1-1.2-3.1-1.6-1.1zM42 488.2l1.5-1.4-1.2-.5-1.5 1.4z"/><path fill="#1bc0b4" stroke="#1bc0b4" d="M43.5 486.8l1.6-1.8-1.2-.4-1.6 1.7zM54.7 487.6l1.5.2-1.2-3.1-1.5.1zM44.8 487.5l1.5-1.7-1.2-.8-1.6 1.8z"/><path fill="#31c5a1" stroke="#31c5a1" d="M47.6 486.9l1.5-1.7-1.2-1.5-1.6 2.1zM50.3 487l1.6-1.3-1.2-2.2-1.6 1.7z"/><path fill="#39c895" stroke="#39c895" d="M55 484.7l1.6 1.1-1.3-2.9-1.5-1zM45.1 485l1.6-2.2-1.3-.3-1.5 2.1zM46.3 485.8l1.6-2.1-1.2-.9-1.6 2.2z"/><path fill="#45cb89" stroke="#45cb89" d="M53.5 484.8l1.5-.1-1.2-2.8-1.6.3zM51.9 485.7l1.6-.9-1.3-2.6-1.5 1.3z"/><path fill="#55cc7b" stroke="#55cc7b" d="M49.1 485.2l1.6-1.7-1.3-1.8-1.5 2z"/><path fill="#67cd6d" stroke="#67cd6d" d="M47.9 483.7l1.5-2-1.2-1-1.5 2.1z"/><path fill="#7acc5e" stroke="#7acc5e" d="M50.7 483.5l1.5-1.3-1.2-2-1.6 1.5z"/><path fill="#4745e9" stroke="#4745e9" d="M65.8 496.5l1.6-.2-1.2.7-1.6-.4z"/><path fill="#484df0" stroke="#484df0" d="M64.3 496.3l1.5.2-1.2.1-1.6-.7zM67 496.2l1.6-.6-1.2.7-1.6.2z"/><path fill="#4854f6" stroke="#4854f6" d="M68.6 495.6l1.6-.9-1.3 1-1.5.6zM65.5 496.5l1.5-.3-1.2.3-1.5-.2z"/><path fill="#475cfa" stroke="#475cfa" d="M61.5 495.1l1.5.8-1.2-1-1.5-1.2zM62.7 496.1l1.6.2-1.3-.4-1.5-.8zM68.3 496l1.5-.9-1.2.5-1.6.6zM63.9 496.7l1.6-.2-1.2-.2-1.6-.2z"/><path fill="#4564fd" stroke="#4564fd" d="M69.8 495.1l1.6-1-1.2.6-1.6.9zM61.2 495.8l1.5.3-1.2-1-1.6-.5z"/><path fill="#3a74fe" stroke="#3a74fe" d="M71.4 494.1l1.6-1.2-1.3.6-1.5 1.2zM59.9 494.6l1.6.5-1.2-1.4-1.6-.8zM71.1 494.8l1.5-1-1.2.3-1.6 1z"/><path fill="#327cfc" stroke="#327cfc" d="M72.6 493.8l1.6-1.2-1.2.3-1.6 1.2z"/><path fill="#2e84f9" stroke="#2e84f9" d="M58.4 494.2l1.5.4-1.2-1.7-1.6-.4z"/><path fill="#2d8bf4" stroke="#2d8bf4" d="M58.7 492.9l1.6.8-1.3-2.1-1.5-1zM74.2 492.6l1.5-1.1-1.2 0-1.5 1.4zM73.8 493.7l1.6-1.1-1.2 0-1.6 1.2z"/><path fill="#2b92ee" stroke="#2b92ee" d="M75.4 492.6l1.6-1-1.3-.1-1.5 1.1z"/><path fill="#2699e9" stroke="#2699e9" d="M75.7 491.5l1.6-1.1-1.2-.3-1.6 1.4zM77 491.6l1.5-.9-1.2-.3-1.6 1.1zM57.1 492.5l1.6.4-1.2-2.3-1.6-.4z"/><path fill="#249fe5" stroke="#249fe5" d="M55.6 492.4l1.5.1-1.2-2.3-1.5.2zM78.2 491.9l1.5-.8-1.2-.4-1.5.9z"/><path fill="#1fa5e2" stroke="#1fa5e2" d="M78.5 490.7l1.6-.8-1.3-.6-1.5 1.1zM81.3 490.4l1.6-.7-1.3-.6-1.5.8zM79.7 491.1l1.6-.7-1.2-.5-1.6.8zM82.5 490.9l1.6-.6-1.2-.6-1.6.7zM81 491.5l1.5-.6-1.2-.5-1.6.7zM83.8 491.4l1.5-.6-1.2-.5-1.6.6z"/><path fill="#1aabdd" stroke="#1aabdd" d="M85.6 489.8l1.6-.5-1.2-.7-1.6.5zM98.3 489.9l1.6-.4-1.2-.6-1.6.4zM55.9 490.2l1.6.4-1.3-2.8-1.5-.2zM88.4 489.9l1.6-.4-1.2-.7-1.6.5zM36.1 489.9l1.5-.6-1.2-.5-1.5.5zM91.2 490l1.6-.4-1.3-.6-1.5.5zM38.9 489.9l1.5-.7-1.2-.6-1.6.7zM94 490.2l1.6-.4-1.3-.6-1.5.4zM84.1 490.3l1.5-.5-1.2-.7-1.5.6zM96.8 490.3l1.5-.4-1.2-.6-1.5.5zM86.9 490.4l1.5-.5-1.2-.6-1.6.5zM89.7 490.5l1.5-.5-1.2-.5-1.6.4zM37.3 490.4l1.6-.5-1.3-.6-1.5.6zM92.4 490.6l1.6-.4-1.2-.6-1.6.4zM40.1 490.4l1.6-.6-1.3-.6-1.5.7zM95.2 490.7l1.6-.4-1.2-.5-1.6.4zM85.3 490.8l1.6-.4-1.3-.6-1.5.5zM88.1 490.9l1.6-.4-1.3-.6-1.5.5zM90.9 491l1.5-.4-1.2-.6-1.5.5zM38.5 491l1.6-.6-1.2-.5-1.6.5zM93.7 491.1l1.5-.4-1.2-.5-1.6.4zM41.3 491l1.6-.6-1.2-.6-1.6.6z"/><path fill="#13b0d7" stroke="#13b0d7" d="M41.7 489.8l1.5-1-1.2-.6-1.6 1zM54.4 490.4l1.5-.2-1.2-2.6-1.6.5zM52.8 490.8l1.6-.4-1.3-2.3-1.5.8zM42.9 490.4l1.5-.8-1.2-.8-1.5 1zM51.2 491.3l1.6-.5-1.2-1.9-1.6 1z"/><path fill="#07b5cf" stroke="#07b5cf" d="M44.4 489.6l1.6-1.2-1.2-.9-1.6 1.3zM45.7 490.4l1.5-.9-1.2-1.1-1.6 1.2zM48.5 490.7l1.5-.8-1.2-1.6-1.6 1.2z"/><path fill="#01b9c7" stroke="#01b9c7" d="M43.2 488.8l1.6-1.3-1.3-.7-1.5 1.4zM47.2 489.5l1.6-1.2-1.2-1.4-1.6 1.5zM50 489.9l1.6-1-1.3-1.9-1.5 1.3z"/><path fill="#09bdbe" stroke="#09bdbe" d="M46 488.4l1.6-1.5-1.3-1.1-1.5 1.7zM51.6 488.9l1.5-.8-1.2-2.4-1.6 1.3z"/><path fill="#1bc0b4" stroke="#1bc0b4" d="M53.1 488.1l1.6-.5-1.2-2.8-1.6.9zM48.8 488.3l1.5-1.3-1.2-1.8-1.5 1.7z"/><path fill="#475cfa" stroke="#475cfa" d="M66.7 496.6l1.6-.6-1.3.2-1.5.3zM65.2 497l1.5-.4-1.2-.1-1.6.2z"/><path fill="#4564fd" stroke="#4564fd" d="M62.4 496.6l1.5.1-1.2-.6-1.5-.3zM67.9 496.5l1.6-.7-1.2.2-1.6.6zM63.6 497.1l1.6-.1-1.3-.3-1.5-.1zM66.4 497l1.5-.5-1.2.1-1.5.4zM62 497.1l1.6 0-1.2-.5-1.6-.1zM64.8 497.3l1.6-.3-1.2 0-1.6.1z"/><path fill="#416cfe" stroke="#416cfe" d="M69.5 495.8l1.6-1-1.3.3-1.5.9zM60.8 496.5l1.6.1-1.2-.8-1.6-.2zM67.6 496.9l1.6-.5-1.3.1-1.5.5z"/><path fill="#3a74fe" stroke="#3a74fe" d="M59.6 495.6l1.6.2-1.3-1.2-1.5-.4zM70.7 495.6l1.6-.9-1.2.1-1.6 1zM69.2 496.4l1.5-.8-1.2.2-1.6.7zM59.3 496.2l1.5.3-1.2-.9-1.6-.3zM60.5 496.8l1.5.3-1.2-.6-1.5-.3z"/><path fill="#327cfc" stroke="#327cfc" d="M58 495.3l1.6.3-1.2-1.4-1.6-.2zM57.7 495.9l1.6.3-1.3-.9-1.5-.3zM70.4 496.2l1.6-.8-1.3.2-1.5.8z"/><path fill="#2e84f9" stroke="#2e84f9" d="M72.3 494.7l1.5-1-1.2.1-1.5 1zM56.5 495l1.5.3-1.2-1.3-1.6-.1zM72 495.4l1.5-.8-1.2.1-1.6.9z"/><path fill="#2d8bf4" stroke="#2d8bf4" d="M56.8 494l1.6.2-1.3-1.7-1.5-.1zM73.5 494.6l1.6-.9-1.3 0-1.5 1z"/><path fill="#2b92ee" stroke="#2b92ee" d="M75.1 493.7l1.5-1-1.2-.1-1.6 1.1zM55.2 493.9l1.6.1-1.2-1.6-1.6.1zM74.7 494.5l1.6-.8-1.2 0-1.6.9zM54.9 494.8l1.6.2-1.3-1.1-1.5-.1z"/><path fill="#2699e9" stroke="#2699e9" d="M76.6 492.7l1.6-.8-1.2-.3-1.6 1zM53.7 493.8l1.5.1-1.2-1.4-1.5.2zM76.3 493.7l1.6-.8-1.3-.2-1.5 1zM52.1 493.8l1.6 0-1.2-1.1-1.6.1z"/><path fill="#249fe5" stroke="#249fe5" d="M54 492.5l1.6-.1-1.2-2-1.6.4zM79.4 492.2l1.6-.7-1.3-.4-1.5.8zM52.5 492.7l1.5-.2-1.2-1.7-1.6.5zM77.9 492.9l1.5-.7-1.2-.3-1.6.8zM79.1 493.2l1.5-.7-1.2-.3-1.5.7zM77.5 493.9l1.6-.7-1.2-.3-1.6.8z"/><path fill="#1fa5e2" stroke="#1fa5e2" d="M82.2 491.9l1.6-.5-1.3-.5-1.5.6zM85 491.8l1.5-.4-1.2-.6-1.5.6zM80.6 492.5l1.6-.6-1.2-.4-1.6.7zM50.9 492.8l1.6-.1-1.3-1.4-1.5.5zM83.4 492.3l1.6-.5-1.2-.4-1.6.5zM49.4 493.1l1.5-.3-1.2-1-1.6.4zM81.9 492.9l1.5-.6-1.2-.4-1.6.6zM84.7 492.8l1.5-.5-1.2-.5-1.6.5zM47.8 493.3l1.6-.2-1.3-.9-1.5.4zM80.3 493.5l1.6-.6-1.3-.4-1.5.7z"/><path fill="#1aabdd" stroke="#1aabdd" d="M86.5 491.4l1.6-.5-1.2-.5-1.6.4zM89.3 491.4l1.6-.4-1.2-.5-1.6.4zM92.1 491.6l1.6-.5-1.3-.5-1.5.4zM49.7 491.8l1.5-.5-1.2-1.4-1.5.8zM39.8 491.5l1.5-.5-1.2-.6-1.6.6zM42.6 491.7l1.5-.6-1.2-.7-1.6.6zM87.8 491.9l1.5-.5-1.2-.5-1.6.5zM45.3 491.8l1.6-.5-1.2-.9-1.6.7zM90.6 492l1.5-.4-1.2-.6-1.6.4zM48.1 492.2l1.6-.4-1.2-1.1-1.6.6zM41 492.1l1.6-.4-1.3-.7-1.5.5zM86.2 492.3l1.6-.4-1.3-.5-1.5.4zM43.8 492.3l1.5-.5-1.2-.7-1.5.6zM89 492.4l1.6-.4-1.3-.6-1.5.5zM46.6 492.6l1.5-.4-1.2-.9-1.6.5zM42.2 492.7l1.6-.4-1.2-.6-1.6.4zM87.4 492.8l1.6-.4-1.2-.5-1.6.4zM45 492.9l1.6-.3-1.3-.8-1.5.5z"/><path fill="#13b0d7" stroke="#13b0d7" d="M44.1 491.1l1.6-.7-1.3-.8-1.5.8zM46.9 491.3l1.6-.6-1.3-1.2-1.5.9z"/><path fill="#416cfe" stroke="#416cfe" d="M63.3 497.3l1.5 0-1.2-.2-1.6 0zM66.1 497.3l1.5-.4-1.2.1-1.6.3z"/><path fill="#3a74fe" stroke="#3a74fe" d="M61.7 497.1l1.6.2-1.3-.2-1.5-.3zM64.5 497.3l1.6 0-1.3 0-1.5 0zM67.3 497.1l1.5-.4-1.2.2-1.5.4z"/><path fill="#327cfc" stroke="#327cfc" d="M68.8 496.7l1.6-.5-1.2.2-1.6.5zM58.9 496.5l1.6.3-1.2-.6-1.6-.3zM60.2 496.9l1.5.2-1.2-.3-1.6-.3zM62.9 497.3l1.6 0-1.2 0-1.6-.2zM65.7 497.2l1.6-.1-1.2.2-1.6 0z"/><path fill="#2e84f9" stroke="#2e84f9" d="M71.6 496l1.6-.7-1.2.1-1.6.8zM57.4 496.2l1.5.3-1.2-.6-1.6-.3zM70.1 496.5l1.5-.5-1.2.2-1.6.5zM68.5 496.9l1.6-.4-1.3.2-1.5.4zM61.4 497.1l1.5.2-1.2-.2-1.5-.2zM64.2 497.2l1.5 0-1.2.1-1.6 0zM67 497.1l1.5-.2-1.2.2-1.6.1z"/><path fill="#2d8bf4" stroke="#2d8bf4" d="M73.2 495.3l1.5-.8-1.2.1-1.5.8zM56.1 495.6l1.6.3-1.2-.9-1.6-.2zM58.6 496.6l1.6.3-1.3-.4-1.5-.3zM71.3 496.3l1.6-.5-1.3.2-1.5.5zM69.7 496.7l1.6-.4-1.2.2-1.6.4zM59.8 496.9l1.6.2-1.2-.2-1.6-.3zM62.6 497.2l1.6 0-1.3.1-1.5-.2zM65.4 497.2l1.6-.1-1.3.1-1.5 0z"/><path fill="#2b92ee" stroke="#2b92ee" d="M74.4 495.2l1.6-.6-1.3-.1-1.5.8zM54.6 495.3l1.5.3-1.2-.8-1.5-.2zM72.9 495.8l1.5-.6-1.2.1-1.6.7zM55.8 495.9l1.6.3-1.3-.6-1.5-.3zM57 496.4l1.6.2-1.2-.4-1.6-.3zM68.2 497l1.5-.3-1.2.2-1.5.2zM58.3 496.7l1.5.2-1.2-.3-1.6-.2z"/><path fill="#2699e9" stroke="#2699e9" d="M53.4 494.6l1.5.2-1.2-1-1.6 0zM76 494.6l1.5-.7-1.2-.2-1.6.8zM53 495.2l1.6.1-1.2-.7-1.6 0zM75.6 495.3l1.6-.6-1.2-.1-1.6.6zM74.1 495.8l1.5-.5-1.2-.1-1.5.6zM54.3 495.8l1.5.1-1.2-.6-1.6-.1zM72.5 496.3l1.6-.5-1.2 0-1.6.5zM55.5 496.2l1.5.2-1.2-.5-1.5-.1z"/><path fill="#249fe5" stroke="#249fe5" d="M50.6 493.8l1.5 0-1.2-1-1.5.3zM78.8 494.1l1.5-.6-1.2-.3-1.6.7zM51.8 494.6l1.6 0-1.3-.8-1.5 0zM77.2 494.7l1.6-.6-1.3-.2-1.5.7zM50.2 494.6l1.6 0-1.2-.8-1.6.2zM78.4 494.9l1.6-.6-1.2-.2-1.6.6zM51.5 495.2l1.5 0-1.2-.6-1.6 0zM76.9 495.4l1.5-.5-1.2-.2-1.6.6zM52.7 495.8l1.6 0-1.3-.6-1.5 0zM75.3 495.9l1.6-.5-1.3-.1-1.5.5z"/><path fill="#1fa5e2" stroke="#1fa5e2" d="M83.1 493.3l1.6-.5-1.3-.5-1.5.6zM46.2 493.6l1.6-.3-1.2-.7-1.6.3zM49 494l1.6-.2-1.2-.7-1.6.2zM81.5 493.8l1.6-.5-1.2-.4-1.6.6zM84.3 493.8l1.6-.5-1.2-.5-1.6.5zM44.7 493.9l1.5-.3-1.2-.7-1.6.4zM47.5 494.2l1.5-.2-1.2-.7-1.6.3zM80 494.3l1.5-.5-1.2-.3-1.5.6zM82.8 494.2l1.5-.4-1.2-.5-1.6.5zM45.9 494.5l1.6-.3-1.3-.6-1.5.3zM48.7 494.8l1.5-.2-1.2-.6-1.5.2zM81.2 494.7l1.6-.5-1.3-.4-1.5.5zM47.1 495l1.6-.2-1.2-.6-1.6.3zM79.6 495.2l1.6-.5-1.2-.4-1.6.6zM49.9 495.4l1.6-.2-1.3-.6-1.5.2zM78.1 495.7l1.5-.5-1.2-.3-1.5.5z"/><path fill="#1aabdd" stroke="#1aabdd" d="M85.9 493.3l1.5-.5-1.2-.5-1.5.5zM43.4 493.3l1.6-.4-1.2-.6-1.6.4z"/><path fill="#2b92ee" stroke="#2b92ee" d="M61.1 497.1l1.5.1-1.2-.1-1.6-.2zM63.8 497.2l1.6 0-1.2 0-1.6 0zM66.6 497.2l1.6-.2-1.2.1-1.6.1zM62.3 497.2l1.5 0-1.2 0-1.5-.1z"/><path fill="#2699e9" stroke="#2699e9" d="M71 496.7l1.5-.4-1.2 0-1.6.4zM56.7 496.7l1.6 0-1.3-.3-1.5-.2zM69.4 497l1.6-.3-1.3 0-1.5.3zM59.5 497l1.6.1-1.3-.2-1.5-.2zM65.1 497.3l1.5-.1-1.2 0-1.6 0zM67.8 497.3l1.6-.3-1.2 0-1.6.2zM60.7 497.3l1.6-.1-1.2-.1-1.6-.1zM63.5 497.4l1.6-.1-1.3-.1-1.5 0z"/><path fill="#249fe5" stroke="#249fe5" d="M73.8 496.4l1.5-.5-1.2-.1-1.6.5zM53.9 496.3l1.6-.1-1.2-.4-1.6 0zM72.2 496.8l1.6-.4-1.3-.1-1.5.4zM75 496.6l1.5-.5-1.2-.2-1.5.5zM55.2 496.7l1.5 0-1.2-.5-1.6.1zM57.9 497.1l1.6-.1-1.2-.3-1.6 0zM70.6 497.1l1.6-.3-1.2-.1-1.6.3zM73.4 497l1.6-.4-1.2-.2-1.6.4zM66.3 497.5l1.5-.2-1.2-.1-1.5.1zM56.4 497.2l1.5-.1-1.2-.4-1.5 0zM69.1 497.4l1.5-.3-1.2-.1-1.6.3zM59.2 497.4l1.5-.1-1.2-.3-1.6.1zM62 497.6l1.5-.2-1.2-.2-1.6.1zM64.7 497.7l1.6-.2-1.2-.2-1.6.1zM67.5 497.7l1.6-.3-1.3-.1-1.5.2zM60.4 497.8l1.6-.2-1.3-.3-1.5.1zM63.2 497.9l1.5-.2-1.2-.3-1.5.2z"/><path fill="#1fa5e2" stroke="#1fa5e2" d="M48.4 495.6l1.5-.2-1.2-.6-1.6.2zM51.1 495.9l1.6-.1-1.2-.6-1.6.2zM76.5 496.1l1.6-.4-1.2-.3-1.6.5zM49.6 496.1l1.5-.2-1.2-.5-1.5.2zM52.4 496.4l1.5-.1-1.2-.5-1.6.1zM50.8 496.7l1.6-.3-1.3-.5-1.5.2zM53.6 496.9l1.6-.2-1.3-.4-1.5.1zM71.9 497.4l1.5-.4-1.2-.2-1.6.3zM52 497.2l1.6-.3-1.2-.5-1.6.3zM54.8 497.4l1.6-.2-1.2-.5-1.6.2zM57.6 497.6l1.6-.2-1.3-.3-1.5.1zM70.3 497.7l1.6-.3-1.3-.3-1.5.3zM53.3 497.7l1.5-.3-1.2-.5-1.6.3zM66 498l1.5-.3-1.2-.2-1.6.2zM56 497.9l1.6-.3-1.2-.4-1.6.2zM68.7 498.1l1.6-.4-1.2-.3-1.6.3zM58.8 498.1l1.6-.3-1.2-.4-1.6.2zM61.6 498.2l1.6-.3-1.2-.3-1.6.2zM64.4 498.3l1.6-.3-1.3-.3-1.5.2zM54.5 498.2l1.5-.3-1.2-.5-1.5.3zM67.2 498.4l1.5-.3-1.2-.4-1.5.3zM57.3 498.4l1.5-.3-1.2-.5-1.6.3zM60.1 498.5l1.5-.3-1.2-.4-1.6.3zM62.8 498.7l1.6-.4-1.2-.4-1.6.3zM65.6 498.8l1.6-.4-1.2-.4-1.6.3zM55.7 498.7l1.6-.3-1.3-.5-1.5.3zM58.5 498.9l1.6-.4-1.3-.4-1.5.3zM61.3 499l1.5-.3-1.2-.5-1.5.3zM64.1 499.1l1.5-.3-1.2-.5-1.6.4zM56.9 499.2l1.6-.3-1.2-.5-1.6.3zM59.7 499.4l1.6-.4-1.2-.5-1.6.4zM62.5 499.5l1.6-.4-1.3-.4-1.5.3z"/><path fill="#1aabdd" stroke="#1aabdd" d="M58.2 499.8l1.5-.4-1.2-.5-1.6.3zM61 499.9l1.5-.4-1.2-.5-1.6.4zM59.4 500.3l1.6-.4-1.3-.5-1.5.4z"/></g><path d="M27.5 496.3L59.4 510.4L99.9 499.6" stroke="#8a8a8a" stroke-width="0.6" fill="none"/><text class="R" x="63.3" y="451.7" font-size="8.6" fill="#000">F24</text><text class="S" x="25.7" y="496.9" font-size="6.9" text-anchor="end" fill="#262626">2500</text><text class="S" x="25.7" y="486" font-size="6.9" text-anchor="end" fill="#262626">3000</text><text class="S" x="25.7" y="474.8" font-size="6.9" text-anchor="end" fill="#262626">3500</text><text class="S" x="19.6" y="504.3" font-size="6.9" fill="#262626">100</text><text class="S" x="38.5" y="511" font-size="6.9" fill="#262626">0</text><text class="S" x="49.3" y="518.1" font-size="6.9" fill="#262626">−100</text><text class="S" x="68.1" y="517.7" font-size="6.9" fill="#262626">−100</text><text class="S" x="83.9" y="512.8" font-size="6.9" fill="#262626">0</text><text class="S" x="108.7" y="507.8" font-size="6.9" fill="#262626">100</text><path d="M142.4 15.3V70.3M158.8 15.3V70.3M175.3 15.3V70.3M191.7 15.3V70.3M135.5 56.4H207.5M135.5 42.5H207.5M135.5 28.6H207.5" stroke="#e1e1e1" stroke-width="0.7" fill="none"/><text class="R" x="171.5" y="11.9" font-size="8.6" fill="#000">Search history 2D</text><text class="S" x="142.4" y="79.4" font-size="6.9" fill="#262626">−100</text><text class="S" x="158.8" y="79.4" font-size="6.9" fill="#262626">−50</text><text class="S" x="175.3" y="79.4" font-size="6.9" fill="#262626">0</text><text class="S" x="191.7" y="79.4" font-size="6.9" fill="#262626">50</text><text class="S" x="133.3" y="73.1" font-size="6.9" text-anchor="end" fill="#262626">−100</text><text class="S" x="133.3" y="59.2" font-size="6.9" text-anchor="end" fill="#262626">−50</text><text class="S" x="133.3" y="45.3" font-size="6.9" text-anchor="end" fill="#262626">0</text><text class="S" x="133.3" y="31.4" font-size="6.9" text-anchor="end" fill="#262626">50</text><path d="M180.5 68.2h0M200.1 22.1h0M191.3 44.6h0M151.7 40.2h0M157.1 52.6h0M198.4 29h0M135.9 68.9h0M194.6 49.8h0M192.9 68.6h0M169.2 63.5h0M157.3 17.1h0M155.5 34.1h0M153.9 46.7h0M167.5 41.5h0M171.8 22.3h0M175.4 51.4h0M207.2 37.8h0M192.6 32.7h0M180.3 50.8h0M206.7 41.7h0M151 28.2h0M147 20.3h0M179.6 62h0M138.7 19h0M172.6 28.9h0M169.1 25.7h0M201.5 62.8h0M180.8 47.3h0M172.5 25.5h0M171.3 69.5h0M153.3 35.7h0M136.3 26.7h0M149.4 42.1h0M185.3 30.4h0M149.9 57.8h0M162.1 59.4h0M195.3 60.4h0M146.6 51.3h0M154.8 18.2h0M198.9 38.8h0M172.2 51.6h0M196.5 55.4h0M181.6 17.9h0M188.9 45.9h0M142.1 16.4h0M174.5 41.9h0M172.1 41.6h0M198.2 21h0M161.5 29.4h0M178.6 38.4h0M139.8 46.8h0M163.4 22h0M158.8 47.7h0M146.3 19.5h0M194.3 66.5h0M162.8 46.7h0M206 41.7h0M178 18h0M179.1 56.5h0M181.4 26h0M184.2 33.1h0M146.4 30.9h0M167.2 35.7h0M152.7 16.9h0M164.5 52h0M142.5 48.4h0M205.2 59.1h0M151 67.5h0M183.9 58.6h0M157.1 19.9h0M198.4 24.1h0M183.2 64.1h0M145 37.1h0M196.3 43.9h0M203.5 37.6h0M200.6 34h0M176.5 53.4h0M146 17.4h0M149.4 44.7h0M202.3 35.8h0M175.3 35.4h0M148.5 60.2h0M199.2 66.9h0M181.7 47.7h0M176.5 28.3h0M162.6 25.5h0M165.1 30.2h0M152.7 64.1h0M170.6 69.7h0M168.2 67.6h0M168 69h0M155.1 62.8h0M177.2 70h0M140.5 62h0M136.7 60.9h0M141.7 64.6h0M145.5 63.5h0M144 66.7h0M159.2 68h0M137.8 61.8h0M157.4 64.7h0M143 62.2h0M163.8 69.6h0M140.7 61.8h0M154 61.1h0M174.1 66.4h0M156.2 64.8h0M169.1 68.6h0M161.5 64.1h0M159.2 66.4h0M144.1 64.6h0M157 66.7h0M139.7 57.7h0M168.6 66.1h0M176 65.2h0M170.5 68h0M136.6 58.9h0M147.7 64.5h0M148.7 63.3h0M139.6 55.9h0M162.4 63.6h0M168.7 67.7h0M145.6 63.1h0M171.6 66.3h0M165.2 63.9h0M140.1 62.6h0M166.7 67.8h0M144.7 62h0M160.1 64.6h0M161.9 62.4h0M160 64.4h0M139.4 59.5h0M160.7 68h0M161.3 63.4h0M168.3 62.1h0M169.2 64.9h0M146.5 62.5h0M166.3 65.7h0M171.9 63.1h0M172.2 69.3h0M141.9 62h0M139 59.8h0M158.4 63.8h0M146.4 63.2h0M159.9 64.1h0M175.4 68.3h0M152.8 63.2h0M145 62.8h0M154.3 66.5h0M164.7 65.6h0M141.7 59.4h0M152.4 65.6h0M137.9 62.1h0M164.7 64.1h0M173.1 69.2h0M154.4 63h0M152.1 65.7h0M154.2 62.1h0M147.7 57.1h0M146.1 57.9h0M143.2 63.5h0M156 62.4h0M135.9 60.9h0M163.5 66h0M158.2 61.5h0M152 65.8h0M138.6 58.8h0M168.1 66.4h0M146.4 58.4h0M146.1 61.2h0M141.5 63.1h0M139.1 60.6h0M169.8 65.7h0M145.5 62.5h0M150 61.8h0M171.2 68h0M161.8 70h0M146.7 60h0M152 62.3h0M172.1 66.9h0M153.6 63.2h0M166.8 63.6h0M143.2 62.3h0M166.9 67.6h0M167.1 66.8h0M170.8 64.1h0M161.1 68.7h0M147.2 60.7h0M140.6 62.5h0M157.3 66.9h0M167.9 63.5h0M139.7 62.2h0M146.3 65.5h0M156.6 65.4h0M164.5 64.1h0M166.8 64.7h0M140.7 62.5h0M146.3 61.1h0M169.8 65h0M161 66.8h0M165.6 65.2h0M178.8 68.1h0M167.2 68.8h0M170.2 68h0M169.3 66.3h0M154.3 63.5h0M166.9 66.6h0M146.9 62.9h0M168 63.8h0M167.9 65.8h0M167.7 64h0M153.1 61.2h0M151.7 62.1h0M155.8 58.7h0M143 62.7h0M170.2 65.1h0M158.3 65.4h0M152.7 59.4h0M162.2 60.9h0M155.8 65.6h0M167.5 65.3h0M173.2 65.7h0M151.6 61.8h0M144.1 61.8h0M170 65.3h0M172.7 66.6h0M140.1 61.9h0M166.2 63.6h0M169.7 66.1h0M144.2 63.8h0M141.5 59.1h0M177.7 68.5h0M140 63.4h0M146.3 61.1h0M159.1 66.9h0M157.4 66h0M164.4 69.7h0M141.9 62.1h0M174 66.3h0M143.4 59.9h0M169.4 66.7h0M139.9 58.8h0M153.2 64.1h0M138 61h0M148.3 61.7h0M151.5 60.6h0M163.9 66.7h0M153.7 64.5h0M142 61.4h0M182.6 67.9h0M177.7 69.2h0M173.7 65.2h0M147 63.3h0M156.5 62.5h0M145.3 64.1h0M139 60.7h0M138.1 60h0M158 65.3h0M139.3 57h0M139.3 61.1h0M167.5 63.1h0M157.8 62.1h0M141.9 63.4h0M163.2 66.5h0M147.8 61.6h0M159.4 64.4h0M147 62.6h0M158.7 65.1h0M159.6 69.3h0M157.2 65.1h0M149.8 68.5h0M171.4 65.7h0M171.7 68.7h0M141.8 63.5h0M141.1 62.1h0M140.5 60.8h0M143.1 64.7h0M151.6 64.3h0M159.5 60.8h0M156.3 66.7h0M175.4 66h0M143.5 63.9h0M148.6 62.3h0M159.8 65.8h0M142.4 61.2h0M147.4 61.1h0M157.1 60.2h0M170.8 66.8h0M172.3 66h0M174.5 69h0M168.8 65h0M166.9 66.4h0M165.5 65.1h0M165.7 65.8h0M165.7 62.2h0M149.8 67.2h0M145.1 62.5h0M166.2 64.3h0M138.7 62.6h0M174.6 69.2h0M158.7 65.6h0M148.9 66.1h0M172.8 67.3h0M141.9 56.3h0M151.2 61.9h0M143.4 63.7h0M176.2 69.8h0M162.7 65.8h0M174.2 64.4h0M147.9 64.5h0M164.2 68.1h0M162.6 63.9h0M159.3 63.5h0M173.6 68.5h0M154.2 66.3h0M148 67.1h0M165.4 67.3h0M150.8 61.4h0M163.3 67h0M144.1 61.1h0M158.6 60.6h0M166.2 63.7h0M137.5 63.6h0M161.5 64.1h0M137 58.1h0M180.1 69.4h0M160.6 66.2h0M156.5 63.9h0M167.5 69.5h0M155.9 61.2h0M139.8 63.7h0M159.1 65.4h0M158.3 65.3h0M174.4 67.2h0M136.9 60.3h0M154.6 64.4h0M159.2 62.8h0M157.8 69.5h0M145.5 61.1h0M160.3 66.6h0M144.8 61.9h0M145.8 61.6h0M173.9 69.2h0M141.6 63.5h0M154.3 62.2h0M169.2 65.4h0M165.8 67.4h0M159.2 60.2h0M173.2 61.5h0M153.5 67.3h0M161.8 64.6h0M168.2 61.1h0M167.8 63.9h0M157.3 64.9h0M151.1 64.1h0M157.7 66h0M154.2 64h0M168.2 67.4h0M155.5 61.8h0M151.2 65h0M169 67.2h0M156.1 67h0M148.4 63.2h0M171.3 68.8h0M149.5 63.8h0M165.2 64.6h0M167.3 65.7h0M150.6 62.8h0M163.6 65.1h0M138.9 60.7h0M153.1 63.8h0M175.5 67.7h0M159.4 63.2h0M155 67.2h0M161.4 62.6h0M161.5 65.6h0M156.9 66.6h0M154.6 64.8h0M142.2 63.5h0M143.1 62.4h0M150.2 64.4h0M153.6 61.3h0M177.8 69.8h0M151 68.3h0M156.2 65.6h0M151.6 67.8h0M163.2 65h0M175.9 65.3h0M173.5 65.8h0M152.8 66.4h0M143.4 64.3h0M171.8 63.3h0M155.8 63.6h0M164.8 65.7h0M135.9 58.8h0M175.8 61.6h0M149.4 60h0M153.3 64h0M140 61.3h0M152.7 62.4h0M169.7 68.1h0M168.1 69.1h0M155.9 64h0M165.9 68.4h0M156.5 64.1h0M149.7 63.2h0M158.5 59.5h0M147.2 64h0M156.1 63.2h0M162.9 64.6h0M166.1 66.6h0M169.3 66.5h0M161.2 64.2h0M159.5 64h0M155.1 62.2h0M158.9 64.4h0M166.6 62.9h0M164 61.9h0M158.4 64.9h0M161.8 68.6h0M163.9 67.9h0M166.4 68.5h0M160.7 61.8h0M162.5 67.2h0M154.2 62.6h0M157.7 64h0M172.3 61.5h0M152.3 63.1h0M162 65.5h0M164.9 65.7h0M161.8 65.1h0M159.5 64.9h0M163.5 66.5h0M163.7 65.4h0M163.3 61.7h0M153.9 69.1h0M163 64.7h0M159.3 67.3h0M160.9 64.9h0M165 63.4h0M167.1 65.4h0M168.5 63.6h0M161.2 68.8h0M168.6 62.8h0M169.9 66.6h0M169.8 63.9h0M171.1 64.9h0M162.9 67h0M168.1 64.8h0M156.6 61.8h0M164.9 64.7h0M161 64.7h0M161.8 68.4h0M154.6 62.1h0M159.1 61.3h0M163.7 65.2h0M168.4 65.8h0M169 68.9h0M163.4 63.3h0M162.8 59.3h0M159.4 63.7h0M165.9 62.5h0M162.5 64.1h0M167 67.5h0M173 62.3h0M163.6 68h0M155.9 65.8h0M159.2 64.7h0M156.1 63.3h0M157.5 64.4h0M170.6 64.4h0M165 67h0M155.8 68.2h0M167.2 65.2h0M170.4 66.9h0M161.9 68.2h0M160.2 68.1h0M162 66.4h0M165.3 69.4h0M167.1 68.3h0M170 68.9h0M170.2 64.9h0M170 64.4h0M170.9 60.8h0M167.3 68.6h0M155.7 66.8h0M163.1 63.3h0M165.4 65.8h0M161.8 66h0M168.6 61.5h0M161.9 66.1h0M158.9 67.9h0M171.4 68.2h0M167.3 64.6h0M164.9 64.6h0M168.6 68.3h0M169.4 67.5h0M165.6 64.1h0M150.8 64h0M160.2 66.7h0M161.4 63.9h0M158.6 64h0M164.8 69.3h0M170 66h0M161.2 64.4h0M157.8 66.6h0M161.4 65.9h0M157.3 63.6h0M165 61.8h0M160.1 59.5h0M167.9 67.8h0M161.2 63.2h0M158.9 62.6h0M164.7 63.1h0M167.8 65h0M160.4 67.9h0M165.5 63.9h0M163.3 66.9h0M160 59h0M171.1 63.7h0M163.5 61.3h0M163.1 67.3h0M167.6 62h0M168.5 61.8h0M170.4 61.8h0M158.7 52h0M158.8 55.6h0M156.6 53.7h0M157.7 47.4h0M157 58.8h0M159.7 50.8h0M161 49.5h0M159.6 54.2h0M158.2 49.8h0M160.4 54.5h0M156.4 54.3h0M160.5 53.6h0M157.5 57.4h0M154.7 57.1h0M161.9 53.9h0M160.9 46.3h0M157 53.4h0M158.6 55.9h0M158.5 45.8h0M158.4 58.2h0M156.9 46.3h0M157.8 45.6h0M159.2 52.7h0M158.8 52.9h0M159.9 55.3h0M158.4 57.9h0M161.3 57.5h0M157.5 53.8h0M158.8 55.2h0M156.3 47.2h0M156.9 53.7h0M160.6 47.6h0M157.4 51h0M159 58h0M158.5 52.4h0M156.9 57.1h0M157.8 60.8h0M158.1 45.2h0M157.8 54h0M159.3 56.4h0M159.1 58.8h0M157.9 51.3h0M157.3 53.1h0M158.6 59.1h0M158.5 52.3h0M163 55h0M170.3 57.6h0M154.3 56.1h0M163.8 53.4h0M161.7 53.6h0M160.1 55.3h0M165.1 56.5h0M156.5 55h0M161 58.8h0M165.4 58h0M159.8 53.2h0M159.1 56.1h0M160.9 54.2h0M159 52.2h0M165.7 53.5h0M157.4 55h0M163.4 50.2h0M156.3 53.5h0M162.7 55.8h0M160.1 53.3h0M151.8 54.1h0M160.5 57h0M156.9 54.9h0M159 55.4h0M165.7 59.5h0M156.7 55.4h0M156.9 55.7h0M165.4 56h0M160.9 58.8h0M165.7 55.8h0M161.6 55.1h0M157.5 54.8h0M160.3 57.6h0M164.6 53.6h0M163.7 57.8h0M160.5 55.5h0M160.7 52h0M160.1 56.6h0M158.5 56.2h0M167 52.6h0M174.2 63h0M174.5 60.7h0M175.9 62.9h0M178.1 63h0M169.3 63h0M173 62.7h0M172.6 62h0M172.3 62.4h0M173 60.8h0M173 62.3h0M176.1 61.3h0M172.9 62.3h0M175.6 62h0M176.4 63.7h0M173.3 62.6h0M175.6 62.6h0M179.7 62.7h0M176.1 64.3h0M173.6 61.8h0M175.1 62.8h0M172.8 62.9h0M176 62.7h0M177.6 62.7h0M173.1 62.2h0M174.7 63.6h0M178.3 63.3h0M173.9 62.3h0M175.8 62.4h0M172.5 62.8h0M173.1 63h0" stroke="#000" stroke-width="1.5" stroke-linecap="square" fill="none"/><rect x="135.5" y="15.3" width="72" height="55" fill="none" stroke="#808080" stroke-width="0.8"/><path d="M145.2 103.3V158.3M161 103.3V158.3M176.7 103.3V158.3M192.4 103.3V158.3M135.5 144.5H207.5M135.5 130.7H207.5M135.5 116.8H207.5" stroke="#e1e1e1" stroke-width="0.7" fill="none"/><text class="R" x="171.5" y="99.9" font-size="8.6" fill="#000">Search history 2D</text><text class="S" x="145.2" y="167.4" font-size="6.9" fill="#262626">−100</text><text class="S" x="161" y="167.4" font-size="6.9" fill="#262626">−50</text><text class="S" x="176.7" y="167.4" font-size="6.9" fill="#262626">0</text><text class="S" x="192.4" y="167.4" font-size="6.9" fill="#262626">50</text><text class="S" x="133.3" y="147.3" font-size="6.9" text-anchor="end" fill="#262626">−50</text><text class="S" x="133.3" y="133.5" font-size="6.9" text-anchor="end" fill="#262626">0</text><text class="S" x="133.3" y="119.6" font-size="6.9" text-anchor="end" fill="#262626">50</text><text class="S" x="133.3" y="105.8" font-size="6.9" text-anchor="end" fill="#262626">100</text><path d="M195.9 153h0M153.9 107.2h0M142.2 112.4h0M177.7 150.4h0M171.4 125.7h0M170 127.7h0M191.8 120.1h0M168.8 141.4h0M171.3 137.2h0M170.6 145.1h0M168.2 142.2h0M164.7 148.6h0M147.1 108.6h0M156.8 109.5h0M154.6 138.5h0M153.4 120.2h0M191.9 131.3h0M143.7 142.9h0M150.3 139.1h0M173.4 105.2h0M158 139.5h0M152.8 126.5h0M162.4 106.3h0M171.6 141.9h0M184.1 113.8h0M205.5 152h0M196.9 118h0M166.5 113.9h0M168 112.2h0M165.4 104.7h0M152.7 119.2h0M204 104.6h0M140.4 143h0M150.3 129.6h0M183.2 146.5h0M177.9 153.7h0M155.6 134.2h0M203 118.7h0M165 115.5h0M178.4 157.4h0M142.1 106.5h0M199.6 144.7h0M142.9 142.2h0M163.9 112.5h0M199.3 109.1h0M203.5 117.8h0M200.6 140h0M195.1 132.8h0M152.3 112.4h0M137.8 138.6h0M168 114h0M140 115.3h0M204.7 132.5h0M136.1 109h0M158.9 137.2h0M150.1 117.1h0M136.5 123.1h0M171.4 140.1h0M141 129.1h0M200.3 125h0M185 128.8h0M162.1 152.2h0M196.1 103.8h0M192.9 105.1h0M159 156.2h0M196.5 106.4h0M202.4 129.1h0M180.1 151.4h0M160.8 113.2h0M200.3 134.5h0M203.4 119.1h0M160.5 112.8h0M141.7 128.7h0M198 155.6h0M183.4 113.1h0M152.2 120.1h0M176.3 108.2h0M157.7 143.4h0M201.7 115.1h0M160.1 110.3h0M149.6 138.8h0M138.6 135.7h0M160.2 139.9h0M206.7 158h0M151.2 145.6h0M168.5 140.1h0M205.5 152.3h0M136 116.2h0M156.7 134.8h0M194.6 127h0M163.6 122.4h0M167.9 126.6h0M162 125h0M168.3 124.4h0M166.4 128h0M165.7 127h0M164.6 127.6h0M164 131.2h0M163.2 123.9h0M163.1 133.2h0M167.2 122.5h0M159.2 126.4h0M171.2 125.5h0M161.3 131.7h0M167.2 127.5h0M161.4 127.2h0M160.6 126.6h0M172.8 123.5h0M160.3 125.8h0M155.1 133.4h0M158.1 129.4h0M160.2 135h0M173.4 121.5h0M163 127.7h0M166.9 128.3h0M156.6 126.6h0M163.8 125.5h0M165.5 137.4h0M171.5 124.8h0M158.2 135.4h0M165.1 123.6h0M163.5 119.2h0M156.4 132.7h0M161.8 128.5h0M160.5 130.2h0M149.5 132.3h0M165.1 125.2h0M164.8 123h0M159.6 133.2h0M154.8 125.9h0M169.8 129h0M163.3 127.2h0M167.3 122.5h0M169.4 123.2h0M159.1 133.2h0M166.3 129.6h0M160.6 130.9h0M161.6 129h0M161.5 124.8h0M161.9 133.4h0M167.9 124.7h0M162.6 126.3h0M161.1 127h0M160.4 127.6h0M163.7 122.6h0M157.1 128.8h0M159.2 126.7h0M161.6 126.8h0M158.9 123.5h0M161.3 135.8h0M158.6 125.4h0M172.6 125.5h0M169 127h0M164.3 131.3h0M161.6 135.5h0M173.6 125.6h0M163.6 130.5h0M161.4 127.1h0M163.5 133.4h0M163.5 123h0M169.4 124.8h0M161.8 129.7h0M173.1 126.9h0M157.2 133.4h0M165.6 131.3h0M156.6 132.8h0M171.6 124.9h0M160.1 130h0M161.6 133.9h0M166.9 127.8h0M168.6 129.3h0M156 130.5h0M160.1 122.8h0M154.5 129.4h0M162.6 129.6h0M161.4 134.8h0M160 134.5h0M158.3 136.2h0M159.8 126.9h0M157.9 133h0M164.7 127.4h0M170 127.8h0M151.6 132.4h0M161.3 123.9h0M159.7 132.1h0M164.5 128.9h0M156.8 133.6h0M161.1 125.9h0M156.4 134.6h0M165.6 131.4h0M162.4 133.5h0M161 134.1h0M163.9 126.3h0M160.6 120h0M153.6 135.5h0M165.1 124.1h0M163.5 127.2h0M161.1 133h0M167.2 127.7h0M168.4 127h0M156.1 133.5h0M157.7 123.4h0M170.2 132.4h0M169.5 124.4h0M158 129.1h0M155.6 133.3h0M158.5 129.5h0M159.2 126.6h0M153.4 131.5h0M162.1 127.2h0M155.1 128.9h0M155.4 138.5h0M166.8 121.5h0M158.3 122h0M161.5 125.4h0M165.3 123.8h0M166.3 132.1h0M160.1 129.9h0M162.1 131.6h0M157.5 132.5h0M171.3 121.6h0M165.4 130.3h0M156 131.5h0M161.9 135.6h0M165.7 127.8h0M164.5 127.4h0M171.7 127.5h0M169.2 128.5h0M159 123.1h0M161.4 133.3h0M155.1 135.2h0M163.2 131.1h0M162.7 124.1h0M176.4 115.6h0M162.4 127.3h0M150.7 135.6h0M158.3 131.7h0M162.5 124.7h0M155.2 134.6h0M157.3 125.3h0M160 124.4h0M163.7 127.8h0M161 126.8h0M157.2 127.9h0M166.1 121.5h0M159 133.6h0M159.2 125.5h0M154.5 132.9h0M157.7 133.1h0M165.4 127h0M153.3 132.8h0M161.5 132.4h0M165.7 133h0M159.9 132.9h0M163.2 123h0M155.9 124h0M168.9 123.7h0M167.8 122.2h0M163.2 130.1h0M152.5 132.6h0M156.3 129.9h0M167.1 130.6h0M171.1 128.7h0M163.5 127.8h0M168.6 127.3h0M158.7 133.8h0M160.9 127.7h0M161.9 129.7h0M164.2 124.2h0M153.7 131.9h0M166.9 127.9h0M169 125.5h0M155.8 131.7h0M154.7 133.9h0M163.8 129.4h0M158.4 127.4h0M149.2 131.3h0M166.2 122.4h0M162.7 134.5h0M159.4 131.1h0M173.2 125.8h0M162.7 127.8h0M157.9 131.9h0M162.5 130.4h0M156.4 128.1h0M157.8 129.7h0M164 132.1h0M158.9 125.1h0M159.5 126.1h0M170.8 127.3h0M166.5 124h0M166.2 129.7h0M164.7 123.6h0M164.5 128.5h0M169.7 128.6h0M161.8 130.1h0M171.8 127.6h0M156.8 130h0M160.5 128.6h0M154.5 131.5h0M160.1 131.4h0M164.7 140.8h0M169.7 125.4h0M158.4 136.9h0M161.9 127.8h0M160 125.4h0M158 129.3h0M155.6 132.6h0M162.2 129.2h0M152.7 132.8h0M162.5 130.5h0M162 130.8h0M158.4 133.4h0M156.5 126.6h0M154.5 131.7h0M171.9 121.4h0M154.7 132.4h0M170.2 125.2h0M165.1 128.1h0M160 127.8h0M155.7 128.2h0M167.5 125.7h0M171.2 127.6h0M156.9 133.5h0M160.3 123.4h0M167.5 127.6h0M163.7 129.1h0M172.6 119.3h0M158.9 126h0M164.8 125.7h0M155.2 132.8h0M173.1 115.9h0M158 128.8h0M150.1 131.3h0M161.2 129.6h0M161.2 134.1h0M172.1 129.5h0M160.1 128h0M161.8 127.3h0M165.1 128.4h0M172.1 113.5h0M171.2 114h0M174.7 118.5h0M171.2 111.6h0M178.6 108.5h0M179.4 110.8h0M184.6 103.7h0M178.5 105.1h0M173.9 117.2h0M173 109.8h0M164.9 114.6h0M173.9 111.6h0M175.2 109.4h0M178.8 113.8h0M177.7 113.8h0M177.6 114.6h0M176.4 114.8h0M177.8 112h0M180.3 115.8h0M172.4 117.2h0M174.3 110.9h0M171.4 114.2h0M180.8 109.4h0M179.8 117.5h0M178.1 114.3h0M172 115.6h0M176.3 112.1h0M175 114.7h0M176 109.1h0M175.2 112.8h0M177.4 111.8h0M174.5 112.8h0M178.4 109.1h0M176.5 113.8h0M174.8 108.9h0M175.4 111h0M174.4 112.4h0M178.3 111.4h0M174.9 110.9h0M176.7 108.6h0M174.5 109.6h0M171.1 112.7h0M178.6 108.4h0M172.4 113.2h0M177.9 107.4h0M177.1 112.1h0M170.5 121.3h0M172.8 108.9h0M174.1 112.6h0M173.2 117.3h0M172 114.4h0M178.1 114.7h0M175 105.5h0M177 110.3h0M174.4 118.3h0M176.7 110.2h0M173.4 114.6h0M175.7 105.9h0M177.6 115.4h0M175.9 120.1h0M174.3 112.7h0M172.3 114.8h0M176.3 113.7h0M176.8 119.4h0M174.9 111.2h0M173.3 107.5h0M177.5 118.4h0M183.5 105.7h0M174.8 114.7h0M176.8 104h0M176.9 110.5h0M167.7 115.8h0M176.1 108.5h0M173.5 111.4h0M180.1 113h0M174.9 110.3h0M173.3 115h0M175.1 118.8h0M176.3 105.3h0M174 114.2h0M175.6 114.6h0M171.5 112.7h0M175 118h0M178.2 116.2h0M181.9 112h0M178 113.4h0M176.6 111.9h0M179.5 107.3h0M178.9 112.9h0M181 108.9h0M179.1 109.2h0M175.4 116.3h0M176.6 111.4h0M176.3 115.5h0M176.7 108.4h0M176.4 110.6h0M173.3 113.2h0M169.1 119.3h0M173.6 112.7h0M169.4 117.2h0M153.5 135.5h0M151.2 135.9h0M149.2 132.1h0M154.2 134.2h0M153.6 138.6h0M149.9 135.5h0M154.8 138h0M150.7 141.5h0M150.7 130.1h0M151.9 136h0M149.4 135.9h0M150.3 136h0M151.1 132.2h0M155.9 134.4h0M155.8 131.8h0M150.8 140.2h0M156.1 138.9h0M151.4 133.1h0M152.6 132.4h0M154 134.5h0M152.4 136h0M158.4 133.6h0M152.2 138.6h0M148.1 134.2h0M155.2 133.6h0M150.4 136.1h0M150.7 136.3h0M143.1 137.7h0M154.4 134.4h0M153.9 133.9h0M153.8 139.3h0M154.3 134.4h0M156.3 128.9h0M151.4 138.5h0M154.2 136.2h0M149.4 135.4h0M150.5 134.8h0M154.5 134h0M152.6 141.1h0M147.8 137.2h0M152.6 139.9h0M151 139.5h0M149.2 136.5h0M152.8 137.3h0M150.4 135.3h0M147.1 130.2h0M148.4 136.2h0M156.5 132.9h0M147.2 141.4h0M152.2 138.5h0M153.3 139.2h0M153.3 137.7h0M148.1 141.6h0M150.6 139.2h0M151.9 137.4h0M153.8 138.8h0M149.7 141.8h0M148.2 142.2h0M154.4 134.5h0M154.7 135.5h0M152.6 133.7h0M149.8 134.8h0M152.7 137.5h0M151.8 135h0M153.9 140h0M148 132.2h0M151.9 133.5h0M151.1 137.8h0M148.4 141.6h0M152.1 135.7h0M151.6 142.2h0M150.4 139.7h0M152.7 134.5h0M147.5 138.5h0M151.4 138.5h0M152.8 133.8h0M152.3 139.6h0M154.6 134.9h0M148.1 139.9h0M147.3 141.2h0M162.8 128.6h0M160.3 130.7h0M157.4 128.2h0M161.2 126.4h0M161.4 130.1h0M165 129.9h0M159.8 136.8h0M156.7 137.7h0M171.5 121.4h0M160.7 131.1h0M167.7 122.9h0M163 115.2h0M159.1 126.9h0M157.2 136.6h0M170.6 124.3h0M165.3 127.1h0M160.5 131.6h0M166.7 119.4h0M160.3 133.9h0M152 136.2h0M157.3 137.5h0M158.1 132.9h0M162.9 126.4h0M166.2 126.9h0M156.6 141.5h0M154.5 134.8h0M161.3 126.7h0M165.6 135.8h0M161.6 130.2h0M167.3 124.3h0M173.6 126.4h0M173.1 126.6h0M166.3 128.6h0M154.8 139.5h0M152.3 137.3h0M161.2 128.9h0M162.5 119.7h0M158.4 137h0M156 135.5h0M162.1 132.9h0M157.5 134.2h0M154.7 138.2h0M157.2 136.2h0M158.1 135.7h0M156.8 138.9h0M168.3 132.9h0M161.9 132.4h0M168.2 120h0M162.3 130h0M171.8 125.2h0M159.5 132.5h0M166.9 120.4h0M159.5 131.1h0M164.3 129.7h0M167.6 120.9h0M161.2 134.3h0M159.2 134.2h0M161.7 128.9h0M157.4 138.3h0M157 127.3h0M152.8 136.6h0M161.9 135.7h0M155.4 124.8h0M167.7 120h0M172.6 117.1h0M152.4 138.8h0M163.8 141.7h0M153.9 127.4h0M165.3 135h0M164.6 133.3h0M169.3 124.7h0M164.7 127h0M163.9 129.9h0M161 123.6h0M165.7 135.3h0M161.3 123.9h0M168.3 114.8h0M172.6 120.6h0M166.5 120.1h0M166.8 120.5h0M155.4 133.1h0M156.7 134.3h0M170.3 123.9h0M159.3 134.7h0M158.8 126.2h0M153.9 138.8h0M154.2 134.3h0M158 133.2h0M154.6 138.7h0M158.2 133.4h0M160.1 137.4h0M165.8 122.9h0M161.7 134.1h0M159.6 135.7h0M169.7 119.4h0M161.1 129.1h0M152.4 143.1h0M153.2 132.8h0M165.5 129.7h0M159.5 134.8h0M164.1 135.2h0M167.9 126.7h0M162.4 129.6h0M157.1 136.3h0M164 128.6h0M164 121.6h0M158.4 145.7h0M160.8 134.5h0M155.8 132.8h0M166.1 125h0M158.3 143.1h0M160.1 127.2h0M155.7 137.3h0M168.9 120.2h0M165.9 122h0M153.2 138.9h0M166.6 121.1h0M159 124.2h0M159.6 132.6h0M165.1 120.1h0M151.4 148.6h0M147.3 143h0M151.2 146.2h0M147.3 151.8h0M149.2 150.6h0M145.8 141.6h0M150.1 140.6h0M148.1 145.3h0M151 138.2h0M149.8 140.8h0M146.1 150.4h0M150.1 147.3h0M150.8 142h0M148.1 152.9h0M150.4 145.1h0M148.9 151.4h0M148 150.9h0M145.9 150.3h0M146.5 145.4h0M150 151.4h0M150.3 145.2h0M149.3 144.9h0M146.5 154.5h0M149.4 142.1h0M148.8 146h0M161 120.4h0M160.9 116.3h0M158.8 120.1h0M157.9 119.9h0M157 120h0M159.6 120.8h0M160.7 118.9h0M158 119.6h0M159.2 116.9h0M156.8 118.6h0M153.4 118.7h0M154.7 120h0M160.2 122h0M159.2 119.8h0M162.8 121h0M158 118h0M160.5 119.7h0M162 116.8h0M160.9 118.4h0M155.9 118.2h0M157.2 119.2h0M158.2 119.3h0M154.7 118.5h0M159.3 118.1h0M161 120.8h0" stroke="#000" stroke-width="1.5" stroke-linecap="square" fill="none"/><rect x="135.5" y="103.3" width="72" height="55" fill="none" stroke="#808080" stroke-width="0.8"/><path d="M153.6 191.3V246.3M171.7 191.3V246.3M189.8 191.3V246.3M135.5 232.3H207.5M135.5 218.7H207.5M135.5 205H207.5" stroke="#e1e1e1" stroke-width="0.7" fill="none"/><text class="R" x="171.5" y="187.9" font-size="8.6" fill="#000">Search history 2D</text><text class="S" x="153.6" y="255.4" font-size="6.9" fill="#262626">−50</text><text class="S" x="171.7" y="255.4" font-size="6.9" fill="#262626">0</text><text class="S" x="189.8" y="255.4" font-size="6.9" fill="#262626">50</text><text class="S" x="207.9" y="255.4" font-size="6.9" fill="#262626">100</text><text class="S" x="133.3" y="248.8" font-size="6.9" text-anchor="end" fill="#262626">−100</text><text class="S" x="133.3" y="235.1" font-size="6.9" text-anchor="end" fill="#262626">−50</text><text class="S" x="133.3" y="221.5" font-size="6.9" text-anchor="end" fill="#262626">0</text><text class="S" x="133.3" y="207.8" font-size="6.9" text-anchor="end" fill="#262626">50</text><path d="M148.3 215.1h0M169.6 210.8h0M153.8 228.6h0M199.8 236.7h0M148.4 205.4h0M205.2 201.2h0M197.4 235h0M163.1 240.1h0M191.1 226.9h0M177.3 211.9h0M169 226.2h0M194 193.3h0M195.3 202.8h0M150 195.9h0M200.7 213.3h0M137.8 204.7h0M135.9 194h0M170.3 244.3h0M157.2 214.7h0M165.9 236h0M170 202.6h0M169.2 233.5h0M200.9 205.5h0M201.6 228h0M160.4 210.5h0M156.2 209h0M182.6 196.3h0M149.8 198.3h0M164.3 222.2h0M187.2 208.4h0M135.9 236.3h0M191.1 240.9h0M188.3 207h0M163.4 196.4h0M153.3 205.2h0M174.4 217.9h0M156.8 211.7h0M194.6 206.1h0M178 215h0M157.6 226.3h0M193.7 199.5h0M179.2 226h0M145 196.6h0M165.3 202.3h0M170.8 202.7h0M203.5 200.4h0M158.6 192h0M167.8 191.9h0M205.8 218.7h0M166.2 225.5h0M195.1 206h0M142.5 193.1h0M163.9 211.6h0M148.7 244.9h0M199.1 244.2h0M175.3 220.8h0M151.2 203h0M142.1 197.5h0M165.8 225.7h0M142.4 217.9h0M170.4 218.1h0M188 241.1h0M147.6 217.5h0M161.5 218.6h0M147.5 198.8h0M196.3 236.3h0M142.4 199.4h0M188.8 231.4h0M159.5 216.6h0M187.9 207.4h0M191 238.3h0M145.2 194.2h0M190 193.6h0M203.6 193h0M191.7 233.8h0M191.1 229.6h0M196.6 234.4h0M191.9 231.9h0M188.7 235.1h0M201.9 226h0M186.5 229.3h0M191.1 228.6h0M195.6 236.7h0M186.5 236h0M191.1 228.8h0M193.4 233h0M202.9 233.2h0M187.4 231.2h0M191.4 236.5h0M194.7 229.8h0M192 232.3h0M185.9 230.8h0M193.5 234.5h0M192.1 230.7h0M193.7 234.7h0M196.9 229.2h0M196.3 228.6h0M193.5 229.4h0M193 230.6h0M186.4 230.3h0M190.9 241.2h0M192.6 229.6h0M189.7 233.2h0M192 232h0M187.7 233.3h0M198.8 236.9h0M201.7 234.1h0M189.7 230.2h0M193.5 227.7h0M190.5 234.4h0M197.5 235.3h0M193.6 227.6h0M191.9 235.2h0M190.5 225.5h0M192.2 232.2h0M186.9 235.2h0M194.8 229.1h0M188.2 226.8h0M194.1 237.1h0M192.2 227.2h0M196.7 233.3h0M191.5 227.5h0M196.4 233.6h0M187.2 237.5h0M194.4 230.7h0M190.5 229.3h0M192.5 225.5h0M191.9 226.7h0M196 230.1h0M182.1 233.1h0M193.1 234.1h0M184.6 233.3h0M197.3 235.1h0M182.3 233.2h0M186.9 240.7h0M183.7 231.8h0M199.3 232.4h0M185.5 223.9h0M192.1 229.9h0M189.1 233.9h0M183.1 230.5h0M190 236.4h0M194.7 234.3h0M190.7 238.5h0M196 227.6h0M189.9 230.4h0M191.6 236.2h0M189.8 232.5h0M193.2 229.2h0M200.5 230.7h0M193.3 231.1h0M192.5 235.2h0M188.7 234.4h0M188 232h0M198.5 229.3h0M186.3 235.1h0M187.3 236h0M191.1 228.6h0M189.6 235.4h0M200.8 228.8h0M180.5 231.5h0M193.3 229.5h0M194.9 226.6h0M186.3 230.1h0M188.5 229.8h0M193.6 235.4h0M199.2 234.6h0M187.3 230.2h0M184.2 227.3h0M196.2 227.8h0M198.7 224.7h0M190 231.3h0M181.2 231.7h0M198.4 229h0M190.6 232.3h0M196.9 232.5h0M191.4 235.8h0M189.8 229.1h0M189.5 235.9h0M198.5 230.7h0M198.3 237h0M181.5 228.7h0M187.2 235.7h0M199.9 229.6h0M189.9 237.6h0M185.2 233.8h0M191.6 228.5h0M191.1 235h0M191.1 232.1h0M189.3 233.9h0M190.1 239.9h0M189.4 231.3h0M193.2 230.9h0M187.8 236h0M190.2 230.5h0M190.9 235h0M197.7 235.6h0M193.3 232.3h0M191.1 234.6h0M194.1 224.8h0M193.5 237.5h0M196.7 229.9h0M194 229.1h0M200 238.8h0M197.9 238h0M191.4 230.5h0M189.6 233.9h0M195.7 231.1h0M194 228.6h0M191.1 233.6h0M184.6 235.8h0M183 241.3h0M193.2 231.7h0M195.2 235.4h0M195.4 231.3h0M185.5 231.6h0M196.5 236.9h0M189.1 226.7h0M193.4 228.8h0M193.5 229.6h0M187.8 236.2h0M188.8 233.7h0M181.8 234.1h0M187.3 233.7h0M183.1 236h0M193.6 230.9h0M191.9 231.6h0M195.9 231.1h0M193.3 234h0M188.6 228.1h0M193.2 231.7h0M189.7 241.3h0M194.4 234.4h0M193.1 232.5h0M186.9 229.2h0M191.6 233.3h0M191.8 233.2h0M190.1 234.5h0M195.8 230.2h0M199.6 233.8h0M189.9 234.3h0M189.9 234.8h0M181 230.5h0M191 234.1h0M189.5 237.8h0M181.4 230.3h0M192.9 234.6h0M194.4 231.2h0M188.1 231.1h0M189.8 228.4h0M187 228.9h0M195.2 234.2h0M184.4 232.9h0M190.1 236.6h0M200.8 226.8h0M191.8 230.9h0M193.8 227.8h0M190.9 233.4h0M186.1 239.1h0M191.4 227.3h0M193.5 232h0M186.8 231.9h0M193.2 232.2h0M197.4 230.2h0M196.6 230.6h0M184.1 237.6h0M187 228.8h0M184 234.1h0M196.6 233.9h0M194.5 226.7h0M194.9 229.3h0M187.4 233.5h0M186.1 238.4h0M191.9 231.8h0M192.1 230.6h0M187.6 232.6h0M192.2 236.4h0M194.6 234.9h0M192.7 236.5h0M186.7 231.6h0M181.6 229.7h0M190.4 229h0M192.4 234.7h0M190.4 231.6h0M189.6 230.5h0M188.3 234h0M194.9 232.8h0M191.3 225.4h0M192.2 231.7h0M187 229.4h0M188.7 233.8h0M192.4 232.2h0M186.9 238h0M185.7 232.4h0M190 228.4h0M197.2 225.5h0M192.5 228.4h0M198.4 230.1h0M191 232.2h0M190.1 234.3h0M185 232.9h0M188.9 230.3h0M198.3 234.9h0M193.1 229.3h0M195 235.6h0M194.9 238.2h0M191.5 235.7h0M190.6 237.8h0M192.1 236.9h0M194.7 228.6h0M193.7 233h0M193.9 231.6h0M192.3 228.5h0M188 228.2h0M190.3 234h0M187.2 228h0M196.3 231.1h0M181.7 232.3h0M190.6 230.9h0M202.8 237h0M190 234.9h0M186.2 232.7h0M191.5 230.3h0M197.6 233.6h0M190.8 232.8h0M194.5 229.2h0M192.1 227.7h0M189.8 229.8h0M206.4 228.2h0M191.9 233.7h0M189.1 233.4h0M189.3 231.3h0M193.4 233.3h0M193.5 234h0M195.2 226.9h0M192.2 233h0M184.8 235.5h0M194.1 230.7h0M190.1 226.3h0M190.2 232.1h0M184.6 228.3h0M188.9 233.8h0M188.2 234h0M191.4 234.6h0M184.7 232.8h0M191.8 226.3h0M192.2 236.1h0M186.3 227h0M188.6 235.7h0M187.5 233.1h0M195.8 229.6h0M179.7 230.3h0M190 231.4h0M183.8 237.8h0M178.9 244.2h0M171.9 244h0M190.1 243.4h0M176 242.4h0M178.1 242.4h0M171.3 242.7h0M174.7 243h0M170.6 241.9h0M182.1 242.5h0M175.8 242.3h0M180 242.3h0M173.6 243.5h0M174.6 244.2h0M183.6 242.1h0M172.2 242.2h0M168 243h0M179.2 243.3h0M171.3 239.6h0M174.9 243.8h0M181.7 243h0M173 242.4h0M181.6 244.3h0M173.7 242.6h0M184.7 240.3h0M183.8 241.5h0M174.7 241.9h0M176 241.9h0M172.9 242.6h0M178.1 241.4h0M182.9 243h0M169.8 243.3h0M181.8 242.6h0M170.4 241.5h0M172.8 242.3h0M168.1 241.8h0M187.8 245.5h0M177.4 241.1h0M178.3 239.5h0M173.7 240.9h0M182.5 243.2h0M166.5 243.9h0M177.2 242.4h0M188.3 244.1h0M175.2 241.7h0M177.2 243.5h0M180.5 241.4h0M173 240.9h0M177.2 245.5h0M182 242.3h0M178.1 243.7h0M179 244.7h0M175.3 243.6h0M178.7 243h0M177.4 241.3h0M184.5 244.8h0M180.8 241.3h0M175.9 240h0M164.7 241.9h0M180.7 242h0M180.9 242.8h0M172.5 244.4h0M167 242h0M171.3 242.2h0M181.8 241.7h0M171.7 239.2h0M174.8 241.7h0M178.2 242.2h0M183.3 240.6h0M177 244.6h0M176.6 244.3h0M174.3 243.3h0M185.4 243.6h0M182.5 241.8h0M176.6 243.2h0M170 240.4h0M173.1 240.7h0M180 241.7h0M173.5 243.3h0M181.6 241.9h0M178.9 241.6h0M178.6 244.2h0M180.4 242.3h0M179.6 241.8h0M172.8 242.4h0M175.5 240.6h0M189 241.1h0M171 243.9h0M174.7 242.6h0M182.5 243.9h0M176.3 241.9h0M173 243.9h0M170.4 241.5h0M179.8 242.2h0M182.3 241.4h0M184.2 242.9h0M177.4 244.7h0M182.4 240.3h0M171.9 243h0M178 240.9h0M173.7 242.2h0M178 241.8h0M180.9 240.2h0M182.5 242.3h0M172.1 240.8h0M183.5 244.8h0M174.7 241.6h0M171.9 243.1h0M176.2 242.9h0M169.7 242.7h0M177.1 242.3h0M178.6 240.5h0M176.1 245.3h0M179.8 242.7h0M175.5 243.7h0M177.1 241.1h0M169.8 243.3h0M177.3 242.1h0M172.8 243.3h0M174.8 241.8h0M176.6 241.4h0M178.1 243.3h0M168.8 242.7h0M169.2 244.7h0M175.6 242.3h0M179.5 241.6h0M178.9 243.5h0M181.6 241.2h0M183.7 245.6h0M179.6 245.3h0M177 244.6h0M183.7 227.5h0M186.2 222h0M185.8 226.4h0M185.8 228.8h0M189.8 234.5h0M183.8 227.8h0M179.8 232.9h0M179.9 232.4h0M196.9 220.9h0M174.2 225.6h0M185.3 231.7h0M193.5 221.4h0M188.6 223.6h0M182 228.8h0M186.2 223.2h0M190.5 229.7h0M192.3 228.1h0M181.6 230.9h0M190 228.2h0M187.4 222.5h0M191.7 228.6h0M193.2 227.7h0M184.4 228.8h0M178.8 226.3h0M188.2 226.2h0M195.2 221.1h0M189.6 227.1h0M187.3 229.3h0M198.3 224.7h0M180.9 226.4h0M190.7 227.5h0M183.3 225.2h0M186.4 219.8h0M186.6 227.3h0M193.8 223.9h0M181.4 222.2h0M183.4 228.1h0M178.1 229.8h0M188.6 228.5h0M183.8 224.7h0M188.3 223.5h0M180.7 227.1h0M184.3 225.8h0M191.4 220.5h0M185.3 223h0M189.3 229.3h0M188.8 225.1h0M184.4 225.6h0M178.3 224.9h0M191.1 225.3h0M187 227.4h0M191.1 226h0M176 233.1h0M177.8 227.3h0M175.3 229.6h0M181.7 225h0M191.4 227.8h0M189 226.4h0M186 228.7h0M186.8 228.8h0M190 222.7h0M184.6 227.4h0M188.2 223.8h0M186.9 229h0M175.1 227.5h0M184.2 231.3h0M193 225.8h0M184.1 227.6h0M185.4 223.9h0M183.1 225.7h0M156.6 239.2h0M159.5 238.4h0M157.6 233.3h0M158.6 233.9h0M159.3 236.2h0M156.9 237.2h0M156.2 240.6h0M158 236.4h0M155.9 237.8h0M158.2 237.3h0M160.3 239.4h0M159.6 238h0M156 238.4h0M153.4 237.1h0M156.9 234h0M156.7 237h0M160.3 242.5h0M156 240.6h0M156.5 242.3h0M159.2 240.1h0" stroke="#000" stroke-width="1.5" stroke-linecap="square" fill="none"/><rect x="135.5" y="191.3" width="72" height="55" fill="none" stroke="#808080" stroke-width="0.8"/><path d="M153.3 279.3V334.3M171.5 279.3V334.3M189.7 279.3V334.3M135.5 320.6H207.5M135.5 306.8H207.5M135.5 293.1H207.5" stroke="#e1e1e1" stroke-width="0.7" fill="none"/><text class="R" x="171.5" y="275.9" font-size="8.6" fill="#000">Search history 2D</text><text class="S" x="153.3" y="343.4" font-size="6.9" fill="#262626">−50</text><text class="S" x="171.5" y="343.4" font-size="6.9" fill="#262626">0</text><text class="S" x="189.7" y="343.4" font-size="6.9" fill="#262626">50</text><text class="S" x="133.3" y="323.4" font-size="6.9" text-anchor="end" fill="#262626">−50</text><text class="S" x="133.3" y="309.6" font-size="6.9" text-anchor="end" fill="#262626">0</text><text class="S" x="133.3" y="295.9" font-size="6.9" text-anchor="end" fill="#262626">50</text><path d="M156.2 286.1h0M141.7 321.2h0M182.1 317h0M149.7 296.2h0M165.9 287h0M202.3 285.7h0M160.6 318.5h0M158.3 305.1h0M202.6 311.7h0M177.5 297.1h0M176.6 321.8h0M151.5 288.2h0M181.7 295.1h0M162.8 324.7h0M174.7 317h0M164.1 315.8h0M141.3 283.1h0M198.7 309.2h0M185.3 300.4h0M204.5 283.1h0M157.6 312.5h0M155.8 282.3h0M145.3 318.2h0M157.5 333.6h0M158.9 328.7h0M148.7 296.2h0M154.6 313.3h0M156.7 288.5h0M197.3 305h0M167.6 296.6h0M194.5 314.9h0M139.1 302h0M149.1 295.9h0M204.1 313.6h0M139.1 307.3h0M140.5 287.9h0M172.8 283.2h0M156.4 315h0M149.5 330.6h0M179.3 288h0M179.4 309.7h0M149 281h0M174.3 292.3h0M168.2 314.1h0M196.4 287.5h0M140.4 304.2h0M152.3 295.1h0M176.2 285.6h0M137.9 302.4h0M196.4 282.2h0M205.2 312.4h0M159.1 313.5h0M191.3 299.1h0M153.4 312h0M203.8 295.4h0M150.7 305.1h0M135.9 293.5h0M140.4 288.9h0M168.5 303.1h0M138.3 284h0M206.1 291.3h0M180.9 287.2h0M176.5 333.2h0M180.6 333.5h0M165.6 299.4h0M199.3 316h0M186.8 286.3h0M166.5 312.8h0M156 293.4h0M145.9 320.8h0M158.2 299.7h0M160.9 284.8h0M141.3 286.9h0M202.1 314.1h0M154.1 307.8h0M174.4 304.9h0M140.3 315.4h0M175.2 307.7h0M182 281.2h0M141.2 285.9h0M205.7 317h0M147.2 296.7h0M154.4 282.1h0M188.5 314.4h0M159.7 287.6h0M164.5 308.7h0M166.4 305.5h0M159.1 304.7h0M164.2 295.5h0M171.4 313.7h0M173.4 301.1h0M165.1 303.7h0M172.1 308.7h0M163.6 306.3h0M162.5 307.8h0M157.3 305.4h0M168.9 301.2h0M164.1 312.3h0M174 299.8h0M166.7 307.2h0M166.2 299h0M158.9 303.8h0M170.9 300.1h0M164.2 303.1h0M164.9 300.8h0M157.4 305.3h0M168.8 309.3h0M169.1 302.6h0M163.3 302.4h0M165.8 296.3h0M166.9 314.4h0M169 306.5h0M165.9 300.9h0M171.7 311.1h0M164.6 306.6h0M163.3 296.2h0M163.8 299.3h0M156.2 309.5h0M162.5 299.3h0M169.1 300.3h0M166.4 302.1h0M162.5 303.9h0M166.8 304.5h0M158.1 309.4h0M164.4 307.8h0M167.4 302.3h0M168 304.9h0M162.7 297.4h0M168.8 307h0M172.3 316.1h0M163.9 307h0M168.2 304.3h0M159.8 303.9h0M158.4 305.3h0M167.7 309.2h0M165.6 299h0M166.2 308.5h0M163.4 302.4h0M164.4 306.8h0M168.4 310.8h0M171.7 299.3h0M164.7 316.6h0M159.5 309.3h0M170.1 303.6h0M167.7 307.1h0M168 302.2h0M166.2 306h0M173.9 307.5h0M165.8 296h0M167.4 306.5h0M158.8 306.2h0M163.4 310.3h0M163 308.8h0M165.4 302.7h0M166.8 303h0M162.8 305.5h0M171.8 308.6h0M161.6 302.5h0M163.9 313h0M166.4 307h0M160.9 306.6h0M167.6 309.2h0M167.8 304.8h0M164.4 308.4h0M172.4 309h0M165.8 297.6h0M166.5 302.2h0M162 300.2h0M159.4 305.3h0M163.2 301.2h0M164.3 302.1h0M163.8 300.1h0M168.3 295.1h0M156.8 306.5h0M161.4 304.3h0M158.9 305.7h0M170.4 320.9h0M163.4 311.6h0M163.6 305.4h0M161.5 302.7h0M168.8 308h0M164 300.5h0M166.3 299.8h0M158.1 307.3h0M169.8 299.2h0M166.9 297.7h0M167.5 303.4h0M170 309.8h0M164.8 299h0M164.9 306.2h0M168.1 307.1h0M167.1 304.9h0M164.6 307.8h0M165.7 300.7h0M163.7 302h0M168.1 300.1h0M168.9 302.9h0M165.5 308.9h0M172.3 306.1h0M159.9 301.6h0M164.7 307.2h0M171.7 292.6h0M164 306.5h0M159.7 308h0M170.6 300.4h0M167.5 302.1h0M161.2 305.5h0M168.3 306.4h0M161.8 303.5h0M160.6 301.7h0M165 302.1h0M163.8 306.8h0M161.5 303.5h0M164.2 301.7h0M161.8 302.1h0M165.7 319h0M165.4 309.3h0M168.2 308.8h0M163.9 306.4h0M160.7 304.6h0M160.7 301.4h0M164.6 302.7h0M171.1 306h0M168.6 305.3h0M163.2 297.7h0M168.9 308.1h0M161.3 304.1h0M169.2 298.5h0M164.1 303.9h0M168.3 314.4h0M167.8 303.8h0M164.5 307.1h0M166.7 305.9h0M161.6 300.8h0M165.2 303.4h0M169.5 306.6h0M180.5 301.5h0M168.1 303.5h0M165.8 305h0M161.8 304.1h0M169.4 304.3h0M159.5 306.9h0M162.6 307.4h0M166.8 305.3h0M161.1 309.6h0M171.1 311h0M169.5 299.7h0M163.4 306.5h0M163.5 305.5h0M160.7 306h0M160.4 305.3h0M167.1 305.3h0M167.8 305.1h0M166.8 309h0M166.5 301.3h0M163.5 308.5h0M166.8 300.9h0M160.1 313.9h0M165.5 310.1h0M170.9 301.1h0M170.3 306.1h0M163.8 308.4h0M164.3 303.8h0M170.5 310h0M172 305.1h0M160.1 315.2h0M164 307.4h0M166.4 308.3h0M170 303.1h0M162.5 301.6h0M167.9 309.2h0M164.4 298.3h0M174.2 308h0M167.1 314.5h0M165 315.9h0M164.3 298.7h0M169.4 305.8h0M168 308.3h0M161.6 308.7h0M166.3 310.2h0M160.6 299.5h0M162.8 305.8h0M160.8 297.5h0M160.7 306.3h0M163 315.8h0M161.9 301.7h0M167.4 307h0M168.4 306.5h0M164.6 298.5h0M161.4 306.6h0M168.5 300.3h0M158.1 305.4h0M158.5 308.7h0M168.2 303.2h0M167.9 308.1h0M169.1 300h0M164.7 301.2h0M160.9 305.1h0M163.7 302.7h0M167.6 302.9h0M162.7 306.6h0M163 301.5h0M160.4 306.4h0M161.3 302.7h0M168.6 309.6h0M167.2 305h0M161.3 303.6h0M161.6 308.9h0M163.5 307.2h0M167.5 307.8h0M161.3 302.2h0M164.9 308.6h0M157.7 303.5h0M160.9 298.7h0M167.1 303.8h0M168.8 312.5h0M161.3 304.8h0M162.7 300.8h0M168.4 306.7h0M164.1 300.5h0M163.5 302.7h0M167.4 303.5h0M166.2 306.5h0M169.6 307.6h0M168.4 306.5h0M163.4 305.1h0M165.1 303.1h0M165.3 303.5h0M160.6 306.7h0M162 305.1h0M169.1 303.7h0M159.7 312.5h0M169.2 308.8h0M166.6 308.9h0M165 306.3h0M167.5 306.6h0M167.3 306.5h0M169.9 309.2h0M164.1 302.4h0M164.7 304.1h0M164.6 312.6h0M172.4 305.3h0M169 310.3h0M162.2 297.9h0M164.3 307.4h0M151.1 308h0M153 300.7h0M151.9 298.6h0M152.4 305.9h0M158.8 301h0M153.6 306.6h0M156 300.5h0M157.2 301.8h0M148.8 302.8h0M159.4 296.9h0M155.4 300.7h0M156.5 297.5h0M149.2 301.3h0M155.9 306.5h0M154.3 301.7h0M150.5 301.5h0M161.8 306.3h0M154.9 297.8h0M151.7 302.8h0M153.4 301.4h0M156.3 305.4h0M157.2 301.8h0M155 301.4h0M157.5 303.1h0M158.5 301.5h0M147.7 311.2h0M150.7 298.4h0M148.9 307.4h0M153.1 310.4h0M158.4 305.2h0M155.3 305.3h0M148.5 301.7h0M151.5 306.3h0M156.8 301.1h0M150.5 306.6h0M152.3 295.2h0M153.9 300.7h0M145.4 297.3h0M155.8 305.9h0M154 300.3h0M154.9 305.8h0M148.8 301.5h0M149.6 301h0M150.3 308.9h0M153.7 306.7h0M153 306.9h0M153.2 308.1h0M159.8 304.2h0M157.9 305.3h0M149.8 308.5h0M150.1 303h0M159.5 299.7h0M151.4 307.7h0M158.2 303.8h0M159.1 301.7h0M150.5 304.1h0M151.6 305.5h0M153 300h0M149.2 300.5h0M148.8 301.2h0M151.1 303.9h0M156.1 295.3h0M150.9 297.1h0M151.8 304.4h0M150.8 303.6h0M147.2 299.7h0M158.6 304.6h0M143.3 303.2h0M150.1 303.2h0M154.9 305h0M168.1 319.3h0M164.8 308.2h0M166.3 308.9h0M166.3 319.1h0M168.8 315.1h0M167.2 312.4h0M169.4 318.8h0M169.6 316.2h0M159.9 311.5h0M167.6 309.8h0M164.2 315.4h0M168.5 315.4h0M164.7 307h0M167.8 316.2h0M170.9 314.5h0M163.4 313.4h0M167 309h0M167.1 310.3h0M164.3 321.5h0M169.4 315.8h0M166.9 310.4h0M167.1 318.9h0M166.3 317.9h0M174.1 311.1h0M166.1 312.3h0M162.9 308.6h0M165.3 311.2h0M166.4 314.9h0M166.2 312.5h0M168.1 319.5h0M165.8 319.5h0M168.7 316.1h0M167.5 319.9h0M164.9 316.9h0M166.7 322.7h0M167.4 319.3h0M169.6 315.2h0M169 318.8h0M167.4 319.3h0M168.1 314.9h0M168.8 316.8h0M171.6 315.1h0M165.9 314.9h0M168 310.6h0M170 321.5h0M166.3 319.8h0M167.8 314.4h0M167.6 312.2h0M165.7 314h0M169.8 323.9h0M170.1 318.5h0M171 318.4h0M167.4 316.3h0M167.9 317.4h0M173.2 316.6h0M165.9 318h0M168.7 319h0M169.1 313h0M167.8 313.7h0M169.9 317.9h0M174.2 310.7h0M182.3 314.9h0M173.4 306.1h0M177.8 317.3h0M177.7 313.4h0M179.4 318.5h0M175.8 307.9h0M176.7 314.8h0M176.4 321.4h0M178.1 307.7h0M179.2 323.2h0M180.5 316.9h0M172.5 310.5h0M177.8 322.9h0M176.3 311h0M180.1 317.3h0M182.2 321.2h0M179.3 322h0M180.8 318.6h0M172.9 311.6h0M177.4 315h0M175 313.4h0M176.1 311h0M178.8 311.7h0M174.6 312.9h0M176 308.2h0M181.9 316.3h0M170.8 305.8h0M176.4 316.9h0M176.5 312.2h0M178.3 319.1h0M179.7 319.3h0M174 314.5h0M182.2 319.5h0M180.6 316h0M181.2 321.8h0M176.1 316.5h0M181.4 322.3h0M180.1 320.5h0M181.3 317.5h0M176.9 313.3h0M179.9 314.2h0M174.1 312.3h0M183.4 320.4h0M174.5 315.6h0M178.7 317.6h0M176.2 309h0M172.1 310.3h0M181.2 320h0M177.6 318.6h0M175.2 308h0M172.7 311.1h0M176 312.2h0M177.5 312.5h0M174.6 308.2h0M174.4 311.5h0M180.7 310.4h0M174.5 310.9h0M173.5 308h0M176.6 308.3h0M179.2 315.7h0M183.1 317.3h0M183.6 316.3h0M177.2 318.4h0M180.5 311.6h0M178.4 312.7h0M174.8 308.4h0M176.4 309h0M175.4 326.2h0M179.7 318.8h0M182.9 316.9h0M175.4 317.5h0M179.2 321.2h0M181.6 320.1h0M177.6 313.7h0M184.4 321.9h0M175.7 318.7h0M176.7 314.4h0M178.6 309.9h0M172.9 313h0M178.6 321.3h0M179.5 322.8h0M180.2 322.7h0M182 321h0M182 320.6h0M179.6 321.2h0M179.4 320.8h0M180.3 321.6h0M182 321.1h0M181.7 321h0M179.1 321.6h0M175.7 322.1h0M184.9 322h0M182.3 318.9h0M180.8 322.2h0M181 322.5h0M179.1 322.7h0M178 322.2h0M179.5 321.9h0M179.7 323.8h0M178.9 324.9h0M177 321.8h0M179.5 324.4h0M181.5 321.8h0M179.1 322h0M180.3 320.6h0M175.7 319.9h0M179.8 321.7h0M180 323h0M177.6 323.8h0M176.5 323.3h0M181.1 322.1h0M178.5 325h0M181.3 322.1h0M179.3 322.2h0M181.6 321.3h0M179.5 322.7h0M176.9 322.1h0M180 323.2h0M179.5 322.8h0M151.6 294.8h0M161.2 295.8h0M168.5 298.9h0M161.4 293.9h0M162.5 296h0M155.6 298.8h0M167.9 298.2h0M156.7 294h0M164.7 297.3h0M161.1 296.2h0M155.7 294.7h0M165.8 296h0M160.7 300.1h0M161.5 294.8h0M162.9 294h0M160.5 294.2h0M158.7 292.3h0M163 295.4h0M158.5 294.4h0M160.9 292.4h0M157.2 297.1h0M153 292.1h0M157.2 292.1h0M158.1 294.4h0M160.7 291.8h0M166.6 294.2h0M152 298.5h0M161.2 293.5h0M149.3 295.5h0M155.3 295.3h0M158 296h0M149.1 293h0M151.1 295h0M161.4 298.1h0M161 295.1h0M160 294.5h0M156.5 298.1h0M171.6 297.4h0M159.8 297.3h0M156.2 297.9h0M169.1 295.5h0M163.7 293.8h0M158.7 291.7h0M166.7 293.4h0M161.4 293.8h0" stroke="#000" stroke-width="1.5" stroke-linecap="square" fill="none"/><rect x="135.5" y="279.3" width="72" height="55" fill="none" stroke="#808080" stroke-width="0.8"/><path d="M152.9 367.3V422.3M171.2 367.3V422.3M189.5 367.3V422.3M135.5 408.6H207.5M135.5 394.8H207.5M135.5 381.1H207.5" stroke="#e1e1e1" stroke-width="0.7" fill="none"/><text class="R" x="171.5" y="363.9" font-size="8.6" fill="#000">Search history 2D</text><text class="S" x="152.9" y="431.4" font-size="6.9" fill="#262626">−50</text><text class="S" x="171.2" y="431.4" font-size="6.9" fill="#262626">0</text><text class="S" x="189.5" y="431.4" font-size="6.9" fill="#262626">50</text><text class="S" x="133.3" y="411.4" font-size="6.9" text-anchor="end" fill="#262626">−50</text><text class="S" x="133.3" y="397.6" font-size="6.9" text-anchor="end" fill="#262626">0</text><text class="S" x="133.3" y="383.9" font-size="6.9" text-anchor="end" fill="#262626">50</text><path d="M142.1 419.5h0M149.8 418.5h0M147.3 413.3h0M167.1 379.9h0M165.1 389.3h0M190.5 382.1h0M191.5 391.7h0M174.4 402.8h0M182.8 379h0M169.2 413h0M157.8 402.5h0M171.8 399.5h0M180.9 384.9h0M204.3 380.4h0M194.3 391.1h0M140.3 388.9h0M181.6 406.8h0M142 389.7h0M180.3 375.9h0M196.6 398.1h0M185.8 381h0M144.1 394.4h0M166 394.1h0M149.5 388.9h0M183.1 414.6h0M186.7 410.5h0M188.6 412.6h0M161.2 392.9h0M178.6 385.5h0M150.5 383.4h0M202.5 410.8h0M203.1 403.9h0M137.7 414.3h0M176.1 386.3h0M187.2 399.2h0M152.1 407.3h0M137.9 409.9h0M186.4 395.8h0M136.4 367.8h0M163.3 404.6h0M193 410.4h0M139.3 382.9h0M186.4 372.1h0M166.5 413.3h0M163.5 374.9h0M170.3 390h0M160.8 372.6h0M197.5 370.3h0M183.7 398.8h0M163.4 370.5h0M144.2 412.4h0M171.8 397.9h0M199.7 408.8h0M140.4 395.7h0M161.1 380.9h0M169.3 416.3h0M164.7 395.8h0M143.6 393.4h0M148.9 411.5h0M174 387h0M187.4 408.4h0M187.1 390.9h0M183.9 390.9h0M184 381.1h0M136.1 370.9h0M151.2 371.4h0M159.7 394.7h0M153.9 407.8h0M163.5 409h0M164.3 379h0M160 380.5h0M136.2 378.6h0M197.8 376.5h0M204.4 391.2h0M179.8 372.9h0M155.1 386.2h0M167.9 387.6h0M201.2 376.3h0M178.7 386.4h0M185.7 380.1h0M185.9 371.2h0M206.1 400.6h0M182.7 381h0M143.3 405.9h0M171.9 395.5h0M201.9 374.3h0M144.8 368.8h0M139.2 370.2h0M163.9 393.8h0M169.9 394.3h0M164 396.1h0M158.6 395.5h0M169.7 393h0M164.8 394.4h0M164.5 397h0M164.2 395.9h0M169.3 395.8h0M168.3 394.3h0M165.1 393.7h0M155.3 393.9h0M161.6 395.8h0M164.4 394.1h0M173.7 397.5h0M165.9 401.3h0M163.3 394.3h0M170.4 398.2h0M163.2 396.5h0M163.7 397.1h0M164.7 392.6h0M155.6 397.2h0M169.1 393.5h0M166.2 395.4h0M162.3 397.2h0M157.6 398.1h0M165 393h0M171.5 393.2h0M160.3 392.3h0M158 389.7h0M166.1 393.5h0M155.1 393.5h0M151.6 394.5h0M161.4 393.9h0M160 395.1h0M162.3 396.4h0M160.8 389.3h0M165.7 398.8h0M162.6 393.6h0M160.6 393.1h0M161.3 393.8h0M167.3 396.6h0M169.1 394.7h0M168.8 395.4h0M167.7 396.9h0M145.7 394.3h0M158.3 395.2h0M162.1 395.6h0M165 392.5h0M155 396.9h0M171.7 393.1h0M165.5 395.8h0M160.4 393.2h0M164.8 394.1h0M162 393.7h0M159.7 396.7h0M166.6 396.2h0M161.4 396.4h0M156.1 393.8h0M160.4 392.4h0M163.2 391.6h0M157.9 395.5h0M170.8 394.1h0M157.9 398.3h0M173.5 399.7h0M168.8 396.4h0M158.7 395.9h0M164.6 398.1h0M170.4 398.7h0M162.8 393h0M157.3 396.3h0M164.5 398.4h0M174.8 388.5h0M155.7 393.9h0M166.9 395.1h0M163.9 392.6h0M163.2 396.2h0M161.7 390.4h0M162.1 398.1h0M169.6 397.5h0M167.2 394.6h0M158.4 396.2h0M172.5 390.8h0M156.8 398.3h0M167.5 396.1h0M164.9 393.7h0M170.5 392.9h0M165.9 391.8h0M169.7 393.5h0M163.8 388.9h0M169.3 395.5h0M165.8 393.9h0M175.7 392.2h0M160.1 395.1h0M170.5 395.1h0M166.5 395.5h0M164.9 395.9h0M160.8 397.1h0M166.4 395.7h0M155.8 398.2h0M156.4 393.4h0M167.8 398.3h0M155.4 389.3h0M171.8 390.2h0M162.4 391.6h0M165.3 394.9h0M164.4 395.8h0M166.2 391.3h0M162.4 393.9h0M161.9 393h0M163.2 396.1h0M169.7 391.7h0M170.2 396.3h0M170.9 394.1h0M166 398.6h0M162.8 396h0M154.7 393.1h0M167.5 395.5h0M168.6 395.5h0M161.7 392.4h0M168.4 394.6h0M171 391.3h0M164.5 400.3h0M169.8 393h0M165.6 393.1h0M154.4 398.2h0M161.4 397.6h0M161.7 392.2h0M166.9 397h0M159.2 395.9h0M161.5 392.9h0M158.7 395.2h0M163.7 393.2h0M164.3 396.5h0M169.3 393.6h0M168.3 391.7h0M164.9 393.6h0M165.3 399.8h0M164.6 392.8h0M164.6 394.2h0M172.5 396.6h0M150.3 390.9h0M163 398.7h0M165.7 389.8h0M170.2 395.9h0M157.9 390.5h0M165.9 394.5h0M168.7 397.7h0M161.5 394.1h0M153.5 393.6h0M162 393h0M157.4 391.8h0M167.5 396.6h0M159.3 393.2h0M173.7 392.6h0M164.7 395.1h0M159.5 396.7h0M161.2 396.7h0M158 392.5h0M166.1 392.4h0M172.2 396.4h0M162.8 397.7h0M169 391.3h0M158.8 398.2h0M165.6 394h0M176.6 396.4h0M156.2 398.7h0M170.7 394.1h0M170.4 394.9h0M153.6 390.8h0M156.1 388.8h0M158.6 394.9h0M169.3 391.9h0M161.6 391.8h0M163 395.7h0M167.8 396.5h0M164.6 390.4h0M165.2 395.3h0M162.2 394.5h0M170.1 395.1h0M159.7 394.7h0M173.2 395.9h0M162.1 392.5h0M159.6 391.3h0M167.5 395.3h0M166.4 397.8h0M153.1 394.3h0M165.2 398.1h0M156.5 396h0M159.4 391.4h0M168.3 388.7h0M159.2 393.5h0M165.9 397h0M161.8 392.5h0M174.6 399.9h0M163.4 396.1h0M157.5 390.6h0M157.9 392.6h0M158.9 397.8h0M164.6 398.5h0M163.9 392.3h0M169.2 394.5h0M164.8 395.9h0M164.6 393.4h0M165.7 395.8h0M163.2 399.1h0M165.5 392.4h0M168.2 396h0M168.2 396.9h0M160.9 397.7h0M154.2 393.8h0M159.4 396.4h0M165.4 392.9h0M150.2 395h0M161.3 391.7h0M166.4 395.3h0M160.8 396h0M157.7 399.2h0M173.5 397.1h0M171.5 392.6h0M162.4 386.9h0M171.1 397.5h0M171 396.9h0M157.7 393.6h0M178.6 393.2h0M158.7 396.1h0M162.4 394.2h0M157.8 398.3h0M164.3 395.1h0M156.6 392.2h0M163.8 390.4h0M169.8 394.8h0M165 395h0M162.4 393.3h0M172.3 391.7h0M158.9 393.2h0M169.2 396.2h0M162.2 393.5h0M165 392h0M164 396.1h0M147.2 377.9h0M151.9 377.1h0M151.5 375h0M153 381.2h0M150.8 377.6h0M148.9 379.2h0M149.5 379.4h0M147.9 376.4h0M148.2 377.1h0M149.1 381.1h0M149.3 379.5h0M153.4 378.4h0M147.4 382h0M150.5 377h0M149.1 379.1h0M154.4 378.6h0M151.2 378.2h0M149.6 375h0M152.7 378.8h0M150.7 379.7h0M149.4 375.1h0M154.5 380h0M152.4 380.1h0M155 381.9h0M153.5 376.6h0M152.6 378.3h0M150.9 377.9h0M147.8 378.6h0M152.4 379.2h0M150.8 380.6h0M152.3 380.6h0M150.6 378h0M148.8 378.6h0M148 375.4h0M152.4 380.6h0M153.9 380h0M149.9 381.1h0M151.8 375.9h0M154.1 381.6h0M148.5 377.2h0M149.7 375.8h0M147.7 379.2h0M153.6 377.3h0M151.3 383.5h0M149.4 379.8h0M146.4 382.5h0M150.1 378.5h0M153.1 378.9h0M149.8 380.6h0M149.5 376.9h0M152.2 378.1h0M147.5 380h0M150.7 380h0M152.1 382.1h0M148.6 379.3h0M148.5 374.3h0M151.2 380.5h0M150.4 378h0M150 380.1h0M151.1 377.2h0M151.2 377.9h0M148.2 379.4h0M148.9 382.8h0M151.8 380h0M153.5 376.3h0M154.1 379.4h0M148.5 377.5h0M153.4 380h0M152.5 383h0M150.5 378h0M152.6 400.7h0M148 402.9h0M149.1 400.8h0M152.4 399.3h0M147.9 399.9h0M152.7 400.2h0M149.9 401.6h0M139 402.5h0M150.2 401h0M147.9 402.8h0M146.7 402.7h0M153 399.5h0M148.5 402.2h0M153.7 398.4h0M156.5 402.7h0M151.7 400.3h0M143.1 402.7h0M147.2 400.7h0M155.6 402.2h0M149.6 400.8h0M146.9 401.2h0M150.5 401.5h0M153.5 400.1h0M152.3 398.8h0M154.2 401.6h0M146.8 399.8h0M149.6 400.8h0M149.7 400.9h0M150.9 397.9h0M140.3 404.1h0M149.8 401.8h0M144.2 403.5h0M158 401.1h0M158.9 401h0M159.5 395.5h0M155.1 400.3h0M148.5 398.5h0M155.8 399h0M150 401.5h0M154.1 400.1h0M146.4 398.7h0M148 400.7h0M153.3 400.5h0M160 399.9h0M150.9 402.9h0M162.4 401.7h0M165 400h0M144.5 400.3h0M150.8 402.1h0M146.2 401.4h0M150.3 401.1h0M148.3 401.1h0M150.6 399.9h0M155.9 400.6h0M155.7 400.5h0M152.3 402.8h0M151 402.3h0M151.6 400.4h0M151.6 403h0M153.9 400.4h0M151 401.8h0M153.5 401.9h0M144.4 400.2h0M155 401.7h0M159.9 401.8h0M151.9 401.8h0M143.8 401h0M157.8 397h0M149.3 403.8h0M135.8 401.3h0M149.9 401.2h0M154.1 399.5h0M152.9 401.3h0M157.3 404.1h0M154.2 399h0M151.6 402.3h0M141 401.2h0M145.4 402.9h0M151.9 402.3h0M154.4 401.5h0M145.8 399.9h0M147.9 399.8h0M153.4 401.6h0M141.3 400.5h0M141.1 401.7h0M149.8 400.8h0M152.3 400.6h0M148.6 400.1h0M139.4 402h0M151.1 401.1h0M144.3 400.8h0M154.3 400.7h0M150.5 402h0M152.4 398.5h0M154.3 401.4h0M148.3 399.9h0M155.2 400.5h0M157.3 399.1h0M153 403.8h0M157.8 397.9h0M147.8 401.3h0M155.7 402.4h0M152.4 400.7h0M146 398h0M150.6 400.2h0M148.3 402.6h0M148.2 401.6h0M151.5 399.1h0M156.4 402.7h0M149.4 401.2h0M169.7 407.3h0M175.9 407h0M169.7 404.7h0M173.8 405.9h0M168.7 406h0M168.4 404.6h0M173 404.8h0M172 402.1h0M166 405.8h0M172 407.5h0M172.1 405.4h0M168.8 402.2h0M171 406.5h0M171.1 405.2h0M169.2 406.1h0M168.9 404.4h0M168.7 404.8h0M169.7 407.1h0M167 405.8h0M170.3 403.3h0M166.6 403h0M170.6 403.3h0M170.2 403.5h0M167.8 406h0M172.6 406.1h0M175.3 403.3h0M173.8 407.9h0M166.9 405.4h0M173.7 409.3h0M171 406.1h0M170.3 406.9h0M168.9 407.9h0M170.4 404.1h0M173.9 406.9h0M171.8 406.1h0M169.4 405.9h0M168.7 406.9h0M169.3 402.2h0M171.9 406.4h0M175.2 404.9h0M167.7 408.1h0M170.4 406.3h0M169.4 406h0M168.5 406h0M171.4 406.6h0M171.8 405h0M166.8 402h0M167.8 405.6h0M173.4 405.6h0M171.2 406.2h0M171.7 399.8h0M169.1 401.8h0M169.4 404.1h0M171.6 403.8h0M169.1 406.9h0M167.6 405.7h0M170.4 404.9h0M172.7 405.1h0M167.8 407.2h0M173.1 407h0M172.2 404.2h0M168.2 404.6h0M170.4 409.9h0M170.3 405.1h0M172 402.6h0M172.1 406.7h0M167.1 404.8h0M167 408.5h0M173 403.5h0M170.7 407.7h0M171.5 408h0M171.3 406h0M174.3 400.2h0M167.3 406.6h0M173.2 408h0M168.3 404.3h0M172.3 404.8h0M173.8 401.7h0M166.9 408.1h0M171.4 408.8h0M169.7 406h0M169.7 404.5h0M170.5 404.5h0M167.7 403h0M168 408.5h0M172.1 407.1h0M172.5 405.6h0M169 403.5h0M166.7 404.3h0M176.3 406.2h0M173.2 407.5h0M171.3 403.4h0M167.8 403.3h0M168.9 399.5h0M171 405.7h0M168 401.8h0M174.5 407.9h0M170.8 406.5h0M171.4 406.8h0M167.8 406.3h0M164.3 383.7h0M160 384.9h0M163 382.2h0M162.2 388.3h0M166.1 380.6h0M162.7 383.2h0M161.9 386.2h0M166.9 380.8h0M164.3 389.6h0M158.8 388.7h0M163.3 387.6h0M167.7 383.1h0M164.9 382.2h0M165.1 387.7h0M159.8 382h0M170 381.5h0M167.5 378.1h0M162.1 382.1h0M163.8 387.6h0M165.6 386.3h0M168.3 382h0M168.8 380.8h0M167.1 381.1h0M161.7 384.8h0M161.8 388h0M162.6 386.1h0M166.7 381.8h0M166.3 382.7h0M164.4 383.5h0M165 386.8h0M165.6 386.3h0M167.4 386.1h0M168.2 384.2h0M159.5 386.3h0M159.9 389h0M160.8 383.4h0M160.1 384.8h0M162.3 386.4h0M165.5 378.3h0M163.4 382.2h0" stroke="#000" stroke-width="1.5" stroke-linecap="square" fill="none"/><rect x="135.5" y="367.3" width="72" height="55" fill="none" stroke="#808080" stroke-width="0.8"/><path d="M142.4 455.3V510.3M158.8 455.3V510.3M175.3 455.3V510.3M191.7 455.3V510.3M135.5 496.6H207.5M135.5 482.8H207.5M135.5 469.1H207.5" stroke="#e1e1e1" stroke-width="0.7" fill="none"/><text class="R" x="171.5" y="451.9" font-size="8.6" fill="#000">Search history 2D</text><text class="S" x="142.4" y="519.4" font-size="6.9" fill="#262626">−100</text><text class="S" x="158.8" y="519.4" font-size="6.9" fill="#262626">−50</text><text class="S" x="175.3" y="519.4" font-size="6.9" fill="#262626">0</text><text class="S" x="191.7" y="519.4" font-size="6.9" fill="#262626">50</text><text class="S" x="133.3" y="499.4" font-size="6.9" text-anchor="end" fill="#262626">−50</text><text class="S" x="133.3" y="485.6" font-size="6.9" text-anchor="end" fill="#262626">0</text><text class="S" x="133.3" y="471.9" font-size="6.9" text-anchor="end" fill="#262626">50</text><path d="M178.1 505.9h0M140.1 488.6h0M139.4 463.9h0M181.7 483.9h0M147.3 479.7h0M196.6 479.5h0M183.7 458.4h0M173.3 499.3h0M202.9 472.8h0M145 485.6h0M157.8 497.4h0M172.1 507.6h0M205 476.7h0M141.2 500.2h0M178.8 478.3h0M201.7 486.7h0M145.9 488h0M186.2 461.5h0M185.2 505.4h0M161.4 479.4h0M174.1 487.5h0M202.8 502h0M169.2 488.6h0M168.4 462.6h0M176.1 499.4h0M137.8 472.9h0M193.8 495.5h0M139.2 481.7h0M206 480h0M205.4 506.4h0M194.4 465.9h0M200 489.5h0M179.8 498.8h0M157.5 498.9h0M179 456.1h0M184.4 458.4h0M145.7 484.5h0M191.3 495.4h0M157.4 471.4h0M172.4 507.4h0M154.7 463.1h0M155.8 510h0M198.6 507.6h0M191 491.9h0M140 485.2h0M202.1 494.6h0M186.2 456.2h0M185.3 467.7h0M154.5 507.1h0M185.8 462.1h0M162.8 484.7h0M201.9 455.9h0M186.2 492.6h0M158.7 493.3h0M199.1 472.9h0M191.2 483.5h0M150 495.1h0M151 481.4h0M136.4 475.3h0M190.9 493.1h0M141.7 465h0M155.3 469.1h0M188.5 468.9h0M157.5 474h0M156.1 497.6h0M140.3 471.5h0M139.1 500.7h0M176.7 502.5h0M145.5 482.6h0M204.9 500.8h0M137.4 503.3h0M158.2 477.7h0M148.7 456.6h0M200.2 507.2h0M189.6 485.9h0M143.5 505.3h0M139.5 480.7h0M141.5 478.7h0M188.7 483.3h0M189.3 508.2h0M181.1 471.8h0M170.7 482.4h0M168.8 478.8h0M178.4 473.6h0M143.3 460.5h0M192.7 486.4h0M191.5 460.1h0M184.5 500.6h0M152.5 485.3h0M151 500.6h0M206.1 489.8h0M203.8 460.6h0M189.4 456.7h0M192 484.3h0M168.5 495.1h0M198.6 492.6h0M185.2 460.7h0M167 486.2h0M184.6 499.4h0M168.6 484.8h0M165.8 480.6h0M167.8 479.1h0M167.4 484.4h0M172.3 478h0M166.9 482.2h0M159.3 479.1h0M164.8 480h0M171.7 481.9h0M168.5 482.1h0M164.1 485.5h0M168.7 482.6h0M166.5 482.8h0M168.7 476h0M158.8 477.7h0M161.9 484.5h0M168.9 478.4h0M164.9 480h0M167.5 481.7h0M174.8 479.3h0M164.5 478.4h0M167 482.2h0M163.4 481.4h0M163.1 480.1h0M165.6 483.4h0M159.4 480.1h0M156.5 480.8h0M172.1 482.5h0M165.5 483h0M171 479.7h0M166.5 478.1h0M166.6 479.7h0M169 483h0M169.2 478.5h0M160.5 480.1h0M171.4 478.9h0M161.6 477.3h0M166.9 483.2h0M177.4 481h0M166.3 482.3h0M173.4 483.1h0M164.4 474.9h0M168.7 478h0M166.2 485.6h0M167.8 479.4h0M162.1 482.2h0M161.8 477.4h0M167.5 480.4h0M158.9 481.1h0M162.2 480.2h0M168.8 479.5h0M163.2 480.5h0M162 481.2h0M161 481h0M166.6 479.2h0M164.3 483.8h0M166.6 480.6h0M165.1 480.9h0M174.3 482h0M164 478.5h0M157.2 484.3h0M166.5 481.6h0M166 483h0M166.7 479.1h0M158.7 481.9h0M171 480.5h0M165.8 479.5h0M165.8 485.1h0M158.8 479.3h0M168.1 482.7h0M165.7 481.3h0M172 480.9h0M164.1 478.3h0M160.4 478.5h0M166.5 475.6h0M161.9 480.1h0M167.8 481.9h0M161.1 482h0M165.4 478.8h0M164.9 476.1h0M165.8 479.6h0M163.6 482.2h0M162.3 479.8h0M165.7 479.9h0M163.4 480.5h0M166.6 482.7h0M164.7 487.8h0M155.9 482.1h0M165.7 477.6h0M172.2 480h0M167.3 486.8h0M168.6 480.6h0M168 485.8h0M163.9 475h0M160 480.1h0M169.6 484h0M170.7 478.3h0M168.5 482.8h0M167.8 479h0M167.7 480.5h0M165.8 483.9h0M167.2 478.7h0M166 484.4h0M167.4 476.8h0M161.7 480.4h0M163.2 483.5h0M168.5 485.7h0M164.4 476h0M155.2 476.5h0M166.5 484.2h0M155.8 475.9h0M174.5 480.1h0M169.2 481.2h0M168.9 480.8h0M163 481.4h0M161 476.6h0M165 480.2h0M166.1 485.8h0M162.5 474.7h0M166.7 478.1h0M169 483.7h0M168.6 481.6h0M161.4 483.2h0M156.4 480.5h0M166 479.5h0M163.1 479.9h0M168 482.3h0M173.2 482.9h0M173.2 478.2h0M167.2 480.9h0M170.9 474.2h0M173.2 482.9h0M166.2 478.4h0M167.2 480.5h0M169.8 482.7h0M165.8 476.8h0M163.8 480.3h0M162.7 483.1h0M166 481.5h0M163.3 477.7h0M169.5 484.1h0M164.5 476.7h0M172.5 478.7h0M171.4 481.4h0M160.6 476.8h0M170.8 475.7h0M164.3 478.9h0M172.1 480.1h0M168.3 475.4h0M165.8 476.4h0M169 483.2h0M163.6 481.2h0M167.5 481.2h0M167.7 481.8h0M165.4 484.8h0M167.8 478h0M161.7 480.4h0M168.5 480.3h0M160.7 476.6h0M168.8 482.2h0M168.1 480.8h0M169.2 479.8h0M163.6 481.8h0M179.4 480.9h0M165.1 478.4h0M166.8 480.6h0M162.8 476.8h0M172.4 482.7h0M164 480h0M170.5 484.7h0M162 480.9h0M167.5 482.6h0M164.5 476.7h0M170.2 478.5h0M164.9 479.2h0M162.4 475.4h0M168.1 476.5h0M160.9 478.6h0M162 482.6h0M169.5 484.7h0M158 480.7h0M169.5 481.6h0M164.4 482.4h0M162.2 481.4h0M167.2 485.3h0M168.9 476.4h0M163.6 483.8h0M165.4 482.5h0M169.7 479h0M169.5 485.2h0M166 478h0M162.8 477.9h0M162.1 481.5h0M163.6 483.7h0M169.2 482h0M168.7 485.9h0M167.5 476.6h0M172.3 480.4h0M164.9 482.7h0M164.6 483.2h0M164.5 479h0M174.5 476.3h0M157.3 484.2h0M167.5 482.2h0M168.2 485.6h0M166.5 478.7h0M176.4 480.2h0M171.3 474.1h0M169.6 481h0M162.4 481.8h0M168.4 482.6h0M164.7 478.2h0M166.5 485.3h0M167.1 478.5h0M164.2 479.9h0M169 482h0M173.4 483.2h0M170.8 477.6h0M167.2 475.3h0M157.9 481.9h0M171 479.1h0M171 475.6h0M165.5 482.4h0M164.2 481.3h0M169.2 484.1h0M162.8 481h0M169.8 480.8h0M161.6 481.8h0M162.3 482.7h0M166.4 485.1h0M166.2 474.5h0M167.3 467.8h0M172.4 470h0M168.8 472h0M167.7 471h0M172.4 464.9h0M172.1 467.8h0M168 473.3h0M168.4 470.7h0M172.4 473.1h0M171.5 474.1h0M167.7 470.1h0M171.1 465.2h0M170.3 467.1h0M173.8 470.3h0M167.6 471.2h0M173.1 470h0M171.7 468.2h0M167.2 473.6h0M173.6 474.5h0M173.2 466.4h0M166.2 469.8h0M176.6 467h0M166.8 469.9h0M167.5 467.2h0M169.3 471.7h0M172.8 469.3h0M172.2 467.1h0M170.1 468.2h0M174.6 471.4h0M171.6 468.5h0M174.7 471.9h0M179.2 473.5h0M171 469.3h0M162.3 467.4h0M168.9 468.6h0M167 473.2h0M170.6 468.5h0M170.7 468.9h0M166.5 471.4h0M166.7 475.8h0M169.5 468.2h0M169.7 468.5h0M162.1 469.3h0M173.4 474.2h0M170.4 473.7h0M170.3 468.2h0M171.3 468.7h0M167.1 469.3h0M170.2 471h0M173.6 469.6h0M173.8 471.6h0M171.8 471.1h0M169.5 472.3h0M167.7 469.9h0M174.5 471.3h0M172 468.3h0M169 468.9h0M163.4 472.2h0M167.6 466.4h0M152.3 490.4h0M155.9 493.8h0M157.4 490.1h0M157.8 488.8h0M149.8 492.4h0M157.2 490.1h0M157.7 490.8h0M158.2 490.5h0M149.8 493.8h0M153.3 490.6h0M154.7 491.3h0M153.9 490.4h0M158 491.6h0M153.3 489.8h0M157.7 491.1h0M156.2 490.5h0M151.6 489.3h0M152.6 491.3h0M153.8 489.9h0M155.1 491.2h0M157.2 490.7h0M154.5 492.4h0M157 490.3h0M151.3 489.6h0M147.9 491.7h0M154.1 490.3h0M156 490.9h0M154.1 493.4h0M152.6 491h0M155.9 489.4h0M159.3 492.3h0M154.7 494.5h0M153.2 491.2h0M153 492.6h0M159.4 488.5h0M154.8 491.6h0M156.3 491.6h0M157.7 492.6h0M157.4 491.1h0M152.8 492.5h0M157.1 493h0M156.8 491.6h0M156 492.9h0M157.2 489.4h0M153.6 493.4h0M154.7 491.7h0M153.7 492.7h0M156.6 493.8h0M153.4 488.8h0M155.8 495h0M152.4 489.2h0M154.6 493.8h0M154.1 491.4h0M154.6 487.9h0M155.2 495h0M154.5 493.8h0M154.4 489.4h0M150.1 491.3h0M157.4 492.4h0M153.5 491.6h0M154.3 493.1h0M153 491.3h0M157.2 489.1h0M152.8 492.2h0M156.1 491.3h0M157.6 489.6h0M158.7 488.3h0M157.6 492.5h0M156.3 491.1h0M152.1 492.5h0M157.9 492.6h0M157.6 492.2h0M156.8 492.6h0M156.7 494.3h0M155.1 494.8h0M153.7 492.7h0M157.4 491.3h0M157.8 489.6h0M152.5 492.4h0M157 491.8h0M155.5 490.5h0M156.9 490.3h0M155.5 491.7h0M157.5 491.6h0M157.3 488.5h0M157 492.1h0M151.8 492.3h0M156.8 494.2h0M155 490.8h0M152.3 492h0M180.7 499.5h0M177.1 494.8h0M178.9 495.7h0M179.1 497.4h0M180.3 501.6h0M175.5 496.2h0M180.2 501.9h0M177.7 497.2h0M177.5 497.7h0M177.1 499.7h0M177 500.5h0M177.1 500.1h0M173.9 491.3h0M178.5 498.7h0M177.7 498.5h0M176.1 494.8h0M177.5 496.5h0M181.3 494.5h0M178.3 501.7h0M177 501.3h0M180.4 487.2h0M176.4 498h0M177.4 498.8h0M176.8 497.3h0M177.3 494.7h0M178.8 501.6h0M178.6 496.9h0M176.5 497.9h0M177.4 495.7h0M177.8 497.3h0M177 499.5h0M177.6 500.6h0M176.5 505.6h0M176.5 494.7h0M177.7 502.5h0M176 499.1h0M178.3 492.5h0M177.3 499.2h0M176.2 495.9h0M176.7 498.5h0M176.9 495.6h0M177.4 497.7h0M177.8 499.5h0M177.3 493.5h0M176.2 498.7h0M179.9 502.1h0M179.1 498.9h0M177.8 496.1h0M179.2 501.4h0M178.2 495.3h0M177.2 495.4h0M177.8 491.1h0M181.9 499.9h0M179.2 495.7h0M179.3 503.1h0M177 499.2h0M178.6 497.5h0M181.2 496.5h0M178.3 498h0M179.3 498.1h0M179.6 499.8h0M178.7 499.3h0M180.1 496.9h0M178 496.1h0M178.4 495.8h0M176.6 494.7h0M181.8 494.1h0M178.1 503.6h0M177.8 499.5h0M179.8 498.4h0M176.9 499.9h0M177.6 494.5h0M176.4 495.5h0M177.7 498.2h0M177 497.5h0M178.5 493.8h0M177.4 498.9h0M176.7 498.8h0M177.2 495h0M177.4 496.4h0M185.9 492.2h0M185 487.5h0M184.7 491.1h0M186.5 490.8h0M183.5 490.7h0M186.3 489.9h0M181.5 488h0M180.1 485.5h0M185 488.3h0M189.1 489.2h0M180.8 489.1h0M180.4 487h0M182.1 486.5h0M184.3 484h0M184.3 492.2h0M179.5 487h0M187.3 491.1h0M186.8 490.3h0M184.2 488.9h0M187.7 490.4h0M179.7 486.6h0M176.8 486.2h0M180.8 487.6h0M179 485.9h0M188.2 492.8h0M182 487.1h0M184.7 490h0M180.9 487.4h0M182.5 487.5h0M180 487.4h0M184.6 488.9h0M182 485.2h0M182.3 490.3h0M183.1 485.7h0M181.4 487.4h0M183.5 490.3h0M188.8 492.6h0M180.4 484.9h0M184.6 488.7h0M182.8 488.2h0M179.6 486.1h0M181.2 485.6h0M184.8 489.1h0M179.9 484.2h0M185.7 488.9h0M181.7 488.3h0M185.6 490.8h0M183.5 488.1h0M179.2 486h0M183.1 489.5h0" stroke="#000" stroke-width="1.5" stroke-linecap="square" fill="none"/><rect x="135.5" y="455.3" width="72" height="55" fill="none" stroke="#808080" stroke-width="0.8"/><path d="M261.1 15.3V70.3M279.2 15.3V70.3M297.4 15.3V70.3M243.3 63.3H315.5M243.3 50.9H315.5M243.3 38.5H315.5M243.3 26.2H315.5" stroke="#e1e1e1" stroke-width="0.7" fill="none"/><text class="R" x="279.4" y="11.9" font-size="8.6" fill="#000">Trajectory in 1D</text><text class="S" x="261.1" y="79.4" font-size="6.9" fill="#262626">50</text><text class="S" x="279.2" y="79.4" font-size="6.9" fill="#262626">100</text><text class="S" x="297.4" y="79.4" font-size="6.9" fill="#262626">150</text><text class="S" x="315.5" y="79.4" font-size="6.9" fill="#262626">200</text><text class="S" x="241.1" y="66.1" font-size="6.9" text-anchor="end" fill="#262626">-80</text><text class="S" x="241.1" y="53.7" font-size="6.9" text-anchor="end" fill="#262626">-70</text><text class="S" x="241.1" y="41.3" font-size="6.9" text-anchor="end" fill="#262626">-60</text><text class="S" x="241.1" y="29" font-size="6.9" text-anchor="end" fill="#262626">-50</text><text class="R" x="279.4" y="88.4" font-size="8.6" fill="#000">Iteration</text><rect x="243.3" y="15.3" width="72.2" height="55" fill="none" stroke="#808080" stroke-width="0.8"/><path d="M243.3 23.7L243.7 50.9L243.8 70.1L244.2 53.4L244.4 68.2L244.8 34.8L245.1 32.4L245.5 34.8L245.8 26.2L246.2 18.8L246.6 16.3L247.3 15.4L247.7 17.5L248 15.4L248.7 18.8L249.5 23.7L249.8 20L250.2 16.3L250.9 15.4L251.6 17.5L252.4 15.7L253.1 18.8L253.8 15.4L254.5 18.8L255.3 15.4L256 16.3L256.7 24.9L257.8 29.9L258.5 38.5L258.9 26.2L259.6 16.3L260.4 15.4L260.7 15.7L261.1 28.6L261.8 29.3L262.9 28.6L264.7 28.9L266.5 28L268.3 28.4L272 28.3L275.6 28.4L277.4 29L279.2 30.5L282.8 30.6L315.5 30.6" stroke="#3b3bff" stroke-width="0.8" fill="none" stroke-linejoin="round"/><path d="M261.1 103.3V158.3M279.2 103.3V158.3M297.4 103.3V158.3M243.3 155.9H315.5M243.3 135.7H315.5M243.3 115.4H315.5" stroke="#e1e1e1" stroke-width="0.7" fill="none"/><text class="R" x="279.4" y="99.9" font-size="8.6" fill="#000">Trajectory in 1D</text><text class="S" x="261.1" y="167.4" font-size="6.9" fill="#262626">50</text><text class="S" x="279.2" y="167.4" font-size="6.9" fill="#262626">100</text><text class="S" x="297.4" y="167.4" font-size="6.9" fill="#262626">150</text><text class="S" x="315.5" y="167.4" font-size="6.9" fill="#262626">200</text><text class="S" x="241.1" y="158.7" font-size="6.9" text-anchor="end" fill="#262626">-80</text><text class="S" x="241.1" y="138.5" font-size="6.9" text-anchor="end" fill="#262626">-60</text><text class="S" x="241.1" y="118.2" font-size="6.9" text-anchor="end" fill="#262626">-40</text><text class="R" x="279.4" y="176.4" font-size="8.6" fill="#000">Iteration</text><rect x="243.3" y="103.3" width="72.2" height="55" fill="none" stroke="#808080" stroke-width="0.8"/><path d="M243.3 157.9L244 117.5L244.8 115.4L245.5 118.5L246.2 112.4L246.6 112.4L247.3 130.6L248.3 144.6L248.6 143.7L249.1 132.6L250.2 127.2L251.3 124.5L252.4 123L253.8 123.5L255.3 123.3L256.7 124L257.4 122.5L258.5 127.6L259.6 128.1L261.4 130.6L262.9 131.1L315.5 131.1" stroke="#3b3bff" stroke-width="0.8" fill="none" stroke-linejoin="round"/><path d="M261.1 191.3V246.3M279.2 191.3V246.3M297.4 191.3V246.3M243.3 240.8H315.5M243.3 229.5H315.5M243.3 218.2H315.5M243.3 206.9H315.5M243.3 195.6H315.5" stroke="#e1e1e1" stroke-width="0.7" fill="none"/><text class="R" x="279.4" y="187.9" font-size="8.6" fill="#000">Trajectory in 1D</text><text class="S" x="261.1" y="255.4" font-size="6.9" fill="#262626">50</text><text class="S" x="279.2" y="255.4" font-size="6.9" fill="#262626">100</text><text class="S" x="297.4" y="255.4" font-size="6.9" fill="#262626">150</text><text class="S" x="315.5" y="255.4" font-size="6.9" fill="#262626">200</text><text class="S" x="241.1" y="243.6" font-size="6.9" text-anchor="end" fill="#262626">0</text><text class="S" x="241.1" y="232.3" font-size="6.9" text-anchor="end" fill="#262626">20</text><text class="S" x="241.1" y="221" font-size="6.9" text-anchor="end" fill="#262626">40</text><text class="S" x="241.1" y="209.7" font-size="6.9" text-anchor="end" fill="#262626">60</text><text class="S" x="241.1" y="198.4" font-size="6.9" text-anchor="end" fill="#262626">80</text><text class="R" x="279.4" y="264.4" font-size="8.6" fill="#000">Iteration</text><rect x="243.3" y="191.3" width="72.2" height="55" fill="none" stroke="#808080" stroke-width="0.8"/><path d="M243.3 235.2L243.5 245.9L243.7 218.2L244 191.6L245.1 191.6L245.8 201.2L246.6 208.6L247.3 210.9L315.5 211" stroke="#3b3bff" stroke-width="0.8" fill="none" stroke-linejoin="round"/><path d="M261.1 279.3V334.3M279.2 279.3V334.3M297.4 279.3V334.3M243.3 332.7H315.5M243.3 319.2H315.5M243.3 305.7H315.5M243.3 292.2H315.5" stroke="#e1e1e1" stroke-width="0.7" fill="none"/><text class="R" x="279.4" y="275.9" font-size="8.6" fill="#000">Trajectory in 1D</text><text class="S" x="261.1" y="343.4" font-size="6.9" fill="#262626">50</text><text class="S" x="279.2" y="343.4" font-size="6.9" fill="#262626">100</text><text class="S" x="297.4" y="343.4" font-size="6.9" fill="#262626">150</text><text class="S" x="315.5" y="343.4" font-size="6.9" fill="#262626">200</text><text class="S" x="241.1" y="335.5" font-size="6.9" text-anchor="end" fill="#262626">-30</text><text class="S" x="241.1" y="322" font-size="6.9" text-anchor="end" fill="#262626">-25</text><text class="S" x="241.1" y="308.5" font-size="6.9" text-anchor="end" fill="#262626">-20</text><text class="S" x="241.1" y="295" font-size="6.9" text-anchor="end" fill="#262626">-15</text><text class="R" x="279.4" y="352.4" font-size="8.6" fill="#000">Iteration</text><rect x="243.3" y="279.3" width="72.2" height="55" fill="none" stroke="#808080" stroke-width="0.8"/><path d="M243.3 307.3L244 286.8L244.8 280.1L245.1 289.5L245.5 296.3L246.2 286.3L246.6 289.5L246.9 286.8L247.7 294.9L248 288.2L248.7 289.5L249.1 297.6L249.8 284.2L250.2 279.6L250.9 292.2L251.3 327.3L251.6 324.6L252 315.2L252.4 324.6L252.9 334L253.5 321.9L254.2 312.5L254.9 311.7L255.6 316.5L256.4 319.7L257.4 318.1L259.3 317.6L315.5 317.6" stroke="#3b3bff" stroke-width="0.8" fill="none" stroke-linejoin="round"/><path d="M261.1 367.3V422.3M279.2 367.3V422.3M297.4 367.3V422.3M243.3 417H315.5M243.3 392.7H315.5M243.3 368.5H315.5" stroke="#e1e1e1" stroke-width="0.7" fill="none"/><text class="R" x="279.4" y="363.9" font-size="8.6" fill="#000">Trajectory in 1D</text><text class="S" x="261.1" y="431.4" font-size="6.9" fill="#262626">50</text><text class="S" x="279.2" y="431.4" font-size="6.9" fill="#262626">100</text><text class="S" x="297.4" y="431.4" font-size="6.9" fill="#262626">150</text><text class="S" x="315.5" y="431.4" font-size="6.9" fill="#262626">200</text><text class="S" x="241.1" y="419.8" font-size="6.9" text-anchor="end" fill="#262626">-25</text><text class="S" x="241.1" y="395.5" font-size="6.9" text-anchor="end" fill="#262626">-20</text><text class="S" x="241.1" y="371.3" font-size="6.9" text-anchor="end" fill="#262626">-15</text><text class="R" x="279.4" y="440.4" font-size="8.6" fill="#000">Iteration</text><rect x="243.3" y="367.3" width="72.2" height="55" fill="none" stroke="#808080" stroke-width="0.8"/><path d="M243.3 367.5L243.5 421.8L244 419.4L244.8 418.4L247.7 417.5L248.4 412.1L249.5 411.2L250.2 409.7L250.9 408.7L251.6 402.4L252 404.9L252.4 411.2L252.7 408.7L253.1 412.1L253.5 411.2L254.2 409.7L255.6 408.7L256.7 409.7L257.4 408.7L258.2 410.2L258.9 409.7L259.6 412.1L260 408.7L260.4 410.2L261.1 414.5L315.5 414.5" stroke="#3b3bff" stroke-width="0.8" fill="none" stroke-linejoin="round"/><path d="M261.1 455.3V510.3M279.2 455.3V510.3M297.4 455.3V510.3M243.3 500.1H315.5M243.3 485.6H315.5M243.3 471H315.5M243.3 456.5H315.5" stroke="#e1e1e1" stroke-width="0.7" fill="none"/><text class="R" x="279.4" y="451.9" font-size="8.6" fill="#000">Trajectory in 1D</text><text class="S" x="261.1" y="519.4" font-size="6.9" fill="#262626">50</text><text class="S" x="279.2" y="519.4" font-size="6.9" fill="#262626">100</text><text class="S" x="297.4" y="519.4" font-size="6.9" fill="#262626">150</text><text class="S" x="315.5" y="519.4" font-size="6.9" fill="#262626">200</text><text class="S" x="241.1" y="502.9" font-size="6.9" text-anchor="end" fill="#262626">-25</text><text class="S" x="241.1" y="488.4" font-size="6.9" text-anchor="end" fill="#262626">-20</text><text class="S" x="241.1" y="473.8" font-size="6.9" text-anchor="end" fill="#262626">-15</text><text class="S" x="241.1" y="459.3" font-size="6.9" text-anchor="end" fill="#262626">-10</text><text class="R" x="279.4" y="528.4" font-size="8.6" fill="#000">Iteration</text><rect x="243.3" y="455.3" width="72.2" height="55" fill="none" stroke="#808080" stroke-width="0.8"/><path d="M243.3 456.5L243.8 504.8L244.2 491.4L244.8 476.8L245.8 471.3L246.4 476.8L246.9 473.9L247.9 471L248.5 478.3L249.1 473.9L249.5 470.7L250.3 482.7L251 509.7L251.6 505.9L252 498.7L253 490.8L254.1 493.1L255.5 498.1L257.1 499L259.3 497.8L315.5 497.8" stroke="#3b3bff" stroke-width="0.8" fill="none" stroke-linejoin="round"/><path d="M369.2 15.3V70.3M387.3 15.3V70.3M405.4 15.3V70.3" stroke="#e1e1e1" stroke-width="0.7" fill="none"/><path d="M351.4 29.1H423.5M351.4 55.5H423.5" stroke="#ececec" stroke-width="0.6" fill="none"/><text class="R" x="387.4" y="11.9" font-size="8.6" fill="#000">Average fitness</text><text class="S" x="369.2" y="79.4" font-size="6.9" fill="#262626">50</text><text class="S" x="387.3" y="79.4" font-size="6.9" fill="#262626">100</text><text class="S" x="405.4" y="79.4" font-size="6.9" fill="#262626">150</text><text class="S" x="423.5" y="79.4" font-size="6.9" fill="#262626">200</text><text class="S" x="346.4" y="45.5" font-size="6.5" text-anchor="end" fill="#262626">10</text><text class="S" x="346.5" y="42.4" font-size="5.2" text-anchor="start" fill="#262626">5</text><text class="R" x="387.4" y="88.4" font-size="8.6" fill="#000">Iteration</text><path d="M351.4 42.1H423.5" stroke="#e1e1e1" stroke-width="0.7" fill="none"/><rect x="351.4" y="15.3" width="72.1" height="55" fill="none" stroke="#808080" stroke-width="0.8"/><path d="M351.4 15.3L353 23.6L354.3 25.8L355.1 32.9L355.7 33.5L360.8 34L368.2 34.5L368.4 57.9L372.8 58L386 58.2L386.2 65.4L391.6 65.6L398.1 66.2L405.2 66.8L405.4 70.3L423.5 70.3" stroke="#1fe9ee" stroke-width="1.05" fill="none" stroke-linejoin="round"/><path d="M365.3 103.3V158.3M379.9 103.3V158.3M394.5 103.3V158.3M409.2 103.3V158.3" stroke="#e1e1e1" stroke-width="0.7" fill="none"/><path d="M351.4 114.3H423.5M351.4 141.8H423.5" stroke="#ececec" stroke-width="0.6" fill="none"/><text class="R" x="387.4" y="99.9" font-size="8.6" fill="#000">Average fitness</text><text class="S" x="365.3" y="167.4" font-size="6.9" fill="#262626">20</text><text class="S" x="379.9" y="167.4" font-size="6.9" fill="#262626">40</text><text class="S" x="394.5" y="167.4" font-size="6.9" fill="#262626">60</text><text class="S" x="409.2" y="167.4" font-size="6.9" fill="#262626">80</text><text class="S" x="346.4" y="130.5" font-size="6.5" text-anchor="end" fill="#262626">10</text><text class="S" x="346.5" y="127.4" font-size="5.2" text-anchor="start" fill="#262626">0</text><text class="R" x="387.4" y="176.4" font-size="8.6" fill="#000">Iteration</text><path d="M351.4 127.1H423.5" stroke="#e1e1e1" stroke-width="0.7" fill="none"/><rect x="351.4" y="103.3" width="72.1" height="55" fill="none" stroke="#808080" stroke-width="0.8"/><path d="M351.4 103.3L353.8 105.5L355.4 107.9L357.9 108.5L360 110.6L366 111.2L378.5 111.6L386.1 112.3L386.6 153.4L388.7 153.8L394.9 154.4L402.1 155.2L404.1 157.3L406.2 157.8L423.5 157.8" stroke="#1fe9ee" stroke-width="1.05" fill="none" stroke-linejoin="round"/><path d="M369.2 191.3V246.3M387.3 191.3V246.3M405.4 191.3V246.3" stroke="#e1e1e1" stroke-width="0.7" fill="none"/><path d="M351.4 207.8H423.5M351.4 221.6H423.5M351.4 235.3H423.5" stroke="#ececec" stroke-width="0.6" fill="none"/><text class="R" x="387.4" y="187.9" font-size="8.6" fill="#000">Average fitness</text><text class="S" x="369.2" y="255.4" font-size="6.9" fill="#262626">50</text><text class="S" x="387.3" y="255.4" font-size="6.9" fill="#262626">100</text><text class="S" x="405.4" y="255.4" font-size="6.9" fill="#262626">150</text><text class="S" x="423.5" y="255.4" font-size="6.9" fill="#262626">200</text><text class="S" x="346.4" y="249.7" font-size="6.5" text-anchor="end" fill="#262626">10</text><text class="S" x="346.5" y="246.6" font-size="5.2" text-anchor="start" fill="#262626">0</text><text class="R" x="387.4" y="264.4" font-size="8.6" fill="#000">Iteration</text><rect x="351.4" y="191.3" width="72.1" height="55" fill="none" stroke="#808080" stroke-width="0.8"/><path d="M351.4 191.3L353.6 199.7L355.1 205.9L356.7 210L358.8 212.5L360.9 214.1L361.9 218.2L363.9 220.3L366 221.3L368.1 222.3L368.5 226.5L368.7 246.3L423.5 246.3" stroke="#1fe9ee" stroke-width="1.05" fill="none" stroke-linejoin="round"/><path d="M360.7 279.3V334.3M380.3 279.3V334.3M400 279.3V334.3M419.6 279.3V334.3" stroke="#e1e1e1" stroke-width="0.7" fill="none"/><path d="M351.4 309.6H423.5M351.4 327.7H423.5" stroke="#ececec" stroke-width="0.6" fill="none"/><text class="R" x="387.4" y="275.9" font-size="8.6" fill="#000">Average fitness</text><text class="S" x="360.7" y="343.4" font-size="6.9" fill="#262626">20</text><text class="S" x="380.3" y="343.4" font-size="6.9" fill="#262626">60</text><text class="S" x="400" y="343.4" font-size="6.9" fill="#262626">100</text><text class="S" x="419.6" y="343.4" font-size="6.9" fill="#262626">140</text><text class="S" x="346.4" y="294.2" font-size="6.5" text-anchor="end" fill="#262626">10</text><text class="S" x="346.5" y="291.1" font-size="5.2" text-anchor="start" fill="#262626">0</text><text class="R" x="387.4" y="352.4" font-size="8.6" fill="#000">Iteration</text><path d="M351.4 290.8H423.5" stroke="#e1e1e1" stroke-width="0.7" fill="none"/><rect x="351.4" y="279.3" width="72.1" height="55" fill="none" stroke="#808080" stroke-width="0.8"/><path d="M351.4 279.3L353.8 280.8L357.9 281.4L364.1 282.5L369.2 284.5L373.3 286L374.4 287.6L374.9 302L376.4 304.1L379.5 305.1L382.5 306.1L386.7 307.8L392.8 308.2L398 309.2L398.6 330.8L400.1 331.2L411.3 331.8L418.5 332.9L421.6 333.9L423.5 333.9" stroke="#1fe9ee" stroke-width="1.05" fill="none" stroke-linejoin="round"/><path d="M363.1 367.3V422.3M375.5 367.3V422.3M387.8 367.3V422.3M400.2 367.3V422.3M412.5 367.3V422.3" stroke="#e1e1e1" stroke-width="0.7" fill="none"/><path d="M351.4 393.2H423.5M351.4 410.2H423.5" stroke="#ececec" stroke-width="0.6" fill="none"/><text class="R" x="387.4" y="363.9" font-size="8.6" fill="#000">Average fitness</text><text class="S" x="363.1" y="431.4" font-size="6.9" fill="#262626">20</text><text class="S" x="375.5" y="431.4" font-size="6.9" fill="#262626">40</text><text class="S" x="387.8" y="431.4" font-size="6.9" fill="#262626">60</text><text class="S" x="400.2" y="431.4" font-size="6.9" fill="#262626">80</text><text class="S" x="412.5" y="431.4" font-size="6.9" fill="#262626">100</text><text class="S" x="346.4" y="380.8" font-size="6.5" text-anchor="end" fill="#262626">10</text><text class="S" x="346.5" y="377.7" font-size="5.2" text-anchor="start" fill="#262626">0</text><text class="R" x="387.4" y="440.4" font-size="8.6" fill="#000">Iteration</text><path d="M351.4 377.4H423.5" stroke="#e1e1e1" stroke-width="0.7" fill="none"/><rect x="351.4" y="367.3" width="72.1" height="55" fill="none" stroke="#808080" stroke-width="0.8"/><path d="M351.4 367.3L355.9 369.1L361 370.1L366.2 370.5L370.3 371.9L374.4 373.2L378.1 373.6L379.5 375.6L381 376.7L381.6 385.9L382.2 392.1L384.7 392.5L386.3 394.1L387.1 396.2L394.9 396.6L403.1 396.8L413 397.2L413.4 421.9L423.5 421.9" stroke="#1fe9ee" stroke-width="1.05" fill="none" stroke-linejoin="round"/><path d="M365.3 455.3V510.3M379.9 455.3V510.3M394.5 455.3V510.3M409.2 455.3V510.3" stroke="#e1e1e1" stroke-width="0.7" fill="none"/><path d="M351.4 494.9H423.5" stroke="#ececec" stroke-width="0.6" fill="none"/><text class="R" x="387.4" y="451.9" font-size="8.6" fill="#000">Average fitness</text><text class="S" x="365.3" y="519.4" font-size="6.9" fill="#262626">20</text><text class="S" x="379.9" y="519.4" font-size="6.9" fill="#262626">40</text><text class="S" x="394.5" y="519.4" font-size="6.9" fill="#262626">60</text><text class="S" x="409.2" y="519.4" font-size="6.9" fill="#262626">80</text><text class="S" x="346.4" y="472.9" font-size="6.5" text-anchor="end" fill="#262626">10</text><text class="S" x="346.5" y="469.8" font-size="5.2" text-anchor="start" fill="#262626">0</text><text class="R" x="387.4" y="528.4" font-size="8.6" fill="#000">Iteration</text><path d="M351.4 469.5H423.5" stroke="#e1e1e1" stroke-width="0.7" fill="none"/><rect x="351.4" y="455.3" width="72.1" height="55" fill="none" stroke="#808080" stroke-width="0.8"/><path d="M351.4 455.3L352.8 457.4L354.8 458.5L357.9 459.1L366.1 459.9L374.4 460.4L379.5 460.7L386.3 460.7L386.6 473.9L387.3 502.7L388.7 503.7L394.9 504.7L403.1 505.4L411.4 505.8L415.5 506.2L419.6 506.8L422.6 509.9L423.5 509.9" stroke="#1fe9ee" stroke-width="1.05" fill="none" stroke-linejoin="round"/><path d="M476.3 15.3V70.3M494.5 15.3V70.3M512.7 15.3V70.3" stroke="#e1e1e1" stroke-width="0.7" fill="none"/><path d="M458.4 42.8H530.9M458.4 59.3H530.9" stroke="#ececec" stroke-width="0.6" fill="none"/><text class="R" x="494.6" y="11.9" font-size="8.6" fill="#000">Convergence curve</text><text class="S" x="476.3" y="79.4" font-size="6.9" fill="#262626">50</text><text class="S" x="494.5" y="79.4" font-size="6.9" fill="#262626">100</text><text class="S" x="512.7" y="79.4" font-size="6.9" fill="#262626">150</text><text class="S" x="530.9" y="79.4" font-size="6.9" fill="#262626">200</text><text class="S" x="453.4" y="22.9" font-size="6.5" text-anchor="end" fill="#262626">10</text><text class="S" x="453.5" y="19.8" font-size="5.2" text-anchor="start" fill="#262626">5</text><text class="R" x="494.6" y="88.4" font-size="8.6" fill="#000">Iteration</text><path d="M458.4 19.5H530.9" stroke="#e1e1e1" stroke-width="0.7" fill="none"/><rect x="458.4" y="15.3" width="72.5" height="55" fill="none" stroke="#808080" stroke-width="0.8"/><path d="M458.4 15.3L458.6 23.6L459.5 41.1L460.2 54.3L461.2 56.5L463.3 58.6L464.1 59.6L465.1 62.6L466.4 65.4L467.1 66.2L475.2 66.3L476.4 66.8L480.5 67.4L482.8 68.1L483.6 69.1L484.6 69.9L496.9 70.1L530.9 70.3" stroke="#f45050" stroke-width="1.05" fill="none" stroke-linejoin="round"/><path d="M481.7 103.3V158.3M506.3 103.3V158.3" stroke="#e1e1e1" stroke-width="0.7" fill="none"/><path d="M458.4 128.1H530.9M458.4 147.3H530.9" stroke="#ececec" stroke-width="0.6" fill="none"/><text class="R" x="494.6" y="99.9" font-size="8.6" fill="#000">Convergence curve</text><text class="S" x="481.7" y="167.4" font-size="6.9" fill="#262626">20</text><text class="S" x="506.3" y="167.4" font-size="6.9" fill="#262626">40</text><text class="S" x="530.9" y="167.4" font-size="6.9" fill="#262626">60</text><text class="S" x="453.4" y="114.9" font-size="6.5" text-anchor="end" fill="#262626">10</text><text class="S" x="453.5" y="111.8" font-size="5.2" text-anchor="start" fill="#262626">0</text><text class="R" x="494.6" y="176.4" font-size="8.6" fill="#000">Iteration</text><path d="M458.4 111.5H530.9" stroke="#e1e1e1" stroke-width="0.7" fill="none"/><rect x="458.4" y="103.3" width="72.5" height="55" fill="none" stroke="#808080" stroke-width="0.8"/><path d="M458.4 103.6L461.3 104.1L466.3 104.6L470.2 106.2L472.2 106.6L473.1 108.6L475.1 112.5L478.1 115.5L483 115.8L484.6 117.4L486.9 120.3L492.8 121.3L495.8 126.2L498.7 131.1L501.7 137L503.6 141L505.6 141.9L508.5 146.9L510.5 149.8L513.5 153.7L517.4 154.7L524.3 155.7L529.1 156.7L530.9 156.9" stroke="#f45050" stroke-width="1.05" fill="none" stroke-linejoin="round"/><path d="M476.3 191.3V246.3M494.5 191.3V246.3M512.7 191.3V246.3M458.4 215.4H530.9M458.4 193.5H530.9" stroke="#e1e1e1" stroke-width="0.7" fill="none"/><path d="M458.4 239H530.9M458.4 232.4H530.9M458.4 226.3H530.9M458.4 220.7H530.9M458.4 210.5H530.9M458.4 205.9H530.9M458.4 201.6H530.9M458.4 197.5H530.9" stroke="#ececec" stroke-width="0.6" fill="none"/><text class="R" x="494.6" y="187.9" font-size="8.6" fill="#000">Convergence curve</text><text class="S" x="476.3" y="255.4" font-size="6.9" fill="#262626">50</text><text class="S" x="494.5" y="255.4" font-size="6.9" fill="#262626">100</text><text class="S" x="512.7" y="255.4" font-size="6.9" fill="#262626">150</text><text class="S" x="530.9" y="255.4" font-size="6.9" fill="#262626">200</text><text class="S" x="456.2" y="249.1" font-size="6.9" text-anchor="end" fill="#262626">1</text><text class="S" x="456.2" y="218.2" font-size="6.9" text-anchor="end" fill="#262626">1.5</text><text class="S" x="456.2" y="196.3" font-size="6.9" text-anchor="end" fill="#262626">2</text><text class="R" x="494.6" y="264.4" font-size="8.6" fill="#000">Iteration</text><rect x="458.4" y="191.3" width="72.5" height="55" fill="none" stroke="#808080" stroke-width="0.8"/><path d="M458.4 191.3L458.7 246.3L530.9 246.3" stroke="#f45050" stroke-width="0.9" fill="none" stroke-linejoin="round"/><path d="M474.2 279.3V334.3M490.9 279.3V334.3M507.6 279.3V334.3M524.2 279.3V334.3" stroke="#e1e1e1" stroke-width="0.7" fill="none"/><path d="M458.4 301.3H530.9M458.4 320.6H530.9" stroke="#ececec" stroke-width="0.6" fill="none"/><text class="R" x="494.6" y="275.9" font-size="8.6" fill="#000">Convergence curve</text><text class="S" x="474.2" y="343.4" font-size="6.9" fill="#262626">20</text><text class="S" x="490.9" y="343.4" font-size="6.9" fill="#262626">40</text><text class="S" x="507.6" y="343.4" font-size="6.9" fill="#262626">60</text><text class="S" x="524.2" y="343.4" font-size="6.9" fill="#262626">80</text><text class="S" x="453.4" y="285" font-size="6.5" text-anchor="end" fill="#262626">10</text><text class="S" x="453.5" y="281.9" font-size="5.2" text-anchor="start" fill="#262626">0</text><text class="R" x="494.6" y="352.4" font-size="8.6" fill="#000">Iteration</text><path d="M458.4 281.6H530.9" stroke="#e1e1e1" stroke-width="0.7" fill="none"/><rect x="458.4" y="279.3" width="72.5" height="55" fill="none" stroke="#808080" stroke-width="0.8"/><path d="M458.4 279.6L461.4 280.6L463.4 281.6L465.3 282.6L469.2 283.6L475.1 284L481.1 284.6L486.9 285.5L487.9 286.5L488.9 292.4L490.8 297.3L492.8 300.3L494.7 306.1L496.7 309.1L498.6 311L502.6 313L510.5 313L511.5 316L512.4 319.9L514.4 323.9L516.4 327.8L524.2 328.7L527.1 329.7L529.1 330.7L530.9 333.6" stroke="#f45050" stroke-width="1.05" fill="none" stroke-linejoin="round"/><path d="M472.9 367.3V422.3M488.2 367.3V422.3M503.4 367.3V422.3M518.7 367.3V422.3" stroke="#e1e1e1" stroke-width="0.7" fill="none"/><path d="M458.4 392.1H530.9M458.4 411.3H530.9" stroke="#ececec" stroke-width="0.6" fill="none"/><text class="R" x="494.6" y="363.9" font-size="8.6" fill="#000">Convergence curve</text><text class="S" x="472.9" y="431.4" font-size="6.9" fill="#262626">20</text><text class="S" x="488.2" y="431.4" font-size="6.9" fill="#262626">40</text><text class="S" x="503.4" y="431.4" font-size="6.9" fill="#262626">60</text><text class="S" x="518.7" y="431.4" font-size="6.9" fill="#262626">80</text><text class="S" x="453.4" y="374.4" font-size="6.5" text-anchor="end" fill="#262626">10</text><text class="S" x="453.5" y="371.3" font-size="5.2" text-anchor="start" fill="#262626">0</text><text class="R" x="494.6" y="440.4" font-size="8.6" fill="#000">Iteration</text><path d="M458.4 371H530.9" stroke="#e1e1e1" stroke-width="0.7" fill="none"/><rect x="458.4" y="367.3" width="72.5" height="55" fill="none" stroke="#808080" stroke-width="0.8"/><path d="M458.4 367.6L459.4 372.6L460.4 376.5L462.4 378.5L464.3 378.5L465.3 380.4L466.3 385.3L467.3 391.2L469.2 392.2L471.1 394.1L473.1 397.1L474.1 400L475.5 402L494.7 402L495.7 405.9L496.3 413.8L498.7 414.4L510.4 414.4L514.4 415.8L515.8 419.7L517.3 421.3L524.2 421.3L526.2 422L530.9 422.2" stroke="#f45050" stroke-width="1.05" fill="none" stroke-linejoin="round"/><path d="M472.9 455.3V510.3M488.2 455.3V510.3M503.4 455.3V510.3M518.7 455.3V510.3" stroke="#e1e1e1" stroke-width="0.7" fill="none"/><path d="M458.4 480.1H530.9M458.4 499.3H530.9" stroke="#ececec" stroke-width="0.6" fill="none"/><text class="R" x="494.6" y="451.9" font-size="8.6" fill="#000">Convergence curve</text><text class="S" x="472.9" y="519.4" font-size="6.9" fill="#262626">20</text><text class="S" x="488.2" y="519.4" font-size="6.9" fill="#262626">40</text><text class="S" x="503.4" y="519.4" font-size="6.9" fill="#262626">60</text><text class="S" x="518.7" y="519.4" font-size="6.9" fill="#262626">80</text><text class="S" x="453.4" y="462" font-size="6.5" text-anchor="end" fill="#262626">10</text><text class="S" x="453.5" y="458.9" font-size="5.2" text-anchor="start" fill="#262626">0</text><text class="R" x="494.6" y="528.4" font-size="8.6" fill="#000">Iteration</text><path d="M458.4 458.6H530.9" stroke="#e1e1e1" stroke-width="0.7" fill="none"/><rect x="458.4" y="455.3" width="72.5" height="55" fill="none" stroke="#808080" stroke-width="0.8"/><path d="M458.4 455.5L459.8 460.6L460.8 464.7L462.9 465.8L464.5 466.2L466 471.9L467.4 479.7L470.1 480.8L472.1 484.2L474.2 488.4L475.2 490.4L495.7 490.4L496.8 496.6L497.4 502.3L499.8 502.7L514.3 502.7L516.3 506.8L517.3 508.9L520.4 509.3L525.6 509.3L527.6 509.9L530.9 510.1" stroke="#f45050" stroke-width="1.05" fill="none" stroke-linejoin="round"/><text class="R" x="65.5" y="543.8" font-size="9.6" font-weight="bold" fill="#000">(a)</text><text class="R" x="175" y="543.8" font-size="9.6" font-weight="bold" fill="#000">(b)</text><text class="R" x="279.4" y="543.8" font-size="9.6" font-weight="bold" fill="#000">(c)</text><text class="R" x="387.4" y="543.8" font-size="9.6" font-weight="bold" fill="#000">(d)</text><text class="R" x="494.6" y="543.8" font-size="9.6" font-weight="bold" fill="#000">(e)</text></svg>
</body></html>
